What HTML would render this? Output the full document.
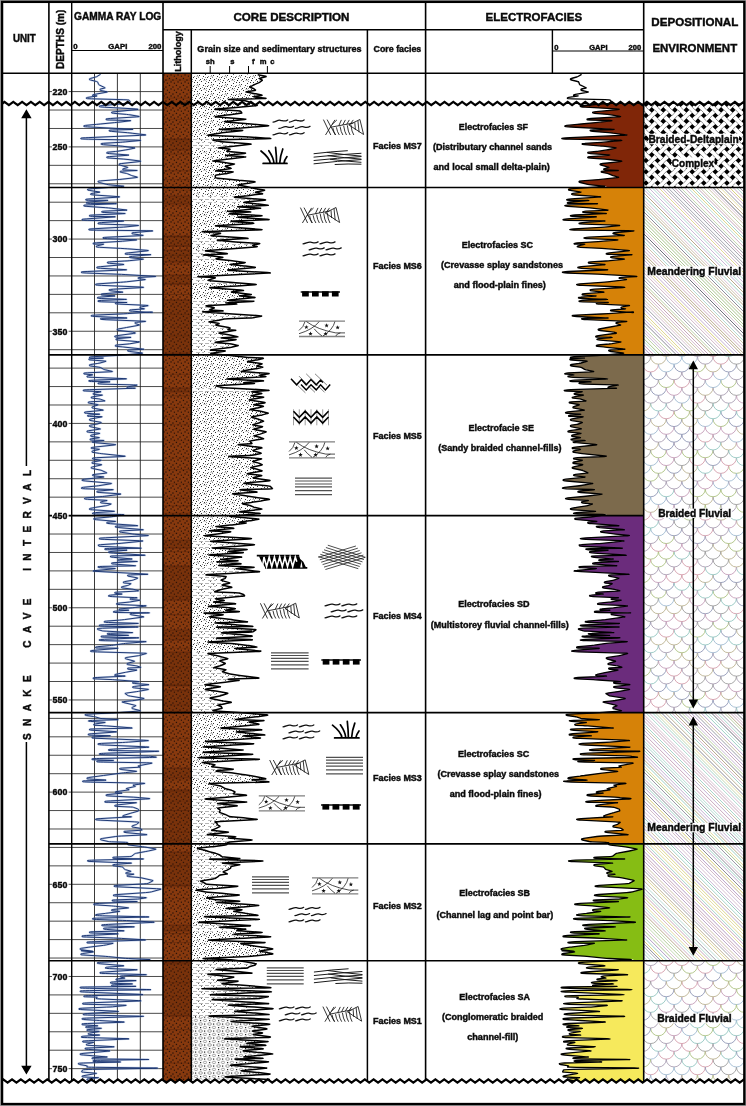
<!DOCTYPE html><html><head><meta charset="utf-8"><title>Snake Cave Interval log</title>
<style>html,body{margin:0;padding:0;background:#fff}svg{display:block}text{font-family:"Liberation Sans",Arial,sans-serif;font-weight:bold;fill:#0a0a0a;stroke:#0a0a0a;stroke-width:0.42px}</style></head><body>
<svg width="746" height="1106" viewBox="0 0 746 1106">
<defs>
<pattern id="stip" width="14" height="9" patternUnits="userSpaceOnUse"><rect width="14" height="9" fill="#fff"/><rect x="1" y="1" width="1" height="1" fill="#303030"/><rect x="5" y="0" width="1" height="1" fill="#303030"/><rect x="9" y="2" width="1" height="1" fill="#303030"/><rect x="12" y="1" width="1" height="1" fill="#303030"/><rect x="3" y="3" width="1" height="1" fill="#303030"/><rect x="7" y="4" width="1" height="1" fill="#303030"/><rect x="11" y="5" width="1" height="1" fill="#303030"/><rect x="0" y="6" width="1" height="1" fill="#303030"/><rect x="4" y="7" width="1" height="1" fill="#303030"/><rect x="8" y="7" width="1" height="1" fill="#303030"/><rect x="13" y="8" width="1" height="1" fill="#303030"/><rect x="2" y="5" width="1" height="1" fill="#8c8c8c"/><rect x="10" y="0" width="1" height="1" fill="#8c8c8c"/><rect x="6" y="6" width="1" height="1" fill="#8c8c8c"/><rect x="12" y="4" width="1" height="1" fill="#8c8c8c"/><rect x="3" y="8" width="1" height="1" fill="#8c8c8c"/><rect x="9" y="5" width="1" height="1" fill="#8c8c8c"/><rect x="1" y="3" width="1" height="1" fill="#8c8c8c"/><rect x="10" y="7" width="1" height="1" fill="#8c8c8c"/><rect x="0" y="4" width="3" height="1" fill="#cfcfcf"/><rect x="7" y="8" width="3" height="1" fill="#cfcfcf"/></pattern>
<pattern id="shale" width="12" height="6" patternUnits="userSpaceOnUse"><rect width="12" height="6" fill="#fff"/><rect x="1" y="1" width="4" height="1" fill="#b4b4b4"/><rect x="7" y="1" width="4" height="1" fill="#b4b4b4"/><rect x="4" y="4" width="4" height="1" fill="#bdbdbd"/><rect x="10" y="4" width="4" height="1" fill="#bdbdbd"/><rect x="0" y="3" width="1" height="1" fill="#666"/><rect x="6" y="5" width="1" height="1" fill="#666"/><rect x="9" y="2" width="1" height="1" fill="#666"/></pattern>
<pattern id="congl" width="9" height="7" patternUnits="userSpaceOnUse"><rect width="9" height="7" fill="#fbfbfb"/><ellipse cx="2.6" cy="2" rx="1.9" ry="1.3" fill="none" stroke="#666" stroke-width="0.6"/><rect x="6" y="1.5" width="1.2" height="1.2" fill="#222"/><ellipse cx="7" cy="5.4" rx="1.7" ry="1.2" fill="none" stroke="#777" stroke-width="0.6"/><rect x="2" y="5" width="1.2" height="1.2" fill="#222"/></pattern>
<pattern id="lith" width="7" height="7" patternUnits="userSpaceOnUse"><rect width="7" height="7" fill="#87390e"/><rect x="0.8" y="0.8" width="1.3" height="1.3" fill="#2a1208"/><rect x="4.3" y="2.4" width="1.3" height="1.3" fill="#2a1208"/><rect x="2.4" y="4.3" width="1.3" height="1.3" fill="#2a1208"/><rect x="5.8" y="5.6" width="1.2" height="1.2" fill="#2a1208"/></pattern>
</defs>
<rect x="0" y="0" width="746" height="1106" fill="#fff"/>
<rect x="0.5" y="0.5" width="745" height="1105" fill="none" stroke="#9a9a9a" stroke-width="1"/>
<clipPath id="cw"><rect x="643.70" y="103.50" width="100.60" height="84.00"/></clipPath>
<g clip-path="url(#cw)"><path d="M637.31 93.04 L640.19 90.22 M640.19 95.86 L643.07 93.04 M637.31 104.28 L640.19 101.46 M640.19 107.10 L643.07 104.28 M643.09 98.66 L645.97 101.48 M645.97 95.84 L648.85 98.66 M648.87 93.04 L651.75 90.22 M651.75 95.86 L654.63 93.04 M637.31 115.52 L640.19 112.70 M640.19 118.34 L643.07 115.52 M643.09 109.90 L645.97 112.72 M645.97 107.08 L648.85 109.90 M648.87 104.28 L651.75 101.46 M651.75 107.10 L654.63 104.28 M654.65 98.66 L657.53 101.48 M657.53 95.84 L660.41 98.66 M660.43 93.04 L663.31 90.22 M663.31 95.86 L666.19 93.04 M637.31 126.76 L640.19 123.94 M640.19 129.58 L643.07 126.76 M643.09 121.14 L645.97 123.96 M645.97 118.32 L648.85 121.14 M648.87 115.52 L651.75 112.70 M651.75 118.34 L654.63 115.52 M654.65 109.90 L657.53 112.72 M657.53 107.08 L660.41 109.90 M660.43 104.28 L663.31 101.46 M663.31 107.10 L666.19 104.28 M666.21 98.66 L669.09 101.48 M669.09 95.84 L671.97 98.66 M671.99 93.04 L674.87 90.22 M674.87 95.86 L677.75 93.04 M637.31 138.00 L640.19 135.18 M640.19 140.82 L643.07 138.00 M643.09 132.38 L645.97 135.20 M645.97 129.56 L648.85 132.38 M648.87 126.76 L651.75 123.94 M651.75 129.58 L654.63 126.76 M654.65 121.14 L657.53 123.96 M657.53 118.32 L660.41 121.14 M660.43 115.52 L663.31 112.70 M663.31 118.34 L666.19 115.52 M666.21 109.90 L669.09 112.72 M669.09 107.08 L671.97 109.90 M671.99 104.28 L674.87 101.46 M674.87 107.10 L677.75 104.28 M677.77 98.66 L680.65 101.48 M680.65 95.84 L683.53 98.66 M683.55 93.04 L686.43 90.22 M686.43 95.86 L689.31 93.04 M637.31 149.24 L640.19 146.42 M640.19 152.06 L643.07 149.24 M643.09 143.62 L645.97 146.44 M645.97 140.80 L648.85 143.62 M648.87 138.00 L651.75 135.18 M651.75 140.82 L654.63 138.00 M654.65 132.38 L657.53 135.20 M657.53 129.56 L660.41 132.38 M660.43 126.76 L663.31 123.94 M663.31 129.58 L666.19 126.76 M666.21 121.14 L669.09 123.96 M669.09 118.32 L671.97 121.14 M671.99 115.52 L674.87 112.70 M674.87 118.34 L677.75 115.52 M677.77 109.90 L680.65 112.72 M680.65 107.08 L683.53 109.90 M683.55 104.28 L686.43 101.46 M686.43 107.10 L689.31 104.28 M689.33 98.66 L692.21 101.48 M692.21 95.84 L695.09 98.66 M695.11 93.04 L697.99 90.22 M697.99 95.86 L700.87 93.04 M637.31 160.48 L640.19 157.66 M640.19 163.30 L643.07 160.48 M643.09 154.86 L645.97 157.68 M645.97 152.04 L648.85 154.86 M648.87 149.24 L651.75 146.42 M651.75 152.06 L654.63 149.24 M654.65 143.62 L657.53 146.44 M657.53 140.80 L660.41 143.62 M660.43 138.00 L663.31 135.18 M663.31 140.82 L666.19 138.00 M666.21 132.38 L669.09 135.20 M669.09 129.56 L671.97 132.38 M671.99 126.76 L674.87 123.94 M674.87 129.58 L677.75 126.76 M677.77 121.14 L680.65 123.96 M680.65 118.32 L683.53 121.14 M683.55 115.52 L686.43 112.70 M686.43 118.34 L689.31 115.52 M689.33 109.90 L692.21 112.72 M692.21 107.08 L695.09 109.90 M695.11 104.28 L697.99 101.46 M697.99 107.10 L700.87 104.28 M700.89 98.66 L703.77 101.48 M703.77 95.84 L706.65 98.66 M706.67 93.04 L709.55 90.22 M709.55 95.86 L712.43 93.04 M637.31 171.72 L640.19 168.90 M640.19 174.54 L643.07 171.72 M643.09 166.10 L645.97 168.92 M645.97 163.28 L648.85 166.10 M648.87 160.48 L651.75 157.66 M651.75 163.30 L654.63 160.48 M654.65 154.86 L657.53 157.68 M657.53 152.04 L660.41 154.86 M660.43 149.24 L663.31 146.42 M663.31 152.06 L666.19 149.24 M666.21 143.62 L669.09 146.44 M669.09 140.80 L671.97 143.62 M671.99 138.00 L674.87 135.18 M674.87 140.82 L677.75 138.00 M677.77 132.38 L680.65 135.20 M680.65 129.56 L683.53 132.38 M683.55 126.76 L686.43 123.94 M686.43 129.58 L689.31 126.76 M689.33 121.14 L692.21 123.96 M692.21 118.32 L695.09 121.14 M695.11 115.52 L697.99 112.70 M697.99 118.34 L700.87 115.52 M700.89 109.90 L703.77 112.72 M703.77 107.08 L706.65 109.90 M706.67 104.28 L709.55 101.46 M709.55 107.10 L712.43 104.28 M712.45 98.66 L715.33 101.48 M715.33 95.84 L718.21 98.66 M718.23 93.04 L721.11 90.22 M721.11 95.86 L723.99 93.04 M637.31 182.96 L640.19 180.14 M640.19 185.78 L643.07 182.96 M643.09 177.34 L645.97 180.16 M645.97 174.52 L648.85 177.34 M648.87 171.72 L651.75 168.90 M651.75 174.54 L654.63 171.72 M654.65 166.10 L657.53 168.92 M657.53 163.28 L660.41 166.10 M660.43 160.48 L663.31 157.66 M663.31 163.30 L666.19 160.48 M666.21 154.86 L669.09 157.68 M669.09 152.04 L671.97 154.86 M671.99 149.24 L674.87 146.42 M674.87 152.06 L677.75 149.24 M677.77 143.62 L680.65 146.44 M680.65 140.80 L683.53 143.62 M683.55 138.00 L686.43 135.18 M686.43 140.82 L689.31 138.00 M689.33 132.38 L692.21 135.20 M692.21 129.56 L695.09 132.38 M695.11 126.76 L697.99 123.94 M697.99 129.58 L700.87 126.76 M700.89 121.14 L703.77 123.96 M703.77 118.32 L706.65 121.14 M706.67 115.52 L709.55 112.70 M709.55 118.34 L712.43 115.52 M712.45 109.90 L715.33 112.72 M715.33 107.08 L718.21 109.90 M718.23 104.28 L721.11 101.46 M721.11 107.10 L723.99 104.28 M724.01 98.66 L726.89 101.48 M726.89 95.84 L729.77 98.66 M729.79 93.04 L732.67 90.22 M732.67 95.86 L735.55 93.04 M637.31 194.20 L640.19 191.38 M640.19 197.02 L643.07 194.20 M643.09 188.58 L645.97 191.40 M645.97 185.76 L648.85 188.58 M648.87 182.96 L651.75 180.14 M651.75 185.78 L654.63 182.96 M654.65 177.34 L657.53 180.16 M657.53 174.52 L660.41 177.34 M660.43 171.72 L663.31 168.90 M663.31 174.54 L666.19 171.72 M666.21 166.10 L669.09 168.92 M669.09 163.28 L671.97 166.10 M671.99 160.48 L674.87 157.66 M674.87 163.30 L677.75 160.48 M677.77 154.86 L680.65 157.68 M680.65 152.04 L683.53 154.86 M683.55 149.24 L686.43 146.42 M686.43 152.06 L689.31 149.24 M689.33 143.62 L692.21 146.44 M692.21 140.80 L695.09 143.62 M695.11 138.00 L697.99 135.18 M697.99 140.82 L700.87 138.00 M700.89 132.38 L703.77 135.20 M703.77 129.56 L706.65 132.38 M706.67 126.76 L709.55 123.94 M709.55 129.58 L712.43 126.76 M712.45 121.14 L715.33 123.96 M715.33 118.32 L718.21 121.14 M718.23 115.52 L721.11 112.70 M721.11 118.34 L723.99 115.52 M724.01 109.90 L726.89 112.72 M726.89 107.08 L729.77 109.90 M729.79 104.28 L732.67 101.46 M732.67 107.10 L735.55 104.28 M735.57 98.66 L738.45 101.48 M738.45 95.84 L741.33 98.66 M741.35 93.04 L744.23 90.22 M744.23 95.86 L747.11 93.04 M643.09 199.82 L645.97 202.64 M645.97 197.00 L648.85 199.82 M648.87 194.20 L651.75 191.38 M651.75 197.02 L654.63 194.20 M654.65 188.58 L657.53 191.40 M657.53 185.76 L660.41 188.58 M660.43 182.96 L663.31 180.14 M663.31 185.78 L666.19 182.96 M666.21 177.34 L669.09 180.16 M669.09 174.52 L671.97 177.34 M671.99 171.72 L674.87 168.90 M674.87 174.54 L677.75 171.72 M677.77 166.10 L680.65 168.92 M680.65 163.28 L683.53 166.10 M683.55 160.48 L686.43 157.66 M686.43 163.30 L689.31 160.48 M689.33 154.86 L692.21 157.68 M692.21 152.04 L695.09 154.86 M695.11 149.24 L697.99 146.42 M697.99 152.06 L700.87 149.24 M700.89 143.62 L703.77 146.44 M703.77 140.80 L706.65 143.62 M706.67 138.00 L709.55 135.18 M709.55 140.82 L712.43 138.00 M712.45 132.38 L715.33 135.20 M715.33 129.56 L718.21 132.38 M718.23 126.76 L721.11 123.94 M721.11 129.58 L723.99 126.76 M724.01 121.14 L726.89 123.96 M726.89 118.32 L729.77 121.14 M729.79 115.52 L732.67 112.70 M732.67 118.34 L735.55 115.52 M735.57 109.90 L738.45 112.72 M738.45 107.08 L741.33 109.90 M741.35 104.28 L744.23 101.46 M744.23 107.10 L747.11 104.28 M747.13 98.66 L750.01 101.48 M750.01 95.84 L752.89 98.66 M752.91 93.04 L755.79 90.22 M755.79 95.86 L758.67 93.04 M654.65 199.82 L657.53 202.64 M657.53 197.00 L660.41 199.82 M660.43 194.20 L663.31 191.38 M663.31 197.02 L666.19 194.20 M666.21 188.58 L669.09 191.40 M669.09 185.76 L671.97 188.58 M671.99 182.96 L674.87 180.14 M674.87 185.78 L677.75 182.96 M677.77 177.34 L680.65 180.16 M680.65 174.52 L683.53 177.34 M683.55 171.72 L686.43 168.90 M686.43 174.54 L689.31 171.72 M689.33 166.10 L692.21 168.92 M692.21 163.28 L695.09 166.10 M695.11 160.48 L697.99 157.66 M697.99 163.30 L700.87 160.48 M700.89 154.86 L703.77 157.68 M703.77 152.04 L706.65 154.86 M706.67 149.24 L709.55 146.42 M709.55 152.06 L712.43 149.24 M712.45 143.62 L715.33 146.44 M715.33 140.80 L718.21 143.62 M718.23 138.00 L721.11 135.18 M721.11 140.82 L723.99 138.00 M724.01 132.38 L726.89 135.20 M726.89 129.56 L729.77 132.38 M729.79 126.76 L732.67 123.94 M732.67 129.58 L735.55 126.76 M735.57 121.14 L738.45 123.96 M738.45 118.32 L741.33 121.14 M741.35 115.52 L744.23 112.70 M744.23 118.34 L747.11 115.52 M747.13 109.90 L750.01 112.72 M750.01 107.08 L752.89 109.90 M752.91 104.28 L755.79 101.46 M755.79 107.10 L758.67 104.28 M666.21 199.82 L669.09 202.64 M669.09 197.00 L671.97 199.82 M671.99 194.20 L674.87 191.38 M674.87 197.02 L677.75 194.20 M677.77 188.58 L680.65 191.40 M680.65 185.76 L683.53 188.58 M683.55 182.96 L686.43 180.14 M686.43 185.78 L689.31 182.96 M689.33 177.34 L692.21 180.16 M692.21 174.52 L695.09 177.34 M695.11 171.72 L697.99 168.90 M697.99 174.54 L700.87 171.72 M700.89 166.10 L703.77 168.92 M703.77 163.28 L706.65 166.10 M706.67 160.48 L709.55 157.66 M709.55 163.30 L712.43 160.48 M712.45 154.86 L715.33 157.68 M715.33 152.04 L718.21 154.86 M718.23 149.24 L721.11 146.42 M721.11 152.06 L723.99 149.24 M724.01 143.62 L726.89 146.44 M726.89 140.80 L729.77 143.62 M729.79 138.00 L732.67 135.18 M732.67 140.82 L735.55 138.00 M735.57 132.38 L738.45 135.20 M738.45 129.56 L741.33 132.38 M741.35 126.76 L744.23 123.94 M744.23 129.58 L747.11 126.76 M747.13 121.14 L750.01 123.96 M750.01 118.32 L752.89 121.14 M752.91 115.52 L755.79 112.70 M755.79 118.34 L758.67 115.52 M677.77 199.82 L680.65 202.64 M680.65 197.00 L683.53 199.82 M683.55 194.20 L686.43 191.38 M686.43 197.02 L689.31 194.20 M689.33 188.58 L692.21 191.40 M692.21 185.76 L695.09 188.58 M695.11 182.96 L697.99 180.14 M697.99 185.78 L700.87 182.96 M700.89 177.34 L703.77 180.16 M703.77 174.52 L706.65 177.34 M706.67 171.72 L709.55 168.90 M709.55 174.54 L712.43 171.72 M712.45 166.10 L715.33 168.92 M715.33 163.28 L718.21 166.10 M718.23 160.48 L721.11 157.66 M721.11 163.30 L723.99 160.48 M724.01 154.86 L726.89 157.68 M726.89 152.04 L729.77 154.86 M729.79 149.24 L732.67 146.42 M732.67 152.06 L735.55 149.24 M735.57 143.62 L738.45 146.44 M738.45 140.80 L741.33 143.62 M741.35 138.00 L744.23 135.18 M744.23 140.82 L747.11 138.00 M747.13 132.38 L750.01 135.20 M750.01 129.56 L752.89 132.38 M752.91 126.76 L755.79 123.94 M755.79 129.58 L758.67 126.76 M689.33 199.82 L692.21 202.64 M692.21 197.00 L695.09 199.82 M695.11 194.20 L697.99 191.38 M697.99 197.02 L700.87 194.20 M700.89 188.58 L703.77 191.40 M703.77 185.76 L706.65 188.58 M706.67 182.96 L709.55 180.14 M709.55 185.78 L712.43 182.96 M712.45 177.34 L715.33 180.16 M715.33 174.52 L718.21 177.34 M718.23 171.72 L721.11 168.90 M721.11 174.54 L723.99 171.72 M724.01 166.10 L726.89 168.92 M726.89 163.28 L729.77 166.10 M729.79 160.48 L732.67 157.66 M732.67 163.30 L735.55 160.48 M735.57 154.86 L738.45 157.68 M738.45 152.04 L741.33 154.86 M741.35 149.24 L744.23 146.42 M744.23 152.06 L747.11 149.24 M747.13 143.62 L750.01 146.44 M750.01 140.80 L752.89 143.62 M752.91 138.00 L755.79 135.18 M755.79 140.82 L758.67 138.00 M700.89 199.82 L703.77 202.64 M703.77 197.00 L706.65 199.82 M706.67 194.20 L709.55 191.38 M709.55 197.02 L712.43 194.20 M712.45 188.58 L715.33 191.40 M715.33 185.76 L718.21 188.58 M718.23 182.96 L721.11 180.14 M721.11 185.78 L723.99 182.96 M724.01 177.34 L726.89 180.16 M726.89 174.52 L729.77 177.34 M729.79 171.72 L732.67 168.90 M732.67 174.54 L735.55 171.72 M735.57 166.10 L738.45 168.92 M738.45 163.28 L741.33 166.10 M741.35 160.48 L744.23 157.66 M744.23 163.30 L747.11 160.48 M747.13 154.86 L750.01 157.68 M750.01 152.04 L752.89 154.86 M752.91 149.24 L755.79 146.42 M755.79 152.06 L758.67 149.24 M712.45 199.82 L715.33 202.64 M715.33 197.00 L718.21 199.82 M718.23 194.20 L721.11 191.38 M721.11 197.02 L723.99 194.20 M724.01 188.58 L726.89 191.40 M726.89 185.76 L729.77 188.58 M729.79 182.96 L732.67 180.14 M732.67 185.78 L735.55 182.96 M735.57 177.34 L738.45 180.16 M738.45 174.52 L741.33 177.34 M741.35 171.72 L744.23 168.90 M744.23 174.54 L747.11 171.72 M747.13 166.10 L750.01 168.92 M750.01 163.28 L752.89 166.10 M752.91 160.48 L755.79 157.66 M755.79 163.30 L758.67 160.48 M724.01 199.82 L726.89 202.64 M726.89 197.00 L729.77 199.82 M729.79 194.20 L732.67 191.38 M732.67 197.02 L735.55 194.20 M735.57 188.58 L738.45 191.40 M738.45 185.76 L741.33 188.58 M741.35 182.96 L744.23 180.14 M744.23 185.78 L747.11 182.96 M747.13 177.34 L750.01 180.16 M750.01 174.52 L752.89 177.34 M752.91 171.72 L755.79 168.90 M755.79 174.54 L758.67 171.72 M735.57 199.82 L738.45 202.64 M738.45 197.00 L741.33 199.82 M741.35 194.20 L744.23 191.38 M744.23 197.02 L747.11 194.20 M747.13 188.58 L750.01 191.40 M750.01 185.76 L752.89 188.58 M752.91 182.96 L755.79 180.14 M755.79 185.78 L758.67 182.96 M747.13 199.82 L750.01 202.64 M750.01 197.00 L752.89 199.82 M752.91 194.20 L755.79 191.38 M755.79 197.02 L758.67 194.20" stroke="#444" stroke-width="0.6" fill="none"/><path d="M631.51 93.04 L634.41 90.24 L637.31 93.04 L634.41 95.84Z M631.51 104.28 L634.41 101.48 L637.31 104.28 L634.41 107.08Z M637.29 98.66 L640.19 95.86 L643.09 98.66 L640.19 101.46Z M643.07 93.04 L645.97 90.24 L648.87 93.04 L645.97 95.84Z M631.51 115.52 L634.41 112.72 L637.31 115.52 L634.41 118.32Z M637.29 109.90 L640.19 107.10 L643.09 109.90 L640.19 112.70Z M643.07 104.28 L645.97 101.48 L648.87 104.28 L645.97 107.08Z M648.85 98.66 L651.75 95.86 L654.65 98.66 L651.75 101.46Z M654.63 93.04 L657.53 90.24 L660.43 93.04 L657.53 95.84Z M631.51 126.76 L634.41 123.96 L637.31 126.76 L634.41 129.56Z M637.29 121.14 L640.19 118.34 L643.09 121.14 L640.19 123.94Z M643.07 115.52 L645.97 112.72 L648.87 115.52 L645.97 118.32Z M648.85 109.90 L651.75 107.10 L654.65 109.90 L651.75 112.70Z M654.63 104.28 L657.53 101.48 L660.43 104.28 L657.53 107.08Z M660.41 98.66 L663.31 95.86 L666.21 98.66 L663.31 101.46Z M666.19 93.04 L669.09 90.24 L671.99 93.04 L669.09 95.84Z M631.51 138.00 L634.41 135.20 L637.31 138.00 L634.41 140.80Z M637.29 132.38 L640.19 129.58 L643.09 132.38 L640.19 135.18Z M643.07 126.76 L645.97 123.96 L648.87 126.76 L645.97 129.56Z M648.85 121.14 L651.75 118.34 L654.65 121.14 L651.75 123.94Z M654.63 115.52 L657.53 112.72 L660.43 115.52 L657.53 118.32Z M660.41 109.90 L663.31 107.10 L666.21 109.90 L663.31 112.70Z M666.19 104.28 L669.09 101.48 L671.99 104.28 L669.09 107.08Z M671.97 98.66 L674.87 95.86 L677.77 98.66 L674.87 101.46Z M677.75 93.04 L680.65 90.24 L683.55 93.04 L680.65 95.84Z M631.51 149.24 L634.41 146.44 L637.31 149.24 L634.41 152.04Z M637.29 143.62 L640.19 140.82 L643.09 143.62 L640.19 146.42Z M643.07 138.00 L645.97 135.20 L648.87 138.00 L645.97 140.80Z M648.85 132.38 L651.75 129.58 L654.65 132.38 L651.75 135.18Z M654.63 126.76 L657.53 123.96 L660.43 126.76 L657.53 129.56Z M660.41 121.14 L663.31 118.34 L666.21 121.14 L663.31 123.94Z M666.19 115.52 L669.09 112.72 L671.99 115.52 L669.09 118.32Z M671.97 109.90 L674.87 107.10 L677.77 109.90 L674.87 112.70Z M677.75 104.28 L680.65 101.48 L683.55 104.28 L680.65 107.08Z M683.53 98.66 L686.43 95.86 L689.33 98.66 L686.43 101.46Z M689.31 93.04 L692.21 90.24 L695.11 93.04 L692.21 95.84Z M631.51 160.48 L634.41 157.68 L637.31 160.48 L634.41 163.28Z M637.29 154.86 L640.19 152.06 L643.09 154.86 L640.19 157.66Z M643.07 149.24 L645.97 146.44 L648.87 149.24 L645.97 152.04Z M648.85 143.62 L651.75 140.82 L654.65 143.62 L651.75 146.42Z M654.63 138.00 L657.53 135.20 L660.43 138.00 L657.53 140.80Z M660.41 132.38 L663.31 129.58 L666.21 132.38 L663.31 135.18Z M666.19 126.76 L669.09 123.96 L671.99 126.76 L669.09 129.56Z M671.97 121.14 L674.87 118.34 L677.77 121.14 L674.87 123.94Z M677.75 115.52 L680.65 112.72 L683.55 115.52 L680.65 118.32Z M683.53 109.90 L686.43 107.10 L689.33 109.90 L686.43 112.70Z M689.31 104.28 L692.21 101.48 L695.11 104.28 L692.21 107.08Z M695.09 98.66 L697.99 95.86 L700.89 98.66 L697.99 101.46Z M700.87 93.04 L703.77 90.24 L706.67 93.04 L703.77 95.84Z M631.51 171.72 L634.41 168.92 L637.31 171.72 L634.41 174.52Z M637.29 166.10 L640.19 163.30 L643.09 166.10 L640.19 168.90Z M643.07 160.48 L645.97 157.68 L648.87 160.48 L645.97 163.28Z M648.85 154.86 L651.75 152.06 L654.65 154.86 L651.75 157.66Z M654.63 149.24 L657.53 146.44 L660.43 149.24 L657.53 152.04Z M660.41 143.62 L663.31 140.82 L666.21 143.62 L663.31 146.42Z M666.19 138.00 L669.09 135.20 L671.99 138.00 L669.09 140.80Z M671.97 132.38 L674.87 129.58 L677.77 132.38 L674.87 135.18Z M677.75 126.76 L680.65 123.96 L683.55 126.76 L680.65 129.56Z M683.53 121.14 L686.43 118.34 L689.33 121.14 L686.43 123.94Z M689.31 115.52 L692.21 112.72 L695.11 115.52 L692.21 118.32Z M695.09 109.90 L697.99 107.10 L700.89 109.90 L697.99 112.70Z M700.87 104.28 L703.77 101.48 L706.67 104.28 L703.77 107.08Z M706.65 98.66 L709.55 95.86 L712.45 98.66 L709.55 101.46Z M712.43 93.04 L715.33 90.24 L718.23 93.04 L715.33 95.84Z M631.51 182.96 L634.41 180.16 L637.31 182.96 L634.41 185.76Z M637.29 177.34 L640.19 174.54 L643.09 177.34 L640.19 180.14Z M643.07 171.72 L645.97 168.92 L648.87 171.72 L645.97 174.52Z M648.85 166.10 L651.75 163.30 L654.65 166.10 L651.75 168.90Z M654.63 160.48 L657.53 157.68 L660.43 160.48 L657.53 163.28Z M660.41 154.86 L663.31 152.06 L666.21 154.86 L663.31 157.66Z M666.19 149.24 L669.09 146.44 L671.99 149.24 L669.09 152.04Z M671.97 143.62 L674.87 140.82 L677.77 143.62 L674.87 146.42Z M677.75 138.00 L680.65 135.20 L683.55 138.00 L680.65 140.80Z M683.53 132.38 L686.43 129.58 L689.33 132.38 L686.43 135.18Z M689.31 126.76 L692.21 123.96 L695.11 126.76 L692.21 129.56Z M695.09 121.14 L697.99 118.34 L700.89 121.14 L697.99 123.94Z M700.87 115.52 L703.77 112.72 L706.67 115.52 L703.77 118.32Z M706.65 109.90 L709.55 107.10 L712.45 109.90 L709.55 112.70Z M712.43 104.28 L715.33 101.48 L718.23 104.28 L715.33 107.08Z M718.21 98.66 L721.11 95.86 L724.01 98.66 L721.11 101.46Z M723.99 93.04 L726.89 90.24 L729.79 93.04 L726.89 95.84Z M631.51 194.20 L634.41 191.40 L637.31 194.20 L634.41 197.00Z M637.29 188.58 L640.19 185.78 L643.09 188.58 L640.19 191.38Z M643.07 182.96 L645.97 180.16 L648.87 182.96 L645.97 185.76Z M648.85 177.34 L651.75 174.54 L654.65 177.34 L651.75 180.14Z M654.63 171.72 L657.53 168.92 L660.43 171.72 L657.53 174.52Z M660.41 166.10 L663.31 163.30 L666.21 166.10 L663.31 168.90Z M666.19 160.48 L669.09 157.68 L671.99 160.48 L669.09 163.28Z M671.97 154.86 L674.87 152.06 L677.77 154.86 L674.87 157.66Z M677.75 149.24 L680.65 146.44 L683.55 149.24 L680.65 152.04Z M683.53 143.62 L686.43 140.82 L689.33 143.62 L686.43 146.42Z M689.31 138.00 L692.21 135.20 L695.11 138.00 L692.21 140.80Z M695.09 132.38 L697.99 129.58 L700.89 132.38 L697.99 135.18Z M700.87 126.76 L703.77 123.96 L706.67 126.76 L703.77 129.56Z M706.65 121.14 L709.55 118.34 L712.45 121.14 L709.55 123.94Z M712.43 115.52 L715.33 112.72 L718.23 115.52 L715.33 118.32Z M718.21 109.90 L721.11 107.10 L724.01 109.90 L721.11 112.70Z M723.99 104.28 L726.89 101.48 L729.79 104.28 L726.89 107.08Z M729.77 98.66 L732.67 95.86 L735.57 98.66 L732.67 101.46Z M735.55 93.04 L738.45 90.24 L741.35 93.04 L738.45 95.84Z M637.29 199.82 L640.19 197.02 L643.09 199.82 L640.19 202.62Z M643.07 194.20 L645.97 191.40 L648.87 194.20 L645.97 197.00Z M648.85 188.58 L651.75 185.78 L654.65 188.58 L651.75 191.38Z M654.63 182.96 L657.53 180.16 L660.43 182.96 L657.53 185.76Z M660.41 177.34 L663.31 174.54 L666.21 177.34 L663.31 180.14Z M666.19 171.72 L669.09 168.92 L671.99 171.72 L669.09 174.52Z M671.97 166.10 L674.87 163.30 L677.77 166.10 L674.87 168.90Z M677.75 160.48 L680.65 157.68 L683.55 160.48 L680.65 163.28Z M683.53 154.86 L686.43 152.06 L689.33 154.86 L686.43 157.66Z M689.31 149.24 L692.21 146.44 L695.11 149.24 L692.21 152.04Z M695.09 143.62 L697.99 140.82 L700.89 143.62 L697.99 146.42Z M700.87 138.00 L703.77 135.20 L706.67 138.00 L703.77 140.80Z M706.65 132.38 L709.55 129.58 L712.45 132.38 L709.55 135.18Z M712.43 126.76 L715.33 123.96 L718.23 126.76 L715.33 129.56Z M718.21 121.14 L721.11 118.34 L724.01 121.14 L721.11 123.94Z M723.99 115.52 L726.89 112.72 L729.79 115.52 L726.89 118.32Z M729.77 109.90 L732.67 107.10 L735.57 109.90 L732.67 112.70Z M735.55 104.28 L738.45 101.48 L741.35 104.28 L738.45 107.08Z M741.33 98.66 L744.23 95.86 L747.13 98.66 L744.23 101.46Z M747.11 93.04 L750.01 90.24 L752.91 93.04 L750.01 95.84Z M648.85 199.82 L651.75 197.02 L654.65 199.82 L651.75 202.62Z M654.63 194.20 L657.53 191.40 L660.43 194.20 L657.53 197.00Z M660.41 188.58 L663.31 185.78 L666.21 188.58 L663.31 191.38Z M666.19 182.96 L669.09 180.16 L671.99 182.96 L669.09 185.76Z M671.97 177.34 L674.87 174.54 L677.77 177.34 L674.87 180.14Z M677.75 171.72 L680.65 168.92 L683.55 171.72 L680.65 174.52Z M683.53 166.10 L686.43 163.30 L689.33 166.10 L686.43 168.90Z M689.31 160.48 L692.21 157.68 L695.11 160.48 L692.21 163.28Z M695.09 154.86 L697.99 152.06 L700.89 154.86 L697.99 157.66Z M700.87 149.24 L703.77 146.44 L706.67 149.24 L703.77 152.04Z M706.65 143.62 L709.55 140.82 L712.45 143.62 L709.55 146.42Z M712.43 138.00 L715.33 135.20 L718.23 138.00 L715.33 140.80Z M718.21 132.38 L721.11 129.58 L724.01 132.38 L721.11 135.18Z M723.99 126.76 L726.89 123.96 L729.79 126.76 L726.89 129.56Z M729.77 121.14 L732.67 118.34 L735.57 121.14 L732.67 123.94Z M735.55 115.52 L738.45 112.72 L741.35 115.52 L738.45 118.32Z M741.33 109.90 L744.23 107.10 L747.13 109.90 L744.23 112.70Z M747.11 104.28 L750.01 101.48 L752.91 104.28 L750.01 107.08Z M660.41 199.82 L663.31 197.02 L666.21 199.82 L663.31 202.62Z M666.19 194.20 L669.09 191.40 L671.99 194.20 L669.09 197.00Z M671.97 188.58 L674.87 185.78 L677.77 188.58 L674.87 191.38Z M677.75 182.96 L680.65 180.16 L683.55 182.96 L680.65 185.76Z M683.53 177.34 L686.43 174.54 L689.33 177.34 L686.43 180.14Z M689.31 171.72 L692.21 168.92 L695.11 171.72 L692.21 174.52Z M695.09 166.10 L697.99 163.30 L700.89 166.10 L697.99 168.90Z M700.87 160.48 L703.77 157.68 L706.67 160.48 L703.77 163.28Z M706.65 154.86 L709.55 152.06 L712.45 154.86 L709.55 157.66Z M712.43 149.24 L715.33 146.44 L718.23 149.24 L715.33 152.04Z M718.21 143.62 L721.11 140.82 L724.01 143.62 L721.11 146.42Z M723.99 138.00 L726.89 135.20 L729.79 138.00 L726.89 140.80Z M729.77 132.38 L732.67 129.58 L735.57 132.38 L732.67 135.18Z M735.55 126.76 L738.45 123.96 L741.35 126.76 L738.45 129.56Z M741.33 121.14 L744.23 118.34 L747.13 121.14 L744.23 123.94Z M747.11 115.52 L750.01 112.72 L752.91 115.52 L750.01 118.32Z M671.97 199.82 L674.87 197.02 L677.77 199.82 L674.87 202.62Z M677.75 194.20 L680.65 191.40 L683.55 194.20 L680.65 197.00Z M683.53 188.58 L686.43 185.78 L689.33 188.58 L686.43 191.38Z M689.31 182.96 L692.21 180.16 L695.11 182.96 L692.21 185.76Z M695.09 177.34 L697.99 174.54 L700.89 177.34 L697.99 180.14Z M700.87 171.72 L703.77 168.92 L706.67 171.72 L703.77 174.52Z M706.65 166.10 L709.55 163.30 L712.45 166.10 L709.55 168.90Z M712.43 160.48 L715.33 157.68 L718.23 160.48 L715.33 163.28Z M718.21 154.86 L721.11 152.06 L724.01 154.86 L721.11 157.66Z M723.99 149.24 L726.89 146.44 L729.79 149.24 L726.89 152.04Z M729.77 143.62 L732.67 140.82 L735.57 143.62 L732.67 146.42Z M735.55 138.00 L738.45 135.20 L741.35 138.00 L738.45 140.80Z M741.33 132.38 L744.23 129.58 L747.13 132.38 L744.23 135.18Z M747.11 126.76 L750.01 123.96 L752.91 126.76 L750.01 129.56Z M683.53 199.82 L686.43 197.02 L689.33 199.82 L686.43 202.62Z M689.31 194.20 L692.21 191.40 L695.11 194.20 L692.21 197.00Z M695.09 188.58 L697.99 185.78 L700.89 188.58 L697.99 191.38Z M700.87 182.96 L703.77 180.16 L706.67 182.96 L703.77 185.76Z M706.65 177.34 L709.55 174.54 L712.45 177.34 L709.55 180.14Z M712.43 171.72 L715.33 168.92 L718.23 171.72 L715.33 174.52Z M718.21 166.10 L721.11 163.30 L724.01 166.10 L721.11 168.90Z M723.99 160.48 L726.89 157.68 L729.79 160.48 L726.89 163.28Z M729.77 154.86 L732.67 152.06 L735.57 154.86 L732.67 157.66Z M735.55 149.24 L738.45 146.44 L741.35 149.24 L738.45 152.04Z M741.33 143.62 L744.23 140.82 L747.13 143.62 L744.23 146.42Z M747.11 138.00 L750.01 135.20 L752.91 138.00 L750.01 140.80Z M695.09 199.82 L697.99 197.02 L700.89 199.82 L697.99 202.62Z M700.87 194.20 L703.77 191.40 L706.67 194.20 L703.77 197.00Z M706.65 188.58 L709.55 185.78 L712.45 188.58 L709.55 191.38Z M712.43 182.96 L715.33 180.16 L718.23 182.96 L715.33 185.76Z M718.21 177.34 L721.11 174.54 L724.01 177.34 L721.11 180.14Z M723.99 171.72 L726.89 168.92 L729.79 171.72 L726.89 174.52Z M729.77 166.10 L732.67 163.30 L735.57 166.10 L732.67 168.90Z M735.55 160.48 L738.45 157.68 L741.35 160.48 L738.45 163.28Z M741.33 154.86 L744.23 152.06 L747.13 154.86 L744.23 157.66Z M747.11 149.24 L750.01 146.44 L752.91 149.24 L750.01 152.04Z M706.65 199.82 L709.55 197.02 L712.45 199.82 L709.55 202.62Z M712.43 194.20 L715.33 191.40 L718.23 194.20 L715.33 197.00Z M718.21 188.58 L721.11 185.78 L724.01 188.58 L721.11 191.38Z M723.99 182.96 L726.89 180.16 L729.79 182.96 L726.89 185.76Z M729.77 177.34 L732.67 174.54 L735.57 177.34 L732.67 180.14Z M735.55 171.72 L738.45 168.92 L741.35 171.72 L738.45 174.52Z M741.33 166.10 L744.23 163.30 L747.13 166.10 L744.23 168.90Z M747.11 160.48 L750.01 157.68 L752.91 160.48 L750.01 163.28Z M718.21 199.82 L721.11 197.02 L724.01 199.82 L721.11 202.62Z M723.99 194.20 L726.89 191.40 L729.79 194.20 L726.89 197.00Z M729.77 188.58 L732.67 185.78 L735.57 188.58 L732.67 191.38Z M735.55 182.96 L738.45 180.16 L741.35 182.96 L738.45 185.76Z M741.33 177.34 L744.23 174.54 L747.13 177.34 L744.23 180.14Z M747.11 171.72 L750.01 168.92 L752.91 171.72 L750.01 174.52Z M729.77 199.82 L732.67 197.02 L735.57 199.82 L732.67 202.62Z M735.55 194.20 L738.45 191.40 L741.35 194.20 L738.45 197.00Z M741.33 188.58 L744.23 185.78 L747.13 188.58 L744.23 191.38Z M747.11 182.96 L750.01 180.16 L752.91 182.96 L750.01 185.76Z M741.33 199.82 L744.23 197.02 L747.13 199.82 L744.23 202.62Z M747.11 194.20 L750.01 191.40 L752.91 194.20 L750.01 197.00Z" fill="#000"/></g>
<clipPath id="cd1"><rect x="643.70" y="187.50" width="100.60" height="167.40"/></clipPath><g clip-path="url(#cd1)"><path d="M476.30 187.50 l167.40 167.40 M564.70 187.50 l167.40 167.40 M729.60 187.50 l167.40 167.40" stroke="#d8cf7a" stroke-width="1" fill="none"/><path d="M480.00 187.50 l167.40 167.40 M512.30 187.50 l167.40 167.40 M567.90 187.50 l167.40 167.40 M571.60 187.50 l167.40 167.40 M641.90 187.50 l167.40 167.40" stroke="#b39cc4" stroke-width="0.8" fill="none"/><path d="M483.20 187.50 l167.40 167.40" stroke="#b39cc4" stroke-width="1" fill="none"/><path d="M486.40 187.50 l167.40 167.40 M541.50 187.50 l167.40 167.40 M674.30 187.50 l167.40 167.40 M696.90 187.50 l167.40 167.40" stroke="#c7a6bb" stroke-width="1" fill="none"/><path d="M489.80 187.50 l167.40 167.40 M687.70 187.50 l167.40 167.40" stroke="#9ccfc3" stroke-width="0.7" fill="none"/><path d="M492.70 187.50 l167.40 167.40 M609.90 187.50 l167.40 167.40 M613.10 187.50 l167.40 167.40" stroke="#a9c48c" stroke-width="1" fill="none"/><path d="M496.40 187.50 l167.40 167.40 M548.10 187.50 l167.40 167.40 M603.60 187.50 l167.40 167.40" stroke="#a9c48c" stroke-width="0.8" fill="none"/><path d="M499.30 187.50 l167.40 167.40 M522.30 187.50 l167.40 167.40 M648.50 187.50 l167.40 167.40" stroke="#b39cc4" stroke-width="0.7" fill="none"/><path d="M502.20 187.50 l167.40 167.40 M538.30 187.50 l167.40 167.40 M558.60 187.50 l167.40 167.40 M584.30 187.50 l167.40 167.40 M661.40 187.50 l167.40 167.40 M726.70 187.50 l167.40 167.40" stroke="#c7a6bb" stroke-width="0.8" fill="none"/><path d="M505.40 187.50 l167.40 167.40 M680.60 187.50 l167.40 167.40 M703.50 187.50 l167.40 167.40" stroke="#a9c48c" stroke-width="0.7" fill="none"/><path d="M509.10 187.50 l167.40 167.40 M739.60 187.50 l167.40 167.40" stroke="#8a8a96" stroke-width="1" fill="none"/><path d="M515.70 187.50 l167.40 167.40 M720.10 187.50 l167.40 167.40" stroke="#d8cf7a" stroke-width="0.7" fill="none"/><path d="M518.60 187.50 l167.40 167.40 M690.60 187.50 l167.40 167.40" stroke="#d8cf7a" stroke-width="0.9" fill="none"/><path d="M525.70 187.50 l167.40 167.40 M664.80 187.50 l167.40 167.40 M667.70 187.50 l167.40 167.40 M671.40 187.50 l167.40 167.40" stroke="#8a8a96" stroke-width="0.8" fill="none"/><path d="M529.10 187.50 l167.40 167.40 M561.80 187.50 l167.40 167.40 M600.40 187.50 l167.40 167.40 M631.70 187.50 l167.40 167.40 M710.10 187.50 l167.40 167.40" stroke="#c7a6bb" stroke-width="0.7" fill="none"/><path d="M532.00 187.50 l167.40 167.40 M535.40 187.50 l167.40 167.40 M587.50 187.50 l167.40 167.40 M628.80 187.50 l167.40 167.40 M699.80 187.50 l167.40 167.40 M707.20 187.50 l167.40 167.40" stroke="#b8a98a" stroke-width="0.7" fill="none"/><path d="M545.20 187.50 l167.40 167.40 M574.80 187.50 l167.40 167.40 M577.70 187.50 l167.40 167.40 M625.90 187.50 l167.40 167.40 M638.50 187.50 l167.40 167.40 M716.40 187.50 l167.40 167.40" stroke="#b8a98a" stroke-width="1" fill="none"/><path d="M551.50 187.50 l167.40 167.40 M554.90 187.50 l167.40 167.40" stroke="#8a8a96" stroke-width="0.7" fill="none"/><path d="M580.90 187.50 l167.40 167.40 M654.80 187.50 l167.40 167.40 M684.30 187.50 l167.40 167.40 M733.00 187.50 l167.40 167.40" stroke="#c7a6bb" stroke-width="0.9" fill="none"/><path d="M590.40 187.50 l167.40 167.40 M622.70 187.50 l167.40 167.40 M644.80 187.50 l167.40 167.40 M651.90 187.50 l167.40 167.40 M736.40 187.50 l167.40 167.40" stroke="#9ccfc3" stroke-width="0.8" fill="none"/><path d="M594.10 187.50 l167.40 167.40 M677.70 187.50 l167.40 167.40 M723.00 187.50 l167.40 167.40" stroke="#6e6e7c" stroke-width="0.7" fill="none"/><path d="M597.50 187.50 l167.40 167.40 M713.00 187.50 l167.40 167.40" stroke="#6e6e7c" stroke-width="1" fill="none"/><path d="M606.50 187.50 l167.40 167.40" stroke="#a9c48c" stroke-width="0.9" fill="none"/><path d="M616.30 187.50 l167.40 167.40" stroke="#b8a98a" stroke-width="0.8" fill="none"/><path d="M619.50 187.50 l167.40 167.40" stroke="#6e6e7c" stroke-width="0.8" fill="none"/><path d="M635.10 187.50 l167.40 167.40" stroke="#9ccfc3" stroke-width="1" fill="none"/><path d="M658.50 187.50 l167.40 167.40" stroke="#d8cf7a" stroke-width="0.8" fill="none"/><path d="M693.50 187.50 l167.40 167.40 M743.30 187.50 l167.40 167.40" stroke="#9ccfc3" stroke-width="0.9" fill="none"/></g>
<clipPath id="cd2"><rect x="643.70" y="712.65" width="100.60" height="248.10"/></clipPath><g clip-path="url(#cd2)"><path d="M395.60 712.65 l248.10 248.10 M412.80 712.65 l248.10 248.10 M575.10 712.65 l248.10 248.10" stroke="#6e6e7c" stroke-width="0.8" fill="none"/><path d="M399.30 712.65 l248.10 248.10 M406.20 712.65 l248.10 248.10 M465.00 712.65 l248.10 248.10 M613.00 712.65 l248.10 248.10 M615.90 712.65 l248.10 248.10 M645.80 712.65 l248.10 248.10" stroke="#9ccfc3" stroke-width="0.8" fill="none"/><path d="M403.00 712.65 l248.10 248.10 M514.80 712.65 l248.10 248.10 M534.90 712.65 l248.10 248.10 M606.60 712.65 l248.10 248.10 M632.60 712.65 l248.10 248.10 M652.20 712.65 l248.10 248.10 M668.60 712.65 l248.10 248.10 M716.90 712.65 l248.10 248.10" stroke="#9ccfc3" stroke-width="0.9" fill="none"/><path d="M409.90 712.65 l248.10 248.10" stroke="#8a8a96" stroke-width="0.7" fill="none"/><path d="M415.70 712.65 l248.10 248.10 M562.40 712.65 l248.10 248.10" stroke="#d8cf7a" stroke-width="1" fill="none"/><path d="M419.10 712.65 l248.10 248.10 M538.60 712.65 l248.10 248.10 M572.20 712.65 l248.10 248.10 M594.10 712.65 l248.10 248.10 M704.50 712.65 l248.10 248.10" stroke="#9ccfc3" stroke-width="1" fill="none"/><path d="M422.80 712.65 l248.10 248.10 M505.30 712.65 l248.10 248.10 M555.50 712.65 l248.10 248.10" stroke="#b39cc4" stroke-width="1" fill="none"/><path d="M426.20 712.65 l248.10 248.10 M587.80 712.65 l248.10 248.10" stroke="#a9c48c" stroke-width="1" fill="none"/><path d="M429.60 712.65 l248.10 248.10 M545.20 712.65 l248.10 248.10 M642.10 712.65 l248.10 248.10 M733.00 712.65 l248.10 248.10" stroke="#c7a6bb" stroke-width="0.7" fill="none"/><path d="M433.00 712.65 l248.10 248.10 M439.80 712.65 l248.10 248.10 M655.10 712.65 l248.10 248.10" stroke="#a9c48c" stroke-width="0.7" fill="none"/><path d="M436.40 712.65 l248.10 248.10" stroke="#a9c48c" stroke-width="0.9" fill="none"/><path d="M443.00 712.65 l248.10 248.10 M597.00 712.65 l248.10 248.10 M674.70 712.65 l248.10 248.10 M726.90 712.65 l248.10 248.10" stroke="#b8a98a" stroke-width="1" fill="none"/><path d="M446.20 712.65 l248.10 248.10 M499.00 712.65 l248.10 248.10 M619.10 712.65 l248.10 248.10 M636.00 712.65 l248.10 248.10 M714.00 712.65 l248.10 248.10" stroke="#c7a6bb" stroke-width="0.9" fill="none"/><path d="M449.40 712.65 l248.10 248.10 M472.10 712.65 l248.10 248.10 M581.20 712.65 l248.10 248.10 M707.70 712.65 l248.10 248.10" stroke="#9ccfc3" stroke-width="0.7" fill="none"/><path d="M452.30 712.65 l248.10 248.10 M508.70 712.65 l248.10 248.10 M521.70 712.65 l248.10 248.10 M590.70 712.65 l248.10 248.10 M658.30 712.65 l248.10 248.10" stroke="#d8cf7a" stroke-width="0.7" fill="none"/><path d="M455.70 712.65 l248.10 248.10 M489.00 712.65 l248.10 248.10 M552.60 712.65 l248.10 248.10 M578.00 712.65 l248.10 248.10 M649.00 712.65 l248.10 248.10 M671.50 712.65 l248.10 248.10" stroke="#c7a6bb" stroke-width="0.8" fill="none"/><path d="M458.90 712.65 l248.10 248.10 M524.90 712.65 l248.10 248.10" stroke="#d8cf7a" stroke-width="0.9" fill="none"/><path d="M462.10 712.65 l248.10 248.10 M501.90 712.65 l248.10 248.10 M511.90 712.65 l248.10 248.10 M622.80 712.65 l248.10 248.10 M639.20 712.65 l248.10 248.10 M687.60 712.65 l248.10 248.10 M730.10 712.65 l248.10 248.10" stroke="#c7a6bb" stroke-width="1" fill="none"/><path d="M468.40 712.65 l248.10 248.10 M486.10 712.65 l248.10 248.10 M720.30 712.65 l248.10 248.10" stroke="#8a8a96" stroke-width="0.8" fill="none"/><path d="M475.80 712.65 l248.10 248.10 M531.50 712.65 l248.10 248.10 M697.40 712.65 l248.10 248.10" stroke="#b8a98a" stroke-width="0.8" fill="none"/><path d="M479.50 712.65 l248.10 248.10 M518.00 712.65 l248.10 248.10" stroke="#d8cf7a" stroke-width="0.8" fill="none"/><path d="M482.40 712.65 l248.10 248.10 M559.20 712.65 l248.10 248.10 M664.90 712.65 l248.10 248.10" stroke="#b8a98a" stroke-width="0.9" fill="none"/><path d="M492.20 712.65 l248.10 248.10 M629.70 712.65 l248.10 248.10 M743.10 712.65 l248.10 248.10" stroke="#b8a98a" stroke-width="0.7" fill="none"/><path d="M495.60 712.65 l248.10 248.10 M528.10 712.65 l248.10 248.10 M569.30 712.65 l248.10 248.10 M690.80 712.65 l248.10 248.10 M700.80 712.65 l248.10 248.10" stroke="#b39cc4" stroke-width="0.9" fill="none"/><path d="M541.50 712.65 l248.10 248.10 M548.90 712.65 l248.10 248.10 M684.20 712.65 l248.10 248.10 M739.90 712.65 l248.10 248.10" stroke="#b39cc4" stroke-width="0.7" fill="none"/><path d="M565.60 712.65 l248.10 248.10 M661.20 712.65 l248.10 248.10 M678.10 712.65 l248.10 248.10" stroke="#8a8a96" stroke-width="1" fill="none"/><path d="M584.60 712.65 l248.10 248.10 M609.80 712.65 l248.10 248.10" stroke="#8a8a96" stroke-width="0.9" fill="none"/><path d="M600.20 712.65 l248.10 248.10 M603.40 712.65 l248.10 248.10 M626.50 712.65 l248.10 248.10" stroke="#b39cc4" stroke-width="0.8" fill="none"/><path d="M681.30 712.65 l248.10 248.10 M724.00 712.65 l248.10 248.10" stroke="#a9c48c" stroke-width="0.8" fill="none"/><path d="M694.20 712.65 l248.10 248.10" stroke="#6e6e7c" stroke-width="0.7" fill="none"/><path d="M711.10 712.65 l248.10 248.10 M736.20 712.65 l248.10 248.10" stroke="#6e6e7c" stroke-width="1" fill="none"/></g>
<clipPath id="cf1"><rect x="643.70" y="354.90" width="100.60" height="357.75"/></clipPath><g clip-path="url(#cf1)"><path d="M603.85 340.80 A7.80 7.80 0 0 0 619.45 340.80 M619.45 340.80 A7.80 7.80 0 0 0 635.05 340.80 M635.05 340.80 A7.80 7.80 0 0 0 650.65 340.80 M611.65 364.20 A7.80 7.80 0 0 0 627.25 364.20 M674.05 364.20 A7.80 7.80 0 0 0 689.65 364.20 M720.85 364.20 A7.80 7.80 0 0 0 736.45 364.20 M603.85 372.00 A7.80 7.80 0 0 0 619.45 372.00 M635.05 372.00 A7.80 7.80 0 0 0 650.65 372.00 M650.65 372.00 A7.80 7.80 0 0 0 666.25 372.00 M650.65 387.60 A7.80 7.80 0 0 0 666.25 387.60 M627.25 411.00 A7.80 7.80 0 0 0 642.85 411.00 M720.85 411.00 A7.80 7.80 0 0 0 736.45 411.00 M666.25 418.80 A7.80 7.80 0 0 0 681.85 418.80 M728.65 418.80 A7.80 7.80 0 0 0 744.25 418.80 M744.25 418.80 A7.80 7.80 0 0 0 759.85 418.80 M674.05 426.60 A7.80 7.80 0 0 0 689.65 426.60 M666.25 434.40 A7.80 7.80 0 0 0 681.85 434.40 M681.85 434.40 A7.80 7.80 0 0 0 697.45 434.40 M658.45 442.20 A7.80 7.80 0 0 0 674.05 442.20 M705.25 457.80 A7.80 7.80 0 0 0 720.85 457.80 M666.25 465.60 A7.80 7.80 0 0 0 681.85 465.60 M635.05 481.20 A7.80 7.80 0 0 0 650.65 481.20 M681.85 481.20 A7.80 7.80 0 0 0 697.45 481.20 M744.25 481.20 A7.80 7.80 0 0 0 759.85 481.20 M642.85 489.00 A7.80 7.80 0 0 0 658.45 489.00 M666.25 496.80 A7.80 7.80 0 0 0 681.85 496.80 M713.05 496.80 A7.80 7.80 0 0 0 728.65 496.80 M689.65 520.20 A7.80 7.80 0 0 0 705.25 520.20 M666.25 528.00 A7.80 7.80 0 0 0 681.85 528.00 M611.65 535.80 A7.80 7.80 0 0 0 627.25 535.80 M689.65 535.80 A7.80 7.80 0 0 0 705.25 535.80 M713.05 574.80 A7.80 7.80 0 0 0 728.65 574.80 M728.65 574.80 A7.80 7.80 0 0 0 744.25 574.80 M627.25 582.60 A7.80 7.80 0 0 0 642.85 582.60 M658.45 582.60 A7.80 7.80 0 0 0 674.05 582.60 M736.45 598.20 A7.80 7.80 0 0 0 752.05 598.20 M635.05 606.00 A7.80 7.80 0 0 0 650.65 606.00 M697.45 606.00 A7.80 7.80 0 0 0 713.05 606.00 M635.05 621.60 A7.80 7.80 0 0 0 650.65 621.60 M720.85 629.40 A7.80 7.80 0 0 0 736.45 629.40 M635.05 637.20 A7.80 7.80 0 0 0 650.65 637.20 M689.65 645.00 A7.80 7.80 0 0 0 705.25 645.00 M697.45 652.80 A7.80 7.80 0 0 0 713.05 652.80 M619.45 668.40 A7.80 7.80 0 0 0 635.05 668.40 M650.65 668.40 A7.80 7.80 0 0 0 666.25 668.40 M713.05 668.40 A7.80 7.80 0 0 0 728.65 668.40 M650.65 684.00 A7.80 7.80 0 0 0 666.25 684.00 M627.25 691.80 A7.80 7.80 0 0 0 642.85 691.80 M674.05 691.80 A7.80 7.80 0 0 0 689.65 691.80 M603.85 699.60 A7.80 7.80 0 0 0 619.45 699.60 M697.45 699.60 A7.80 7.80 0 0 0 713.05 699.60 M713.05 699.60 A7.80 7.80 0 0 0 728.65 699.60" stroke="#8c93b3" stroke-width="0.85" fill="none"/><path d="M650.65 340.80 A7.80 7.80 0 0 0 666.25 340.80 M689.65 364.20 A7.80 7.80 0 0 0 705.25 364.20 M658.45 379.80 A7.80 7.80 0 0 0 674.05 379.80 M720.85 379.80 A7.80 7.80 0 0 0 736.45 379.80 M619.45 403.20 A7.80 7.80 0 0 0 635.05 403.20 M681.85 403.20 A7.80 7.80 0 0 0 697.45 403.20 M674.05 411.00 A7.80 7.80 0 0 0 689.65 411.00 M713.05 418.80 A7.80 7.80 0 0 0 728.65 418.80 M603.85 450.00 A7.80 7.80 0 0 0 619.45 450.00 M650.65 450.00 A7.80 7.80 0 0 0 666.25 450.00 M681.85 450.00 A7.80 7.80 0 0 0 697.45 450.00 M697.45 450.00 A7.80 7.80 0 0 0 713.05 450.00 M603.85 465.60 A7.80 7.80 0 0 0 619.45 465.60 M650.65 465.60 A7.80 7.80 0 0 0 666.25 465.60 M728.65 465.60 A7.80 7.80 0 0 0 744.25 465.60 M642.85 473.40 A7.80 7.80 0 0 0 658.45 473.40 M627.25 489.00 A7.80 7.80 0 0 0 642.85 489.00 M689.65 489.00 A7.80 7.80 0 0 0 705.25 489.00 M705.25 489.00 A7.80 7.80 0 0 0 720.85 489.00 M720.85 489.00 A7.80 7.80 0 0 0 736.45 489.00 M603.85 496.80 A7.80 7.80 0 0 0 619.45 496.80 M744.25 496.80 A7.80 7.80 0 0 0 759.85 496.80 M689.65 504.60 A7.80 7.80 0 0 0 705.25 504.60 M705.25 504.60 A7.80 7.80 0 0 0 720.85 504.60 M736.45 504.60 A7.80 7.80 0 0 0 752.05 504.60 M681.85 512.40 A7.80 7.80 0 0 0 697.45 512.40 M658.45 535.80 A7.80 7.80 0 0 0 674.05 535.80 M720.85 535.80 A7.80 7.80 0 0 0 736.45 535.80 M728.65 543.60 A7.80 7.80 0 0 0 744.25 543.60 M627.25 551.40 A7.80 7.80 0 0 0 642.85 551.40 M642.85 551.40 A7.80 7.80 0 0 0 658.45 551.40 M658.45 551.40 A7.80 7.80 0 0 0 674.05 551.40 M650.65 559.20 A7.80 7.80 0 0 0 666.25 559.20 M627.25 567.00 A7.80 7.80 0 0 0 642.85 567.00 M635.05 574.80 A7.80 7.80 0 0 0 650.65 574.80 M650.65 590.40 A7.80 7.80 0 0 0 666.25 590.40 M713.05 590.40 A7.80 7.80 0 0 0 728.65 590.40 M744.25 606.00 A7.80 7.80 0 0 0 759.85 606.00 M713.05 621.60 A7.80 7.80 0 0 0 728.65 621.60 M689.65 629.40 A7.80 7.80 0 0 0 705.25 629.40 M674.05 645.00 A7.80 7.80 0 0 0 689.65 645.00 M635.05 668.40 A7.80 7.80 0 0 0 650.65 668.40 M611.65 676.20 A7.80 7.80 0 0 0 627.25 676.20 M689.65 691.80 A7.80 7.80 0 0 0 705.25 691.80 M681.85 699.60 A7.80 7.80 0 0 0 697.45 699.60 M611.65 707.40 A7.80 7.80 0 0 0 627.25 707.40" stroke="#a9bf7c" stroke-width="0.85" fill="none"/><path d="M666.25 340.80 A7.80 7.80 0 0 0 681.85 340.80 M681.85 340.80 A7.80 7.80 0 0 0 697.45 340.80 M697.45 340.80 A7.80 7.80 0 0 0 713.05 340.80 M728.65 340.80 A7.80 7.80 0 0 0 744.25 340.80 M658.45 348.60 A7.80 7.80 0 0 0 674.05 348.60 M650.65 356.40 A7.80 7.80 0 0 0 666.25 356.40 M627.25 364.20 A7.80 7.80 0 0 0 642.85 364.20 M705.25 364.20 A7.80 7.80 0 0 0 720.85 364.20 M619.45 372.00 A7.80 7.80 0 0 0 635.05 372.00 M697.45 387.60 A7.80 7.80 0 0 0 713.05 387.60 M635.05 403.20 A7.80 7.80 0 0 0 650.65 403.20 M689.65 411.00 A7.80 7.80 0 0 0 705.25 411.00 M650.65 418.80 A7.80 7.80 0 0 0 666.25 418.80 M681.85 418.80 A7.80 7.80 0 0 0 697.45 418.80 M736.45 426.60 A7.80 7.80 0 0 0 752.05 426.60 M642.85 442.20 A7.80 7.80 0 0 0 658.45 442.20 M720.85 442.20 A7.80 7.80 0 0 0 736.45 442.20 M681.85 465.60 A7.80 7.80 0 0 0 697.45 465.60 M674.05 473.40 A7.80 7.80 0 0 0 689.65 473.40 M697.45 496.80 A7.80 7.80 0 0 0 713.05 496.80 M642.85 504.60 A7.80 7.80 0 0 0 658.45 504.60 M713.05 512.40 A7.80 7.80 0 0 0 728.65 512.40 M736.45 520.20 A7.80 7.80 0 0 0 752.05 520.20 M619.45 528.00 A7.80 7.80 0 0 0 635.05 528.00 M744.25 528.00 A7.80 7.80 0 0 0 759.85 528.00 M627.25 535.80 A7.80 7.80 0 0 0 642.85 535.80 M713.05 543.60 A7.80 7.80 0 0 0 728.65 543.60 M720.85 551.40 A7.80 7.80 0 0 0 736.45 551.40 M728.65 559.20 A7.80 7.80 0 0 0 744.25 559.20 M611.65 567.00 A7.80 7.80 0 0 0 627.25 567.00 M697.45 574.80 A7.80 7.80 0 0 0 713.05 574.80 M674.05 598.20 A7.80 7.80 0 0 0 689.65 598.20 M650.65 606.00 A7.80 7.80 0 0 0 666.25 606.00 M666.25 606.00 A7.80 7.80 0 0 0 681.85 606.00 M611.65 613.80 A7.80 7.80 0 0 0 627.25 613.80 M603.85 621.60 A7.80 7.80 0 0 0 619.45 621.60 M619.45 621.60 A7.80 7.80 0 0 0 635.05 621.60 M736.45 629.40 A7.80 7.80 0 0 0 752.05 629.40 M650.65 637.20 A7.80 7.80 0 0 0 666.25 637.20 M666.25 637.20 A7.80 7.80 0 0 0 681.85 637.20 M720.85 645.00 A7.80 7.80 0 0 0 736.45 645.00 M666.25 652.80 A7.80 7.80 0 0 0 681.85 652.80 M681.85 652.80 A7.80 7.80 0 0 0 697.45 652.80 M689.65 660.60 A7.80 7.80 0 0 0 705.25 660.60 M720.85 660.60 A7.80 7.80 0 0 0 736.45 660.60 M697.45 668.40 A7.80 7.80 0 0 0 713.05 668.40 M658.45 691.80 A7.80 7.80 0 0 0 674.05 691.80 M720.85 691.80 A7.80 7.80 0 0 0 736.45 691.80" stroke="#b9b08c" stroke-width="0.85" fill="none"/><path d="M713.05 340.80 A7.80 7.80 0 0 0 728.65 340.80 M705.25 348.60 A7.80 7.80 0 0 0 720.85 348.60 M736.45 348.60 A7.80 7.80 0 0 0 752.05 348.60 M713.05 356.40 A7.80 7.80 0 0 0 728.65 356.40 M744.25 356.40 A7.80 7.80 0 0 0 759.85 356.40 M642.85 364.20 A7.80 7.80 0 0 0 658.45 364.20 M611.65 379.80 A7.80 7.80 0 0 0 627.25 379.80 M627.25 379.80 A7.80 7.80 0 0 0 642.85 379.80 M674.05 379.80 A7.80 7.80 0 0 0 689.65 379.80 M619.45 387.60 A7.80 7.80 0 0 0 635.05 387.60 M689.65 395.40 A7.80 7.80 0 0 0 705.25 395.40 M728.65 403.20 A7.80 7.80 0 0 0 744.25 403.20 M658.45 411.00 A7.80 7.80 0 0 0 674.05 411.00 M697.45 434.40 A7.80 7.80 0 0 0 713.05 434.40 M689.65 457.80 A7.80 7.80 0 0 0 705.25 457.80 M720.85 457.80 A7.80 7.80 0 0 0 736.45 457.80 M713.05 465.60 A7.80 7.80 0 0 0 728.65 465.60 M705.25 473.40 A7.80 7.80 0 0 0 720.85 473.40 M627.25 504.60 A7.80 7.80 0 0 0 642.85 504.60 M603.85 512.40 A7.80 7.80 0 0 0 619.45 512.40 M635.05 512.40 A7.80 7.80 0 0 0 650.65 512.40 M697.45 512.40 A7.80 7.80 0 0 0 713.05 512.40 M697.45 528.00 A7.80 7.80 0 0 0 713.05 528.00 M650.65 543.60 A7.80 7.80 0 0 0 666.25 543.60 M611.65 551.40 A7.80 7.80 0 0 0 627.25 551.40 M635.05 559.20 A7.80 7.80 0 0 0 650.65 559.20 M681.85 559.20 A7.80 7.80 0 0 0 697.45 559.20 M674.05 567.00 A7.80 7.80 0 0 0 689.65 567.00 M689.65 567.00 A7.80 7.80 0 0 0 705.25 567.00 M603.85 574.80 A7.80 7.80 0 0 0 619.45 574.80 M666.25 574.80 A7.80 7.80 0 0 0 681.85 574.80 M681.85 574.80 A7.80 7.80 0 0 0 697.45 574.80 M603.85 606.00 A7.80 7.80 0 0 0 619.45 606.00 M728.65 606.00 A7.80 7.80 0 0 0 744.25 606.00 M674.05 613.80 A7.80 7.80 0 0 0 689.65 613.80 M736.45 613.80 A7.80 7.80 0 0 0 752.05 613.80 M611.65 629.40 A7.80 7.80 0 0 0 627.25 629.40 M658.45 629.40 A7.80 7.80 0 0 0 674.05 629.40 M744.25 652.80 A7.80 7.80 0 0 0 759.85 652.80 M705.25 660.60 A7.80 7.80 0 0 0 720.85 660.60 M666.25 668.40 A7.80 7.80 0 0 0 681.85 668.40 M674.05 676.20 A7.80 7.80 0 0 0 689.65 676.20 M603.85 684.00 A7.80 7.80 0 0 0 619.45 684.00 M642.85 691.80 A7.80 7.80 0 0 0 658.45 691.80 M705.25 691.80 A7.80 7.80 0 0 0 720.85 691.80 M650.65 699.60 A7.80 7.80 0 0 0 666.25 699.60 M642.85 707.40 A7.80 7.80 0 0 0 658.45 707.40" stroke="#d39aa8" stroke-width="0.85" fill="none"/><path d="M744.25 340.80 A7.80 7.80 0 0 0 759.85 340.80 M674.05 348.60 A7.80 7.80 0 0 0 689.65 348.60 M666.25 356.40 A7.80 7.80 0 0 0 681.85 356.40 M681.85 356.40 A7.80 7.80 0 0 0 697.45 356.40 M658.45 364.20 A7.80 7.80 0 0 0 674.05 364.20 M713.05 372.00 A7.80 7.80 0 0 0 728.65 372.00 M705.25 379.80 A7.80 7.80 0 0 0 720.85 379.80 M627.25 395.40 A7.80 7.80 0 0 0 642.85 395.40 M674.05 395.40 A7.80 7.80 0 0 0 689.65 395.40 M611.65 411.00 A7.80 7.80 0 0 0 627.25 411.00 M642.85 411.00 A7.80 7.80 0 0 0 658.45 411.00 M697.45 418.80 A7.80 7.80 0 0 0 713.05 418.80 M611.65 426.60 A7.80 7.80 0 0 0 627.25 426.60 M627.25 426.60 A7.80 7.80 0 0 0 642.85 426.60 M642.85 426.60 A7.80 7.80 0 0 0 658.45 426.60 M728.65 434.40 A7.80 7.80 0 0 0 744.25 434.40 M642.85 457.80 A7.80 7.80 0 0 0 658.45 457.80 M635.05 465.60 A7.80 7.80 0 0 0 650.65 465.60 M744.25 465.60 A7.80 7.80 0 0 0 759.85 465.60 M720.85 473.40 A7.80 7.80 0 0 0 736.45 473.40 M736.45 473.40 A7.80 7.80 0 0 0 752.05 473.40 M713.05 481.20 A7.80 7.80 0 0 0 728.65 481.20 M635.05 496.80 A7.80 7.80 0 0 0 650.65 496.80 M650.65 496.80 A7.80 7.80 0 0 0 666.25 496.80 M619.45 512.40 A7.80 7.80 0 0 0 635.05 512.40 M666.25 512.40 A7.80 7.80 0 0 0 681.85 512.40 M744.25 512.40 A7.80 7.80 0 0 0 759.85 512.40 M611.65 520.20 A7.80 7.80 0 0 0 627.25 520.20 M650.65 528.00 A7.80 7.80 0 0 0 666.25 528.00 M728.65 528.00 A7.80 7.80 0 0 0 744.25 528.00 M603.85 559.20 A7.80 7.80 0 0 0 619.45 559.20 M603.85 590.40 A7.80 7.80 0 0 0 619.45 590.40 M744.25 590.40 A7.80 7.80 0 0 0 759.85 590.40 M627.25 598.20 A7.80 7.80 0 0 0 642.85 598.20 M658.45 598.20 A7.80 7.80 0 0 0 674.05 598.20 M627.25 629.40 A7.80 7.80 0 0 0 642.85 629.40 M619.45 637.20 A7.80 7.80 0 0 0 635.05 637.20 M713.05 637.20 A7.80 7.80 0 0 0 728.65 637.20 M705.25 645.00 A7.80 7.80 0 0 0 720.85 645.00 M650.65 652.80 A7.80 7.80 0 0 0 666.25 652.80 M666.25 684.00 A7.80 7.80 0 0 0 681.85 684.00 M744.25 684.00 A7.80 7.80 0 0 0 759.85 684.00 M728.65 699.60 A7.80 7.80 0 0 0 744.25 699.60 M705.25 707.40 A7.80 7.80 0 0 0 720.85 707.40" stroke="#9db8d0" stroke-width="0.85" fill="none"/><path d="M611.65 348.60 A7.80 7.80 0 0 0 627.25 348.60 M642.85 348.60 A7.80 7.80 0 0 0 658.45 348.60 M689.65 348.60 A7.80 7.80 0 0 0 705.25 348.60 M697.45 356.40 A7.80 7.80 0 0 0 713.05 356.40 M666.25 372.00 A7.80 7.80 0 0 0 681.85 372.00 M681.85 372.00 A7.80 7.80 0 0 0 697.45 372.00 M728.65 372.00 A7.80 7.80 0 0 0 744.25 372.00 M642.85 379.80 A7.80 7.80 0 0 0 658.45 379.80 M689.65 379.80 A7.80 7.80 0 0 0 705.25 379.80 M736.45 379.80 A7.80 7.80 0 0 0 752.05 379.80 M681.85 387.60 A7.80 7.80 0 0 0 697.45 387.60 M713.05 387.60 A7.80 7.80 0 0 0 728.65 387.60 M642.85 395.40 A7.80 7.80 0 0 0 658.45 395.40 M658.45 395.40 A7.80 7.80 0 0 0 674.05 395.40 M720.85 395.40 A7.80 7.80 0 0 0 736.45 395.40 M603.85 403.20 A7.80 7.80 0 0 0 619.45 403.20 M666.25 403.20 A7.80 7.80 0 0 0 681.85 403.20 M635.05 418.80 A7.80 7.80 0 0 0 650.65 418.80 M619.45 434.40 A7.80 7.80 0 0 0 635.05 434.40 M635.05 434.40 A7.80 7.80 0 0 0 650.65 434.40 M650.65 434.40 A7.80 7.80 0 0 0 666.25 434.40 M713.05 434.40 A7.80 7.80 0 0 0 728.65 434.40 M744.25 434.40 A7.80 7.80 0 0 0 759.85 434.40 M611.65 442.20 A7.80 7.80 0 0 0 627.25 442.20 M674.05 442.20 A7.80 7.80 0 0 0 689.65 442.20 M689.65 442.20 A7.80 7.80 0 0 0 705.25 442.20 M744.25 450.00 A7.80 7.80 0 0 0 759.85 450.00 M611.65 457.80 A7.80 7.80 0 0 0 627.25 457.80 M611.65 473.40 A7.80 7.80 0 0 0 627.25 473.40 M658.45 473.40 A7.80 7.80 0 0 0 674.05 473.40 M689.65 473.40 A7.80 7.80 0 0 0 705.25 473.40 M650.65 481.20 A7.80 7.80 0 0 0 666.25 481.20 M666.25 481.20 A7.80 7.80 0 0 0 681.85 481.20 M728.65 481.20 A7.80 7.80 0 0 0 744.25 481.20 M736.45 489.00 A7.80 7.80 0 0 0 752.05 489.00 M674.05 504.60 A7.80 7.80 0 0 0 689.65 504.60 M720.85 504.60 A7.80 7.80 0 0 0 736.45 504.60 M658.45 520.20 A7.80 7.80 0 0 0 674.05 520.20 M705.25 520.20 A7.80 7.80 0 0 0 720.85 520.20 M603.85 528.00 A7.80 7.80 0 0 0 619.45 528.00 M681.85 528.00 A7.80 7.80 0 0 0 697.45 528.00 M713.05 528.00 A7.80 7.80 0 0 0 728.65 528.00 M642.85 535.80 A7.80 7.80 0 0 0 658.45 535.80 M674.05 535.80 A7.80 7.80 0 0 0 689.65 535.80 M705.25 535.80 A7.80 7.80 0 0 0 720.85 535.80 M736.45 535.80 A7.80 7.80 0 0 0 752.05 535.80 M603.85 543.60 A7.80 7.80 0 0 0 619.45 543.60 M635.05 543.60 A7.80 7.80 0 0 0 650.65 543.60 M736.45 551.40 A7.80 7.80 0 0 0 752.05 551.40 M619.45 559.20 A7.80 7.80 0 0 0 635.05 559.20 M666.25 559.20 A7.80 7.80 0 0 0 681.85 559.20 M697.45 559.20 A7.80 7.80 0 0 0 713.05 559.20 M744.25 559.20 A7.80 7.80 0 0 0 759.85 559.20 M642.85 567.00 A7.80 7.80 0 0 0 658.45 567.00 M658.45 567.00 A7.80 7.80 0 0 0 674.05 567.00 M744.25 574.80 A7.80 7.80 0 0 0 759.85 574.80 M642.85 582.60 A7.80 7.80 0 0 0 658.45 582.60 M705.25 582.60 A7.80 7.80 0 0 0 720.85 582.60 M736.45 582.60 A7.80 7.80 0 0 0 752.05 582.60 M635.05 590.40 A7.80 7.80 0 0 0 650.65 590.40 M666.25 590.40 A7.80 7.80 0 0 0 681.85 590.40 M627.25 613.80 A7.80 7.80 0 0 0 642.85 613.80 M689.65 613.80 A7.80 7.80 0 0 0 705.25 613.80 M650.65 621.60 A7.80 7.80 0 0 0 666.25 621.60 M681.85 621.60 A7.80 7.80 0 0 0 697.45 621.60 M681.85 637.20 A7.80 7.80 0 0 0 697.45 637.20 M744.25 637.20 A7.80 7.80 0 0 0 759.85 637.20 M658.45 645.00 A7.80 7.80 0 0 0 674.05 645.00 M736.45 645.00 A7.80 7.80 0 0 0 752.05 645.00 M635.05 652.80 A7.80 7.80 0 0 0 650.65 652.80 M713.05 652.80 A7.80 7.80 0 0 0 728.65 652.80 M627.25 660.60 A7.80 7.80 0 0 0 642.85 660.60 M674.05 660.60 A7.80 7.80 0 0 0 689.65 660.60 M681.85 668.40 A7.80 7.80 0 0 0 697.45 668.40 M744.25 668.40 A7.80 7.80 0 0 0 759.85 668.40 M627.25 676.20 A7.80 7.80 0 0 0 642.85 676.20 M658.45 676.20 A7.80 7.80 0 0 0 674.05 676.20 M705.25 676.20 A7.80 7.80 0 0 0 720.85 676.20 M736.45 676.20 A7.80 7.80 0 0 0 752.05 676.20 M681.85 684.00 A7.80 7.80 0 0 0 697.45 684.00 M713.05 684.00 A7.80 7.80 0 0 0 728.65 684.00 M736.45 691.80 A7.80 7.80 0 0 0 752.05 691.80 M666.25 699.60 A7.80 7.80 0 0 0 681.85 699.60 M658.45 707.40 A7.80 7.80 0 0 0 674.05 707.40 M674.05 707.40 A7.80 7.80 0 0 0 689.65 707.40 M720.85 707.40 A7.80 7.80 0 0 0 736.45 707.40" stroke="#a79bb0" stroke-width="0.85" fill="none"/><path d="M627.25 348.60 A7.80 7.80 0 0 0 642.85 348.60 M603.85 356.40 A7.80 7.80 0 0 0 619.45 356.40 M635.05 356.40 A7.80 7.80 0 0 0 650.65 356.40 M728.65 356.40 A7.80 7.80 0 0 0 744.25 356.40 M736.45 364.20 A7.80 7.80 0 0 0 752.05 364.20 M635.05 387.60 A7.80 7.80 0 0 0 650.65 387.60 M728.65 387.60 A7.80 7.80 0 0 0 744.25 387.60 M705.25 395.40 A7.80 7.80 0 0 0 720.85 395.40 M697.45 403.20 A7.80 7.80 0 0 0 713.05 403.20 M744.25 403.20 A7.80 7.80 0 0 0 759.85 403.20 M619.45 418.80 A7.80 7.80 0 0 0 635.05 418.80 M619.45 450.00 A7.80 7.80 0 0 0 635.05 450.00 M635.05 450.00 A7.80 7.80 0 0 0 650.65 450.00 M713.05 450.00 A7.80 7.80 0 0 0 728.65 450.00 M627.25 457.80 A7.80 7.80 0 0 0 642.85 457.80 M674.05 457.80 A7.80 7.80 0 0 0 689.65 457.80 M627.25 473.40 A7.80 7.80 0 0 0 642.85 473.40 M603.85 481.20 A7.80 7.80 0 0 0 619.45 481.20 M619.45 481.20 A7.80 7.80 0 0 0 635.05 481.20 M611.65 489.00 A7.80 7.80 0 0 0 627.25 489.00 M619.45 496.80 A7.80 7.80 0 0 0 635.05 496.80 M681.85 496.80 A7.80 7.80 0 0 0 697.45 496.80 M728.65 496.80 A7.80 7.80 0 0 0 744.25 496.80 M674.05 520.20 A7.80 7.80 0 0 0 689.65 520.20 M697.45 543.60 A7.80 7.80 0 0 0 713.05 543.60 M744.25 543.60 A7.80 7.80 0 0 0 759.85 543.60 M689.65 551.40 A7.80 7.80 0 0 0 705.25 551.40 M705.25 551.40 A7.80 7.80 0 0 0 720.85 551.40 M713.05 559.20 A7.80 7.80 0 0 0 728.65 559.20 M611.65 582.60 A7.80 7.80 0 0 0 627.25 582.60 M720.85 582.60 A7.80 7.80 0 0 0 736.45 582.60 M619.45 590.40 A7.80 7.80 0 0 0 635.05 590.40 M642.85 598.20 A7.80 7.80 0 0 0 658.45 598.20 M705.25 598.20 A7.80 7.80 0 0 0 720.85 598.20 M681.85 606.00 A7.80 7.80 0 0 0 697.45 606.00 M713.05 606.00 A7.80 7.80 0 0 0 728.65 606.00 M642.85 613.80 A7.80 7.80 0 0 0 658.45 613.80 M697.45 621.60 A7.80 7.80 0 0 0 713.05 621.60 M728.65 621.60 A7.80 7.80 0 0 0 744.25 621.60 M603.85 652.80 A7.80 7.80 0 0 0 619.45 652.80 M619.45 652.80 A7.80 7.80 0 0 0 635.05 652.80 M642.85 660.60 A7.80 7.80 0 0 0 658.45 660.60 M736.45 660.60 A7.80 7.80 0 0 0 752.05 660.60 M728.65 668.40 A7.80 7.80 0 0 0 744.25 668.40 M689.65 676.20 A7.80 7.80 0 0 0 705.25 676.20 M720.85 676.20 A7.80 7.80 0 0 0 736.45 676.20 M619.45 684.00 A7.80 7.80 0 0 0 635.05 684.00 M697.45 684.00 A7.80 7.80 0 0 0 713.05 684.00 M744.25 699.60 A7.80 7.80 0 0 0 759.85 699.60 M627.25 707.40 A7.80 7.80 0 0 0 642.85 707.40" stroke="#9a9a9a" stroke-width="0.85" fill="none"/><path d="M720.85 348.60 A7.80 7.80 0 0 0 736.45 348.60 M619.45 356.40 A7.80 7.80 0 0 0 635.05 356.40 M744.25 372.00 A7.80 7.80 0 0 0 759.85 372.00 M744.25 387.60 A7.80 7.80 0 0 0 759.85 387.60 M650.65 403.20 A7.80 7.80 0 0 0 666.25 403.20 M713.05 403.20 A7.80 7.80 0 0 0 728.65 403.20 M705.25 411.00 A7.80 7.80 0 0 0 720.85 411.00 M736.45 411.00 A7.80 7.80 0 0 0 752.05 411.00 M705.25 442.20 A7.80 7.80 0 0 0 720.85 442.20 M728.65 450.00 A7.80 7.80 0 0 0 744.25 450.00 M736.45 457.80 A7.80 7.80 0 0 0 752.05 457.80 M619.45 465.60 A7.80 7.80 0 0 0 635.05 465.60 M697.45 465.60 A7.80 7.80 0 0 0 713.05 465.60 M658.45 489.00 A7.80 7.80 0 0 0 674.05 489.00 M728.65 512.40 A7.80 7.80 0 0 0 744.25 512.40 M627.25 520.20 A7.80 7.80 0 0 0 642.85 520.20 M642.85 520.20 A7.80 7.80 0 0 0 658.45 520.20 M635.05 528.00 A7.80 7.80 0 0 0 650.65 528.00 M619.45 543.60 A7.80 7.80 0 0 0 635.05 543.60 M674.05 551.40 A7.80 7.80 0 0 0 689.65 551.40 M705.25 567.00 A7.80 7.80 0 0 0 720.85 567.00 M736.45 567.00 A7.80 7.80 0 0 0 752.05 567.00 M619.45 574.80 A7.80 7.80 0 0 0 635.05 574.80 M674.05 582.60 A7.80 7.80 0 0 0 689.65 582.60 M689.65 582.60 A7.80 7.80 0 0 0 705.25 582.60 M697.45 590.40 A7.80 7.80 0 0 0 713.05 590.40 M720.85 598.20 A7.80 7.80 0 0 0 736.45 598.20 M619.45 606.00 A7.80 7.80 0 0 0 635.05 606.00 M720.85 613.80 A7.80 7.80 0 0 0 736.45 613.80 M642.85 629.40 A7.80 7.80 0 0 0 658.45 629.40 M674.05 629.40 A7.80 7.80 0 0 0 689.65 629.40 M705.25 629.40 A7.80 7.80 0 0 0 720.85 629.40 M603.85 637.20 A7.80 7.80 0 0 0 619.45 637.20 M697.45 637.20 A7.80 7.80 0 0 0 713.05 637.20 M728.65 637.20 A7.80 7.80 0 0 0 744.25 637.20 M627.25 645.00 A7.80 7.80 0 0 0 642.85 645.00 M642.85 645.00 A7.80 7.80 0 0 0 658.45 645.00 M603.85 668.40 A7.80 7.80 0 0 0 619.45 668.40 M642.85 676.20 A7.80 7.80 0 0 0 658.45 676.20 M611.65 691.80 A7.80 7.80 0 0 0 627.25 691.80 M689.65 707.40 A7.80 7.80 0 0 0 705.25 707.40 M736.45 707.40 A7.80 7.80 0 0 0 752.05 707.40" stroke="#8fc4be" stroke-width="0.85" fill="none"/><path d="M697.45 372.00 A7.80 7.80 0 0 0 713.05 372.00 M603.85 387.60 A7.80 7.80 0 0 0 619.45 387.60 M666.25 387.60 A7.80 7.80 0 0 0 681.85 387.60 M611.65 395.40 A7.80 7.80 0 0 0 627.25 395.40 M736.45 395.40 A7.80 7.80 0 0 0 752.05 395.40 M603.85 418.80 A7.80 7.80 0 0 0 619.45 418.80 M658.45 426.60 A7.80 7.80 0 0 0 674.05 426.60 M689.65 426.60 A7.80 7.80 0 0 0 705.25 426.60 M705.25 426.60 A7.80 7.80 0 0 0 720.85 426.60 M720.85 426.60 A7.80 7.80 0 0 0 736.45 426.60 M603.85 434.40 A7.80 7.80 0 0 0 619.45 434.40 M627.25 442.20 A7.80 7.80 0 0 0 642.85 442.20 M736.45 442.20 A7.80 7.80 0 0 0 752.05 442.20 M666.25 450.00 A7.80 7.80 0 0 0 681.85 450.00 M658.45 457.80 A7.80 7.80 0 0 0 674.05 457.80 M697.45 481.20 A7.80 7.80 0 0 0 713.05 481.20 M674.05 489.00 A7.80 7.80 0 0 0 689.65 489.00 M611.65 504.60 A7.80 7.80 0 0 0 627.25 504.60 M658.45 504.60 A7.80 7.80 0 0 0 674.05 504.60 M650.65 512.40 A7.80 7.80 0 0 0 666.25 512.40 M720.85 520.20 A7.80 7.80 0 0 0 736.45 520.20 M666.25 543.60 A7.80 7.80 0 0 0 681.85 543.60 M681.85 543.60 A7.80 7.80 0 0 0 697.45 543.60 M720.85 567.00 A7.80 7.80 0 0 0 736.45 567.00 M650.65 574.80 A7.80 7.80 0 0 0 666.25 574.80 M681.85 590.40 A7.80 7.80 0 0 0 697.45 590.40 M728.65 590.40 A7.80 7.80 0 0 0 744.25 590.40 M611.65 598.20 A7.80 7.80 0 0 0 627.25 598.20 M689.65 598.20 A7.80 7.80 0 0 0 705.25 598.20 M658.45 613.80 A7.80 7.80 0 0 0 674.05 613.80 M705.25 613.80 A7.80 7.80 0 0 0 720.85 613.80 M666.25 621.60 A7.80 7.80 0 0 0 681.85 621.60 M744.25 621.60 A7.80 7.80 0 0 0 759.85 621.60 M611.65 645.00 A7.80 7.80 0 0 0 627.25 645.00 M728.65 652.80 A7.80 7.80 0 0 0 744.25 652.80 M611.65 660.60 A7.80 7.80 0 0 0 627.25 660.60 M658.45 660.60 A7.80 7.80 0 0 0 674.05 660.60 M635.05 684.00 A7.80 7.80 0 0 0 650.65 684.00 M728.65 684.00 A7.80 7.80 0 0 0 744.25 684.00 M619.45 699.60 A7.80 7.80 0 0 0 635.05 699.60 M635.05 699.60 A7.80 7.80 0 0 0 650.65 699.60" stroke="#c39ab6" stroke-width="0.85" fill="none"/></g>
<clipPath id="cf2"><rect x="643.70" y="960.75" width="100.60" height="120.25"/></clipPath><g clip-path="url(#cf2)"><path d="M603.85 950.00 A7.80 7.80 0 0 0 619.45 950.00 M619.45 950.00 A7.80 7.80 0 0 0 635.05 950.00 M627.25 957.80 A7.80 7.80 0 0 0 642.85 957.80 M603.85 965.60 A7.80 7.80 0 0 0 619.45 965.60 M635.05 965.60 A7.80 7.80 0 0 0 650.65 965.60 M642.85 989.00 A7.80 7.80 0 0 0 658.45 989.00 M650.65 996.80 A7.80 7.80 0 0 0 666.25 996.80 M642.85 1004.60 A7.80 7.80 0 0 0 658.45 1004.60 M697.45 1012.40 A7.80 7.80 0 0 0 713.05 1012.40 M689.65 1020.20 A7.80 7.80 0 0 0 705.25 1020.20 M736.45 1020.20 A7.80 7.80 0 0 0 752.05 1020.20 M713.05 1028.00 A7.80 7.80 0 0 0 728.65 1028.00 M728.65 1028.00 A7.80 7.80 0 0 0 744.25 1028.00 M689.65 1035.80 A7.80 7.80 0 0 0 705.25 1035.80 M705.25 1035.80 A7.80 7.80 0 0 0 720.85 1035.80 M650.65 1043.60 A7.80 7.80 0 0 0 666.25 1043.60 M728.65 1043.60 A7.80 7.80 0 0 0 744.25 1043.60 M674.05 1051.40 A7.80 7.80 0 0 0 689.65 1051.40 M720.85 1051.40 A7.80 7.80 0 0 0 736.45 1051.40 M681.85 1059.20 A7.80 7.80 0 0 0 697.45 1059.20" stroke="#8fc4be" stroke-width="0.85" fill="none"/><path d="M635.05 950.00 A7.80 7.80 0 0 0 650.65 950.00 M744.25 950.00 A7.80 7.80 0 0 0 759.85 950.00 M619.45 965.60 A7.80 7.80 0 0 0 635.05 965.60 M642.85 973.40 A7.80 7.80 0 0 0 658.45 973.40 M736.45 973.40 A7.80 7.80 0 0 0 752.05 973.40 M697.45 981.20 A7.80 7.80 0 0 0 713.05 981.20 M720.85 989.00 A7.80 7.80 0 0 0 736.45 989.00 M681.85 996.80 A7.80 7.80 0 0 0 697.45 996.80 M713.05 996.80 A7.80 7.80 0 0 0 728.65 996.80 M611.65 1004.60 A7.80 7.80 0 0 0 627.25 1004.60 M658.45 1004.60 A7.80 7.80 0 0 0 674.05 1004.60 M713.05 1012.40 A7.80 7.80 0 0 0 728.65 1012.40 M666.25 1028.00 A7.80 7.80 0 0 0 681.85 1028.00 M666.25 1043.60 A7.80 7.80 0 0 0 681.85 1043.60 M603.85 1059.20 A7.80 7.80 0 0 0 619.45 1059.20" stroke="#c39ab6" stroke-width="0.85" fill="none"/><path d="M650.65 950.00 A7.80 7.80 0 0 0 666.25 950.00 M658.45 957.80 A7.80 7.80 0 0 0 674.05 957.80 M674.05 957.80 A7.80 7.80 0 0 0 689.65 957.80 M720.85 957.80 A7.80 7.80 0 0 0 736.45 957.80 M650.65 965.60 A7.80 7.80 0 0 0 666.25 965.60 M697.45 965.60 A7.80 7.80 0 0 0 713.05 965.60 M744.25 965.60 A7.80 7.80 0 0 0 759.85 965.60 M681.85 981.20 A7.80 7.80 0 0 0 697.45 981.20 M705.25 1004.60 A7.80 7.80 0 0 0 720.85 1004.60 M674.05 1035.80 A7.80 7.80 0 0 0 689.65 1035.80 M736.45 1035.80 A7.80 7.80 0 0 0 752.05 1035.80 M681.85 1043.60 A7.80 7.80 0 0 0 697.45 1043.60 M611.65 1051.40 A7.80 7.80 0 0 0 627.25 1051.40 M658.45 1051.40 A7.80 7.80 0 0 0 674.05 1051.40 M697.45 1059.20 A7.80 7.80 0 0 0 713.05 1059.20 M642.85 1067.00 A7.80 7.80 0 0 0 658.45 1067.00 M689.65 1067.00 A7.80 7.80 0 0 0 705.25 1067.00 M603.85 1074.80 A7.80 7.80 0 0 0 619.45 1074.80 M619.45 1074.80 A7.80 7.80 0 0 0 635.05 1074.80 M744.25 1074.80 A7.80 7.80 0 0 0 759.85 1074.80" stroke="#d39aa8" stroke-width="0.85" fill="none"/><path d="M666.25 950.00 A7.80 7.80 0 0 0 681.85 950.00 M713.05 950.00 A7.80 7.80 0 0 0 728.65 950.00 M728.65 950.00 A7.80 7.80 0 0 0 744.25 950.00 M611.65 957.80 A7.80 7.80 0 0 0 627.25 957.80 M642.85 957.80 A7.80 7.80 0 0 0 658.45 957.80 M689.65 957.80 A7.80 7.80 0 0 0 705.25 957.80 M728.65 965.60 A7.80 7.80 0 0 0 744.25 965.60 M689.65 973.40 A7.80 7.80 0 0 0 705.25 973.40 M650.65 981.20 A7.80 7.80 0 0 0 666.25 981.20 M611.65 989.00 A7.80 7.80 0 0 0 627.25 989.00 M744.25 996.80 A7.80 7.80 0 0 0 759.85 996.80 M627.25 1004.60 A7.80 7.80 0 0 0 642.85 1004.60 M603.85 1012.40 A7.80 7.80 0 0 0 619.45 1012.40 M666.25 1012.40 A7.80 7.80 0 0 0 681.85 1012.40 M642.85 1020.20 A7.80 7.80 0 0 0 658.45 1020.20 M603.85 1028.00 A7.80 7.80 0 0 0 619.45 1028.00 M619.45 1028.00 A7.80 7.80 0 0 0 635.05 1028.00 M627.25 1035.80 A7.80 7.80 0 0 0 642.85 1035.80 M658.45 1035.80 A7.80 7.80 0 0 0 674.05 1035.80 M635.05 1043.60 A7.80 7.80 0 0 0 650.65 1043.60 M713.05 1043.60 A7.80 7.80 0 0 0 728.65 1043.60 M627.25 1051.40 A7.80 7.80 0 0 0 642.85 1051.40 M650.65 1059.20 A7.80 7.80 0 0 0 666.25 1059.20 M666.25 1059.20 A7.80 7.80 0 0 0 681.85 1059.20 M744.25 1059.20 A7.80 7.80 0 0 0 759.85 1059.20 M635.05 1074.80 A7.80 7.80 0 0 0 650.65 1074.80 M666.25 1074.80 A7.80 7.80 0 0 0 681.85 1074.80" stroke="#a79bb0" stroke-width="0.85" fill="none"/><path d="M681.85 950.00 A7.80 7.80 0 0 0 697.45 950.00 M666.25 965.60 A7.80 7.80 0 0 0 681.85 965.60 M635.05 981.20 A7.80 7.80 0 0 0 650.65 981.20 M674.05 1004.60 A7.80 7.80 0 0 0 689.65 1004.60 M650.65 1012.40 A7.80 7.80 0 0 0 666.25 1012.40 M681.85 1012.40 A7.80 7.80 0 0 0 697.45 1012.40 M642.85 1035.80 A7.80 7.80 0 0 0 658.45 1035.80 M697.45 1043.60 A7.80 7.80 0 0 0 713.05 1043.60 M713.05 1059.20 A7.80 7.80 0 0 0 728.65 1059.20 M611.65 1067.00 A7.80 7.80 0 0 0 627.25 1067.00 M720.85 1067.00 A7.80 7.80 0 0 0 736.45 1067.00 M736.45 1067.00 A7.80 7.80 0 0 0 752.05 1067.00" stroke="#9a9a9a" stroke-width="0.85" fill="none"/><path d="M697.45 950.00 A7.80 7.80 0 0 0 713.05 950.00 M713.05 965.60 A7.80 7.80 0 0 0 728.65 965.60 M611.65 973.40 A7.80 7.80 0 0 0 627.25 973.40 M658.45 973.40 A7.80 7.80 0 0 0 674.05 973.40 M627.25 989.00 A7.80 7.80 0 0 0 642.85 989.00 M603.85 996.80 A7.80 7.80 0 0 0 619.45 996.80 M666.25 996.80 A7.80 7.80 0 0 0 681.85 996.80 M728.65 996.80 A7.80 7.80 0 0 0 744.25 996.80 M689.65 1004.60 A7.80 7.80 0 0 0 705.25 1004.60 M728.65 1012.40 A7.80 7.80 0 0 0 744.25 1012.40 M720.85 1020.20 A7.80 7.80 0 0 0 736.45 1020.20 M681.85 1028.00 A7.80 7.80 0 0 0 697.45 1028.00 M744.25 1028.00 A7.80 7.80 0 0 0 759.85 1028.00 M603.85 1043.60 A7.80 7.80 0 0 0 619.45 1043.60 M619.45 1043.60 A7.80 7.80 0 0 0 635.05 1043.60 M642.85 1051.40 A7.80 7.80 0 0 0 658.45 1051.40 M619.45 1059.20 A7.80 7.80 0 0 0 635.05 1059.20 M728.65 1059.20 A7.80 7.80 0 0 0 744.25 1059.20 M658.45 1067.00 A7.80 7.80 0 0 0 674.05 1067.00 M674.05 1067.00 A7.80 7.80 0 0 0 689.65 1067.00 M650.65 1074.80 A7.80 7.80 0 0 0 666.25 1074.80" stroke="#9db8d0" stroke-width="0.85" fill="none"/><path d="M705.25 957.80 A7.80 7.80 0 0 0 720.85 957.80 M681.85 965.60 A7.80 7.80 0 0 0 697.45 965.60 M627.25 973.40 A7.80 7.80 0 0 0 642.85 973.40 M720.85 973.40 A7.80 7.80 0 0 0 736.45 973.40 M603.85 981.20 A7.80 7.80 0 0 0 619.45 981.20 M728.65 981.20 A7.80 7.80 0 0 0 744.25 981.20 M736.45 989.00 A7.80 7.80 0 0 0 752.05 989.00 M720.85 1004.60 A7.80 7.80 0 0 0 736.45 1004.60 M736.45 1004.60 A7.80 7.80 0 0 0 752.05 1004.60 M619.45 1012.40 A7.80 7.80 0 0 0 635.05 1012.40 M705.25 1020.20 A7.80 7.80 0 0 0 720.85 1020.20 M650.65 1028.00 A7.80 7.80 0 0 0 666.25 1028.00 M697.45 1028.00 A7.80 7.80 0 0 0 713.05 1028.00 M689.65 1051.40 A7.80 7.80 0 0 0 705.25 1051.40 M635.05 1059.20 A7.80 7.80 0 0 0 650.65 1059.20 M627.25 1067.00 A7.80 7.80 0 0 0 642.85 1067.00 M697.45 1074.80 A7.80 7.80 0 0 0 713.05 1074.80" stroke="#a9bf7c" stroke-width="0.85" fill="none"/><path d="M736.45 957.80 A7.80 7.80 0 0 0 752.05 957.80 M674.05 973.40 A7.80 7.80 0 0 0 689.65 973.40 M666.25 981.20 A7.80 7.80 0 0 0 681.85 981.20 M713.05 981.20 A7.80 7.80 0 0 0 728.65 981.20 M674.05 989.00 A7.80 7.80 0 0 0 689.65 989.00 M705.25 989.00 A7.80 7.80 0 0 0 720.85 989.00 M619.45 996.80 A7.80 7.80 0 0 0 635.05 996.80 M635.05 996.80 A7.80 7.80 0 0 0 650.65 996.80 M697.45 996.80 A7.80 7.80 0 0 0 713.05 996.80 M744.25 1012.40 A7.80 7.80 0 0 0 759.85 1012.40 M611.65 1020.20 A7.80 7.80 0 0 0 627.25 1020.20 M627.25 1020.20 A7.80 7.80 0 0 0 642.85 1020.20 M658.45 1020.20 A7.80 7.80 0 0 0 674.05 1020.20 M611.65 1035.80 A7.80 7.80 0 0 0 627.25 1035.80 M744.25 1043.60 A7.80 7.80 0 0 0 759.85 1043.60 M705.25 1051.40 A7.80 7.80 0 0 0 720.85 1051.40 M681.85 1074.80 A7.80 7.80 0 0 0 697.45 1074.80 M713.05 1074.80 A7.80 7.80 0 0 0 728.65 1074.80 M728.65 1074.80 A7.80 7.80 0 0 0 744.25 1074.80" stroke="#b9b08c" stroke-width="0.85" fill="none"/><path d="M705.25 973.40 A7.80 7.80 0 0 0 720.85 973.40 M619.45 981.20 A7.80 7.80 0 0 0 635.05 981.20 M744.25 981.20 A7.80 7.80 0 0 0 759.85 981.20 M658.45 989.00 A7.80 7.80 0 0 0 674.05 989.00 M689.65 989.00 A7.80 7.80 0 0 0 705.25 989.00 M635.05 1012.40 A7.80 7.80 0 0 0 650.65 1012.40 M674.05 1020.20 A7.80 7.80 0 0 0 689.65 1020.20 M635.05 1028.00 A7.80 7.80 0 0 0 650.65 1028.00 M720.85 1035.80 A7.80 7.80 0 0 0 736.45 1035.80 M736.45 1051.40 A7.80 7.80 0 0 0 752.05 1051.40 M705.25 1067.00 A7.80 7.80 0 0 0 720.85 1067.00" stroke="#8c93b3" stroke-width="0.85" fill="none"/></g>
<path d="M48.9 91.59 H163.0 M48.9 110.03 H163.0 M48.9 128.47 H163.0 M48.9 146.90 H163.0 M48.9 165.34 H163.0 M48.9 183.77 H163.0 M48.9 202.21 H163.0 M48.9 220.64 H163.0 M48.9 239.07 H163.0 M48.9 257.51 H163.0 M48.9 275.94 H163.0 M48.9 294.38 H163.0 M48.9 312.81 H163.0 M48.9 331.25 H163.0 M48.9 349.69 H163.0 M48.9 368.12 H163.0 M48.9 386.56 H163.0 M48.9 404.99 H163.0 M48.9 423.42 H163.0 M48.9 441.86 H163.0 M48.9 460.29 H163.0 M48.9 478.73 H163.0 M48.9 497.16 H163.0 M48.9 515.60 H163.0 M48.9 534.03 H163.0 M48.9 552.47 H163.0 M48.9 570.90 H163.0 M48.9 589.34 H163.0 M48.9 607.77 H163.0 M48.9 626.21 H163.0 M48.9 644.64 H163.0 M48.9 663.08 H163.0 M48.9 681.51 H163.0 M48.9 699.95 H163.0 M48.9 718.38 H163.0 M48.9 736.82 H163.0 M48.9 755.25 H163.0 M48.9 773.69 H163.0 M48.9 792.12 H163.0 M48.9 810.56 H163.0 M48.9 828.99 H163.0 M48.9 847.43 H163.0 M48.9 865.86 H163.0 M48.9 884.30 H163.0 M48.9 902.73 H163.0 M48.9 921.17 H163.0 M48.9 939.60 H163.0 M48.9 958.04 H163.0 M48.9 976.47 H163.0 M48.9 994.91 H163.0 M48.9 1013.34 H163.0 M48.9 1031.78 H163.0 M48.9 1050.21 H163.0 M48.9 1068.65 H163.0" stroke="#2a2a2a" stroke-width="0.85" fill="none"/>
<path d="M94.50 73.2 V1081.0 M117.40 73.2 V1081.0 M140.30 73.2 V1081.0" stroke="#222" stroke-width="0.9" fill="none"/>
<rect x="163" y="73.2" width="28.3" height="1007.8" fill="url(#lith)"/>
<rect x="163" y="139.0" width="28.3" height="11.0" fill="#4a1c06" opacity="0.22"/>
<path d="M163 139.0 H191.3 M163 150.0 H191.3" stroke="#3a1505" stroke-width="0.8" opacity="0.45" fill="none"/>
<rect x="163" y="196.0" width="28.3" height="8.0" fill="#4a1c06" opacity="0.22"/>
<path d="M163 196.0 H191.3 M163 204.0 H191.3" stroke="#3a1505" stroke-width="0.8" opacity="0.45" fill="none"/>
<rect x="163" y="236.0" width="28.3" height="10.0" fill="#4a1c06" opacity="0.22"/>
<path d="M163 236.0 H191.3 M163 246.0 H191.3" stroke="#3a1505" stroke-width="0.8" opacity="0.45" fill="none"/>
<rect x="163" y="250.0" width="28.3" height="12.0" fill="#4a1c06" opacity="0.22"/>
<path d="M163 250.0 H191.3 M163 262.0 H191.3" stroke="#3a1505" stroke-width="0.8" opacity="0.45" fill="none"/>
<rect x="163" y="275.0" width="28.3" height="9.0" fill="#4a1c06" opacity="0.22"/>
<path d="M163 275.0 H191.3 M163 284.0 H191.3" stroke="#3a1505" stroke-width="0.8" opacity="0.45" fill="none"/>
<rect x="163" y="300.0" width="28.3" height="54.0" fill="#4a1c06" opacity="0.22"/>
<path d="M163 300.0 H191.3 M163 354.0 H191.3" stroke="#3a1505" stroke-width="0.8" opacity="0.45" fill="none"/>
<rect x="163" y="388.0" width="28.3" height="4.0" fill="#4a1c06" opacity="0.22"/>
<path d="M163 388.0 H191.3 M163 392.0 H191.3" stroke="#3a1505" stroke-width="0.8" opacity="0.45" fill="none"/>
<rect x="163" y="540.0" width="28.3" height="8.0" fill="#4a1c06" opacity="0.22"/>
<path d="M163 540.0 H191.3 M163 548.0 H191.3" stroke="#3a1505" stroke-width="0.8" opacity="0.45" fill="none"/>
<rect x="163" y="566.0" width="28.3" height="34.0" fill="#4a1c06" opacity="0.22"/>
<path d="M163 566.0 H191.3 M163 600.0 H191.3" stroke="#3a1505" stroke-width="0.8" opacity="0.45" fill="none"/>
<rect x="163" y="630.0" width="28.3" height="10.0" fill="#4a1c06" opacity="0.22"/>
<path d="M163 630.0 H191.3 M163 640.0 H191.3" stroke="#3a1505" stroke-width="0.8" opacity="0.45" fill="none"/>
<rect x="163" y="652.0" width="28.3" height="34.0" fill="#4a1c06" opacity="0.22"/>
<path d="M163 652.0 H191.3 M163 686.0 H191.3" stroke="#3a1505" stroke-width="0.8" opacity="0.45" fill="none"/>
<rect x="163" y="690.0" width="28.3" height="22.0" fill="#4a1c06" opacity="0.22"/>
<path d="M163 690.0 H191.3 M163 712.0 H191.3" stroke="#3a1505" stroke-width="0.8" opacity="0.45" fill="none"/>
<rect x="163" y="768.0" width="28.3" height="10.0" fill="#4a1c06" opacity="0.22"/>
<path d="M163 768.0 H191.3 M163 778.0 H191.3" stroke="#3a1505" stroke-width="0.8" opacity="0.45" fill="none"/>
<rect x="163" y="790.0" width="28.3" height="53.0" fill="#4a1c06" opacity="0.22"/>
<path d="M163 790.0 H191.3 M163 843.0 H191.3" stroke="#3a1505" stroke-width="0.8" opacity="0.45" fill="none"/>
<rect x="163" y="852.0" width="28.3" height="34.0" fill="#4a1c06" opacity="0.22"/>
<path d="M163 852.0 H191.3 M163 886.0 H191.3" stroke="#3a1505" stroke-width="0.8" opacity="0.45" fill="none"/>
<rect x="163" y="925.0" width="28.3" height="6.0" fill="#4a1c06" opacity="0.22"/>
<path d="M163 925.0 H191.3 M163 931.0 H191.3" stroke="#3a1505" stroke-width="0.8" opacity="0.45" fill="none"/>
<rect x="163" y="962.0" width="28.3" height="54.0" fill="#4a1c06" opacity="0.22"/>
<path d="M163 962.0 H191.3 M163 1016.0 H191.3" stroke="#3a1505" stroke-width="0.8" opacity="0.45" fill="none"/>
<path d="M163 80.0 H191.3" stroke="#3a1505" stroke-width="0.8" opacity="0.31" fill="none"/>
<path d="M163 98.1 H191.3" stroke="#3a1505" stroke-width="0.8" opacity="0.35" fill="none"/>
<path d="M163 119.3 H191.3" stroke="#3a1505" stroke-width="0.8" opacity="0.33" fill="none"/>
<path d="M163 140.1 H191.3" stroke="#3a1505" stroke-width="0.8" opacity="0.16" fill="none"/>
<path d="M163 154.1 H191.3" stroke="#3a1505" stroke-width="0.8" opacity="0.39" fill="none"/>
<path d="M163 170.8 H191.3" stroke="#3a1505" stroke-width="0.8" opacity="0.38" fill="none"/>
<path d="M163 179.5 H191.3" stroke="#3a1505" stroke-width="0.8" opacity="0.27" fill="none"/>
<path d="M163 190.2 H191.3" stroke="#3a1505" stroke-width="0.8" opacity="0.29" fill="none"/>
<path d="M163 205.8 H191.3" stroke="#3a1505" stroke-width="0.8" opacity="0.15" fill="none"/>
<path d="M163 216.1 H191.3" stroke="#3a1505" stroke-width="0.8" opacity="0.22" fill="none"/>
<path d="M163 236.8 H191.3" stroke="#3a1505" stroke-width="0.8" opacity="0.34" fill="none"/>
<path d="M163 246.2 H191.3" stroke="#3a1505" stroke-width="0.8" opacity="0.35" fill="none"/>
<path d="M163 255.3 H191.3" stroke="#3a1505" stroke-width="0.8" opacity="0.30" fill="none"/>
<path d="M163 264.2 H191.3" stroke="#3a1505" stroke-width="0.8" opacity="0.15" fill="none"/>
<path d="M163 284.3 H191.3" stroke="#3a1505" stroke-width="0.8" opacity="0.20" fill="none"/>
<path d="M163 294.5 H191.3" stroke="#3a1505" stroke-width="0.8" opacity="0.40" fill="none"/>
<path d="M163 314.6 H191.3" stroke="#3a1505" stroke-width="0.8" opacity="0.22" fill="none"/>
<path d="M163 336.0 H191.3" stroke="#3a1505" stroke-width="0.8" opacity="0.28" fill="none"/>
<path d="M163 353.2 H191.3" stroke="#3a1505" stroke-width="0.8" opacity="0.20" fill="none"/>
<path d="M163 374.3 H191.3" stroke="#3a1505" stroke-width="0.8" opacity="0.32" fill="none"/>
<path d="M163 395.8 H191.3" stroke="#3a1505" stroke-width="0.8" opacity="0.37" fill="none"/>
<path d="M163 407.3 H191.3" stroke="#3a1505" stroke-width="0.8" opacity="0.24" fill="none"/>
<path d="M163 416.8 H191.3" stroke="#3a1505" stroke-width="0.8" opacity="0.19" fill="none"/>
<path d="M163 424.7 H191.3" stroke="#3a1505" stroke-width="0.8" opacity="0.23" fill="none"/>
<path d="M163 440.8 H191.3" stroke="#3a1505" stroke-width="0.8" opacity="0.15" fill="none"/>
<path d="M163 458.0 H191.3" stroke="#3a1505" stroke-width="0.8" opacity="0.23" fill="none"/>
<path d="M163 469.6 H191.3" stroke="#3a1505" stroke-width="0.8" opacity="0.35" fill="none"/>
<path d="M163 483.8 H191.3" stroke="#3a1505" stroke-width="0.8" opacity="0.23" fill="none"/>
<path d="M163 498.0 H191.3" stroke="#3a1505" stroke-width="0.8" opacity="0.33" fill="none"/>
<path d="M163 505.9 H191.3" stroke="#3a1505" stroke-width="0.8" opacity="0.39" fill="none"/>
<path d="M163 513.2 H191.3" stroke="#3a1505" stroke-width="0.8" opacity="0.34" fill="none"/>
<path d="M163 532.9 H191.3" stroke="#3a1505" stroke-width="0.8" opacity="0.15" fill="none"/>
<path d="M163 551.7 H191.3" stroke="#3a1505" stroke-width="0.8" opacity="0.24" fill="none"/>
<path d="M163 567.4 H191.3" stroke="#3a1505" stroke-width="0.8" opacity="0.15" fill="none"/>
<path d="M163 575.1 H191.3" stroke="#3a1505" stroke-width="0.8" opacity="0.20" fill="none"/>
<path d="M163 596.4 H191.3" stroke="#3a1505" stroke-width="0.8" opacity="0.20" fill="none"/>
<path d="M163 614.8 H191.3" stroke="#3a1505" stroke-width="0.8" opacity="0.38" fill="none"/>
<path d="M163 635.9 H191.3" stroke="#3a1505" stroke-width="0.8" opacity="0.24" fill="none"/>
<path d="M163 648.2 H191.3" stroke="#3a1505" stroke-width="0.8" opacity="0.28" fill="none"/>
<path d="M163 666.8 H191.3" stroke="#3a1505" stroke-width="0.8" opacity="0.18" fill="none"/>
<path d="M163 685.1 H191.3" stroke="#3a1505" stroke-width="0.8" opacity="0.35" fill="none"/>
<path d="M163 705.0 H191.3" stroke="#3a1505" stroke-width="0.8" opacity="0.16" fill="none"/>
<path d="M163 726.2 H191.3" stroke="#3a1505" stroke-width="0.8" opacity="0.17" fill="none"/>
<path d="M163 738.3 H191.3" stroke="#3a1505" stroke-width="0.8" opacity="0.30" fill="none"/>
<path d="M163 759.0 H191.3" stroke="#3a1505" stroke-width="0.8" opacity="0.23" fill="none"/>
<path d="M163 779.9 H191.3" stroke="#3a1505" stroke-width="0.8" opacity="0.29" fill="none"/>
<path d="M163 791.6 H191.3" stroke="#3a1505" stroke-width="0.8" opacity="0.23" fill="none"/>
<path d="M163 801.2 H191.3" stroke="#3a1505" stroke-width="0.8" opacity="0.17" fill="none"/>
<path d="M163 810.5 H191.3" stroke="#3a1505" stroke-width="0.8" opacity="0.32" fill="none"/>
<path d="M163 832.4 H191.3" stroke="#3a1505" stroke-width="0.8" opacity="0.19" fill="none"/>
<path d="M163 840.2 H191.3" stroke="#3a1505" stroke-width="0.8" opacity="0.40" fill="none"/>
<path d="M163 855.2 H191.3" stroke="#3a1505" stroke-width="0.8" opacity="0.25" fill="none"/>
<path d="M163 865.7 H191.3" stroke="#3a1505" stroke-width="0.8" opacity="0.30" fill="none"/>
<path d="M163 885.1 H191.3" stroke="#3a1505" stroke-width="0.8" opacity="0.26" fill="none"/>
<path d="M163 898.4 H191.3" stroke="#3a1505" stroke-width="0.8" opacity="0.16" fill="none"/>
<path d="M163 919.2 H191.3" stroke="#3a1505" stroke-width="0.8" opacity="0.16" fill="none"/>
<path d="M163 933.6 H191.3" stroke="#3a1505" stroke-width="0.8" opacity="0.36" fill="none"/>
<path d="M163 942.5 H191.3" stroke="#3a1505" stroke-width="0.8" opacity="0.33" fill="none"/>
<path d="M163 963.8 H191.3" stroke="#3a1505" stroke-width="0.8" opacity="0.31" fill="none"/>
<path d="M163 982.6 H191.3" stroke="#3a1505" stroke-width="0.8" opacity="0.18" fill="none"/>
<path d="M163 996.1 H191.3" stroke="#3a1505" stroke-width="0.8" opacity="0.19" fill="none"/>
<path d="M163 1015.8 H191.3" stroke="#3a1505" stroke-width="0.8" opacity="0.22" fill="none"/>
<path d="M163 1029.6 H191.3" stroke="#3a1505" stroke-width="0.8" opacity="0.40" fill="none"/>
<path d="M163 1049.4 H191.3" stroke="#3a1505" stroke-width="0.8" opacity="0.39" fill="none"/>
<path d="M163 1063.2 H191.3" stroke="#3a1505" stroke-width="0.8" opacity="0.27" fill="none"/>
<clipPath id="gsclip"><path d="M191.3 73.2 L257.7 74.8 L265.6 76.3 Q266.6 76.6 265.7 76.8 L260.0 78.2 Q259.1 78.5 259.5 78.7 L262.1 80.0 Q262.5 80.3 262.2 80.5 L259.9 82.1 Q259.5 82.3 259.0 82.6 L255.5 84.1 Q255.0 84.4 254.3 84.7 L250.2 86.8 Q249.5 87.1 250.0 87.3 L253.3 88.5 Q253.8 88.7 254.0 88.9 L255.5 90.0 Q255.7 90.2 254.5 90.4 L246.7 91.7 Q245.4 91.9 246.6 92.1 L253.8 93.4 Q254.9 93.6 255.8 93.8 L261.6 95.1 Q262.5 95.3 261.4 95.5 L254.1 96.5 Q252.9 96.7 254.7 96.9 L265.6 98.2 Q267.3 98.4 262.5 98.6 L231.8 99.3 Q227.0 99.4 229.2 99.6 L243.2 100.6 Q245.4 100.8 246.1 101.0 L250.1 102.2 Q250.8 102.4 251.0 102.6 L252.2 103.8 Q252.4 104.0 253.0 104.1 L257.1 105.4 Q257.7 105.5 255.1 105.8 L238.6 107.2 Q236.0 107.5 233.3 107.7 L216.0 109.1 Q213.3 109.4 216.6 109.6 L237.4 110.8 Q240.6 111.0 240.8 111.3 L241.8 112.8 Q242.0 113.1 240.4 113.3 L230.0 114.7 Q228.4 114.9 226.7 115.1 L215.7 116.5 Q214.0 116.8 218.0 117.1 L243.5 118.9 Q247.5 119.2 244.5 119.5 L225.8 121.4 Q222.9 121.7 225.9 121.9 L245.0 123.5 Q248.0 123.7 250.7 124.0 L267.4 125.5 Q270.0 125.8 267.0 126.0 L247.5 127.4 Q244.5 127.6 241.2 127.9 L220.6 129.3 Q217.4 129.5 220.6 129.6 L240.9 130.3 Q244.1 130.4 241.4 130.7 L224.2 132.6 Q221.5 132.9 219.7 133.2 L208.3 135.1 Q206.5 135.4 211.6 135.6 L244.4 136.8 Q249.5 137.0 252.3 137.2 L270.0 138.4 Q272.8 138.6 265.5 138.8 L219.2 139.8 Q211.9 140.0 213.1 140.2 L220.4 141.6 Q221.5 141.8 225.2 142.1 L248.6 143.8 Q252.3 144.1 250.3 144.3 L237.6 145.8 Q235.6 146.0 233.4 146.3 L219.6 147.7 Q217.4 147.9 219.0 148.1 L228.8 149.1 Q230.4 149.3 229.9 149.5 L226.8 151.1 Q226.3 151.4 228.7 151.6 L244.3 152.9 Q246.8 153.1 244.1 153.4 L226.9 155.2 Q224.2 155.5 226.9 155.6 L244.1 156.7 Q246.8 156.8 244.9 157.1 L233.0 158.6 Q231.2 158.9 228.8 159.1 L214.2 160.7 Q211.9 160.9 213.4 161.1 L223.1 162.3 Q224.6 162.5 225.9 162.7 L233.9 163.9 Q235.2 164.1 233.9 164.3 L226.1 166.1 Q224.9 166.4 225.7 166.6 L230.9 168.2 Q231.8 168.4 229.7 168.7 L216.7 170.6 Q214.7 170.9 217.0 171.0 L231.5 171.7 Q233.8 171.9 232.9 172.1 L227.1 173.4 Q226.1 173.6 224.9 173.8 L216.6 175.1 Q215.3 175.3 215.3 175.6 L215.3 177.7 Q215.3 178.0 217.9 178.2 L234.0 179.7 Q236.6 179.9 238.9 180.2 L253.4 181.6 Q255.7 181.8 254.7 182.0 L248.7 183.2 Q247.7 183.3 246.5 183.5 L238.5 184.7 Q237.2 184.9 238.4 185.1 L246.0 186.5 Q247.2 186.7 248.1 186.9 L253.7 188.3 Q254.6 188.5 255.9 188.7 L264.0 190.1 Q265.3 190.3 264.0 190.6 L256.2 192.1 Q255.0 192.4 256.0 192.5 L262.2 193.6 Q263.2 193.7 261.6 193.9 L251.4 195.2 Q249.8 195.4 247.8 195.7 L235.1 197.0 Q233.1 197.2 237.2 197.5 L263.2 199.6 Q267.3 199.9 264.3 200.2 L245.6 202.1 Q242.7 202.4 244.4 202.5 L255.4 203.7 Q257.2 203.9 258.6 204.0 L267.9 205.2 Q269.4 205.4 265.3 205.5 L239.9 206.6 Q235.9 206.7 239.0 206.9 L258.7 207.9 Q261.8 208.1 259.9 208.3 L247.5 209.5 Q245.5 209.7 243.2 209.9 L228.6 211.2 Q226.3 211.4 229.4 211.4 L249.1 211.8 Q252.3 211.9 249.3 212.1 L230.6 213.6 Q227.7 213.8 232.0 214.1 L259.5 215.5 Q263.9 215.7 260.5 215.9 L239.2 216.9 Q235.9 217.1 240.1 217.4 L267.1 219.3 Q271.4 219.6 266.3 219.8 L234.1 221.0 Q229.0 221.2 232.2 221.5 L252.5 223.1 Q255.7 223.4 250.7 223.7 L219.0 225.4 Q214.0 225.7 216.1 225.9 L229.6 226.9 Q231.8 227.1 235.7 227.4 L260.6 229.5 Q264.6 229.8 256.9 230.0 L208.0 231.4 Q200.3 231.6 202.8 231.8 L219.0 233.0 Q221.5 233.2 220.1 233.5 L211.3 235.4 Q209.9 235.7 214.7 236.0 L245.4 238.1 Q250.2 238.4 246.1 238.6 L220.1 239.9 Q216.0 240.1 218.0 240.3 L230.5 241.5 Q232.4 241.7 235.8 241.9 L257.1 243.3 Q260.5 243.5 259.5 243.7 L253.2 245.1 Q252.3 245.3 252.9 245.4 L257.1 246.5 Q257.7 246.6 254.7 246.9 L235.4 248.4 Q232.4 248.7 229.0 248.9 L207.8 250.5 Q204.4 250.7 205.9 250.9 L215.4 252.1 Q216.9 252.2 218.2 252.4 L227.0 253.6 Q228.3 253.8 225.1 253.9 L204.9 254.7 Q201.7 254.8 204.3 255.1 L220.9 256.9 Q223.5 257.2 222.6 257.4 L216.3 258.7 Q215.3 258.9 217.4 259.2 L230.2 260.6 Q232.2 260.8 233.9 261.0 L244.4 262.4 Q246.1 262.6 244.1 262.9 L231.1 264.2 Q229.0 264.4 230.8 264.6 L242.1 265.7 Q243.9 265.9 245.4 266.1 L254.9 267.2 Q256.4 267.4 252.7 267.8 L229.3 269.8 Q225.6 270.2 231.3 270.5 L267.1 272.6 Q272.8 272.9 268.3 273.1 L239.8 274.6 Q235.3 274.8 230.6 275.0 L200.9 276.5 Q196.2 276.7 198.6 276.8 L213.7 277.6 Q216.0 277.7 215.0 278.0 L208.2 280.1 Q207.1 280.4 210.2 280.7 L229.8 282.2 Q232.9 282.5 235.9 282.7 L254.7 284.3 Q257.7 284.5 254.9 284.7 L237.2 285.9 Q234.4 286.1 231.2 286.3 L211.0 287.5 Q207.8 287.7 212.3 288.0 L240.3 290.1 Q244.7 290.4 243.0 290.6 L232.1 291.8 Q230.4 292.0 233.0 292.3 L249.6 294.2 Q252.3 294.5 250.6 294.7 L240.2 295.7 Q238.6 295.9 240.7 296.1 L254.2 297.3 Q256.4 297.5 252.7 297.8 L229.3 299.9 Q225.6 300.2 229.2 300.4 L252.1 301.2 Q255.7 301.3 252.0 301.5 L228.6 302.8 Q224.9 303.0 226.5 303.1 L236.3 303.9 Q237.9 304.1 234.0 304.3 L209.0 305.5 Q205.1 305.7 206.2 306.0 L213.5 307.5 Q214.7 307.8 214.0 308.0 L209.8 309.6 Q209.2 309.8 211.0 309.9 L222.4 310.8 Q224.2 310.9 221.4 311.0 L203.8 311.7 Q201.0 311.9 204.8 312.1 L229.0 313.7 Q232.8 313.9 236.4 314.2 L259.0 315.7 Q262.5 316.0 261.2 316.2 L252.9 317.8 Q251.6 318.0 248.4 318.1 L228.1 318.7 Q224.9 318.8 224.1 319.0 L218.9 320.2 Q218.1 320.3 217.0 320.5 L209.7 321.7 Q208.5 321.8 209.8 322.0 L218.1 323.3 Q219.4 323.5 219.0 323.7 L215.8 324.9 Q215.3 325.1 217.2 325.5 L228.6 327.5 Q230.4 327.9 230.1 328.1 L228.0 329.4 Q227.7 329.6 228.7 329.7 L235.5 330.2 Q236.5 330.3 234.3 330.6 L220.3 332.7 Q218.1 333.1 219.5 333.3 L228.5 334.7 Q230.0 335.0 231.0 335.2 L237.6 336.7 Q238.6 336.9 236.4 337.0 L222.3 337.7 Q220.1 337.8 222.2 338.1 L235.2 339.4 Q237.2 339.6 234.4 339.9 L216.8 342.0 Q214.0 342.4 216.1 342.6 L229.6 343.8 Q231.8 344.0 232.6 344.2 L237.8 345.4 Q238.6 345.6 237.6 345.8 L231.4 347.2 Q230.4 347.4 227.8 347.7 L211.7 349.8 Q209.2 350.1 211.2 350.2 L224.2 350.7 Q226.3 350.8 224.3 351.2 L211.8 353.2 Q209.9 353.6 212.3 353.8 L228.0 355.3 Q230.4 355.5 232.5 355.8 L246.0 357.3 Q248.2 357.5 250.0 357.6 L262.0 358.1 Q263.9 358.2 263.1 358.4 L257.9 359.7 Q257.0 359.9 255.8 360.1 L248.0 361.4 Q246.8 361.6 248.7 361.9 L260.6 363.4 Q262.5 363.7 261.8 364.0 L257.1 365.8 Q256.4 366.1 257.2 366.2 L262.4 367.0 Q263.2 367.1 262.4 367.3 L257.4 368.4 Q256.6 368.6 255.4 368.8 L247.8 369.9 Q246.6 370.1 245.9 370.3 L241.4 371.4 Q240.6 371.6 244.2 371.8 L266.5 373.3 Q270.0 373.5 268.7 373.7 L260.4 375.1 Q259.1 375.3 260.0 375.5 L265.7 376.5 Q266.6 376.7 261.5 376.9 L229.3 378.7 Q224.2 379.0 229.2 379.2 L260.3 380.6 Q265.3 380.8 262.5 381.0 L245.4 382.6 Q242.7 382.8 244.3 382.9 L254.1 383.4 Q255.7 383.5 250.8 383.8 L220.2 385.5 Q215.3 385.8 216.2 386.0 L222.0 387.4 Q222.9 387.6 228.6 387.9 L265.0 390.0 Q270.7 390.3 268.3 390.5 L253.3 391.5 Q250.9 391.7 252.3 391.9 L261.1 393.3 Q262.5 393.5 261.0 393.8 L251.7 395.5 Q250.2 395.8 251.9 396.0 L262.8 397.0 Q264.6 397.2 262.6 397.5 L250.1 399.6 Q248.2 399.9 250.3 400.2 L263.8 402.3 Q265.9 402.6 264.4 402.9 L254.5 404.4 Q252.9 404.7 254.3 404.9 L262.6 406.1 Q263.9 406.3 263.1 406.5 L258.5 407.7 Q257.7 407.9 256.7 408.1 L250.5 409.3 Q249.5 409.5 250.9 409.7 L259.5 411.1 Q260.8 411.3 261.8 411.5 L267.7 412.9 Q268.7 413.2 267.8 413.4 L262.3 414.9 Q261.4 415.1 260.2 415.3 L252.2 416.8 Q250.9 417.0 251.7 417.2 L257.1 418.8 Q257.9 419.0 258.6 419.3 L263.2 420.9 Q263.9 421.1 263.3 421.3 L259.3 422.8 Q258.7 423.0 257.9 423.2 L253.0 424.7 Q252.3 424.9 253.6 425.1 L261.9 426.4 Q263.2 426.6 262.0 426.9 L254.2 429.0 Q252.9 429.3 254.6 429.6 L265.0 431.5 Q266.6 431.8 265.9 432.0 L261.5 433.6 Q260.8 433.8 260.0 434.1 L254.5 435.6 Q253.6 435.9 254.5 436.0 L259.7 437.2 Q260.5 437.4 260.9 437.6 L263.5 438.7 Q263.9 438.9 262.2 439.1 L251.3 440.7 Q249.5 440.9 249.9 441.3 L251.9 443.3 Q252.3 443.7 250.5 443.8 L239.0 444.5 Q237.2 444.6 238.9 444.8 L249.2 446.0 Q250.9 446.2 252.3 446.4 L261.1 447.6 Q262.5 447.8 261.3 448.1 L253.5 450.2 Q252.3 450.5 253.4 450.8 L260.7 452.9 Q261.8 453.2 260.7 453.5 L253.4 455.0 Q252.3 455.3 249.2 455.4 L230.0 456.2 Q227.0 456.4 231.2 456.7 L258.3 458.4 Q262.5 458.7 261.3 459.0 L253.5 461.1 Q252.3 461.4 253.0 461.6 L257.9 462.9 Q258.7 463.1 259.1 463.3 L262.1 464.6 Q262.5 464.9 261.0 465.2 L251.7 467.3 Q250.2 467.6 251.0 467.8 L256.3 469.1 Q257.2 469.3 257.8 469.5 L261.9 470.8 Q262.5 471.0 260.5 471.3 L248.1 473.4 Q246.1 473.7 248.1 474.0 L260.5 475.3 Q262.5 475.5 261.3 475.8 L253.5 477.6 Q252.3 477.8 254.6 478.2 L269.1 480.2 Q271.4 480.6 267.9 480.9 L245.5 483.0 Q242.0 483.3 245.4 483.6 L266.7 485.7 Q270.0 486.0 270.4 486.4 L272.4 488.5 Q272.8 488.8 268.7 488.9 L242.7 489.6 Q238.6 489.7 241.0 490.0 L256.0 491.8 Q258.4 492.1 255.2 492.3 L235.0 493.6 Q231.8 493.8 233.4 494.0 L244.0 495.4 Q245.6 495.7 246.9 495.9 L255.1 497.3 Q256.3 497.5 258.0 497.7 L268.4 499.1 Q270.0 499.3 269.1 499.5 L263.0 500.6 Q262.0 500.8 260.9 501.0 L253.4 502.1 Q252.3 502.3 251.0 502.5 L243.2 503.5 Q242.0 503.7 243.0 503.9 L249.1 505.3 Q250.1 505.5 250.6 505.7 L253.9 507.1 Q254.5 507.3 255.4 507.5 L261.6 508.9 Q262.5 509.1 259.6 509.5 L240.9 511.5 Q237.9 511.9 240.8 512.1 L259.0 513.3 Q261.8 513.5 257.7 513.8 L231.8 515.9 Q227.7 516.3 231.5 516.6 L255.9 518.7 Q259.8 519.0 258.7 519.2 L251.9 520.4 Q250.9 520.6 249.4 520.7 L240.1 521.9 Q238.6 522.1 239.6 522.2 L245.8 523.0 Q246.8 523.1 245.0 523.3 L233.8 524.7 Q232.1 524.9 230.0 525.1 L216.8 526.4 Q214.7 526.6 217.1 526.8 L232.7 528.1 Q235.2 528.3 231.9 528.6 L211.1 530.4 Q207.8 530.7 210.7 530.9 L228.9 531.6 Q231.8 531.7 230.2 531.9 L220.6 533.5 Q219.1 533.8 217.2 534.0 L205.0 535.6 Q203.0 535.8 209.2 536.1 L248.2 538.2 Q254.3 538.5 248.8 538.9 L214.0 540.9 Q208.5 541.3 211.5 541.5 L230.7 542.8 Q233.7 543.0 236.3 543.2 L253.0 544.5 Q255.7 544.7 253.2 544.9 L237.4 546.2 Q234.9 546.4 232.0 546.6 L213.5 547.9 Q210.6 548.1 215.2 548.3 L244.3 549.3 Q248.8 549.5 246.2 549.7 L229.6 551.3 Q227.0 551.5 229.1 551.7 L242.6 552.5 Q244.7 552.6 240.1 552.9 L211.1 554.7 Q206.5 554.9 210.9 555.2 L238.9 556.8 Q243.4 557.0 240.5 557.3 L222.3 559.2 Q219.4 559.5 221.8 559.6 L236.9 560.7 Q239.3 560.8 236.4 560.9 L218.2 561.7 Q215.3 561.8 218.6 562.0 L239.4 563.6 Q242.7 563.8 239.6 564.0 L219.8 565.3 Q216.7 565.5 221.4 565.7 L251.0 567.0 Q255.7 567.3 253.2 567.4 L237.6 568.5 Q235.2 568.6 236.9 568.8 L247.5 570.0 Q249.2 570.2 250.5 570.4 L259.1 571.6 Q260.5 571.8 257.2 571.9 L236.4 573.1 Q233.1 573.3 229.6 573.4 L207.8 574.6 Q204.4 574.8 207.0 575.0 L223.7 576.2 Q226.3 576.4 226.1 576.6 L225.3 578.1 Q225.2 578.3 224.6 578.6 L221.3 580.0 Q220.8 580.2 222.0 580.6 L229.2 582.6 Q230.4 583.0 229.3 583.2 L222.6 584.8 Q221.5 585.0 222.8 585.3 L231.1 587.1 Q232.4 587.4 231.2 587.6 L223.4 588.9 Q222.2 589.1 221.2 589.5 L215.0 591.5 Q214.0 591.9 216.9 592.0 L235.6 592.7 Q238.6 592.8 239.2 593.0 L242.8 594.2 Q243.4 594.4 243.6 594.6 L244.6 595.8 Q244.7 596.0 241.1 596.3 L218.3 598.4 Q214.7 598.7 215.9 598.9 L223.7 600.3 Q224.9 600.5 223.4 600.7 L214.1 601.9 Q212.6 602.1 215.6 602.3 L234.3 603.6 Q237.2 603.8 233.6 604.1 L210.8 605.9 Q207.1 606.2 209.4 606.4 L224.0 607.2 Q226.3 607.3 227.4 607.5 L234.7 608.5 Q235.9 608.7 234.5 608.9 L226.2 610.1 Q224.9 610.3 226.8 610.5 L238.8 611.5 Q240.6 611.7 236.0 611.9 L207.0 612.9 Q202.4 613.1 205.0 613.3 L221.6 614.5 Q224.2 614.7 222.3 615.0 L210.4 616.6 Q208.5 616.9 211.3 617.2 L229.0 619.3 Q231.8 619.6 233.8 619.9 L246.8 621.7 Q248.8 621.9 244.6 622.1 L217.6 622.8 Q213.3 622.9 216.0 623.1 L232.8 624.5 Q235.5 624.7 237.7 624.9 L252.1 626.2 Q254.3 626.5 249.5 626.5 L218.8 627.1 Q214.0 627.1 219.1 627.4 L251.3 629.2 Q256.4 629.5 255.9 629.8 L252.8 631.9 Q252.3 632.2 248.3 632.3 L223.4 632.8 Q219.4 632.9 223.5 632.6 L249.5 630.9 Q253.6 630.7 249.6 630.9 L224.2 632.5 Q220.1 632.7 222.3 632.9 L235.9 634.2 Q238.1 634.4 239.9 634.6 L251.8 635.9 Q253.6 636.2 248.9 636.4 L218.7 638.0 Q214.0 638.2 218.9 638.4 L250.1 639.6 Q255.0 639.8 249.1 640.1 L211.7 641.8 Q205.8 642.0 209.2 642.2 L231.0 643.5 Q234.5 643.7 236.1 643.9 L245.9 645.2 Q247.5 645.4 248.7 645.6 L256.5 646.9 Q257.7 647.1 254.8 647.3 L236.1 648.3 Q233.1 648.5 236.7 648.8 L259.6 650.9 Q263.2 651.2 256.5 651.5 L213.9 653.2 Q207.1 653.5 208.0 653.7 L213.8 654.9 Q214.7 655.1 215.4 655.3 L220.1 656.5 Q220.8 656.7 221.7 656.9 L227.4 658.5 Q228.3 658.7 227.3 659.0 L220.5 660.5 Q219.4 660.8 220.2 661.1 L224.9 663.2 Q225.6 663.5 225.0 663.7 L221.6 665.3 Q221.0 665.5 220.1 665.8 L214.2 667.4 Q213.3 667.6 214.9 667.8 L224.7 669.4 Q226.3 669.7 225.8 669.9 L222.7 671.5 Q222.2 671.7 223.0 671.9 L228.2 673.5 Q229.0 673.8 230.2 674.0 L238.0 675.2 Q239.3 675.4 241.8 675.7 L257.9 677.8 Q260.5 678.1 256.4 678.3 L231.0 679.1 Q227.0 679.2 228.5 679.4 L238.4 680.2 Q240.0 680.3 237.9 680.6 L225.1 682.2 Q223.0 682.5 220.7 682.8 L206.0 684.4 Q203.7 684.7 205.9 684.9 L219.4 686.5 Q221.5 686.7 219.4 687.1 L206.5 689.1 Q204.4 689.5 205.9 689.7 L215.6 691.1 Q217.2 691.3 218.5 691.5 L227.0 692.9 Q228.3 693.2 227.5 693.5 L222.3 695.3 Q221.5 695.6 220.0 695.9 L210.7 697.8 Q209.2 698.1 210.8 698.4 L220.6 700.5 Q222.2 700.8 223.3 701.0 L230.6 702.0 Q231.8 702.2 231.0 702.4 L225.9 703.5 Q225.1 703.7 224.1 703.9 L218.3 705.0 Q217.4 705.2 217.9 705.4 L220.9 706.5 Q221.4 706.7 221.5 706.9 L222.1 708.0 Q222.2 708.2 221.0 708.5 L213.2 710.4 Q211.9 710.7 215.5 710.9 L238.5 712.6 Q242.1 712.9 245.3 713.1 L265.5 714.8 Q268.7 715.0 267.4 715.2 L259.1 716.4 Q257.8 716.5 256.2 716.7 L246.0 717.9 Q244.4 718.1 243.2 718.2 L235.7 719.4 Q234.5 719.6 238.2 719.7 L261.6 720.4 Q265.3 720.5 263.2 720.7 L250.2 721.7 Q248.2 721.9 249.6 722.2 L258.4 724.0 Q259.8 724.3 257.5 724.6 L242.9 726.0 Q240.6 726.3 238.1 726.5 L222.0 727.9 Q219.4 728.2 224.8 728.4 L258.6 729.6 Q263.9 729.8 260.4 730.1 L238.6 731.6 Q235.2 731.9 237.1 732.1 L249.2 733.2 Q251.2 733.4 252.9 733.6 L264.2 734.8 Q265.9 735.0 263.1 735.1 L244.9 735.7 Q242.0 735.8 244.4 736.1 L259.5 737.8 Q261.8 738.0 258.4 738.2 L236.7 739.5 Q233.2 739.7 229.6 739.9 L206.7 741.2 Q203.0 741.4 209.4 741.7 L249.4 743.5 Q255.7 743.8 252.6 743.9 L233.2 745.1 Q230.2 745.3 226.7 745.5 L205.1 746.7 Q201.7 746.9 204.5 747.1 L222.1 748.3 Q224.8 748.5 227.2 748.7 L242.4 749.9 Q244.7 750.0 239.4 750.3 L205.6 752.1 Q200.3 752.4 206.9 752.6 L248.4 753.9 Q255.0 754.2 251.5 754.4 L229.5 755.8 Q226.1 756.0 222.5 756.2 L199.8 757.6 Q196.2 757.8 204.1 758.0 L254.0 759.0 Q261.8 759.2 258.3 759.4 L236.2 760.6 Q232.7 760.8 228.9 761.0 L204.8 762.2 Q201.0 762.4 202.7 762.6 L213.6 764.4 Q215.3 764.7 214.9 764.9 L211.7 766.5 Q211.2 766.7 214.0 767.0 L231.7 768.9 Q234.5 769.2 232.3 769.4 L218.2 770.6 Q216.0 770.8 216.0 770.9 L216.0 771.3 Q216.0 771.4 218.1 771.6 L231.1 772.8 Q233.1 773.0 234.4 773.2 L242.6 774.4 Q243.8 774.6 245.0 774.8 L252.5 776.0 Q253.6 776.2 255.2 776.5 L265.1 778.6 Q266.6 778.9 264.7 779.0 L252.8 779.7 Q250.9 779.8 253.3 780.1 L268.3 781.8 Q270.7 782.0 263.2 782.2 L215.4 783.2 Q207.8 783.4 209.4 783.7 L219.3 785.8 Q220.8 786.1 221.3 786.4 L224.4 788.2 Q224.9 788.5 225.7 788.7 L230.7 790.0 Q231.5 790.2 231.9 790.4 L234.7 791.7 Q235.2 791.9 234.9 792.1 L233.4 793.7 Q233.1 793.9 234.8 794.1 L245.8 795.1 Q247.5 795.3 245.0 795.5 L229.0 796.9 Q226.5 797.1 223.7 797.4 L206.5 798.8 Q203.7 799.0 206.6 799.2 L224.7 800.4 Q227.6 800.6 230.0 800.7 L245.7 801.9 Q248.2 802.1 244.3 802.3 L219.9 803.3 Q216.0 803.5 218.7 803.8 L235.9 805.5 Q238.6 805.8 236.0 806.1 L219.9 807.7 Q217.4 808.0 217.7 808.3 L219.9 809.9 Q220.2 810.2 220.1 810.5 L219.5 812.1 Q219.4 812.4 220.2 812.6 L224.6 814.2 Q225.3 814.4 225.8 814.7 L228.6 816.2 Q229.0 816.5 231.0 816.7 L243.5 817.8 Q245.5 818.0 247.1 818.2 L256.9 819.3 Q258.4 819.5 253.2 819.8 L219.9 821.4 Q214.7 821.7 214.9 821.9 L216.6 823.0 Q216.9 823.2 216.9 823.4 L217.3 824.5 Q217.4 824.7 217.7 824.9 L219.8 826.1 Q220.1 826.3 219.7 826.6 L216.7 828.1 Q216.2 828.4 215.6 828.6 L211.8 830.2 Q211.2 830.4 213.5 830.6 L227.5 832.0 Q229.7 832.2 226.8 832.5 L208.6 834.3 Q205.8 834.5 209.5 834.8 L232.8 836.5 Q236.5 836.7 235.5 836.9 L228.7 837.9 Q227.7 838.1 230.8 838.3 L250.5 839.8 Q253.6 840.0 250.4 840.3 L230.2 841.9 Q227.0 842.2 227.0 842.5 L227.0 844.6 Q227.0 844.9 225.3 845.1 L214.8 846.4 Q213.2 846.6 211.2 846.8 L198.8 848.0 Q196.9 848.2 197.7 848.4 L202.7 849.7 Q203.5 849.8 204.1 850.0 L207.9 851.3 Q208.5 851.5 209.3 851.7 L214.5 852.9 Q215.3 853.1 215.9 853.4 L219.2 854.8 Q219.7 855.0 220.0 855.2 L221.9 856.6 Q222.2 856.8 224.5 857.0 L239.0 858.4 Q241.3 858.6 237.2 858.7 L211.2 859.1 Q207.1 859.1 214.2 859.4 L258.9 860.7 Q265.9 860.9 260.5 861.2 L226.2 862.7 Q220.8 863.0 223.2 863.2 L238.3 864.4 Q240.6 864.6 239.5 864.8 L232.2 866.2 Q231.1 866.4 231.0 866.6 L230.7 867.9 Q230.6 868.1 230.3 868.3 L228.0 869.6 Q227.7 869.8 227.1 870.1 L223.4 871.6 Q222.9 871.9 223.4 872.1 L227.1 873.7 Q227.7 873.9 226.7 874.1 L220.4 875.1 Q219.4 875.3 219.2 875.5 L217.9 876.8 Q217.7 877.0 217.3 877.2 L215.0 878.5 Q214.7 878.7 212.9 879.0 L202.0 880.7 Q200.3 881.0 200.7 881.2 L203.4 882.4 Q203.8 882.6 204.2 882.8 L206.1 884.0 Q206.5 884.2 210.4 884.4 L235.3 886.0 Q239.3 886.2 236.8 886.4 L221.4 887.9 Q219.0 888.1 216.2 888.4 L198.3 889.8 Q195.5 890.0 196.8 890.3 L204.5 891.7 Q205.8 892.0 208.0 892.2 L221.9 893.3 Q224.0 893.5 226.0 893.7 L238.6 894.9 Q240.6 895.1 236.5 895.4 L210.0 897.5 Q205.8 897.8 206.9 898.1 L214.2 899.4 Q215.3 899.6 218.5 899.8 L238.2 901.1 Q241.3 901.3 238.1 901.4 L217.9 902.2 Q214.7 902.4 217.6 902.5 L236.0 903.7 Q239.0 903.9 241.5 904.0 L257.3 905.2 Q259.8 905.4 257.9 905.5 L245.9 906.7 Q244.0 906.9 241.7 907.0 L227.2 908.2 Q224.9 908.4 227.0 908.5 L240.6 909.6 Q242.7 909.7 241.5 909.9 L234.3 911.2 Q233.1 911.4 234.8 911.6 L245.4 913.2 Q247.0 913.4 248.5 913.7 L257.7 915.2 Q259.1 915.5 252.1 915.6 L208.0 916.4 Q201.0 916.6 208.3 916.9 L254.5 919.0 Q261.8 919.3 258.1 919.5 L234.2 920.6 Q230.4 920.8 226.4 921.0 L200.9 922.1 Q196.9 922.3 200.3 922.5 L222.2 923.8 Q225.7 924.0 228.9 924.2 L249.1 925.5 Q252.3 925.7 248.1 925.9 L221.6 926.9 Q217.4 927.1 220.9 927.3 L243.3 928.9 Q246.8 929.1 245.5 929.3 L237.2 930.3 Q235.9 930.5 239.2 930.8 L260.5 932.3 Q263.9 932.6 260.0 932.8 L235.6 934.1 Q231.8 934.3 236.7 934.6 L267.8 936.4 Q272.8 936.7 268.9 936.9 L244.4 938.2 Q240.6 938.4 236.4 938.6 L210.0 939.9 Q205.8 940.1 213.2 940.4 L259.9 942.2 Q267.3 942.5 264.0 942.7 L243.2 943.4 Q240.0 943.5 241.1 943.7 L248.4 945.1 Q249.5 945.3 251.1 945.5 L261.1 946.9 Q262.7 947.1 264.0 947.3 L272.2 948.7 Q273.5 949.0 271.7 949.2 L260.8 950.8 Q259.1 951.0 260.1 951.2 L266.5 952.3 Q267.5 952.5 268.2 952.7 L272.7 953.8 Q273.5 954.0 270.4 954.3 L251.2 956.2 Q248.2 956.5 242.5 956.7 L206.6 958.3 Q201.0 958.5 204.4 958.7 L225.7 959.4 Q229.0 959.5 230.8 959.7 L242.2 961.3 Q244.0 961.5 245.4 961.8 L254.9 963.4 Q256.4 963.6 256.2 963.8 L255.3 964.9 Q255.1 965.1 254.4 965.3 L250.0 966.4 Q249.3 966.6 249.1 966.8 L247.7 967.9 Q247.5 968.1 243.5 968.3 L218.6 969.3 Q214.7 969.5 217.1 969.7 L232.7 971.1 Q235.1 971.3 237.4 971.5 L251.4 972.9 Q253.6 973.2 247.9 973.3 L211.5 974.1 Q205.8 974.3 209.2 974.6 L231.0 976.7 Q234.5 977.0 233.6 977.2 L227.9 978.5 Q227.0 978.7 225.8 978.9 L217.9 980.2 Q216.7 980.4 219.4 980.5 L236.6 981.0 Q239.3 981.1 237.1 981.4 L223.0 983.5 Q220.8 983.8 223.4 984.0 L240.1 985.0 Q242.7 985.2 246.4 985.5 L269.8 987.6 Q273.5 987.9 264.5 988.0 L207.9 988.5 Q198.9 988.6 203.5 988.8 L232.4 990.0 Q236.9 990.2 241.3 990.4 L269.1 991.6 Q273.5 991.8 269.6 991.9 L245.3 993.1 Q241.5 993.3 237.4 993.4 L211.9 994.6 Q207.8 994.8 215.2 995.0 L262.0 996.2 Q269.4 996.4 268.1 996.7 L260.3 998.3 Q259.1 998.6 253.2 998.7 L215.8 999.4 Q209.9 999.6 213.7 999.8 L238.2 1001.4 Q242.1 1001.6 245.5 1001.9 L267.3 1003.4 Q270.7 1003.7 265.4 1003.8 L231.6 1004.9 Q226.3 1005.0 229.3 1005.2 L248.6 1006.7 Q251.7 1006.9 254.5 1007.1 L272.0 1008.5 Q274.8 1008.7 269.8 1009.0 L238.1 1010.9 Q233.1 1011.2 235.5 1011.4 L250.7 1012.7 Q253.1 1012.9 255.2 1013.1 L268.6 1014.4 Q270.7 1014.6 263.0 1014.8 L214.2 1015.8 Q206.5 1016.0 210.4 1016.2 L235.4 1017.5 Q239.3 1017.7 243.2 1017.9 L267.6 1019.2 Q271.4 1019.4 266.2 1019.6 L233.5 1021.2 Q228.3 1021.4 233.5 1021.8 L266.2 1023.8 Q271.4 1024.2 268.9 1024.4 L253.4 1026.0 Q250.9 1026.2 252.9 1026.5 L265.9 1028.6 Q268.0 1029.0 266.0 1029.2 L253.5 1030.8 Q251.6 1031.0 253.0 1031.3 L261.8 1032.8 Q263.2 1033.1 261.9 1033.2 L253.6 1034.3 Q252.3 1034.4 254.6 1034.8 L269.7 1036.8 Q272.1 1037.2 266.0 1037.4 L227.6 1038.6 Q221.5 1038.8 227.3 1039.1 L264.2 1041.2 Q270.0 1041.5 267.1 1041.7 L248.4 1043.1 Q245.4 1043.3 248.1 1043.6 L264.7 1045.1 Q267.3 1045.4 263.9 1045.5 L242.0 1046.6 Q238.6 1046.7 241.7 1047.0 L261.5 1048.5 Q264.6 1048.8 261.9 1049.0 L244.7 1050.6 Q242.0 1050.8 244.0 1051.0 L256.7 1052.2 Q258.7 1052.3 260.5 1052.5 L271.7 1053.7 Q273.5 1053.8 271.8 1054.0 L261.0 1055.2 Q259.3 1055.4 257.3 1055.6 L244.7 1056.8 Q242.7 1057.0 245.3 1057.1 L261.9 1058.2 Q264.6 1058.4 260.8 1058.4 L236.9 1059.0 Q233.1 1059.1 237.6 1059.4 L265.6 1061.5 Q270.0 1061.8 267.6 1062.0 L252.4 1063.3 Q250.0 1063.5 247.4 1063.8 L231.5 1065.0 Q229.0 1065.3 233.8 1065.6 L263.9 1067.7 Q268.7 1068.0 265.2 1068.3 L243.4 1070.4 Q240.0 1070.7 242.0 1070.9 L254.9 1072.2 Q256.9 1072.4 258.7 1072.6 L269.7 1073.9 Q271.4 1074.1 265.5 1074.5 L228.1 1076.5 Q222.2 1076.9 227.9 1077.2 L270.0 1079.6 L191.3 1079.6 Z"/></clipPath>
<g clip-path="url(#gsclip)">
<rect x="191.3" y="73.2" width="100" height="1007.8" fill="url(#stip)"/>
<rect x="191.3" y="139" width="100" height="11" fill="url(#shale)"/>
<rect x="191.3" y="196" width="100" height="8" fill="url(#shale)"/>
<rect x="191.3" y="236" width="100" height="10" fill="url(#shale)"/>
<rect x="191.3" y="250" width="100" height="12" fill="url(#shale)"/>
<rect x="191.3" y="275" width="100" height="9" fill="url(#shale)"/>
<rect x="191.3" y="300" width="100" height="54" fill="url(#shale)"/>
<rect x="191.3" y="388" width="100" height="4" fill="url(#shale)"/>
<rect x="191.3" y="540" width="100" height="8" fill="url(#shale)"/>
<rect x="191.3" y="566" width="100" height="34" fill="url(#shale)"/>
<rect x="191.3" y="630" width="100" height="10" fill="url(#shale)"/>
<rect x="191.3" y="652" width="100" height="34" fill="url(#shale)"/>
<rect x="191.3" y="690" width="100" height="22" fill="url(#shale)"/>
<rect x="191.3" y="768" width="100" height="10" fill="url(#shale)"/>
<rect x="191.3" y="790" width="100" height="53" fill="url(#shale)"/>
<rect x="191.3" y="852" width="100" height="34" fill="url(#shale)"/>
<rect x="191.3" y="925" width="100" height="6" fill="url(#shale)"/>
<rect x="191.3" y="962" width="100" height="54" fill="url(#shale)"/>
<rect x="191.3" y="1017" width="100" height="64" fill="url(#congl)"/>
</g>
<path d="M257.7 74.8 L265.6 76.3 Q266.6 76.6 265.7 76.8 L260.0 78.2 Q259.1 78.5 259.5 78.7 L262.1 80.0 Q262.5 80.3 262.2 80.5 L259.9 82.1 Q259.5 82.3 259.0 82.6 L255.5 84.1 Q255.0 84.4 254.3 84.7 L250.2 86.8 Q249.5 87.1 250.0 87.3 L253.3 88.5 Q253.8 88.7 254.0 88.9 L255.5 90.0 Q255.7 90.2 254.5 90.4 L246.7 91.7 Q245.4 91.9 246.6 92.1 L253.8 93.4 Q254.9 93.6 255.8 93.8 L261.6 95.1 Q262.5 95.3 261.4 95.5 L254.1 96.5 Q252.9 96.7 254.7 96.9 L265.6 98.2 Q267.3 98.4 262.5 98.6 L231.8 99.3 Q227.0 99.4 229.2 99.6 L243.2 100.6 Q245.4 100.8 246.1 101.0 L250.1 102.2 Q250.8 102.4 251.0 102.6 L252.2 103.8 Q252.4 104.0 253.0 104.1 L257.1 105.4 Q257.7 105.5 255.1 105.8 L238.6 107.2 Q236.0 107.5 233.3 107.7 L216.0 109.1 Q213.3 109.4 216.6 109.6 L237.4 110.8 Q240.6 111.0 240.8 111.3 L241.8 112.8 Q242.0 113.1 240.4 113.3 L230.0 114.7 Q228.4 114.9 226.7 115.1 L215.7 116.5 Q214.0 116.8 218.0 117.1 L243.5 118.9 Q247.5 119.2 244.5 119.5 L225.8 121.4 Q222.9 121.7 225.9 121.9 L245.0 123.5 Q248.0 123.7 250.7 124.0 L267.4 125.5 Q270.0 125.8 267.0 126.0 L247.5 127.4 Q244.5 127.6 241.2 127.9 L220.6 129.3 Q217.4 129.5 220.6 129.6 L240.9 130.3 Q244.1 130.4 241.4 130.7 L224.2 132.6 Q221.5 132.9 219.7 133.2 L208.3 135.1 Q206.5 135.4 211.6 135.6 L244.4 136.8 Q249.5 137.0 252.3 137.2 L270.0 138.4 Q272.8 138.6 265.5 138.8 L219.2 139.8 Q211.9 140.0 213.1 140.2 L220.4 141.6 Q221.5 141.8 225.2 142.1 L248.6 143.8 Q252.3 144.1 250.3 144.3 L237.6 145.8 Q235.6 146.0 233.4 146.3 L219.6 147.7 Q217.4 147.9 219.0 148.1 L228.8 149.1 Q230.4 149.3 229.9 149.5 L226.8 151.1 Q226.3 151.4 228.7 151.6 L244.3 152.9 Q246.8 153.1 244.1 153.4 L226.9 155.2 Q224.2 155.5 226.9 155.6 L244.1 156.7 Q246.8 156.8 244.9 157.1 L233.0 158.6 Q231.2 158.9 228.8 159.1 L214.2 160.7 Q211.9 160.9 213.4 161.1 L223.1 162.3 Q224.6 162.5 225.9 162.7 L233.9 163.9 Q235.2 164.1 233.9 164.3 L226.1 166.1 Q224.9 166.4 225.7 166.6 L230.9 168.2 Q231.8 168.4 229.7 168.7 L216.7 170.6 Q214.7 170.9 217.0 171.0 L231.5 171.7 Q233.8 171.9 232.9 172.1 L227.1 173.4 Q226.1 173.6 224.9 173.8 L216.6 175.1 Q215.3 175.3 215.3 175.6 L215.3 177.7 Q215.3 178.0 217.9 178.2 L234.0 179.7 Q236.6 179.9 238.9 180.2 L253.4 181.6 Q255.7 181.8 254.7 182.0 L248.7 183.2 Q247.7 183.3 246.5 183.5 L238.5 184.7 Q237.2 184.9 238.4 185.1 L246.0 186.5 Q247.2 186.7 248.1 186.9 L253.7 188.3 Q254.6 188.5 255.9 188.7 L264.0 190.1 Q265.3 190.3 264.0 190.6 L256.2 192.1 Q255.0 192.4 256.0 192.5 L262.2 193.6 Q263.2 193.7 261.6 193.9 L251.4 195.2 Q249.8 195.4 247.8 195.7 L235.1 197.0 Q233.1 197.2 237.2 197.5 L263.2 199.6 Q267.3 199.9 264.3 200.2 L245.6 202.1 Q242.7 202.4 244.4 202.5 L255.4 203.7 Q257.2 203.9 258.6 204.0 L267.9 205.2 Q269.4 205.4 265.3 205.5 L239.9 206.6 Q235.9 206.7 239.0 206.9 L258.7 207.9 Q261.8 208.1 259.9 208.3 L247.5 209.5 Q245.5 209.7 243.2 209.9 L228.6 211.2 Q226.3 211.4 229.4 211.4 L249.1 211.8 Q252.3 211.9 249.3 212.1 L230.6 213.6 Q227.7 213.8 232.0 214.1 L259.5 215.5 Q263.9 215.7 260.5 215.9 L239.2 216.9 Q235.9 217.1 240.1 217.4 L267.1 219.3 Q271.4 219.6 266.3 219.8 L234.1 221.0 Q229.0 221.2 232.2 221.5 L252.5 223.1 Q255.7 223.4 250.7 223.7 L219.0 225.4 Q214.0 225.7 216.1 225.9 L229.6 226.9 Q231.8 227.1 235.7 227.4 L260.6 229.5 Q264.6 229.8 256.9 230.0 L208.0 231.4 Q200.3 231.6 202.8 231.8 L219.0 233.0 Q221.5 233.2 220.1 233.5 L211.3 235.4 Q209.9 235.7 214.7 236.0 L245.4 238.1 Q250.2 238.4 246.1 238.6 L220.1 239.9 Q216.0 240.1 218.0 240.3 L230.5 241.5 Q232.4 241.7 235.8 241.9 L257.1 243.3 Q260.5 243.5 259.5 243.7 L253.2 245.1 Q252.3 245.3 252.9 245.4 L257.1 246.5 Q257.7 246.6 254.7 246.9 L235.4 248.4 Q232.4 248.7 229.0 248.9 L207.8 250.5 Q204.4 250.7 205.9 250.9 L215.4 252.1 Q216.9 252.2 218.2 252.4 L227.0 253.6 Q228.3 253.8 225.1 253.9 L204.9 254.7 Q201.7 254.8 204.3 255.1 L220.9 256.9 Q223.5 257.2 222.6 257.4 L216.3 258.7 Q215.3 258.9 217.4 259.2 L230.2 260.6 Q232.2 260.8 233.9 261.0 L244.4 262.4 Q246.1 262.6 244.1 262.9 L231.1 264.2 Q229.0 264.4 230.8 264.6 L242.1 265.7 Q243.9 265.9 245.4 266.1 L254.9 267.2 Q256.4 267.4 252.7 267.8 L229.3 269.8 Q225.6 270.2 231.3 270.5 L267.1 272.6 Q272.8 272.9 268.3 273.1 L239.8 274.6 Q235.3 274.8 230.6 275.0 L200.9 276.5 Q196.2 276.7 198.6 276.8 L213.7 277.6 Q216.0 277.7 215.0 278.0 L208.2 280.1 Q207.1 280.4 210.2 280.7 L229.8 282.2 Q232.9 282.5 235.9 282.7 L254.7 284.3 Q257.7 284.5 254.9 284.7 L237.2 285.9 Q234.4 286.1 231.2 286.3 L211.0 287.5 Q207.8 287.7 212.3 288.0 L240.3 290.1 Q244.7 290.4 243.0 290.6 L232.1 291.8 Q230.4 292.0 233.0 292.3 L249.6 294.2 Q252.3 294.5 250.6 294.7 L240.2 295.7 Q238.6 295.9 240.7 296.1 L254.2 297.3 Q256.4 297.5 252.7 297.8 L229.3 299.9 Q225.6 300.2 229.2 300.4 L252.1 301.2 Q255.7 301.3 252.0 301.5 L228.6 302.8 Q224.9 303.0 226.5 303.1 L236.3 303.9 Q237.9 304.1 234.0 304.3 L209.0 305.5 Q205.1 305.7 206.2 306.0 L213.5 307.5 Q214.7 307.8 214.0 308.0 L209.8 309.6 Q209.2 309.8 211.0 309.9 L222.4 310.8 Q224.2 310.9 221.4 311.0 L203.8 311.7 Q201.0 311.9 204.8 312.1 L229.0 313.7 Q232.8 313.9 236.4 314.2 L259.0 315.7 Q262.5 316.0 261.2 316.2 L252.9 317.8 Q251.6 318.0 248.4 318.1 L228.1 318.7 Q224.9 318.8 224.1 319.0 L218.9 320.2 Q218.1 320.3 217.0 320.5 L209.7 321.7 Q208.5 321.8 209.8 322.0 L218.1 323.3 Q219.4 323.5 219.0 323.7 L215.8 324.9 Q215.3 325.1 217.2 325.5 L228.6 327.5 Q230.4 327.9 230.1 328.1 L228.0 329.4 Q227.7 329.6 228.7 329.7 L235.5 330.2 Q236.5 330.3 234.3 330.6 L220.3 332.7 Q218.1 333.1 219.5 333.3 L228.5 334.7 Q230.0 335.0 231.0 335.2 L237.6 336.7 Q238.6 336.9 236.4 337.0 L222.3 337.7 Q220.1 337.8 222.2 338.1 L235.2 339.4 Q237.2 339.6 234.4 339.9 L216.8 342.0 Q214.0 342.4 216.1 342.6 L229.6 343.8 Q231.8 344.0 232.6 344.2 L237.8 345.4 Q238.6 345.6 237.6 345.8 L231.4 347.2 Q230.4 347.4 227.8 347.7 L211.7 349.8 Q209.2 350.1 211.2 350.2 L224.2 350.7 Q226.3 350.8 224.3 351.2 L211.8 353.2 Q209.9 353.6 212.3 353.8 L228.0 355.3 Q230.4 355.5 232.5 355.8 L246.0 357.3 Q248.2 357.5 250.0 357.6 L262.0 358.1 Q263.9 358.2 263.1 358.4 L257.9 359.7 Q257.0 359.9 255.8 360.1 L248.0 361.4 Q246.8 361.6 248.7 361.9 L260.6 363.4 Q262.5 363.7 261.8 364.0 L257.1 365.8 Q256.4 366.1 257.2 366.2 L262.4 367.0 Q263.2 367.1 262.4 367.3 L257.4 368.4 Q256.6 368.6 255.4 368.8 L247.8 369.9 Q246.6 370.1 245.9 370.3 L241.4 371.4 Q240.6 371.6 244.2 371.8 L266.5 373.3 Q270.0 373.5 268.7 373.7 L260.4 375.1 Q259.1 375.3 260.0 375.5 L265.7 376.5 Q266.6 376.7 261.5 376.9 L229.3 378.7 Q224.2 379.0 229.2 379.2 L260.3 380.6 Q265.3 380.8 262.5 381.0 L245.4 382.6 Q242.7 382.8 244.3 382.9 L254.1 383.4 Q255.7 383.5 250.8 383.8 L220.2 385.5 Q215.3 385.8 216.2 386.0 L222.0 387.4 Q222.9 387.6 228.6 387.9 L265.0 390.0 Q270.7 390.3 268.3 390.5 L253.3 391.5 Q250.9 391.7 252.3 391.9 L261.1 393.3 Q262.5 393.5 261.0 393.8 L251.7 395.5 Q250.2 395.8 251.9 396.0 L262.8 397.0 Q264.6 397.2 262.6 397.5 L250.1 399.6 Q248.2 399.9 250.3 400.2 L263.8 402.3 Q265.9 402.6 264.4 402.9 L254.5 404.4 Q252.9 404.7 254.3 404.9 L262.6 406.1 Q263.9 406.3 263.1 406.5 L258.5 407.7 Q257.7 407.9 256.7 408.1 L250.5 409.3 Q249.5 409.5 250.9 409.7 L259.5 411.1 Q260.8 411.3 261.8 411.5 L267.7 412.9 Q268.7 413.2 267.8 413.4 L262.3 414.9 Q261.4 415.1 260.2 415.3 L252.2 416.8 Q250.9 417.0 251.7 417.2 L257.1 418.8 Q257.9 419.0 258.6 419.3 L263.2 420.9 Q263.9 421.1 263.3 421.3 L259.3 422.8 Q258.7 423.0 257.9 423.2 L253.0 424.7 Q252.3 424.9 253.6 425.1 L261.9 426.4 Q263.2 426.6 262.0 426.9 L254.2 429.0 Q252.9 429.3 254.6 429.6 L265.0 431.5 Q266.6 431.8 265.9 432.0 L261.5 433.6 Q260.8 433.8 260.0 434.1 L254.5 435.6 Q253.6 435.9 254.5 436.0 L259.7 437.2 Q260.5 437.4 260.9 437.6 L263.5 438.7 Q263.9 438.9 262.2 439.1 L251.3 440.7 Q249.5 440.9 249.9 441.3 L251.9 443.3 Q252.3 443.7 250.5 443.8 L239.0 444.5 Q237.2 444.6 238.9 444.8 L249.2 446.0 Q250.9 446.2 252.3 446.4 L261.1 447.6 Q262.5 447.8 261.3 448.1 L253.5 450.2 Q252.3 450.5 253.4 450.8 L260.7 452.9 Q261.8 453.2 260.7 453.5 L253.4 455.0 Q252.3 455.3 249.2 455.4 L230.0 456.2 Q227.0 456.4 231.2 456.7 L258.3 458.4 Q262.5 458.7 261.3 459.0 L253.5 461.1 Q252.3 461.4 253.0 461.6 L257.9 462.9 Q258.7 463.1 259.1 463.3 L262.1 464.6 Q262.5 464.9 261.0 465.2 L251.7 467.3 Q250.2 467.6 251.0 467.8 L256.3 469.1 Q257.2 469.3 257.8 469.5 L261.9 470.8 Q262.5 471.0 260.5 471.3 L248.1 473.4 Q246.1 473.7 248.1 474.0 L260.5 475.3 Q262.5 475.5 261.3 475.8 L253.5 477.6 Q252.3 477.8 254.6 478.2 L269.1 480.2 Q271.4 480.6 267.9 480.9 L245.5 483.0 Q242.0 483.3 245.4 483.6 L266.7 485.7 Q270.0 486.0 270.4 486.4 L272.4 488.5 Q272.8 488.8 268.7 488.9 L242.7 489.6 Q238.6 489.7 241.0 490.0 L256.0 491.8 Q258.4 492.1 255.2 492.3 L235.0 493.6 Q231.8 493.8 233.4 494.0 L244.0 495.4 Q245.6 495.7 246.9 495.9 L255.1 497.3 Q256.3 497.5 258.0 497.7 L268.4 499.1 Q270.0 499.3 269.1 499.5 L263.0 500.6 Q262.0 500.8 260.9 501.0 L253.4 502.1 Q252.3 502.3 251.0 502.5 L243.2 503.5 Q242.0 503.7 243.0 503.9 L249.1 505.3 Q250.1 505.5 250.6 505.7 L253.9 507.1 Q254.5 507.3 255.4 507.5 L261.6 508.9 Q262.5 509.1 259.6 509.5 L240.9 511.5 Q237.9 511.9 240.8 512.1 L259.0 513.3 Q261.8 513.5 257.7 513.8 L231.8 515.9 Q227.7 516.3 231.5 516.6 L255.9 518.7 Q259.8 519.0 258.7 519.2 L251.9 520.4 Q250.9 520.6 249.4 520.7 L240.1 521.9 Q238.6 522.1 239.6 522.2 L245.8 523.0 Q246.8 523.1 245.0 523.3 L233.8 524.7 Q232.1 524.9 230.0 525.1 L216.8 526.4 Q214.7 526.6 217.1 526.8 L232.7 528.1 Q235.2 528.3 231.9 528.6 L211.1 530.4 Q207.8 530.7 210.7 530.9 L228.9 531.6 Q231.8 531.7 230.2 531.9 L220.6 533.5 Q219.1 533.8 217.2 534.0 L205.0 535.6 Q203.0 535.8 209.2 536.1 L248.2 538.2 Q254.3 538.5 248.8 538.9 L214.0 540.9 Q208.5 541.3 211.5 541.5 L230.7 542.8 Q233.7 543.0 236.3 543.2 L253.0 544.5 Q255.7 544.7 253.2 544.9 L237.4 546.2 Q234.9 546.4 232.0 546.6 L213.5 547.9 Q210.6 548.1 215.2 548.3 L244.3 549.3 Q248.8 549.5 246.2 549.7 L229.6 551.3 Q227.0 551.5 229.1 551.7 L242.6 552.5 Q244.7 552.6 240.1 552.9 L211.1 554.7 Q206.5 554.9 210.9 555.2 L238.9 556.8 Q243.4 557.0 240.5 557.3 L222.3 559.2 Q219.4 559.5 221.8 559.6 L236.9 560.7 Q239.3 560.8 236.4 560.9 L218.2 561.7 Q215.3 561.8 218.6 562.0 L239.4 563.6 Q242.7 563.8 239.6 564.0 L219.8 565.3 Q216.7 565.5 221.4 565.7 L251.0 567.0 Q255.7 567.3 253.2 567.4 L237.6 568.5 Q235.2 568.6 236.9 568.8 L247.5 570.0 Q249.2 570.2 250.5 570.4 L259.1 571.6 Q260.5 571.8 257.2 571.9 L236.4 573.1 Q233.1 573.3 229.6 573.4 L207.8 574.6 Q204.4 574.8 207.0 575.0 L223.7 576.2 Q226.3 576.4 226.1 576.6 L225.3 578.1 Q225.2 578.3 224.6 578.6 L221.3 580.0 Q220.8 580.2 222.0 580.6 L229.2 582.6 Q230.4 583.0 229.3 583.2 L222.6 584.8 Q221.5 585.0 222.8 585.3 L231.1 587.1 Q232.4 587.4 231.2 587.6 L223.4 588.9 Q222.2 589.1 221.2 589.5 L215.0 591.5 Q214.0 591.9 216.9 592.0 L235.6 592.7 Q238.6 592.8 239.2 593.0 L242.8 594.2 Q243.4 594.4 243.6 594.6 L244.6 595.8 Q244.7 596.0 241.1 596.3 L218.3 598.4 Q214.7 598.7 215.9 598.9 L223.7 600.3 Q224.9 600.5 223.4 600.7 L214.1 601.9 Q212.6 602.1 215.6 602.3 L234.3 603.6 Q237.2 603.8 233.6 604.1 L210.8 605.9 Q207.1 606.2 209.4 606.4 L224.0 607.2 Q226.3 607.3 227.4 607.5 L234.7 608.5 Q235.9 608.7 234.5 608.9 L226.2 610.1 Q224.9 610.3 226.8 610.5 L238.8 611.5 Q240.6 611.7 236.0 611.9 L207.0 612.9 Q202.4 613.1 205.0 613.3 L221.6 614.5 Q224.2 614.7 222.3 615.0 L210.4 616.6 Q208.5 616.9 211.3 617.2 L229.0 619.3 Q231.8 619.6 233.8 619.9 L246.8 621.7 Q248.8 621.9 244.6 622.1 L217.6 622.8 Q213.3 622.9 216.0 623.1 L232.8 624.5 Q235.5 624.7 237.7 624.9 L252.1 626.2 Q254.3 626.5 249.5 626.5 L218.8 627.1 Q214.0 627.1 219.1 627.4 L251.3 629.2 Q256.4 629.5 255.9 629.8 L252.8 631.9 Q252.3 632.2 248.3 632.3 L223.4 632.8 Q219.4 632.9 223.5 632.6 L249.5 630.9 Q253.6 630.7 249.6 630.9 L224.2 632.5 Q220.1 632.7 222.3 632.9 L235.9 634.2 Q238.1 634.4 239.9 634.6 L251.8 635.9 Q253.6 636.2 248.9 636.4 L218.7 638.0 Q214.0 638.2 218.9 638.4 L250.1 639.6 Q255.0 639.8 249.1 640.1 L211.7 641.8 Q205.8 642.0 209.2 642.2 L231.0 643.5 Q234.5 643.7 236.1 643.9 L245.9 645.2 Q247.5 645.4 248.7 645.6 L256.5 646.9 Q257.7 647.1 254.8 647.3 L236.1 648.3 Q233.1 648.5 236.7 648.8 L259.6 650.9 Q263.2 651.2 256.5 651.5 L213.9 653.2 Q207.1 653.5 208.0 653.7 L213.8 654.9 Q214.7 655.1 215.4 655.3 L220.1 656.5 Q220.8 656.7 221.7 656.9 L227.4 658.5 Q228.3 658.7 227.3 659.0 L220.5 660.5 Q219.4 660.8 220.2 661.1 L224.9 663.2 Q225.6 663.5 225.0 663.7 L221.6 665.3 Q221.0 665.5 220.1 665.8 L214.2 667.4 Q213.3 667.6 214.9 667.8 L224.7 669.4 Q226.3 669.7 225.8 669.9 L222.7 671.5 Q222.2 671.7 223.0 671.9 L228.2 673.5 Q229.0 673.8 230.2 674.0 L238.0 675.2 Q239.3 675.4 241.8 675.7 L257.9 677.8 Q260.5 678.1 256.4 678.3 L231.0 679.1 Q227.0 679.2 228.5 679.4 L238.4 680.2 Q240.0 680.3 237.9 680.6 L225.1 682.2 Q223.0 682.5 220.7 682.8 L206.0 684.4 Q203.7 684.7 205.9 684.9 L219.4 686.5 Q221.5 686.7 219.4 687.1 L206.5 689.1 Q204.4 689.5 205.9 689.7 L215.6 691.1 Q217.2 691.3 218.5 691.5 L227.0 692.9 Q228.3 693.2 227.5 693.5 L222.3 695.3 Q221.5 695.6 220.0 695.9 L210.7 697.8 Q209.2 698.1 210.8 698.4 L220.6 700.5 Q222.2 700.8 223.3 701.0 L230.6 702.0 Q231.8 702.2 231.0 702.4 L225.9 703.5 Q225.1 703.7 224.1 703.9 L218.3 705.0 Q217.4 705.2 217.9 705.4 L220.9 706.5 Q221.4 706.7 221.5 706.9 L222.1 708.0 Q222.2 708.2 221.0 708.5 L213.2 710.4 Q211.9 710.7 215.5 710.9 L238.5 712.6 Q242.1 712.9 245.3 713.1 L265.5 714.8 Q268.7 715.0 267.4 715.2 L259.1 716.4 Q257.8 716.5 256.2 716.7 L246.0 717.9 Q244.4 718.1 243.2 718.2 L235.7 719.4 Q234.5 719.6 238.2 719.7 L261.6 720.4 Q265.3 720.5 263.2 720.7 L250.2 721.7 Q248.2 721.9 249.6 722.2 L258.4 724.0 Q259.8 724.3 257.5 724.6 L242.9 726.0 Q240.6 726.3 238.1 726.5 L222.0 727.9 Q219.4 728.2 224.8 728.4 L258.6 729.6 Q263.9 729.8 260.4 730.1 L238.6 731.6 Q235.2 731.9 237.1 732.1 L249.2 733.2 Q251.2 733.4 252.9 733.6 L264.2 734.8 Q265.9 735.0 263.1 735.1 L244.9 735.7 Q242.0 735.8 244.4 736.1 L259.5 737.8 Q261.8 738.0 258.4 738.2 L236.7 739.5 Q233.2 739.7 229.6 739.9 L206.7 741.2 Q203.0 741.4 209.4 741.7 L249.4 743.5 Q255.7 743.8 252.6 743.9 L233.2 745.1 Q230.2 745.3 226.7 745.5 L205.1 746.7 Q201.7 746.9 204.5 747.1 L222.1 748.3 Q224.8 748.5 227.2 748.7 L242.4 749.9 Q244.7 750.0 239.4 750.3 L205.6 752.1 Q200.3 752.4 206.9 752.6 L248.4 753.9 Q255.0 754.2 251.5 754.4 L229.5 755.8 Q226.1 756.0 222.5 756.2 L199.8 757.6 Q196.2 757.8 204.1 758.0 L254.0 759.0 Q261.8 759.2 258.3 759.4 L236.2 760.6 Q232.7 760.8 228.9 761.0 L204.8 762.2 Q201.0 762.4 202.7 762.6 L213.6 764.4 Q215.3 764.7 214.9 764.9 L211.7 766.5 Q211.2 766.7 214.0 767.0 L231.7 768.9 Q234.5 769.2 232.3 769.4 L218.2 770.6 Q216.0 770.8 216.0 770.9 L216.0 771.3 Q216.0 771.4 218.1 771.6 L231.1 772.8 Q233.1 773.0 234.4 773.2 L242.6 774.4 Q243.8 774.6 245.0 774.8 L252.5 776.0 Q253.6 776.2 255.2 776.5 L265.1 778.6 Q266.6 778.9 264.7 779.0 L252.8 779.7 Q250.9 779.8 253.3 780.1 L268.3 781.8 Q270.7 782.0 263.2 782.2 L215.4 783.2 Q207.8 783.4 209.4 783.7 L219.3 785.8 Q220.8 786.1 221.3 786.4 L224.4 788.2 Q224.9 788.5 225.7 788.7 L230.7 790.0 Q231.5 790.2 231.9 790.4 L234.7 791.7 Q235.2 791.9 234.9 792.1 L233.4 793.7 Q233.1 793.9 234.8 794.1 L245.8 795.1 Q247.5 795.3 245.0 795.5 L229.0 796.9 Q226.5 797.1 223.7 797.4 L206.5 798.8 Q203.7 799.0 206.6 799.2 L224.7 800.4 Q227.6 800.6 230.0 800.7 L245.7 801.9 Q248.2 802.1 244.3 802.3 L219.9 803.3 Q216.0 803.5 218.7 803.8 L235.9 805.5 Q238.6 805.8 236.0 806.1 L219.9 807.7 Q217.4 808.0 217.7 808.3 L219.9 809.9 Q220.2 810.2 220.1 810.5 L219.5 812.1 Q219.4 812.4 220.2 812.6 L224.6 814.2 Q225.3 814.4 225.8 814.7 L228.6 816.2 Q229.0 816.5 231.0 816.7 L243.5 817.8 Q245.5 818.0 247.1 818.2 L256.9 819.3 Q258.4 819.5 253.2 819.8 L219.9 821.4 Q214.7 821.7 214.9 821.9 L216.6 823.0 Q216.9 823.2 216.9 823.4 L217.3 824.5 Q217.4 824.7 217.7 824.9 L219.8 826.1 Q220.1 826.3 219.7 826.6 L216.7 828.1 Q216.2 828.4 215.6 828.6 L211.8 830.2 Q211.2 830.4 213.5 830.6 L227.5 832.0 Q229.7 832.2 226.8 832.5 L208.6 834.3 Q205.8 834.5 209.5 834.8 L232.8 836.5 Q236.5 836.7 235.5 836.9 L228.7 837.9 Q227.7 838.1 230.8 838.3 L250.5 839.8 Q253.6 840.0 250.4 840.3 L230.2 841.9 Q227.0 842.2 227.0 842.5 L227.0 844.6 Q227.0 844.9 225.3 845.1 L214.8 846.4 Q213.2 846.6 211.2 846.8 L198.8 848.0 Q196.9 848.2 197.7 848.4 L202.7 849.7 Q203.5 849.8 204.1 850.0 L207.9 851.3 Q208.5 851.5 209.3 851.7 L214.5 852.9 Q215.3 853.1 215.9 853.4 L219.2 854.8 Q219.7 855.0 220.0 855.2 L221.9 856.6 Q222.2 856.8 224.5 857.0 L239.0 858.4 Q241.3 858.6 237.2 858.7 L211.2 859.1 Q207.1 859.1 214.2 859.4 L258.9 860.7 Q265.9 860.9 260.5 861.2 L226.2 862.7 Q220.8 863.0 223.2 863.2 L238.3 864.4 Q240.6 864.6 239.5 864.8 L232.2 866.2 Q231.1 866.4 231.0 866.6 L230.7 867.9 Q230.6 868.1 230.3 868.3 L228.0 869.6 Q227.7 869.8 227.1 870.1 L223.4 871.6 Q222.9 871.9 223.4 872.1 L227.1 873.7 Q227.7 873.9 226.7 874.1 L220.4 875.1 Q219.4 875.3 219.2 875.5 L217.9 876.8 Q217.7 877.0 217.3 877.2 L215.0 878.5 Q214.7 878.7 212.9 879.0 L202.0 880.7 Q200.3 881.0 200.7 881.2 L203.4 882.4 Q203.8 882.6 204.2 882.8 L206.1 884.0 Q206.5 884.2 210.4 884.4 L235.3 886.0 Q239.3 886.2 236.8 886.4 L221.4 887.9 Q219.0 888.1 216.2 888.4 L198.3 889.8 Q195.5 890.0 196.8 890.3 L204.5 891.7 Q205.8 892.0 208.0 892.2 L221.9 893.3 Q224.0 893.5 226.0 893.7 L238.6 894.9 Q240.6 895.1 236.5 895.4 L210.0 897.5 Q205.8 897.8 206.9 898.1 L214.2 899.4 Q215.3 899.6 218.5 899.8 L238.2 901.1 Q241.3 901.3 238.1 901.4 L217.9 902.2 Q214.7 902.4 217.6 902.5 L236.0 903.7 Q239.0 903.9 241.5 904.0 L257.3 905.2 Q259.8 905.4 257.9 905.5 L245.9 906.7 Q244.0 906.9 241.7 907.0 L227.2 908.2 Q224.9 908.4 227.0 908.5 L240.6 909.6 Q242.7 909.7 241.5 909.9 L234.3 911.2 Q233.1 911.4 234.8 911.6 L245.4 913.2 Q247.0 913.4 248.5 913.7 L257.7 915.2 Q259.1 915.5 252.1 915.6 L208.0 916.4 Q201.0 916.6 208.3 916.9 L254.5 919.0 Q261.8 919.3 258.1 919.5 L234.2 920.6 Q230.4 920.8 226.4 921.0 L200.9 922.1 Q196.9 922.3 200.3 922.5 L222.2 923.8 Q225.7 924.0 228.9 924.2 L249.1 925.5 Q252.3 925.7 248.1 925.9 L221.6 926.9 Q217.4 927.1 220.9 927.3 L243.3 928.9 Q246.8 929.1 245.5 929.3 L237.2 930.3 Q235.9 930.5 239.2 930.8 L260.5 932.3 Q263.9 932.6 260.0 932.8 L235.6 934.1 Q231.8 934.3 236.7 934.6 L267.8 936.4 Q272.8 936.7 268.9 936.9 L244.4 938.2 Q240.6 938.4 236.4 938.6 L210.0 939.9 Q205.8 940.1 213.2 940.4 L259.9 942.2 Q267.3 942.5 264.0 942.7 L243.2 943.4 Q240.0 943.5 241.1 943.7 L248.4 945.1 Q249.5 945.3 251.1 945.5 L261.1 946.9 Q262.7 947.1 264.0 947.3 L272.2 948.7 Q273.5 949.0 271.7 949.2 L260.8 950.8 Q259.1 951.0 260.1 951.2 L266.5 952.3 Q267.5 952.5 268.2 952.7 L272.7 953.8 Q273.5 954.0 270.4 954.3 L251.2 956.2 Q248.2 956.5 242.5 956.7 L206.6 958.3 Q201.0 958.5 204.4 958.7 L225.7 959.4 Q229.0 959.5 230.8 959.7 L242.2 961.3 Q244.0 961.5 245.4 961.8 L254.9 963.4 Q256.4 963.6 256.2 963.8 L255.3 964.9 Q255.1 965.1 254.4 965.3 L250.0 966.4 Q249.3 966.6 249.1 966.8 L247.7 967.9 Q247.5 968.1 243.5 968.3 L218.6 969.3 Q214.7 969.5 217.1 969.7 L232.7 971.1 Q235.1 971.3 237.4 971.5 L251.4 972.9 Q253.6 973.2 247.9 973.3 L211.5 974.1 Q205.8 974.3 209.2 974.6 L231.0 976.7 Q234.5 977.0 233.6 977.2 L227.9 978.5 Q227.0 978.7 225.8 978.9 L217.9 980.2 Q216.7 980.4 219.4 980.5 L236.6 981.0 Q239.3 981.1 237.1 981.4 L223.0 983.5 Q220.8 983.8 223.4 984.0 L240.1 985.0 Q242.7 985.2 246.4 985.5 L269.8 987.6 Q273.5 987.9 264.5 988.0 L207.9 988.5 Q198.9 988.6 203.5 988.8 L232.4 990.0 Q236.9 990.2 241.3 990.4 L269.1 991.6 Q273.5 991.8 269.6 991.9 L245.3 993.1 Q241.5 993.3 237.4 993.4 L211.9 994.6 Q207.8 994.8 215.2 995.0 L262.0 996.2 Q269.4 996.4 268.1 996.7 L260.3 998.3 Q259.1 998.6 253.2 998.7 L215.8 999.4 Q209.9 999.6 213.7 999.8 L238.2 1001.4 Q242.1 1001.6 245.5 1001.9 L267.3 1003.4 Q270.7 1003.7 265.4 1003.8 L231.6 1004.9 Q226.3 1005.0 229.3 1005.2 L248.6 1006.7 Q251.7 1006.9 254.5 1007.1 L272.0 1008.5 Q274.8 1008.7 269.8 1009.0 L238.1 1010.9 Q233.1 1011.2 235.5 1011.4 L250.7 1012.7 Q253.1 1012.9 255.2 1013.1 L268.6 1014.4 Q270.7 1014.6 263.0 1014.8 L214.2 1015.8 Q206.5 1016.0 210.4 1016.2 L235.4 1017.5 Q239.3 1017.7 243.2 1017.9 L267.6 1019.2 Q271.4 1019.4 266.2 1019.6 L233.5 1021.2 Q228.3 1021.4 233.5 1021.8 L266.2 1023.8 Q271.4 1024.2 268.9 1024.4 L253.4 1026.0 Q250.9 1026.2 252.9 1026.5 L265.9 1028.6 Q268.0 1029.0 266.0 1029.2 L253.5 1030.8 Q251.6 1031.0 253.0 1031.3 L261.8 1032.8 Q263.2 1033.1 261.9 1033.2 L253.6 1034.3 Q252.3 1034.4 254.6 1034.8 L269.7 1036.8 Q272.1 1037.2 266.0 1037.4 L227.6 1038.6 Q221.5 1038.8 227.3 1039.1 L264.2 1041.2 Q270.0 1041.5 267.1 1041.7 L248.4 1043.1 Q245.4 1043.3 248.1 1043.6 L264.7 1045.1 Q267.3 1045.4 263.9 1045.5 L242.0 1046.6 Q238.6 1046.7 241.7 1047.0 L261.5 1048.5 Q264.6 1048.8 261.9 1049.0 L244.7 1050.6 Q242.0 1050.8 244.0 1051.0 L256.7 1052.2 Q258.7 1052.3 260.5 1052.5 L271.7 1053.7 Q273.5 1053.8 271.8 1054.0 L261.0 1055.2 Q259.3 1055.4 257.3 1055.6 L244.7 1056.8 Q242.7 1057.0 245.3 1057.1 L261.9 1058.2 Q264.6 1058.4 260.8 1058.4 L236.9 1059.0 Q233.1 1059.1 237.6 1059.4 L265.6 1061.5 Q270.0 1061.8 267.6 1062.0 L252.4 1063.3 Q250.0 1063.5 247.4 1063.8 L231.5 1065.0 Q229.0 1065.3 233.8 1065.6 L263.9 1067.7 Q268.7 1068.0 265.2 1068.3 L243.4 1070.4 Q240.0 1070.7 242.0 1070.9 L254.9 1072.2 Q256.9 1072.4 258.7 1072.6 L269.7 1073.9 Q271.4 1074.1 265.5 1074.5 L228.1 1076.5 Q222.2 1076.9 227.9 1077.2 L270.0 1079.6" fill="none" stroke="#000" stroke-width="1.5" stroke-linejoin="round"/>
<path d="M100.6 74.3 L97.0 76.5 Q96.6 76.8 95.7 77.0 L90.3 78.5 Q89.5 78.7 89.5 78.8 L89.5 79.7 Q89.5 79.8 90.5 80.0 L96.6 81.5 Q97.5 81.7 97.7 82.1 L98.6 84.4 Q98.7 84.8 99.6 85.2 L104.7 87.5 Q105.5 87.9 104.9 88.0 L100.6 89.0 Q100.0 89.2 100.0 89.3 L100.0 90.1 Q100.0 90.3 100.9 90.5 L107.0 91.8 Q108.0 92.0 106.1 92.3 L94.4 94.4 Q92.6 94.7 92.6 94.9 L92.6 95.7 Q92.6 95.8 93.2 95.8 L96.9 95.9 Q97.5 95.9 96.2 96.1 L87.7 97.4 Q86.4 97.6 86.4 97.7 L86.4 98.5 Q86.4 98.7 91.5 98.8 L123.9 99.7 Q129.0 99.8 129.1 100.1 L130.0 101.4 Q130.1 101.6 130.0 101.8 L129.1 103.1 Q129.0 103.3 125.4 103.6 L102.9 105.5 Q99.4 105.8 99.4 106.0 L99.4 106.8 Q99.4 106.9 104.2 107.2 L135.2 108.9 Q140.1 109.2 136.7 109.6 L115.1 111.7 Q111.7 112.0 111.7 112.1 L111.7 113.0 Q111.7 113.1 113.7 113.3 L126.4 114.4 Q128.4 114.6 129.9 114.8 L139.2 116.4 Q140.7 116.6 136.5 116.9 L110.3 118.5 Q106.1 118.8 106.1 118.9 L106.1 119.7 Q106.1 119.9 109.3 120.0 L128.9 120.5 Q132.0 120.6 130.2 120.8 L118.8 122.2 Q117.0 122.4 114.7 122.6 L100.3 124.0 Q98.0 124.3 96.3 124.4 L85.6 125.4 Q83.9 125.6 83.9 125.7 L83.9 126.5 Q83.9 126.7 90.1 127.0 L129.0 129.1 Q135.1 129.4 132.0 129.5 L112.3 130.0 Q109.2 130.1 109.2 130.3 L109.2 131.1 Q109.2 131.2 111.7 131.4 L127.5 132.7 Q130.0 132.9 132.1 133.2 L145.4 134.8 Q147.5 135.1 139.5 135.4 L88.9 137.6 Q80.9 137.9 80.9 138.0 L80.9 138.9 Q80.9 139.0 88.3 139.2 L135.1 140.1 Q142.5 140.3 140.2 140.5 L125.2 141.9 Q122.8 142.1 120.2 142.3 L103.8 143.3 Q101.2 143.4 101.2 143.6 L101.2 144.4 Q101.2 144.5 103.5 144.7 L118.1 145.8 Q120.4 146.0 122.2 146.2 L133.9 147.7 Q135.7 147.9 134.7 148.1 L128.1 149.5 Q127.1 149.7 125.8 149.9 L117.9 151.2 Q116.6 151.4 115.4 151.5 L107.9 152.2 Q106.8 152.3 106.8 152.5 L106.8 153.3 Q106.8 153.4 109.6 153.6 L127.4 154.9 Q130.2 155.1 127.4 155.3 L109.6 156.6 Q106.8 156.8 106.8 156.9 L106.8 157.7 Q106.8 157.9 109.1 158.0 L123.8 159.1 Q126.1 159.3 128.0 159.5 L140.0 161.0 Q141.9 161.3 139.2 161.6 L121.8 163.5 Q119.1 163.8 119.1 163.9 L119.1 164.8 Q119.1 164.9 120.2 165.2 L127.2 167.1 Q128.3 167.4 127.7 167.6 L123.5 168.6 Q122.8 168.7 122.8 168.9 L122.8 169.7 Q122.8 169.8 124.6 169.9 L136.4 170.4 Q138.2 170.5 136.1 170.6 L122.5 171.1 Q120.3 171.2 120.3 171.3 L120.3 172.2 Q120.3 172.3 121.2 172.4 L126.4 173.4 Q127.2 173.6 127.7 173.8 L130.8 175.2 Q131.3 175.4 132.1 175.7 L137.4 177.1 Q138.2 177.3 136.0 177.6 L122.1 179.2 Q119.9 179.5 117.3 179.6 L100.7 180.9 Q98.1 181.1 98.1 181.2 L98.1 182.0 Q98.1 182.2 99.3 182.5 L106.8 184.4 Q108.0 184.7 110.1 184.9 L123.2 186.1 Q125.3 186.3 120.7 186.6 L92.2 188.7 Q87.6 189.1 87.6 189.2 L87.6 190.0 Q87.6 190.2 89.2 190.4 L99.0 191.9 Q100.6 192.1 99.4 192.3 L91.9 193.4 Q90.7 193.6 90.7 193.8 L90.7 194.6 Q90.7 194.7 94.4 195.0 L117.9 196.6 Q121.6 196.9 117.3 197.2 L90.1 198.9 Q85.8 199.2 85.8 199.3 L85.8 200.1 Q85.8 200.3 88.6 200.3 L106.4 200.3 Q109.2 200.3 106.5 200.6 L89.2 202.0 Q86.4 202.3 86.4 202.4 L86.4 203.2 Q86.4 203.4 90.3 203.4 L114.6 203.6 Q118.5 203.7 114.3 203.8 L88.1 204.9 Q83.9 205.1 83.9 205.2 L83.9 206.1 Q83.9 206.2 86.9 206.4 L105.8 207.7 Q108.8 207.9 111.1 208.2 L126.0 209.9 Q128.3 210.2 125.2 210.3 L105.0 211.1 Q101.8 211.3 101.8 211.4 L101.8 212.2 Q101.8 212.4 104.9 212.5 L124.1 213.4 Q127.1 213.5 122.6 213.7 L94.0 215.0 Q89.5 215.2 89.5 215.3 L89.5 216.2 Q89.5 216.3 92.8 216.4 L113.9 216.7 Q117.2 216.8 113.0 217.0 L86.3 218.9 Q82.1 219.2 82.1 219.3 L82.1 220.1 Q82.1 220.3 87.4 220.3 L120.6 220.9 Q125.9 220.9 122.5 221.2 L101.5 222.6 Q98.1 222.9 98.1 223.0 L98.1 223.8 Q98.1 224.0 103.2 224.1 L135.0 225.2 Q140.1 225.4 138.1 225.6 L126.0 226.9 Q124.0 227.1 119.8 227.3 L93.1 228.8 Q88.9 229.0 88.9 229.2 L88.9 230.0 Q88.9 230.1 96.8 230.2 L146.9 230.7 Q154.9 230.8 152.1 231.0 L134.8 232.5 Q132.0 232.7 132.0 232.9 L132.0 233.7 Q132.0 233.8 133.5 234.0 L142.9 235.3 Q144.4 235.5 139.4 235.7 L108.0 237.2 Q103.1 237.4 103.1 237.5 L103.1 238.4 Q103.1 238.5 107.3 238.7 L134.0 239.7 Q138.2 239.8 136.1 240.0 L122.5 241.2 Q120.3 241.4 117.1 241.6 L96.5 242.8 Q93.2 243.0 93.2 243.1 L93.2 243.9 Q93.2 244.1 94.5 244.1 L103.0 244.1 Q104.3 244.1 103.3 244.4 L97.2 245.8 Q96.3 246.0 96.3 246.2 L96.3 247.0 Q96.3 247.1 99.6 247.3 L120.8 248.4 Q124.2 248.6 127.3 248.8 L146.8 250.3 Q149.9 250.5 147.0 250.9 L128.2 252.9 Q125.3 253.2 125.3 253.3 L125.3 254.2 Q125.3 254.3 128.5 254.3 L149.1 254.6 Q152.4 254.6 149.7 254.8 L132.3 256.3 Q129.6 256.5 129.6 256.7 L129.6 257.5 Q129.6 257.6 131.4 257.8 L142.6 259.0 Q144.4 259.2 142.3 259.4 L129.2 260.7 Q127.2 260.9 124.8 261.0 L109.8 261.9 Q107.4 262.1 107.4 262.2 L107.4 263.0 Q107.4 263.2 109.5 263.3 L123.1 264.3 Q125.3 264.5 121.9 264.8 L100.3 266.7 Q96.9 267.0 96.9 267.1 L96.9 268.0 Q96.9 268.1 100.7 268.3 L125.1 269.6 Q129.0 269.8 123.3 270.0 L87.2 271.5 Q81.5 271.7 81.5 271.8 L81.5 272.7 Q81.5 272.8 86.3 273.0 L116.8 274.2 Q121.6 274.3 125.9 274.6 L153.0 276.2 Q157.3 276.4 155.0 276.6 L140.5 277.4 Q138.2 277.5 138.2 277.6 L138.2 278.5 Q138.2 278.6 139.2 278.7 L145.3 279.5 Q146.2 279.6 143.5 279.9 L126.5 281.8 Q123.8 282.1 120.5 282.3 L99.0 283.8 Q95.7 284.0 95.7 284.2 L95.7 285.0 Q95.7 285.1 101.7 285.4 L140.2 287.0 Q146.2 287.3 141.8 287.6 L113.7 289.2 Q109.2 289.5 109.2 289.6 L109.2 290.4 Q109.2 290.6 111.0 290.8 L122.3 292.0 Q124.0 292.2 121.3 292.4 L104.0 293.7 Q101.2 293.9 101.2 294.0 L101.2 294.9 Q101.2 295.0 103.0 295.1 L114.2 295.8 Q116.0 295.9 113.8 296.1 L99.7 297.1 Q97.5 297.2 97.5 297.4 L97.5 298.2 Q97.5 298.3 101.2 298.5 L124.6 299.3 Q128.3 299.4 124.7 299.5 L101.8 300.4 Q98.1 300.6 98.1 300.7 L98.1 301.5 Q98.1 301.7 101.8 301.8 L124.7 302.4 Q128.3 302.5 126.8 302.5 L117.0 302.7 Q115.4 302.8 115.4 302.9 L115.4 303.7 Q115.4 303.9 119.5 304.1 L145.2 305.3 Q149.3 305.5 148.2 305.7 L141.2 306.9 Q140.1 307.1 140.1 307.2 L140.1 308.1 Q140.1 308.2 140.7 308.3 L144.4 308.8 Q145.0 308.9 143.1 309.0 L131.4 309.8 Q129.6 309.9 129.6 310.1 L129.6 310.9 Q129.6 311.0 132.3 311.2 L149.7 312.4 Q152.4 312.6 152.4 312.5 L152.4 311.9 Q152.4 311.8 149.0 312.1 L127.4 313.6 Q123.9 313.8 120.0 314.0 L95.3 315.1 Q91.3 315.2 91.3 315.4 L91.3 316.2 Q91.3 316.3 95.9 316.5 L124.4 317.8 Q129.0 318.0 125.6 318.1 L104.0 318.3 Q100.6 318.3 100.6 318.5 L100.6 319.3 Q100.6 319.4 106.1 319.7 L141.3 321.1 Q146.8 321.3 145.4 321.5 L136.5 322.3 Q135.1 322.4 135.1 322.5 L135.1 323.4 Q135.1 323.5 135.7 323.7 L139.5 324.9 Q140.1 325.0 138.2 325.4 L126.5 327.5 Q124.6 327.9 123.8 328.0 L118.1 329.0 Q117.2 329.2 117.2 329.3 L117.2 330.1 Q117.2 330.3 119.1 330.5 L130.8 331.8 Q132.7 332.0 133.0 332.1 L135.4 333.0 Q135.7 333.2 133.2 333.5 L117.3 335.6 Q114.8 336.0 114.8 336.1 L114.8 336.9 Q114.8 337.1 116.9 337.1 L130.0 337.3 Q132.0 337.4 130.1 337.5 L117.9 338.6 Q116.0 338.8 116.0 338.9 L116.0 339.8 Q116.0 339.9 119.0 340.1 L137.7 341.6 Q140.7 341.8 139.4 342.1 L131.0 343.6 Q129.7 343.8 128.0 344.0 L117.1 345.0 Q115.4 345.2 115.4 345.3 L115.4 346.2 Q115.4 346.3 116.4 346.4 L122.5 346.9 Q123.4 347.0 126.0 347.3 L142.4 349.0 Q145.0 349.2 142.9 349.3 L129.8 350.0 Q127.7 350.1 127.7 350.3 L127.7 351.1 Q127.7 351.2 129.7 351.5 L141.8 352.9 Q143.8 353.2 140.9 353.4 L122.5 355.1 Q119.6 355.3 116.0 355.5 L93.1 356.7 Q89.5 356.9 89.5 357.1 L89.5 357.9 Q89.5 358.0 91.3 358.0 L102.5 358.1 Q104.3 358.1 102.4 358.2 L90.7 358.7 Q88.9 358.8 88.9 358.9 L88.9 359.7 Q88.9 359.9 91.0 360.0 L104.6 361.0 Q106.8 361.2 105.8 361.4 L100.0 363.0 Q99.0 363.2 97.9 363.4 L90.6 364.5 Q89.5 364.7 89.5 364.8 L89.5 365.7 Q89.5 365.8 90.8 366.0 L98.9 367.2 Q100.2 367.4 100.7 367.6 L103.6 369.3 Q104.1 369.5 105.2 369.8 L112.4 371.4 Q113.5 371.7 110.0 371.8 L87.5 372.8 Q83.9 373.0 83.9 373.1 L83.9 373.9 Q83.9 374.1 85.1 374.1 L92.1 374.7 Q93.2 374.7 92.5 374.9 L87.8 375.9 Q87.0 376.0 87.0 376.2 L87.0 377.0 Q87.0 377.1 92.1 377.3 L123.9 378.6 Q129.0 378.8 124.2 379.0 L93.7 380.2 Q88.9 380.4 88.9 380.5 L88.9 381.3 Q88.9 381.5 91.5 381.5 L108.4 381.7 Q111.1 381.8 109.5 381.9 L99.7 382.7 Q98.1 382.8 98.1 383.0 L98.1 383.8 Q98.1 383.9 102.9 384.1 L133.4 384.9 Q138.2 385.0 136.9 385.2 L128.4 386.7 Q127.1 386.9 127.1 387.0 L127.1 387.9 Q127.1 388.0 128.2 388.0 L135.3 388.2 Q136.4 388.2 130.0 388.4 L89.7 389.7 Q83.3 389.9 83.3 390.0 L83.3 390.8 Q83.3 391.0 85.6 391.0 L99.6 391.6 Q101.8 391.6 100.8 391.8 L94.2 393.1 Q93.2 393.3 93.2 393.4 L93.2 394.3 Q93.2 394.4 94.4 394.5 L101.9 395.0 Q103.1 395.1 101.7 395.3 L92.8 396.8 Q91.3 397.0 91.3 397.1 L91.3 398.0 Q91.3 398.1 92.4 398.2 L98.9 398.9 Q100.0 399.0 100.6 399.3 L104.9 400.8 Q105.5 401.0 103.5 401.1 L90.3 401.8 Q88.3 401.9 88.3 402.1 L88.3 402.9 Q88.3 403.0 89.5 403.2 L97.5 404.5 Q98.7 404.7 97.9 405.0 L92.8 406.6 Q92.0 406.9 92.0 407.0 L92.0 407.8 Q92.0 408.0 93.4 408.2 L102.8 409.9 Q104.3 410.1 101.9 410.4 L86.9 411.8 Q84.6 412.1 84.6 412.2 L84.6 413.0 Q84.6 413.2 86.5 413.3 L98.7 414.1 Q100.6 414.2 99.0 414.3 L89.2 415.1 Q87.6 415.3 87.6 415.4 L87.6 416.2 Q87.6 416.4 89.5 416.4 L101.2 416.6 Q103.1 416.7 101.4 417.0 L91.1 418.9 Q89.5 419.2 89.5 419.3 L89.5 420.2 Q89.5 420.3 91.0 420.6 L100.4 422.2 Q101.8 422.5 101.2 422.7 L97.4 424.0 Q96.8 424.2 95.9 424.3 L90.4 425.2 Q89.5 425.4 89.5 425.5 L89.5 426.3 Q89.5 426.5 90.9 426.8 L99.8 428.7 Q101.2 429.0 99.5 429.2 L88.7 430.7 Q87.0 430.9 87.0 431.1 L87.0 431.9 Q87.0 432.0 88.7 432.2 L99.0 433.2 Q100.6 433.3 99.4 433.6 L91.9 435.0 Q90.7 435.2 90.7 435.4 L90.7 436.2 Q90.7 436.3 91.8 436.5 L98.9 437.5 Q100.0 437.6 98.8 437.8 L91.3 438.8 Q90.1 438.9 90.1 439.1 L90.1 439.9 Q90.1 440.0 91.9 440.1 L103.1 440.4 Q104.9 440.5 103.4 440.6 L93.5 441.6 Q92.0 441.7 92.0 441.8 L92.5 442.4 Q92.6 442.5 95.5 442.7 L114.3 444.4 Q117.2 444.7 114.1 445.0 L94.5 447.1 Q91.3 447.5 91.3 447.6 L91.3 448.4 Q91.3 448.6 92.4 448.6 L98.9 449.2 Q100.0 449.2 99.0 449.5 L92.9 450.9 Q92.0 451.2 92.0 451.3 L92.0 452.1 Q92.0 452.3 93.0 452.4 L99.6 453.4 Q100.6 453.6 103.8 453.9 L123.9 456.0 Q127.1 456.3 123.0 456.5 L96.7 457.7 Q92.6 457.9 92.6 458.1 L92.6 458.9 Q92.6 459.0 93.7 459.2 L100.7 460.2 Q101.8 460.3 100.6 460.6 L93.1 462.0 Q92.0 462.3 92.0 462.4 L92.0 463.2 Q92.0 463.4 93.2 463.5 L101.2 464.5 Q102.4 464.7 101.1 465.0 L92.7 466.9 Q91.3 467.2 91.3 467.3 L91.3 468.2 Q91.3 468.3 92.5 468.5 L100.0 470.0 Q101.2 470.2 102.0 470.6 L106.6 472.7 Q107.4 473.1 105.6 473.2 L94.4 474.4 Q92.6 474.6 92.6 474.7 L92.6 475.6 Q92.6 475.7 94.1 475.9 L103.4 476.8 Q104.9 477.0 102.2 477.3 L84.8 479.2 Q82.1 479.5 82.1 479.7 L82.1 480.5 Q82.1 480.6 85.8 481.0 L109.2 483.1 Q112.9 483.4 111.2 483.7 L100.0 485.5 Q98.3 485.8 96.3 486.0 L83.5 487.3 Q81.5 487.5 81.5 487.7 L81.5 488.5 Q81.5 488.6 85.5 488.8 L110.8 489.5 Q114.8 489.6 112.6 489.8 L99.0 491.0 Q96.9 491.2 96.9 491.4 L96.9 492.2 Q96.9 492.3 99.9 492.5 L119.1 493.8 Q122.2 494.0 120.1 494.3 L106.9 496.0 Q104.9 496.3 102.4 496.5 L87.0 497.8 Q84.6 498.0 84.6 498.2 L84.6 499.0 Q84.6 499.1 87.4 499.3 L105.2 500.3 Q108.0 500.4 107.1 500.6 L101.5 501.6 Q100.6 501.7 100.6 501.9 L100.6 502.7 Q100.6 502.8 101.9 503.0 L110.4 503.8 Q111.7 503.9 111.1 504.1 L107.5 505.4 Q106.9 505.6 105.5 505.8 L97.0 507.1 Q95.7 507.3 95.0 507.5 L90.2 508.4 Q89.5 508.5 89.5 508.6 L89.5 509.5 Q89.5 509.6 92.7 509.8 L112.8 511.1 Q116.0 511.3 113.2 511.5 L95.4 512.6 Q92.6 512.8 92.6 513.0 L92.6 513.8 Q92.6 513.9 96.5 514.0 L121.3 514.5 Q125.3 514.6 123.6 514.9 L113.3 516.5 Q111.6 516.8 109.5 517.0 L96.0 518.2 Q93.8 518.4 93.8 518.5 L93.8 519.3 Q93.8 519.5 96.6 519.7 L113.9 521.2 Q116.6 521.4 115.4 521.5 L107.9 522.2 Q106.8 522.3 106.8 522.5 L106.8 523.3 Q106.8 523.4 110.7 523.7 L135.5 525.4 Q139.4 525.7 136.6 525.8 L118.3 526.1 Q115.4 526.1 115.4 526.3 L115.4 527.1 Q115.4 527.2 118.9 527.6 L141.4 529.5 Q145.0 529.8 142.0 529.9 L122.7 530.8 Q119.7 531.0 119.7 531.1 L119.7 531.9 Q119.7 532.1 121.3 532.3 L131.1 533.7 Q132.7 534.0 134.7 534.2 L147.9 535.4 Q149.9 535.6 143.9 535.9 L105.4 537.8 Q99.4 538.1 99.4 538.2 L99.4 539.1 Q99.4 539.2 104.8 539.4 L139.5 540.7 Q145.0 540.9 141.7 541.2 L121.1 543.3 Q117.9 543.6 115.5 543.7 L100.5 544.7 Q98.1 544.8 98.2 545.0 L98.7 546.1 Q98.7 546.3 104.1 546.5 L138.4 548.0 Q143.8 548.3 139.1 548.3 L109.6 548.6 Q104.9 548.6 104.9 548.7 L104.9 549.6 Q104.9 549.7 107.7 549.7 L125.5 550.1 Q128.3 550.1 126.0 550.3 L111.0 551.5 Q108.6 551.7 108.6 551.8 L108.6 552.6 Q108.6 552.8 113.3 553.1 L142.8 555.0 Q147.5 555.3 143.0 555.4 L114.9 555.9 Q110.5 556.0 110.5 556.1 L110.5 557.0 Q110.5 557.1 113.2 557.3 L130.5 558.8 Q133.3 559.0 131.4 559.1 L119.7 559.6 Q117.9 559.7 117.9 559.8 L117.9 560.7 Q117.9 560.8 120.4 560.9 L136.3 561.4 Q138.8 561.5 135.6 561.6 L115.0 562.6 Q111.7 562.8 111.7 562.9 L111.7 563.7 Q111.7 563.9 114.8 564.1 L134.5 565.6 Q137.6 565.8 132.9 565.9 L102.9 566.4 Q98.1 566.5 98.1 566.6 L98.1 567.4 Q98.1 567.6 100.4 567.7 L114.4 568.4 Q116.6 568.5 113.8 568.8 L96.0 570.5 Q93.2 570.7 93.2 570.8 L93.2 571.2 Q93.2 571.2 100.0 571.6 L143.1 573.9 Q149.9 574.3 147.3 574.4 L130.4 574.9 Q127.7 575.0 127.7 575.1 L127.7 576.0 Q127.7 576.1 129.0 576.3 L137.0 577.8 Q138.2 578.0 137.6 578.3 L133.6 579.9 Q133.0 580.2 131.9 580.4 L124.6 581.6 Q123.4 581.8 123.4 581.9 L123.4 582.8 Q123.4 582.9 124.4 583.0 L130.5 583.5 Q131.4 583.6 131.0 583.8 L128.5 585.2 Q128.1 585.4 127.3 585.6 L122.3 586.6 Q121.6 586.7 121.6 586.8 L121.6 587.7 Q121.6 587.8 122.9 588.0 L131.2 589.0 Q132.5 589.1 133.3 589.3 L138.6 590.7 Q139.4 591.0 136.5 591.1 L117.7 592.1 Q114.8 592.3 114.8 592.4 L114.8 593.2 Q114.8 593.4 115.7 593.4 L121.8 594.0 Q122.8 594.0 121.1 594.2 L110.3 595.2 Q108.6 595.3 108.6 595.5 L108.6 596.3 Q108.6 596.4 112.2 596.6 L134.7 597.6 Q138.2 597.7 137.2 597.8 L131.2 598.3 Q130.2 598.4 130.2 598.6 L130.2 599.4 Q130.2 599.5 131.5 599.6 L139.4 600.1 Q140.7 600.2 139.3 600.4 L130.9 601.8 Q129.6 602.1 128.0 602.2 L118.2 603.2 Q116.6 603.4 116.6 603.5 L116.6 604.3 Q116.6 604.5 120.3 604.6 L143.8 605.6 Q147.5 605.8 145.9 606.0 L135.8 607.4 Q134.2 607.6 132.4 607.8 L120.9 608.8 Q119.1 608.9 119.1 609.0 L119.1 609.9 Q119.1 610.0 120.4 610.0 L128.3 610.2 Q129.6 610.2 127.7 610.3 L115.5 611.2 Q113.5 611.4 113.5 611.5 L113.5 612.3 Q113.5 612.5 118.1 612.5 L146.6 612.8 Q151.2 612.8 148.6 612.9 L132.7 613.4 Q130.2 613.5 130.2 613.6 L130.2 614.4 Q130.2 614.6 132.0 614.9 L143.2 616.6 Q145.0 616.9 142.2 617.2 L124.4 619.6 Q121.6 619.9 119.5 620.1 L106.4 621.1 Q104.3 621.2 104.3 621.4 L104.3 622.2 Q104.3 622.3 108.7 622.5 L136.3 623.3 Q140.7 623.4 135.7 623.6 L104.3 624.8 Q99.4 624.9 99.4 625.1 L99.4 625.9 Q99.4 626.0 104.3 626.2 L135.7 626.9 Q140.7 627.0 135.5 627.1 L102.7 628.2 Q97.5 628.4 97.5 628.5 L97.5 629.4 Q97.5 629.5 98.2 629.7 L102.4 630.9 Q103.1 631.0 106.8 631.2 L130.7 632.5 Q134.5 632.6 131.3 632.7 L110.6 633.3 Q107.4 633.3 107.4 633.5 L107.4 634.3 Q107.4 634.4 110.1 634.5 L127.5 635.3 Q130.2 635.4 126.7 635.4 L104.7 636.0 Q101.2 636.0 101.2 636.2 L101.2 637.0 Q101.2 637.1 106.0 637.2 L136.5 637.7 Q141.3 637.8 136.3 638.0 L104.4 639.3 Q99.4 639.5 99.4 639.6 L99.4 640.5 Q99.4 640.6 105.2 640.7 L142.2 641.4 Q148.1 641.5 145.3 641.8 L128.0 643.2 Q125.3 643.4 123.6 643.6 L113.3 645.2 Q111.7 645.4 109.8 645.6 L97.6 646.7 Q95.7 646.9 95.7 647.0 L95.7 647.9 Q95.7 648.0 98.6 648.0 L116.8 648.2 Q119.7 648.2 116.2 648.5 L94.2 650.3 Q90.7 650.6 90.7 650.7 L90.7 651.6 Q90.7 651.7 97.5 651.9 L140.7 653.1 Q147.5 653.2 146.4 653.5 L139.7 655.4 Q138.7 655.7 137.1 655.9 L126.9 657.4 Q125.3 657.6 125.3 657.8 L125.3 658.6 Q125.3 658.7 126.4 659.0 L133.9 661.0 Q135.1 661.3 134.2 661.5 L128.1 663.2 Q127.1 663.4 127.1 663.6 L127.1 664.4 Q127.1 664.5 128.2 664.7 L134.9 665.6 Q135.9 665.7 136.6 665.9 L140.7 667.2 Q141.3 667.4 139.7 667.5 L129.4 668.0 Q127.7 668.1 127.7 668.2 L127.7 669.1 Q127.7 669.2 128.9 669.3 L136.4 670.0 Q137.6 670.1 136.1 670.4 L126.7 672.1 Q125.3 672.4 124.0 672.6 L116.0 674.3 Q114.8 674.5 114.8 674.7 L114.8 675.5 Q114.8 675.6 116.2 675.7 L125.1 676.0 Q126.5 676.1 122.5 676.3 L97.2 677.5 Q93.2 677.7 93.2 677.9 L93.2 678.7 Q93.2 678.8 95.8 678.9 L112.2 679.6 Q114.8 679.8 117.8 680.0 L137.0 681.4 Q140.1 681.6 139.2 681.7 L133.6 682.2 Q132.7 682.3 132.7 682.4 L132.7 683.3 Q132.7 683.4 134.7 683.5 L147.9 684.5 Q149.9 684.7 147.9 684.9 L134.7 686.4 Q132.7 686.6 132.7 686.7 L132.7 687.6 Q132.7 687.7 134.7 687.9 L147.3 689.2 Q149.3 689.4 148.0 689.6 L139.8 691.1 Q138.5 691.4 136.8 691.6 L126.3 693.1 Q124.6 693.3 125.1 693.6 L127.9 695.5 Q128.3 695.8 130.3 696.1 L143.0 698.2 Q145.0 698.5 143.5 698.8 L134.1 700.5 Q132.7 700.7 131.4 700.8 L123.4 701.6 Q122.2 701.7 122.2 701.8 L122.2 702.2 Q122.2 702.2 123.9 702.6 L134.7 705.2 Q136.4 705.5 135.8 705.8 L132.6 707.2 Q132.0 707.5 132.0 707.6 L132.0 708.4 Q132.0 708.6 133.2 708.8 L140.2 710.6 Q141.3 710.9 138.2 711.1 L118.4 712.6 Q115.3 712.8 111.7 713.0 L88.8 714.1 Q85.2 714.2 85.2 714.4 L85.2 715.2 Q85.2 715.3 86.3 715.5 L93.5 716.5 Q94.7 716.6 95.4 716.9 L99.9 718.3 Q100.6 718.5 102.9 718.6 L117.4 719.6 Q119.7 719.7 116.0 719.8 L92.6 720.4 Q88.9 720.5 88.8 720.6 L88.3 721.1 Q88.3 721.2 90.4 721.4 L104.0 722.3 Q106.1 722.4 104.7 722.6 L95.3 723.9 Q93.8 724.1 93.8 724.2 L93.8 725.1 Q93.8 725.2 94.9 725.3 L102.0 725.6 Q103.1 725.7 106.8 725.9 L130.7 727.8 Q134.5 728.1 129.1 728.2 L94.9 728.9 Q89.5 729.0 89.5 729.2 L89.5 730.0 Q89.5 730.1 93.0 730.3 L115.0 731.6 Q118.5 731.8 114.9 732.1 L91.9 733.7 Q88.3 734.0 88.3 734.1 L88.3 734.9 Q88.3 735.1 91.1 735.2 L108.9 735.7 Q111.7 735.8 109.3 735.9 L94.3 736.9 Q92.0 737.1 92.0 737.2 L92.0 738.0 Q92.0 738.2 99.0 738.4 L143.5 740.2 Q150.5 740.5 147.6 740.7 L128.8 742.1 Q125.8 742.3 122.5 742.5 L101.5 743.4 Q98.1 743.6 98.1 743.7 L98.1 744.6 Q98.1 744.7 104.6 745.0 L145.3 746.8 Q151.8 747.1 146.6 747.4 L113.8 749.1 Q108.6 749.4 108.6 749.5 L108.6 750.4 Q108.6 750.5 115.1 750.6 L155.8 751.1 Q162.3 751.2 154.7 751.5 L106.9 753.2 Q99.4 753.5 99.4 753.6 L99.4 754.4 Q99.4 754.6 105.4 754.8 L143.9 755.9 Q149.9 756.1 150.8 756.3 L156.4 757.2 Q157.3 757.3 149.5 757.5 L99.8 758.5 Q92.0 758.6 92.0 758.8 L92.0 759.6 Q92.0 759.7 94.7 759.8 L112.0 760.3 Q114.8 760.4 112.6 760.5 L99.0 760.8 Q96.9 760.9 96.9 761.0 L96.9 761.8 Q96.9 762.0 103.7 762.1 L146.8 762.8 Q153.6 762.9 151.7 763.3 L139.5 765.6 Q137.6 766.0 138.0 766.1 L140.3 767.1 Q140.7 767.2 138.2 767.3 L122.2 768.1 Q119.7 768.3 119.7 768.4 L119.7 769.2 Q119.7 769.4 121.9 769.6 L135.4 771.1 Q137.6 771.3 136.0 771.5 L125.7 772.6 Q124.0 772.8 121.2 773.1 L103.4 775.5 Q100.6 775.8 99.0 776.1 L88.7 777.5 Q87.0 777.8 87.0 777.9 L87.0 778.7 Q87.0 778.9 89.5 779.0 L104.9 780.0 Q107.4 780.2 104.4 780.2 L85.7 780.8 Q82.7 780.8 82.7 781.0 L82.7 781.8 Q82.7 781.9 90.3 782.1 L138.6 783.1 Q146.2 783.2 144.6 783.5 L134.3 784.9 Q132.7 785.1 133.0 785.2 L135.4 786.2 Q135.7 786.3 134.6 786.6 L127.1 788.3 Q125.9 788.5 126.3 788.7 L129.1 789.6 Q129.6 789.8 127.9 790.0 L117.1 791.5 Q115.4 791.7 115.4 791.8 L115.4 792.7 Q115.4 792.8 116.3 792.8 L121.9 793.1 Q122.8 793.1 120.8 793.3 L108.1 794.5 Q106.1 794.7 106.1 794.8 L106.1 795.6 Q106.1 795.8 109.9 796.0 L133.8 797.2 Q137.6 797.4 139.2 797.6 L149.5 798.5 Q151.2 798.7 145.6 799.0 L110.5 800.9 Q104.9 801.2 104.9 801.3 L104.9 802.2 Q104.9 802.3 108.9 802.3 L134.2 802.6 Q138.2 802.6 135.4 802.9 L117.6 804.9 Q114.8 805.3 114.8 805.4 L114.8 806.2 Q114.8 806.4 116.9 806.4 L130.5 807.0 Q132.7 807.0 133.3 807.3 L137.6 808.8 Q138.3 809.0 138.4 809.3 L138.8 810.8 Q138.8 811.0 138.0 811.2 L132.9 812.6 Q132.0 812.8 130.9 813.2 L123.9 815.3 Q122.8 815.6 122.8 815.8 L122.8 816.6 Q122.8 816.7 124.0 816.7 L131.5 816.8 Q132.7 816.8 128.2 817.0 L100.1 818.6 Q95.7 818.8 95.7 819.0 L95.7 819.8 Q95.7 819.9 100.9 820.2 L134.2 821.8 Q139.4 822.1 139.1 822.4 L136.7 824.3 Q136.4 824.6 135.8 824.7 L132.6 825.7 Q132.0 825.9 132.0 826.0 L132.0 826.8 Q132.0 827.0 133.0 827.1 L139.1 828.1 Q140.1 828.3 140.4 828.5 L142.2 829.9 Q142.5 830.1 140.3 830.3 L126.2 831.2 Q124.0 831.3 124.0 831.4 L124.0 832.3 Q124.0 832.4 127.0 832.7 L145.7 834.4 Q148.7 834.7 145.0 834.9 L121.6 836.0 Q117.9 836.2 115.8 836.5 L102.7 838.4 Q100.6 838.7 100.6 838.8 L100.6 839.7 Q100.6 839.8 101.6 840.0 L108.2 841.5 Q109.2 841.7 111.5 841.8 L125.5 842.3 Q127.7 842.3 127.7 842.6 L127.7 844.5 Q127.7 844.8 129.7 845.1 L142.5 846.7 Q144.6 847.0 146.0 847.2 L155.3 848.9 Q156.7 849.1 155.6 849.4 L148.4 851.0 Q147.3 851.3 145.8 851.5 L136.6 853.2 Q135.1 853.4 134.7 853.8 L131.9 856.1 Q131.4 856.5 129.2 856.6 L115.2 857.1 Q112.9 857.2 112.9 857.3 L112.9 858.2 Q112.9 858.3 116.9 858.4 L142.2 858.9 Q146.2 859.0 139.2 859.1 L94.7 860.1 Q87.6 860.3 87.6 860.4 L87.6 861.2 Q87.6 861.4 93.1 861.6 L127.8 862.9 Q133.3 863.1 130.8 863.2 L115.4 864.4 Q112.9 864.6 112.9 864.7 L112.9 865.6 Q112.9 865.7 114.1 865.9 L121.6 866.8 Q122.8 867.0 123.0 867.3 L124.4 869.2 Q124.6 869.5 125.5 869.7 L130.6 871.1 Q131.4 871.3 130.8 871.5 L126.5 872.5 Q125.9 872.6 125.9 872.7 L125.9 873.6 Q125.9 873.7 126.9 873.8 L133.5 874.1 Q134.5 874.2 133.6 874.3 L128.0 875.2 Q127.1 875.3 127.1 875.5 L127.1 876.3 Q127.1 876.4 128.6 876.6 L138.0 877.4 Q139.4 877.5 141.1 877.8 L151.9 880.2 Q153.6 880.6 152.9 880.9 L148.2 883.3 Q147.5 883.6 143.5 883.9 L118.2 885.3 Q114.2 885.6 114.2 885.7 L114.2 886.5 Q114.2 886.7 119.9 886.9 L156.5 888.7 Q162.3 888.9 160.8 889.3 L151.4 891.9 Q149.9 892.3 145.6 892.6 L117.9 894.5 Q113.5 894.8 113.5 894.9 L113.5 895.8 Q113.5 895.9 117.6 896.1 L143.4 897.4 Q147.5 897.6 146.4 897.8 L139.3 898.9 Q138.2 899.1 135.1 899.2 L115.4 899.9 Q112.3 900.0 112.3 900.1 L112.3 901.0 Q112.3 901.1 115.6 901.1 L136.2 901.5 Q139.4 901.5 134.0 901.8 L99.3 903.4 Q93.8 903.7 93.8 903.8 L93.8 904.7 Q93.8 904.8 96.2 904.9 L111.4 905.9 Q113.8 906.1 115.7 906.3 L127.7 907.7 Q129.6 907.9 127.4 908.1 L113.8 909.4 Q111.7 909.6 111.7 909.7 L111.7 910.6 Q111.7 910.7 112.7 910.8 L119.3 911.3 Q120.3 911.4 118.7 911.6 L108.4 913.0 Q106.8 913.2 105.4 913.4 L97.0 914.4 Q95.7 914.5 95.7 914.7 L95.7 915.5 Q95.7 915.6 102.5 915.8 L145.6 916.8 Q152.4 916.9 145.2 917.1 L99.8 918.1 Q92.6 918.2 92.6 918.4 L92.6 919.2 Q92.6 919.3 96.7 919.5 L122.5 920.4 Q126.6 920.5 130.2 920.7 L153.1 922.0 Q156.7 922.2 150.1 922.5 L108.4 924.4 Q101.8 924.7 101.8 924.8 L101.8 925.6 Q101.8 925.8 106.0 925.9 L132.2 926.7 Q136.4 926.8 132.4 927.0 L107.6 928.0 Q103.7 928.1 103.7 928.2 L103.7 929.1 Q103.7 929.2 106.3 929.4 L123.2 930.7 Q125.9 930.9 121.5 931.0 L93.9 931.7 Q89.5 931.8 89.5 931.9 L89.5 932.8 Q89.5 932.9 93.2 933.0 L116.6 933.7 Q120.3 933.8 115.7 934.1 L86.7 935.5 Q82.1 935.8 82.1 935.9 L82.1 936.7 Q82.1 936.9 86.4 937.0 L113.5 938.0 Q117.8 938.2 121.4 938.4 L144.4 939.8 Q148.1 940.0 140.8 940.2 L94.4 941.7 Q87.0 941.9 87.0 942.1 L87.0 942.9 Q87.0 943.0 90.3 943.0 L110.9 943.2 Q114.2 943.2 113.1 943.4 L106.3 944.9 Q105.3 945.1 103.4 945.4 L91.9 946.8 Q90.1 947.1 88.9 947.2 L81.4 948.3 Q80.2 948.5 80.2 948.6 L80.2 949.4 Q80.2 949.6 81.9 949.8 L92.2 951.2 Q93.8 951.5 92.2 951.4 L81.9 950.7 Q80.2 950.6 82.0 950.8 L92.7 951.7 Q94.4 951.8 92.8 952.1 L82.5 953.5 Q80.9 953.8 80.9 953.9 L80.9 954.7 Q80.9 954.9 83.9 955.0 L103.0 956.2 Q106.0 956.4 108.3 956.6 L123.0 958.1 Q125.3 958.4 128.5 958.5 L149.1 959.5 Q152.4 959.6 145.8 960.0 L104.1 962.1 Q97.5 962.4 97.5 962.5 L97.5 963.4 Q97.5 963.5 100.8 963.8 L121.9 965.5 Q125.3 965.8 122.9 966.0 L107.9 967.1 Q105.5 967.3 105.5 967.5 L105.5 968.3 Q105.5 968.4 109.6 968.6 L135.4 969.6 Q139.4 969.7 134.7 970.0 L104.7 972.0 Q100.0 972.3 100.0 972.4 L100.0 973.2 Q100.0 973.4 105.8 973.5 L142.8 974.5 Q148.7 974.7 145.3 974.8 L123.7 975.8 Q120.3 976.0 120.3 976.1 L120.3 976.9 Q120.3 977.1 120.9 977.2 L124.7 978.0 Q125.3 978.1 124.2 978.2 L117.1 978.9 Q116.0 979.0 116.0 979.2 L116.0 980.0 Q116.0 980.1 118.6 980.2 L135.0 980.5 Q137.6 980.6 134.3 980.8 L113.7 981.9 Q110.5 982.1 110.5 982.3 L110.5 983.1 Q110.5 983.2 113.3 983.3 L131.1 983.8 Q133.9 983.9 131.2 984.0 L114.4 984.8 Q111.7 985.0 111.7 985.1 L111.7 985.9 Q111.7 986.1 114.9 986.1 L135.0 986.3 Q138.2 986.4 131.3 986.5 L87.2 987.0 Q80.2 987.1 80.2 987.2 L80.2 988.0 Q80.2 988.2 89.3 988.3 L146.4 989.5 Q155.5 989.7 146.4 989.8 L89.3 990.6 Q80.2 990.8 80.2 990.9 L80.2 991.7 Q80.2 991.9 88.2 992.2 L138.9 994.3 Q146.8 994.6 139.3 994.8 L91.5 995.6 Q83.9 995.7 83.9 995.8 L83.9 996.7 Q83.9 996.8 85.6 996.8 L95.9 997.1 Q97.5 997.1 97.3 997.3 L95.9 998.5 Q95.7 998.7 101.5 999.0 L138.5 1000.6 Q144.4 1000.8 137.0 1001.1 L90.1 1002.8 Q82.7 1003.1 82.7 1003.2 L82.7 1004.1 Q82.7 1004.2 88.1 1004.3 L122.3 1005.1 Q127.7 1005.2 125.7 1005.5 L112.5 1006.8 Q110.5 1007.0 106.7 1007.1 L82.8 1008.2 Q79.0 1008.4 79.0 1008.5 L79.0 1009.4 Q79.0 1009.5 84.0 1009.7 L115.9 1011.2 Q120.9 1011.4 116.4 1011.7 L87.8 1013.5 Q83.3 1013.8 83.3 1014.0 L83.3 1014.8 Q83.3 1014.9 91.0 1015.1 L139.8 1016.2 Q147.5 1016.3 139.6 1016.6 L89.9 1018.0 Q82.1 1018.3 82.1 1018.4 L82.1 1019.2 Q82.1 1019.4 83.7 1019.5 L94.0 1020.2 Q95.7 1020.3 99.4 1020.5 L122.8 1021.9 Q126.5 1022.1 121.2 1022.3 L87.4 1023.5 Q82.1 1023.7 82.1 1023.8 L82.1 1024.7 Q82.1 1024.8 84.1 1024.9 L96.8 1025.7 Q98.7 1025.8 97.2 1025.9 L87.4 1026.4 Q85.8 1026.5 85.8 1026.7 L85.8 1027.5 Q85.8 1027.6 87.8 1027.7 L100.4 1028.2 Q102.4 1028.3 100.6 1028.5 L88.9 1029.5 Q87.0 1029.6 87.0 1029.7 L87.0 1030.6 Q87.0 1030.7 88.6 1030.8 L98.4 1031.3 Q100.0 1031.4 98.6 1031.6 L89.7 1033.1 Q88.3 1033.3 88.3 1033.4 L88.3 1034.3 Q88.3 1034.4 89.7 1034.5 L99.1 1035.0 Q100.6 1035.1 98.3 1035.2 L83.8 1036.2 Q81.5 1036.4 81.5 1036.5 L81.5 1037.4 Q81.5 1037.5 87.6 1037.6 L126.0 1038.6 Q132.0 1038.8 126.1 1039.1 L88.6 1040.7 Q82.7 1041.0 82.7 1041.1 L82.7 1041.9 Q82.7 1042.1 84.1 1042.1 L93.0 1042.2 Q94.4 1042.2 93.5 1042.5 L87.4 1043.9 Q86.4 1044.2 86.4 1044.3 L86.4 1045.1 Q86.4 1045.3 90.0 1045.4 L112.5 1046.6 Q116.0 1046.8 112.3 1047.0 L88.9 1048.0 Q85.2 1048.1 85.2 1048.2 L85.2 1049.1 Q85.2 1049.2 88.4 1049.4 L108.5 1050.7 Q111.7 1050.9 107.9 1051.2 L84.0 1053.3 Q80.2 1053.7 80.2 1053.8 L80.2 1054.6 Q80.2 1054.8 83.7 1055.0 L105.2 1056.8 Q108.6 1057.0 106.6 1057.1 L94.0 1057.6 Q92.0 1057.7 92.0 1057.9 L92.0 1058.7 Q92.0 1058.8 99.2 1058.9 L145.1 1059.4 Q152.4 1059.5 145.3 1059.6 L100.3 1060.3 Q93.2 1060.4 93.2 1060.6 L93.2 1061.4 Q93.2 1061.5 96.8 1061.6 L119.2 1061.9 Q122.8 1062.0 117.5 1062.1 L83.7 1063.0 Q78.4 1063.2 78.4 1063.3 L78.4 1064.1 Q78.4 1064.3 79.5 1064.5 L86.5 1065.7 Q87.6 1065.9 87.5 1066.1 L86.6 1067.0 Q86.4 1067.2 95.5 1067.3 L153.2 1068.0 Q162.3 1068.1 152.7 1068.3 L92.3 1069.4 Q82.7 1069.6 82.6 1069.9 L81.6 1071.8 Q81.5 1072.1 83.4 1072.2 L95.6 1073.2 Q97.5 1073.3 95.7 1073.6 L83.9 1075.6 Q82.1 1075.9 82.1 1076.0 L82.1 1076.8 Q82.1 1077.0 84.2 1077.0 L97.3 1077.6 Q99.4 1077.6 97.9 1077.8 L88.5 1078.8 Q87.0 1078.9 87.0 1079.1 L87.0 1079.9 Q87.0 1080.0 87.8 1080.2 L93.2 1081.0" fill="none" stroke="#7d9acb" stroke-width="1.9" stroke-linejoin="round" opacity="0.45"/>
<path d="M100.6 74.3 L97.0 76.5 Q96.6 76.8 95.7 77.0 L90.3 78.5 Q89.5 78.7 89.5 78.8 L89.5 79.7 Q89.5 79.8 90.5 80.0 L96.6 81.5 Q97.5 81.7 97.7 82.1 L98.6 84.4 Q98.7 84.8 99.6 85.2 L104.7 87.5 Q105.5 87.9 104.9 88.0 L100.6 89.0 Q100.0 89.2 100.0 89.3 L100.0 90.1 Q100.0 90.3 100.9 90.5 L107.0 91.8 Q108.0 92.0 106.1 92.3 L94.4 94.4 Q92.6 94.7 92.6 94.9 L92.6 95.7 Q92.6 95.8 93.2 95.8 L96.9 95.9 Q97.5 95.9 96.2 96.1 L87.7 97.4 Q86.4 97.6 86.4 97.7 L86.4 98.5 Q86.4 98.7 91.5 98.8 L123.9 99.7 Q129.0 99.8 129.1 100.1 L130.0 101.4 Q130.1 101.6 130.0 101.8 L129.1 103.1 Q129.0 103.3 125.4 103.6 L102.9 105.5 Q99.4 105.8 99.4 106.0 L99.4 106.8 Q99.4 106.9 104.2 107.2 L135.2 108.9 Q140.1 109.2 136.7 109.6 L115.1 111.7 Q111.7 112.0 111.7 112.1 L111.7 113.0 Q111.7 113.1 113.7 113.3 L126.4 114.4 Q128.4 114.6 129.9 114.8 L139.2 116.4 Q140.7 116.6 136.5 116.9 L110.3 118.5 Q106.1 118.8 106.1 118.9 L106.1 119.7 Q106.1 119.9 109.3 120.0 L128.9 120.5 Q132.0 120.6 130.2 120.8 L118.8 122.2 Q117.0 122.4 114.7 122.6 L100.3 124.0 Q98.0 124.3 96.3 124.4 L85.6 125.4 Q83.9 125.6 83.9 125.7 L83.9 126.5 Q83.9 126.7 90.1 127.0 L129.0 129.1 Q135.1 129.4 132.0 129.5 L112.3 130.0 Q109.2 130.1 109.2 130.3 L109.2 131.1 Q109.2 131.2 111.7 131.4 L127.5 132.7 Q130.0 132.9 132.1 133.2 L145.4 134.8 Q147.5 135.1 139.5 135.4 L88.9 137.6 Q80.9 137.9 80.9 138.0 L80.9 138.9 Q80.9 139.0 88.3 139.2 L135.1 140.1 Q142.5 140.3 140.2 140.5 L125.2 141.9 Q122.8 142.1 120.2 142.3 L103.8 143.3 Q101.2 143.4 101.2 143.6 L101.2 144.4 Q101.2 144.5 103.5 144.7 L118.1 145.8 Q120.4 146.0 122.2 146.2 L133.9 147.7 Q135.7 147.9 134.7 148.1 L128.1 149.5 Q127.1 149.7 125.8 149.9 L117.9 151.2 Q116.6 151.4 115.4 151.5 L107.9 152.2 Q106.8 152.3 106.8 152.5 L106.8 153.3 Q106.8 153.4 109.6 153.6 L127.4 154.9 Q130.2 155.1 127.4 155.3 L109.6 156.6 Q106.8 156.8 106.8 156.9 L106.8 157.7 Q106.8 157.9 109.1 158.0 L123.8 159.1 Q126.1 159.3 128.0 159.5 L140.0 161.0 Q141.9 161.3 139.2 161.6 L121.8 163.5 Q119.1 163.8 119.1 163.9 L119.1 164.8 Q119.1 164.9 120.2 165.2 L127.2 167.1 Q128.3 167.4 127.7 167.6 L123.5 168.6 Q122.8 168.7 122.8 168.9 L122.8 169.7 Q122.8 169.8 124.6 169.9 L136.4 170.4 Q138.2 170.5 136.1 170.6 L122.5 171.1 Q120.3 171.2 120.3 171.3 L120.3 172.2 Q120.3 172.3 121.2 172.4 L126.4 173.4 Q127.2 173.6 127.7 173.8 L130.8 175.2 Q131.3 175.4 132.1 175.7 L137.4 177.1 Q138.2 177.3 136.0 177.6 L122.1 179.2 Q119.9 179.5 117.3 179.6 L100.7 180.9 Q98.1 181.1 98.1 181.2 L98.1 182.0 Q98.1 182.2 99.3 182.5 L106.8 184.4 Q108.0 184.7 110.1 184.9 L123.2 186.1 Q125.3 186.3 120.7 186.6 L92.2 188.7 Q87.6 189.1 87.6 189.2 L87.6 190.0 Q87.6 190.2 89.2 190.4 L99.0 191.9 Q100.6 192.1 99.4 192.3 L91.9 193.4 Q90.7 193.6 90.7 193.8 L90.7 194.6 Q90.7 194.7 94.4 195.0 L117.9 196.6 Q121.6 196.9 117.3 197.2 L90.1 198.9 Q85.8 199.2 85.8 199.3 L85.8 200.1 Q85.8 200.3 88.6 200.3 L106.4 200.3 Q109.2 200.3 106.5 200.6 L89.2 202.0 Q86.4 202.3 86.4 202.4 L86.4 203.2 Q86.4 203.4 90.3 203.4 L114.6 203.6 Q118.5 203.7 114.3 203.8 L88.1 204.9 Q83.9 205.1 83.9 205.2 L83.9 206.1 Q83.9 206.2 86.9 206.4 L105.8 207.7 Q108.8 207.9 111.1 208.2 L126.0 209.9 Q128.3 210.2 125.2 210.3 L105.0 211.1 Q101.8 211.3 101.8 211.4 L101.8 212.2 Q101.8 212.4 104.9 212.5 L124.1 213.4 Q127.1 213.5 122.6 213.7 L94.0 215.0 Q89.5 215.2 89.5 215.3 L89.5 216.2 Q89.5 216.3 92.8 216.4 L113.9 216.7 Q117.2 216.8 113.0 217.0 L86.3 218.9 Q82.1 219.2 82.1 219.3 L82.1 220.1 Q82.1 220.3 87.4 220.3 L120.6 220.9 Q125.9 220.9 122.5 221.2 L101.5 222.6 Q98.1 222.9 98.1 223.0 L98.1 223.8 Q98.1 224.0 103.2 224.1 L135.0 225.2 Q140.1 225.4 138.1 225.6 L126.0 226.9 Q124.0 227.1 119.8 227.3 L93.1 228.8 Q88.9 229.0 88.9 229.2 L88.9 230.0 Q88.9 230.1 96.8 230.2 L146.9 230.7 Q154.9 230.8 152.1 231.0 L134.8 232.5 Q132.0 232.7 132.0 232.9 L132.0 233.7 Q132.0 233.8 133.5 234.0 L142.9 235.3 Q144.4 235.5 139.4 235.7 L108.0 237.2 Q103.1 237.4 103.1 237.5 L103.1 238.4 Q103.1 238.5 107.3 238.7 L134.0 239.7 Q138.2 239.8 136.1 240.0 L122.5 241.2 Q120.3 241.4 117.1 241.6 L96.5 242.8 Q93.2 243.0 93.2 243.1 L93.2 243.9 Q93.2 244.1 94.5 244.1 L103.0 244.1 Q104.3 244.1 103.3 244.4 L97.2 245.8 Q96.3 246.0 96.3 246.2 L96.3 247.0 Q96.3 247.1 99.6 247.3 L120.8 248.4 Q124.2 248.6 127.3 248.8 L146.8 250.3 Q149.9 250.5 147.0 250.9 L128.2 252.9 Q125.3 253.2 125.3 253.3 L125.3 254.2 Q125.3 254.3 128.5 254.3 L149.1 254.6 Q152.4 254.6 149.7 254.8 L132.3 256.3 Q129.6 256.5 129.6 256.7 L129.6 257.5 Q129.6 257.6 131.4 257.8 L142.6 259.0 Q144.4 259.2 142.3 259.4 L129.2 260.7 Q127.2 260.9 124.8 261.0 L109.8 261.9 Q107.4 262.1 107.4 262.2 L107.4 263.0 Q107.4 263.2 109.5 263.3 L123.1 264.3 Q125.3 264.5 121.9 264.8 L100.3 266.7 Q96.9 267.0 96.9 267.1 L96.9 268.0 Q96.9 268.1 100.7 268.3 L125.1 269.6 Q129.0 269.8 123.3 270.0 L87.2 271.5 Q81.5 271.7 81.5 271.8 L81.5 272.7 Q81.5 272.8 86.3 273.0 L116.8 274.2 Q121.6 274.3 125.9 274.6 L153.0 276.2 Q157.3 276.4 155.0 276.6 L140.5 277.4 Q138.2 277.5 138.2 277.6 L138.2 278.5 Q138.2 278.6 139.2 278.7 L145.3 279.5 Q146.2 279.6 143.5 279.9 L126.5 281.8 Q123.8 282.1 120.5 282.3 L99.0 283.8 Q95.7 284.0 95.7 284.2 L95.7 285.0 Q95.7 285.1 101.7 285.4 L140.2 287.0 Q146.2 287.3 141.8 287.6 L113.7 289.2 Q109.2 289.5 109.2 289.6 L109.2 290.4 Q109.2 290.6 111.0 290.8 L122.3 292.0 Q124.0 292.2 121.3 292.4 L104.0 293.7 Q101.2 293.9 101.2 294.0 L101.2 294.9 Q101.2 295.0 103.0 295.1 L114.2 295.8 Q116.0 295.9 113.8 296.1 L99.7 297.1 Q97.5 297.2 97.5 297.4 L97.5 298.2 Q97.5 298.3 101.2 298.5 L124.6 299.3 Q128.3 299.4 124.7 299.5 L101.8 300.4 Q98.1 300.6 98.1 300.7 L98.1 301.5 Q98.1 301.7 101.8 301.8 L124.7 302.4 Q128.3 302.5 126.8 302.5 L117.0 302.7 Q115.4 302.8 115.4 302.9 L115.4 303.7 Q115.4 303.9 119.5 304.1 L145.2 305.3 Q149.3 305.5 148.2 305.7 L141.2 306.9 Q140.1 307.1 140.1 307.2 L140.1 308.1 Q140.1 308.2 140.7 308.3 L144.4 308.8 Q145.0 308.9 143.1 309.0 L131.4 309.8 Q129.6 309.9 129.6 310.1 L129.6 310.9 Q129.6 311.0 132.3 311.2 L149.7 312.4 Q152.4 312.6 152.4 312.5 L152.4 311.9 Q152.4 311.8 149.0 312.1 L127.4 313.6 Q123.9 313.8 120.0 314.0 L95.3 315.1 Q91.3 315.2 91.3 315.4 L91.3 316.2 Q91.3 316.3 95.9 316.5 L124.4 317.8 Q129.0 318.0 125.6 318.1 L104.0 318.3 Q100.6 318.3 100.6 318.5 L100.6 319.3 Q100.6 319.4 106.1 319.7 L141.3 321.1 Q146.8 321.3 145.4 321.5 L136.5 322.3 Q135.1 322.4 135.1 322.5 L135.1 323.4 Q135.1 323.5 135.7 323.7 L139.5 324.9 Q140.1 325.0 138.2 325.4 L126.5 327.5 Q124.6 327.9 123.8 328.0 L118.1 329.0 Q117.2 329.2 117.2 329.3 L117.2 330.1 Q117.2 330.3 119.1 330.5 L130.8 331.8 Q132.7 332.0 133.0 332.1 L135.4 333.0 Q135.7 333.2 133.2 333.5 L117.3 335.6 Q114.8 336.0 114.8 336.1 L114.8 336.9 Q114.8 337.1 116.9 337.1 L130.0 337.3 Q132.0 337.4 130.1 337.5 L117.9 338.6 Q116.0 338.8 116.0 338.9 L116.0 339.8 Q116.0 339.9 119.0 340.1 L137.7 341.6 Q140.7 341.8 139.4 342.1 L131.0 343.6 Q129.7 343.8 128.0 344.0 L117.1 345.0 Q115.4 345.2 115.4 345.3 L115.4 346.2 Q115.4 346.3 116.4 346.4 L122.5 346.9 Q123.4 347.0 126.0 347.3 L142.4 349.0 Q145.0 349.2 142.9 349.3 L129.8 350.0 Q127.7 350.1 127.7 350.3 L127.7 351.1 Q127.7 351.2 129.7 351.5 L141.8 352.9 Q143.8 353.2 140.9 353.4 L122.5 355.1 Q119.6 355.3 116.0 355.5 L93.1 356.7 Q89.5 356.9 89.5 357.1 L89.5 357.9 Q89.5 358.0 91.3 358.0 L102.5 358.1 Q104.3 358.1 102.4 358.2 L90.7 358.7 Q88.9 358.8 88.9 358.9 L88.9 359.7 Q88.9 359.9 91.0 360.0 L104.6 361.0 Q106.8 361.2 105.8 361.4 L100.0 363.0 Q99.0 363.2 97.9 363.4 L90.6 364.5 Q89.5 364.7 89.5 364.8 L89.5 365.7 Q89.5 365.8 90.8 366.0 L98.9 367.2 Q100.2 367.4 100.7 367.6 L103.6 369.3 Q104.1 369.5 105.2 369.8 L112.4 371.4 Q113.5 371.7 110.0 371.8 L87.5 372.8 Q83.9 373.0 83.9 373.1 L83.9 373.9 Q83.9 374.1 85.1 374.1 L92.1 374.7 Q93.2 374.7 92.5 374.9 L87.8 375.9 Q87.0 376.0 87.0 376.2 L87.0 377.0 Q87.0 377.1 92.1 377.3 L123.9 378.6 Q129.0 378.8 124.2 379.0 L93.7 380.2 Q88.9 380.4 88.9 380.5 L88.9 381.3 Q88.9 381.5 91.5 381.5 L108.4 381.7 Q111.1 381.8 109.5 381.9 L99.7 382.7 Q98.1 382.8 98.1 383.0 L98.1 383.8 Q98.1 383.9 102.9 384.1 L133.4 384.9 Q138.2 385.0 136.9 385.2 L128.4 386.7 Q127.1 386.9 127.1 387.0 L127.1 387.9 Q127.1 388.0 128.2 388.0 L135.3 388.2 Q136.4 388.2 130.0 388.4 L89.7 389.7 Q83.3 389.9 83.3 390.0 L83.3 390.8 Q83.3 391.0 85.6 391.0 L99.6 391.6 Q101.8 391.6 100.8 391.8 L94.2 393.1 Q93.2 393.3 93.2 393.4 L93.2 394.3 Q93.2 394.4 94.4 394.5 L101.9 395.0 Q103.1 395.1 101.7 395.3 L92.8 396.8 Q91.3 397.0 91.3 397.1 L91.3 398.0 Q91.3 398.1 92.4 398.2 L98.9 398.9 Q100.0 399.0 100.6 399.3 L104.9 400.8 Q105.5 401.0 103.5 401.1 L90.3 401.8 Q88.3 401.9 88.3 402.1 L88.3 402.9 Q88.3 403.0 89.5 403.2 L97.5 404.5 Q98.7 404.7 97.9 405.0 L92.8 406.6 Q92.0 406.9 92.0 407.0 L92.0 407.8 Q92.0 408.0 93.4 408.2 L102.8 409.9 Q104.3 410.1 101.9 410.4 L86.9 411.8 Q84.6 412.1 84.6 412.2 L84.6 413.0 Q84.6 413.2 86.5 413.3 L98.7 414.1 Q100.6 414.2 99.0 414.3 L89.2 415.1 Q87.6 415.3 87.6 415.4 L87.6 416.2 Q87.6 416.4 89.5 416.4 L101.2 416.6 Q103.1 416.7 101.4 417.0 L91.1 418.9 Q89.5 419.2 89.5 419.3 L89.5 420.2 Q89.5 420.3 91.0 420.6 L100.4 422.2 Q101.8 422.5 101.2 422.7 L97.4 424.0 Q96.8 424.2 95.9 424.3 L90.4 425.2 Q89.5 425.4 89.5 425.5 L89.5 426.3 Q89.5 426.5 90.9 426.8 L99.8 428.7 Q101.2 429.0 99.5 429.2 L88.7 430.7 Q87.0 430.9 87.0 431.1 L87.0 431.9 Q87.0 432.0 88.7 432.2 L99.0 433.2 Q100.6 433.3 99.4 433.6 L91.9 435.0 Q90.7 435.2 90.7 435.4 L90.7 436.2 Q90.7 436.3 91.8 436.5 L98.9 437.5 Q100.0 437.6 98.8 437.8 L91.3 438.8 Q90.1 438.9 90.1 439.1 L90.1 439.9 Q90.1 440.0 91.9 440.1 L103.1 440.4 Q104.9 440.5 103.4 440.6 L93.5 441.6 Q92.0 441.7 92.0 441.8 L92.5 442.4 Q92.6 442.5 95.5 442.7 L114.3 444.4 Q117.2 444.7 114.1 445.0 L94.5 447.1 Q91.3 447.5 91.3 447.6 L91.3 448.4 Q91.3 448.6 92.4 448.6 L98.9 449.2 Q100.0 449.2 99.0 449.5 L92.9 450.9 Q92.0 451.2 92.0 451.3 L92.0 452.1 Q92.0 452.3 93.0 452.4 L99.6 453.4 Q100.6 453.6 103.8 453.9 L123.9 456.0 Q127.1 456.3 123.0 456.5 L96.7 457.7 Q92.6 457.9 92.6 458.1 L92.6 458.9 Q92.6 459.0 93.7 459.2 L100.7 460.2 Q101.8 460.3 100.6 460.6 L93.1 462.0 Q92.0 462.3 92.0 462.4 L92.0 463.2 Q92.0 463.4 93.2 463.5 L101.2 464.5 Q102.4 464.7 101.1 465.0 L92.7 466.9 Q91.3 467.2 91.3 467.3 L91.3 468.2 Q91.3 468.3 92.5 468.5 L100.0 470.0 Q101.2 470.2 102.0 470.6 L106.6 472.7 Q107.4 473.1 105.6 473.2 L94.4 474.4 Q92.6 474.6 92.6 474.7 L92.6 475.6 Q92.6 475.7 94.1 475.9 L103.4 476.8 Q104.9 477.0 102.2 477.3 L84.8 479.2 Q82.1 479.5 82.1 479.7 L82.1 480.5 Q82.1 480.6 85.8 481.0 L109.2 483.1 Q112.9 483.4 111.2 483.7 L100.0 485.5 Q98.3 485.8 96.3 486.0 L83.5 487.3 Q81.5 487.5 81.5 487.7 L81.5 488.5 Q81.5 488.6 85.5 488.8 L110.8 489.5 Q114.8 489.6 112.6 489.8 L99.0 491.0 Q96.9 491.2 96.9 491.4 L96.9 492.2 Q96.9 492.3 99.9 492.5 L119.1 493.8 Q122.2 494.0 120.1 494.3 L106.9 496.0 Q104.9 496.3 102.4 496.5 L87.0 497.8 Q84.6 498.0 84.6 498.2 L84.6 499.0 Q84.6 499.1 87.4 499.3 L105.2 500.3 Q108.0 500.4 107.1 500.6 L101.5 501.6 Q100.6 501.7 100.6 501.9 L100.6 502.7 Q100.6 502.8 101.9 503.0 L110.4 503.8 Q111.7 503.9 111.1 504.1 L107.5 505.4 Q106.9 505.6 105.5 505.8 L97.0 507.1 Q95.7 507.3 95.0 507.5 L90.2 508.4 Q89.5 508.5 89.5 508.6 L89.5 509.5 Q89.5 509.6 92.7 509.8 L112.8 511.1 Q116.0 511.3 113.2 511.5 L95.4 512.6 Q92.6 512.8 92.6 513.0 L92.6 513.8 Q92.6 513.9 96.5 514.0 L121.3 514.5 Q125.3 514.6 123.6 514.9 L113.3 516.5 Q111.6 516.8 109.5 517.0 L96.0 518.2 Q93.8 518.4 93.8 518.5 L93.8 519.3 Q93.8 519.5 96.6 519.7 L113.9 521.2 Q116.6 521.4 115.4 521.5 L107.9 522.2 Q106.8 522.3 106.8 522.5 L106.8 523.3 Q106.8 523.4 110.7 523.7 L135.5 525.4 Q139.4 525.7 136.6 525.8 L118.3 526.1 Q115.4 526.1 115.4 526.3 L115.4 527.1 Q115.4 527.2 118.9 527.6 L141.4 529.5 Q145.0 529.8 142.0 529.9 L122.7 530.8 Q119.7 531.0 119.7 531.1 L119.7 531.9 Q119.7 532.1 121.3 532.3 L131.1 533.7 Q132.7 534.0 134.7 534.2 L147.9 535.4 Q149.9 535.6 143.9 535.9 L105.4 537.8 Q99.4 538.1 99.4 538.2 L99.4 539.1 Q99.4 539.2 104.8 539.4 L139.5 540.7 Q145.0 540.9 141.7 541.2 L121.1 543.3 Q117.9 543.6 115.5 543.7 L100.5 544.7 Q98.1 544.8 98.2 545.0 L98.7 546.1 Q98.7 546.3 104.1 546.5 L138.4 548.0 Q143.8 548.3 139.1 548.3 L109.6 548.6 Q104.9 548.6 104.9 548.7 L104.9 549.6 Q104.9 549.7 107.7 549.7 L125.5 550.1 Q128.3 550.1 126.0 550.3 L111.0 551.5 Q108.6 551.7 108.6 551.8 L108.6 552.6 Q108.6 552.8 113.3 553.1 L142.8 555.0 Q147.5 555.3 143.0 555.4 L114.9 555.9 Q110.5 556.0 110.5 556.1 L110.5 557.0 Q110.5 557.1 113.2 557.3 L130.5 558.8 Q133.3 559.0 131.4 559.1 L119.7 559.6 Q117.9 559.7 117.9 559.8 L117.9 560.7 Q117.9 560.8 120.4 560.9 L136.3 561.4 Q138.8 561.5 135.6 561.6 L115.0 562.6 Q111.7 562.8 111.7 562.9 L111.7 563.7 Q111.7 563.9 114.8 564.1 L134.5 565.6 Q137.6 565.8 132.9 565.9 L102.9 566.4 Q98.1 566.5 98.1 566.6 L98.1 567.4 Q98.1 567.6 100.4 567.7 L114.4 568.4 Q116.6 568.5 113.8 568.8 L96.0 570.5 Q93.2 570.7 93.2 570.8 L93.2 571.2 Q93.2 571.2 100.0 571.6 L143.1 573.9 Q149.9 574.3 147.3 574.4 L130.4 574.9 Q127.7 575.0 127.7 575.1 L127.7 576.0 Q127.7 576.1 129.0 576.3 L137.0 577.8 Q138.2 578.0 137.6 578.3 L133.6 579.9 Q133.0 580.2 131.9 580.4 L124.6 581.6 Q123.4 581.8 123.4 581.9 L123.4 582.8 Q123.4 582.9 124.4 583.0 L130.5 583.5 Q131.4 583.6 131.0 583.8 L128.5 585.2 Q128.1 585.4 127.3 585.6 L122.3 586.6 Q121.6 586.7 121.6 586.8 L121.6 587.7 Q121.6 587.8 122.9 588.0 L131.2 589.0 Q132.5 589.1 133.3 589.3 L138.6 590.7 Q139.4 591.0 136.5 591.1 L117.7 592.1 Q114.8 592.3 114.8 592.4 L114.8 593.2 Q114.8 593.4 115.7 593.4 L121.8 594.0 Q122.8 594.0 121.1 594.2 L110.3 595.2 Q108.6 595.3 108.6 595.5 L108.6 596.3 Q108.6 596.4 112.2 596.6 L134.7 597.6 Q138.2 597.7 137.2 597.8 L131.2 598.3 Q130.2 598.4 130.2 598.6 L130.2 599.4 Q130.2 599.5 131.5 599.6 L139.4 600.1 Q140.7 600.2 139.3 600.4 L130.9 601.8 Q129.6 602.1 128.0 602.2 L118.2 603.2 Q116.6 603.4 116.6 603.5 L116.6 604.3 Q116.6 604.5 120.3 604.6 L143.8 605.6 Q147.5 605.8 145.9 606.0 L135.8 607.4 Q134.2 607.6 132.4 607.8 L120.9 608.8 Q119.1 608.9 119.1 609.0 L119.1 609.9 Q119.1 610.0 120.4 610.0 L128.3 610.2 Q129.6 610.2 127.7 610.3 L115.5 611.2 Q113.5 611.4 113.5 611.5 L113.5 612.3 Q113.5 612.5 118.1 612.5 L146.6 612.8 Q151.2 612.8 148.6 612.9 L132.7 613.4 Q130.2 613.5 130.2 613.6 L130.2 614.4 Q130.2 614.6 132.0 614.9 L143.2 616.6 Q145.0 616.9 142.2 617.2 L124.4 619.6 Q121.6 619.9 119.5 620.1 L106.4 621.1 Q104.3 621.2 104.3 621.4 L104.3 622.2 Q104.3 622.3 108.7 622.5 L136.3 623.3 Q140.7 623.4 135.7 623.6 L104.3 624.8 Q99.4 624.9 99.4 625.1 L99.4 625.9 Q99.4 626.0 104.3 626.2 L135.7 626.9 Q140.7 627.0 135.5 627.1 L102.7 628.2 Q97.5 628.4 97.5 628.5 L97.5 629.4 Q97.5 629.5 98.2 629.7 L102.4 630.9 Q103.1 631.0 106.8 631.2 L130.7 632.5 Q134.5 632.6 131.3 632.7 L110.6 633.3 Q107.4 633.3 107.4 633.5 L107.4 634.3 Q107.4 634.4 110.1 634.5 L127.5 635.3 Q130.2 635.4 126.7 635.4 L104.7 636.0 Q101.2 636.0 101.2 636.2 L101.2 637.0 Q101.2 637.1 106.0 637.2 L136.5 637.7 Q141.3 637.8 136.3 638.0 L104.4 639.3 Q99.4 639.5 99.4 639.6 L99.4 640.5 Q99.4 640.6 105.2 640.7 L142.2 641.4 Q148.1 641.5 145.3 641.8 L128.0 643.2 Q125.3 643.4 123.6 643.6 L113.3 645.2 Q111.7 645.4 109.8 645.6 L97.6 646.7 Q95.7 646.9 95.7 647.0 L95.7 647.9 Q95.7 648.0 98.6 648.0 L116.8 648.2 Q119.7 648.2 116.2 648.5 L94.2 650.3 Q90.7 650.6 90.7 650.7 L90.7 651.6 Q90.7 651.7 97.5 651.9 L140.7 653.1 Q147.5 653.2 146.4 653.5 L139.7 655.4 Q138.7 655.7 137.1 655.9 L126.9 657.4 Q125.3 657.6 125.3 657.8 L125.3 658.6 Q125.3 658.7 126.4 659.0 L133.9 661.0 Q135.1 661.3 134.2 661.5 L128.1 663.2 Q127.1 663.4 127.1 663.6 L127.1 664.4 Q127.1 664.5 128.2 664.7 L134.9 665.6 Q135.9 665.7 136.6 665.9 L140.7 667.2 Q141.3 667.4 139.7 667.5 L129.4 668.0 Q127.7 668.1 127.7 668.2 L127.7 669.1 Q127.7 669.2 128.9 669.3 L136.4 670.0 Q137.6 670.1 136.1 670.4 L126.7 672.1 Q125.3 672.4 124.0 672.6 L116.0 674.3 Q114.8 674.5 114.8 674.7 L114.8 675.5 Q114.8 675.6 116.2 675.7 L125.1 676.0 Q126.5 676.1 122.5 676.3 L97.2 677.5 Q93.2 677.7 93.2 677.9 L93.2 678.7 Q93.2 678.8 95.8 678.9 L112.2 679.6 Q114.8 679.8 117.8 680.0 L137.0 681.4 Q140.1 681.6 139.2 681.7 L133.6 682.2 Q132.7 682.3 132.7 682.4 L132.7 683.3 Q132.7 683.4 134.7 683.5 L147.9 684.5 Q149.9 684.7 147.9 684.9 L134.7 686.4 Q132.7 686.6 132.7 686.7 L132.7 687.6 Q132.7 687.7 134.7 687.9 L147.3 689.2 Q149.3 689.4 148.0 689.6 L139.8 691.1 Q138.5 691.4 136.8 691.6 L126.3 693.1 Q124.6 693.3 125.1 693.6 L127.9 695.5 Q128.3 695.8 130.3 696.1 L143.0 698.2 Q145.0 698.5 143.5 698.8 L134.1 700.5 Q132.7 700.7 131.4 700.8 L123.4 701.6 Q122.2 701.7 122.2 701.8 L122.2 702.2 Q122.2 702.2 123.9 702.6 L134.7 705.2 Q136.4 705.5 135.8 705.8 L132.6 707.2 Q132.0 707.5 132.0 707.6 L132.0 708.4 Q132.0 708.6 133.2 708.8 L140.2 710.6 Q141.3 710.9 138.2 711.1 L118.4 712.6 Q115.3 712.8 111.7 713.0 L88.8 714.1 Q85.2 714.2 85.2 714.4 L85.2 715.2 Q85.2 715.3 86.3 715.5 L93.5 716.5 Q94.7 716.6 95.4 716.9 L99.9 718.3 Q100.6 718.5 102.9 718.6 L117.4 719.6 Q119.7 719.7 116.0 719.8 L92.6 720.4 Q88.9 720.5 88.8 720.6 L88.3 721.1 Q88.3 721.2 90.4 721.4 L104.0 722.3 Q106.1 722.4 104.7 722.6 L95.3 723.9 Q93.8 724.1 93.8 724.2 L93.8 725.1 Q93.8 725.2 94.9 725.3 L102.0 725.6 Q103.1 725.7 106.8 725.9 L130.7 727.8 Q134.5 728.1 129.1 728.2 L94.9 728.9 Q89.5 729.0 89.5 729.2 L89.5 730.0 Q89.5 730.1 93.0 730.3 L115.0 731.6 Q118.5 731.8 114.9 732.1 L91.9 733.7 Q88.3 734.0 88.3 734.1 L88.3 734.9 Q88.3 735.1 91.1 735.2 L108.9 735.7 Q111.7 735.8 109.3 735.9 L94.3 736.9 Q92.0 737.1 92.0 737.2 L92.0 738.0 Q92.0 738.2 99.0 738.4 L143.5 740.2 Q150.5 740.5 147.6 740.7 L128.8 742.1 Q125.8 742.3 122.5 742.5 L101.5 743.4 Q98.1 743.6 98.1 743.7 L98.1 744.6 Q98.1 744.7 104.6 745.0 L145.3 746.8 Q151.8 747.1 146.6 747.4 L113.8 749.1 Q108.6 749.4 108.6 749.5 L108.6 750.4 Q108.6 750.5 115.1 750.6 L155.8 751.1 Q162.3 751.2 154.7 751.5 L106.9 753.2 Q99.4 753.5 99.4 753.6 L99.4 754.4 Q99.4 754.6 105.4 754.8 L143.9 755.9 Q149.9 756.1 150.8 756.3 L156.4 757.2 Q157.3 757.3 149.5 757.5 L99.8 758.5 Q92.0 758.6 92.0 758.8 L92.0 759.6 Q92.0 759.7 94.7 759.8 L112.0 760.3 Q114.8 760.4 112.6 760.5 L99.0 760.8 Q96.9 760.9 96.9 761.0 L96.9 761.8 Q96.9 762.0 103.7 762.1 L146.8 762.8 Q153.6 762.9 151.7 763.3 L139.5 765.6 Q137.6 766.0 138.0 766.1 L140.3 767.1 Q140.7 767.2 138.2 767.3 L122.2 768.1 Q119.7 768.3 119.7 768.4 L119.7 769.2 Q119.7 769.4 121.9 769.6 L135.4 771.1 Q137.6 771.3 136.0 771.5 L125.7 772.6 Q124.0 772.8 121.2 773.1 L103.4 775.5 Q100.6 775.8 99.0 776.1 L88.7 777.5 Q87.0 777.8 87.0 777.9 L87.0 778.7 Q87.0 778.9 89.5 779.0 L104.9 780.0 Q107.4 780.2 104.4 780.2 L85.7 780.8 Q82.7 780.8 82.7 781.0 L82.7 781.8 Q82.7 781.9 90.3 782.1 L138.6 783.1 Q146.2 783.2 144.6 783.5 L134.3 784.9 Q132.7 785.1 133.0 785.2 L135.4 786.2 Q135.7 786.3 134.6 786.6 L127.1 788.3 Q125.9 788.5 126.3 788.7 L129.1 789.6 Q129.6 789.8 127.9 790.0 L117.1 791.5 Q115.4 791.7 115.4 791.8 L115.4 792.7 Q115.4 792.8 116.3 792.8 L121.9 793.1 Q122.8 793.1 120.8 793.3 L108.1 794.5 Q106.1 794.7 106.1 794.8 L106.1 795.6 Q106.1 795.8 109.9 796.0 L133.8 797.2 Q137.6 797.4 139.2 797.6 L149.5 798.5 Q151.2 798.7 145.6 799.0 L110.5 800.9 Q104.9 801.2 104.9 801.3 L104.9 802.2 Q104.9 802.3 108.9 802.3 L134.2 802.6 Q138.2 802.6 135.4 802.9 L117.6 804.9 Q114.8 805.3 114.8 805.4 L114.8 806.2 Q114.8 806.4 116.9 806.4 L130.5 807.0 Q132.7 807.0 133.3 807.3 L137.6 808.8 Q138.3 809.0 138.4 809.3 L138.8 810.8 Q138.8 811.0 138.0 811.2 L132.9 812.6 Q132.0 812.8 130.9 813.2 L123.9 815.3 Q122.8 815.6 122.8 815.8 L122.8 816.6 Q122.8 816.7 124.0 816.7 L131.5 816.8 Q132.7 816.8 128.2 817.0 L100.1 818.6 Q95.7 818.8 95.7 819.0 L95.7 819.8 Q95.7 819.9 100.9 820.2 L134.2 821.8 Q139.4 822.1 139.1 822.4 L136.7 824.3 Q136.4 824.6 135.8 824.7 L132.6 825.7 Q132.0 825.9 132.0 826.0 L132.0 826.8 Q132.0 827.0 133.0 827.1 L139.1 828.1 Q140.1 828.3 140.4 828.5 L142.2 829.9 Q142.5 830.1 140.3 830.3 L126.2 831.2 Q124.0 831.3 124.0 831.4 L124.0 832.3 Q124.0 832.4 127.0 832.7 L145.7 834.4 Q148.7 834.7 145.0 834.9 L121.6 836.0 Q117.9 836.2 115.8 836.5 L102.7 838.4 Q100.6 838.7 100.6 838.8 L100.6 839.7 Q100.6 839.8 101.6 840.0 L108.2 841.5 Q109.2 841.7 111.5 841.8 L125.5 842.3 Q127.7 842.3 127.7 842.6 L127.7 844.5 Q127.7 844.8 129.7 845.1 L142.5 846.7 Q144.6 847.0 146.0 847.2 L155.3 848.9 Q156.7 849.1 155.6 849.4 L148.4 851.0 Q147.3 851.3 145.8 851.5 L136.6 853.2 Q135.1 853.4 134.7 853.8 L131.9 856.1 Q131.4 856.5 129.2 856.6 L115.2 857.1 Q112.9 857.2 112.9 857.3 L112.9 858.2 Q112.9 858.3 116.9 858.4 L142.2 858.9 Q146.2 859.0 139.2 859.1 L94.7 860.1 Q87.6 860.3 87.6 860.4 L87.6 861.2 Q87.6 861.4 93.1 861.6 L127.8 862.9 Q133.3 863.1 130.8 863.2 L115.4 864.4 Q112.9 864.6 112.9 864.7 L112.9 865.6 Q112.9 865.7 114.1 865.9 L121.6 866.8 Q122.8 867.0 123.0 867.3 L124.4 869.2 Q124.6 869.5 125.5 869.7 L130.6 871.1 Q131.4 871.3 130.8 871.5 L126.5 872.5 Q125.9 872.6 125.9 872.7 L125.9 873.6 Q125.9 873.7 126.9 873.8 L133.5 874.1 Q134.5 874.2 133.6 874.3 L128.0 875.2 Q127.1 875.3 127.1 875.5 L127.1 876.3 Q127.1 876.4 128.6 876.6 L138.0 877.4 Q139.4 877.5 141.1 877.8 L151.9 880.2 Q153.6 880.6 152.9 880.9 L148.2 883.3 Q147.5 883.6 143.5 883.9 L118.2 885.3 Q114.2 885.6 114.2 885.7 L114.2 886.5 Q114.2 886.7 119.9 886.9 L156.5 888.7 Q162.3 888.9 160.8 889.3 L151.4 891.9 Q149.9 892.3 145.6 892.6 L117.9 894.5 Q113.5 894.8 113.5 894.9 L113.5 895.8 Q113.5 895.9 117.6 896.1 L143.4 897.4 Q147.5 897.6 146.4 897.8 L139.3 898.9 Q138.2 899.1 135.1 899.2 L115.4 899.9 Q112.3 900.0 112.3 900.1 L112.3 901.0 Q112.3 901.1 115.6 901.1 L136.2 901.5 Q139.4 901.5 134.0 901.8 L99.3 903.4 Q93.8 903.7 93.8 903.8 L93.8 904.7 Q93.8 904.8 96.2 904.9 L111.4 905.9 Q113.8 906.1 115.7 906.3 L127.7 907.7 Q129.6 907.9 127.4 908.1 L113.8 909.4 Q111.7 909.6 111.7 909.7 L111.7 910.6 Q111.7 910.7 112.7 910.8 L119.3 911.3 Q120.3 911.4 118.7 911.6 L108.4 913.0 Q106.8 913.2 105.4 913.4 L97.0 914.4 Q95.7 914.5 95.7 914.7 L95.7 915.5 Q95.7 915.6 102.5 915.8 L145.6 916.8 Q152.4 916.9 145.2 917.1 L99.8 918.1 Q92.6 918.2 92.6 918.4 L92.6 919.2 Q92.6 919.3 96.7 919.5 L122.5 920.4 Q126.6 920.5 130.2 920.7 L153.1 922.0 Q156.7 922.2 150.1 922.5 L108.4 924.4 Q101.8 924.7 101.8 924.8 L101.8 925.6 Q101.8 925.8 106.0 925.9 L132.2 926.7 Q136.4 926.8 132.4 927.0 L107.6 928.0 Q103.7 928.1 103.7 928.2 L103.7 929.1 Q103.7 929.2 106.3 929.4 L123.2 930.7 Q125.9 930.9 121.5 931.0 L93.9 931.7 Q89.5 931.8 89.5 931.9 L89.5 932.8 Q89.5 932.9 93.2 933.0 L116.6 933.7 Q120.3 933.8 115.7 934.1 L86.7 935.5 Q82.1 935.8 82.1 935.9 L82.1 936.7 Q82.1 936.9 86.4 937.0 L113.5 938.0 Q117.8 938.2 121.4 938.4 L144.4 939.8 Q148.1 940.0 140.8 940.2 L94.4 941.7 Q87.0 941.9 87.0 942.1 L87.0 942.9 Q87.0 943.0 90.3 943.0 L110.9 943.2 Q114.2 943.2 113.1 943.4 L106.3 944.9 Q105.3 945.1 103.4 945.4 L91.9 946.8 Q90.1 947.1 88.9 947.2 L81.4 948.3 Q80.2 948.5 80.2 948.6 L80.2 949.4 Q80.2 949.6 81.9 949.8 L92.2 951.2 Q93.8 951.5 92.2 951.4 L81.9 950.7 Q80.2 950.6 82.0 950.8 L92.7 951.7 Q94.4 951.8 92.8 952.1 L82.5 953.5 Q80.9 953.8 80.9 953.9 L80.9 954.7 Q80.9 954.9 83.9 955.0 L103.0 956.2 Q106.0 956.4 108.3 956.6 L123.0 958.1 Q125.3 958.4 128.5 958.5 L149.1 959.5 Q152.4 959.6 145.8 960.0 L104.1 962.1 Q97.5 962.4 97.5 962.5 L97.5 963.4 Q97.5 963.5 100.8 963.8 L121.9 965.5 Q125.3 965.8 122.9 966.0 L107.9 967.1 Q105.5 967.3 105.5 967.5 L105.5 968.3 Q105.5 968.4 109.6 968.6 L135.4 969.6 Q139.4 969.7 134.7 970.0 L104.7 972.0 Q100.0 972.3 100.0 972.4 L100.0 973.2 Q100.0 973.4 105.8 973.5 L142.8 974.5 Q148.7 974.7 145.3 974.8 L123.7 975.8 Q120.3 976.0 120.3 976.1 L120.3 976.9 Q120.3 977.1 120.9 977.2 L124.7 978.0 Q125.3 978.1 124.2 978.2 L117.1 978.9 Q116.0 979.0 116.0 979.2 L116.0 980.0 Q116.0 980.1 118.6 980.2 L135.0 980.5 Q137.6 980.6 134.3 980.8 L113.7 981.9 Q110.5 982.1 110.5 982.3 L110.5 983.1 Q110.5 983.2 113.3 983.3 L131.1 983.8 Q133.9 983.9 131.2 984.0 L114.4 984.8 Q111.7 985.0 111.7 985.1 L111.7 985.9 Q111.7 986.1 114.9 986.1 L135.0 986.3 Q138.2 986.4 131.3 986.5 L87.2 987.0 Q80.2 987.1 80.2 987.2 L80.2 988.0 Q80.2 988.2 89.3 988.3 L146.4 989.5 Q155.5 989.7 146.4 989.8 L89.3 990.6 Q80.2 990.8 80.2 990.9 L80.2 991.7 Q80.2 991.9 88.2 992.2 L138.9 994.3 Q146.8 994.6 139.3 994.8 L91.5 995.6 Q83.9 995.7 83.9 995.8 L83.9 996.7 Q83.9 996.8 85.6 996.8 L95.9 997.1 Q97.5 997.1 97.3 997.3 L95.9 998.5 Q95.7 998.7 101.5 999.0 L138.5 1000.6 Q144.4 1000.8 137.0 1001.1 L90.1 1002.8 Q82.7 1003.1 82.7 1003.2 L82.7 1004.1 Q82.7 1004.2 88.1 1004.3 L122.3 1005.1 Q127.7 1005.2 125.7 1005.5 L112.5 1006.8 Q110.5 1007.0 106.7 1007.1 L82.8 1008.2 Q79.0 1008.4 79.0 1008.5 L79.0 1009.4 Q79.0 1009.5 84.0 1009.7 L115.9 1011.2 Q120.9 1011.4 116.4 1011.7 L87.8 1013.5 Q83.3 1013.8 83.3 1014.0 L83.3 1014.8 Q83.3 1014.9 91.0 1015.1 L139.8 1016.2 Q147.5 1016.3 139.6 1016.6 L89.9 1018.0 Q82.1 1018.3 82.1 1018.4 L82.1 1019.2 Q82.1 1019.4 83.7 1019.5 L94.0 1020.2 Q95.7 1020.3 99.4 1020.5 L122.8 1021.9 Q126.5 1022.1 121.2 1022.3 L87.4 1023.5 Q82.1 1023.7 82.1 1023.8 L82.1 1024.7 Q82.1 1024.8 84.1 1024.9 L96.8 1025.7 Q98.7 1025.8 97.2 1025.9 L87.4 1026.4 Q85.8 1026.5 85.8 1026.7 L85.8 1027.5 Q85.8 1027.6 87.8 1027.7 L100.4 1028.2 Q102.4 1028.3 100.6 1028.5 L88.9 1029.5 Q87.0 1029.6 87.0 1029.7 L87.0 1030.6 Q87.0 1030.7 88.6 1030.8 L98.4 1031.3 Q100.0 1031.4 98.6 1031.6 L89.7 1033.1 Q88.3 1033.3 88.3 1033.4 L88.3 1034.3 Q88.3 1034.4 89.7 1034.5 L99.1 1035.0 Q100.6 1035.1 98.3 1035.2 L83.8 1036.2 Q81.5 1036.4 81.5 1036.5 L81.5 1037.4 Q81.5 1037.5 87.6 1037.6 L126.0 1038.6 Q132.0 1038.8 126.1 1039.1 L88.6 1040.7 Q82.7 1041.0 82.7 1041.1 L82.7 1041.9 Q82.7 1042.1 84.1 1042.1 L93.0 1042.2 Q94.4 1042.2 93.5 1042.5 L87.4 1043.9 Q86.4 1044.2 86.4 1044.3 L86.4 1045.1 Q86.4 1045.3 90.0 1045.4 L112.5 1046.6 Q116.0 1046.8 112.3 1047.0 L88.9 1048.0 Q85.2 1048.1 85.2 1048.2 L85.2 1049.1 Q85.2 1049.2 88.4 1049.4 L108.5 1050.7 Q111.7 1050.9 107.9 1051.2 L84.0 1053.3 Q80.2 1053.7 80.2 1053.8 L80.2 1054.6 Q80.2 1054.8 83.7 1055.0 L105.2 1056.8 Q108.6 1057.0 106.6 1057.1 L94.0 1057.6 Q92.0 1057.7 92.0 1057.9 L92.0 1058.7 Q92.0 1058.8 99.2 1058.9 L145.1 1059.4 Q152.4 1059.5 145.3 1059.6 L100.3 1060.3 Q93.2 1060.4 93.2 1060.6 L93.2 1061.4 Q93.2 1061.5 96.8 1061.6 L119.2 1061.9 Q122.8 1062.0 117.5 1062.1 L83.7 1063.0 Q78.4 1063.2 78.4 1063.3 L78.4 1064.1 Q78.4 1064.3 79.5 1064.5 L86.5 1065.7 Q87.6 1065.9 87.5 1066.1 L86.6 1067.0 Q86.4 1067.2 95.5 1067.3 L153.2 1068.0 Q162.3 1068.1 152.7 1068.3 L92.3 1069.4 Q82.7 1069.6 82.6 1069.9 L81.6 1071.8 Q81.5 1072.1 83.4 1072.2 L95.6 1073.2 Q97.5 1073.3 95.7 1073.6 L83.9 1075.6 Q82.1 1075.9 82.1 1076.0 L82.1 1076.8 Q82.1 1077.0 84.2 1077.0 L97.3 1077.6 Q99.4 1077.6 97.9 1077.8 L88.5 1078.8 Q87.0 1078.9 87.0 1079.1 L87.0 1079.9 Q87.0 1080.0 87.8 1080.2 L93.2 1081.0" fill="none" stroke="#17326f" stroke-width="0.95" stroke-linejoin="round"/>
<path d="M643.7 103.5 L610.0 103.5 L610.0 103.5 L583.9 105.6 Q580.4 105.8 580.4 106.0 L580.4 106.8 Q580.4 106.9 585.2 107.2 L616.2 108.9 Q621.1 109.2 617.7 109.6 L596.1 111.7 Q592.7 112.0 592.7 112.1 L592.7 113.0 Q592.7 113.1 594.7 113.3 L607.4 114.4 Q609.4 114.6 610.9 114.8 L620.2 116.4 Q621.7 116.6 617.5 116.9 L591.3 118.5 Q587.1 118.8 587.1 118.9 L587.1 119.7 Q587.1 119.9 590.3 120.0 L609.9 120.5 Q613.0 120.6 611.2 120.8 L599.8 122.2 Q598.0 122.4 595.7 122.6 L581.3 124.0 Q579.0 124.3 577.3 124.4 L566.6 125.4 Q564.9 125.6 564.9 125.7 L564.9 126.5 Q564.9 126.7 571.1 127.0 L610.0 129.1 Q616.1 129.4 613.0 129.5 L593.3 130.0 Q590.2 130.1 590.2 130.3 L590.2 131.1 Q590.2 131.2 592.7 131.4 L608.5 132.7 Q611.0 132.9 613.1 133.2 L626.4 134.8 Q628.5 135.1 620.5 135.4 L569.9 137.6 Q561.9 137.9 561.9 138.0 L561.9 138.9 Q561.9 139.0 569.3 139.2 L616.1 140.1 Q623.5 140.3 621.2 140.5 L606.2 141.9 Q603.8 142.1 601.2 142.3 L584.8 143.3 Q582.2 143.4 582.2 143.6 L582.2 144.4 Q582.2 144.5 584.5 144.7 L599.1 145.8 Q601.4 146.0 603.2 146.2 L614.9 147.7 Q616.7 147.9 615.7 148.1 L609.1 149.5 Q608.1 149.7 606.8 149.9 L598.9 151.2 Q597.6 151.4 596.4 151.5 L588.9 152.2 Q587.8 152.3 587.8 152.5 L587.8 153.3 Q587.8 153.4 590.6 153.6 L608.4 154.9 Q611.2 155.1 608.4 155.3 L590.6 156.6 Q587.8 156.8 587.8 156.9 L587.8 157.7 Q587.8 157.9 590.1 158.0 L604.8 159.1 Q607.1 159.3 609.0 159.5 L621.0 161.0 Q622.9 161.3 620.2 161.6 L602.8 163.5 Q600.1 163.8 600.1 163.9 L600.1 164.8 Q600.1 164.9 601.2 165.2 L608.2 167.1 Q609.3 167.4 608.7 167.6 L604.5 168.6 Q603.8 168.7 603.8 168.9 L603.8 169.7 Q603.8 169.8 605.6 169.9 L617.4 170.4 Q619.2 170.5 617.1 170.6 L603.5 171.1 Q601.3 171.2 601.3 171.3 L601.3 172.2 Q601.3 172.3 602.2 172.4 L607.4 173.4 Q608.2 173.6 608.7 173.8 L611.8 175.2 Q612.3 175.4 613.1 175.7 L618.4 177.1 Q619.2 177.3 617.0 177.6 L603.1 179.2 Q600.9 179.5 598.3 179.6 L581.7 180.9 Q579.1 181.1 579.1 181.2 L579.1 182.0 Q579.1 182.2 580.3 182.5 L587.8 184.4 Q589.0 184.7 591.1 184.9 L606.3 186.3 L606.3 187.5 L643.7 187.5 Z" fill="#802608"/>
<path d="M643.7 187.5 L568.6 187.5 L568.6 189.1 L568.6 190.0 Q568.6 190.2 570.2 190.4 L580.0 191.9 Q581.6 192.1 580.4 192.3 L572.9 193.4 Q571.7 193.6 571.7 193.8 L571.7 194.6 Q571.7 194.7 575.4 195.0 L598.9 196.6 Q602.6 196.9 598.3 197.2 L571.1 198.9 Q566.8 199.2 566.8 199.3 L566.8 200.1 Q566.8 200.3 569.6 200.3 L587.4 200.3 Q590.2 200.3 587.5 200.6 L570.2 202.0 Q567.4 202.3 567.4 202.4 L567.4 203.2 Q567.4 203.4 571.3 203.4 L595.6 203.6 Q599.5 203.7 595.3 203.8 L569.1 204.9 Q564.9 205.1 564.9 205.2 L564.9 206.1 Q564.9 206.2 567.9 206.4 L586.8 207.7 Q589.8 207.9 592.1 208.2 L607.0 209.9 Q609.3 210.2 606.2 210.3 L586.0 211.1 Q582.8 211.3 582.8 211.4 L582.8 212.2 Q582.8 212.4 585.9 212.5 L605.1 213.4 Q608.1 213.5 603.6 213.7 L575.0 215.0 Q570.5 215.2 570.5 215.3 L570.5 216.2 Q570.5 216.3 573.8 216.4 L594.9 216.7 Q598.2 216.8 594.0 217.0 L567.3 218.9 Q563.1 219.2 563.1 219.3 L563.1 220.1 Q563.1 220.3 568.4 220.3 L601.6 220.9 Q606.9 220.9 603.5 221.2 L582.5 222.6 Q579.1 222.9 579.1 223.0 L579.1 223.8 Q579.1 224.0 584.2 224.1 L616.0 225.2 Q621.1 225.4 619.1 225.6 L607.0 226.9 Q605.0 227.1 600.8 227.3 L574.1 228.8 Q569.9 229.0 569.9 229.2 L569.9 230.0 Q569.9 230.1 577.8 230.2 L627.9 230.7 Q635.9 230.8 633.1 231.0 L615.8 232.5 Q613.0 232.7 613.0 232.9 L613.0 233.7 Q613.0 233.8 614.5 234.0 L623.9 235.3 Q625.4 235.5 620.4 235.7 L589.0 237.2 Q584.1 237.4 584.1 237.5 L584.1 238.4 Q584.1 238.5 588.3 238.7 L615.0 239.7 Q619.2 239.8 617.1 240.0 L603.5 241.2 Q601.3 241.4 598.1 241.6 L577.5 242.8 Q574.2 243.0 574.2 243.1 L574.2 243.9 Q574.2 244.1 575.5 244.1 L584.0 244.1 Q585.3 244.1 584.3 244.4 L578.2 245.8 Q577.3 246.0 577.3 246.2 L577.3 247.0 Q577.3 247.1 580.6 247.3 L601.8 248.4 Q605.2 248.6 608.3 248.8 L627.8 250.3 Q630.9 250.5 628.0 250.9 L609.2 252.9 Q606.3 253.2 606.3 253.3 L606.3 254.2 Q606.3 254.3 609.5 254.3 L630.1 254.6 Q633.4 254.6 630.7 254.8 L613.3 256.3 Q610.6 256.5 610.6 256.7 L610.6 257.5 Q610.6 257.6 612.4 257.8 L623.6 259.0 Q625.4 259.2 623.3 259.4 L610.2 260.7 Q608.2 260.9 605.8 261.0 L590.8 261.9 Q588.4 262.1 588.4 262.2 L588.4 263.0 Q588.4 263.2 590.5 263.3 L604.1 264.3 Q606.3 264.5 602.9 264.8 L581.3 266.7 Q577.9 267.0 577.9 267.1 L577.9 268.0 Q577.9 268.1 581.7 268.3 L606.1 269.6 Q610.0 269.8 604.3 270.0 L568.2 271.5 Q562.5 271.7 562.5 271.8 L562.5 272.7 Q562.5 272.8 567.3 273.0 L597.8 274.2 Q602.6 274.3 606.9 274.6 L634.0 276.2 Q638.3 276.4 636.0 276.6 L621.5 277.4 Q619.2 277.5 619.2 277.6 L619.2 278.5 Q619.2 278.6 620.2 278.7 L626.3 279.5 Q627.2 279.6 624.5 279.9 L607.5 281.8 Q604.8 282.1 601.5 282.3 L580.0 283.8 Q576.7 284.0 576.7 284.2 L576.7 285.0 Q576.7 285.1 582.7 285.4 L621.2 287.0 Q627.2 287.3 622.8 287.6 L594.7 289.2 Q590.2 289.5 590.2 289.6 L590.2 290.4 Q590.2 290.6 592.0 290.8 L603.3 292.0 Q605.0 292.2 602.3 292.4 L585.0 293.7 Q582.2 293.9 582.2 294.0 L582.2 294.9 Q582.2 295.0 584.0 295.1 L595.2 295.8 Q597.0 295.9 594.8 296.1 L580.7 297.1 Q578.5 297.2 578.5 297.4 L578.5 298.2 Q578.5 298.3 582.2 298.5 L605.6 299.3 Q609.3 299.4 605.7 299.5 L582.8 300.4 Q579.1 300.6 579.1 300.7 L579.1 301.5 Q579.1 301.7 582.8 301.8 L605.7 302.4 Q609.3 302.5 607.8 302.5 L598.0 302.7 Q596.4 302.8 596.4 302.9 L596.4 303.7 Q596.4 303.9 600.5 304.1 L626.2 305.3 Q630.3 305.5 629.2 305.7 L622.2 306.9 Q621.1 307.1 621.1 307.2 L621.1 308.1 Q621.1 308.2 621.7 308.3 L625.4 308.8 Q626.0 308.9 624.1 309.0 L612.4 309.8 Q610.6 309.9 610.6 310.1 L610.6 310.9 Q610.6 311.0 613.3 311.2 L630.7 312.4 Q633.4 312.6 633.4 312.5 L633.4 311.9 Q633.4 311.8 630.0 312.1 L608.4 313.6 Q604.9 313.8 601.0 314.0 L576.3 315.1 Q572.3 315.2 572.3 315.4 L572.3 316.2 Q572.3 316.3 576.9 316.5 L605.4 317.8 Q610.0 318.0 606.6 318.1 L585.0 318.3 Q581.6 318.3 581.6 318.5 L581.6 319.3 Q581.6 319.4 587.1 319.7 L622.3 321.1 Q627.8 321.3 626.4 321.5 L617.5 322.3 Q616.1 322.4 616.1 322.5 L616.1 323.4 Q616.1 323.5 616.7 323.7 L620.5 324.9 Q621.1 325.0 619.2 325.4 L607.5 327.5 Q605.6 327.9 604.8 328.0 L599.1 329.0 Q598.2 329.2 598.2 329.3 L598.2 330.1 Q598.2 330.3 600.1 330.5 L611.8 331.8 Q613.7 332.0 614.0 332.1 L616.4 333.0 Q616.7 333.2 614.2 333.5 L598.3 335.6 Q595.8 336.0 595.8 336.1 L595.8 336.9 Q595.8 337.1 597.9 337.1 L611.0 337.3 Q613.0 337.4 611.1 337.5 L598.9 338.6 Q597.0 338.8 597.0 338.9 L597.0 339.8 Q597.0 339.9 600.0 340.1 L618.7 341.6 Q621.7 341.8 620.4 342.1 L612.0 343.6 Q610.7 343.8 609.0 344.0 L598.1 345.0 Q596.4 345.2 596.4 345.3 L596.4 346.2 Q596.4 346.3 597.4 346.4 L603.5 346.9 Q604.4 347.0 607.0 347.3 L623.4 349.0 Q626.0 349.2 623.9 349.3 L610.8 350.0 Q608.7 350.1 608.7 350.3 L608.7 351.1 Q608.7 351.2 610.7 351.5 L622.8 352.9 Q624.8 353.2 621.9 353.4 L600.6 354.9 L600.6 354.9 L643.7 354.9 Z" fill="#d68208"/>
<path d="M643.7 354.9 L600.6 354.9 L600.6 355.3 L574.1 356.7 Q570.5 356.9 570.5 357.1 L570.5 357.9 Q570.5 358.0 572.3 358.0 L583.5 358.1 Q585.3 358.1 583.4 358.2 L571.7 358.7 Q569.9 358.8 569.9 358.9 L569.9 359.7 Q569.9 359.9 572.0 360.0 L585.6 361.0 Q587.8 361.2 586.8 361.4 L581.0 363.0 Q580.0 363.2 578.9 363.4 L571.6 364.5 Q570.5 364.7 570.5 364.8 L570.5 365.7 Q570.5 365.8 571.8 366.0 L579.9 367.2 Q581.2 367.4 581.7 367.6 L584.6 369.3 Q585.1 369.5 586.2 369.8 L593.4 371.4 Q594.5 371.7 591.0 371.8 L568.5 372.8 Q564.9 373.0 564.9 373.1 L564.9 373.9 Q564.9 374.1 566.1 374.1 L573.1 374.7 Q574.2 374.7 573.5 374.9 L568.8 375.9 Q568.0 376.0 568.0 376.2 L568.0 377.0 Q568.0 377.1 573.1 377.3 L604.9 378.6 Q610.0 378.8 605.2 379.0 L574.7 380.2 Q569.9 380.4 569.9 380.5 L569.9 381.3 Q569.9 381.5 572.5 381.5 L589.4 381.7 Q592.1 381.8 590.5 381.9 L580.7 382.7 Q579.1 382.8 579.1 383.0 L579.1 383.8 Q579.1 383.9 583.9 384.1 L614.4 384.9 Q619.2 385.0 617.9 385.2 L609.4 386.7 Q608.1 386.9 608.1 387.0 L608.1 387.9 Q608.1 388.0 609.2 388.0 L616.3 388.2 Q617.4 388.2 611.0 388.4 L570.7 389.7 Q564.3 389.9 564.3 390.0 L564.3 390.8 Q564.3 391.0 566.6 391.0 L580.6 391.6 Q582.8 391.6 581.8 391.8 L575.2 393.1 Q574.2 393.3 574.2 393.4 L574.2 394.3 Q574.2 394.4 575.4 394.5 L582.9 395.0 Q584.1 395.1 582.7 395.3 L573.8 396.8 Q572.3 397.0 572.3 397.1 L572.3 398.0 Q572.3 398.1 573.4 398.2 L579.9 398.9 Q581.0 399.0 581.6 399.3 L585.9 400.8 Q586.5 401.0 584.5 401.1 L571.3 401.8 Q569.3 401.9 569.3 402.1 L569.3 402.9 Q569.3 403.0 570.5 403.2 L578.5 404.5 Q579.7 404.7 578.9 405.0 L573.8 406.6 Q573.0 406.9 573.0 407.0 L573.0 407.8 Q573.0 408.0 574.4 408.2 L583.8 409.9 Q585.3 410.1 582.9 410.4 L567.9 411.8 Q565.6 412.1 565.6 412.2 L565.6 413.0 Q565.6 413.2 567.5 413.3 L579.7 414.1 Q581.6 414.2 580.0 414.3 L570.2 415.1 Q568.6 415.3 568.6 415.4 L568.6 416.2 Q568.6 416.4 570.5 416.4 L582.2 416.6 Q584.1 416.7 582.4 417.0 L572.1 418.9 Q570.5 419.2 570.5 419.3 L570.5 420.2 Q570.5 420.3 572.0 420.6 L581.4 422.2 Q582.8 422.5 582.2 422.7 L578.4 424.0 Q577.8 424.2 576.9 424.3 L571.4 425.2 Q570.5 425.4 570.5 425.5 L570.5 426.3 Q570.5 426.5 571.9 426.8 L580.8 428.7 Q582.2 429.0 580.5 429.2 L569.7 430.7 Q568.0 430.9 568.0 431.1 L568.0 431.9 Q568.0 432.0 569.7 432.2 L580.0 433.2 Q581.6 433.3 580.4 433.6 L572.9 435.0 Q571.7 435.2 571.7 435.4 L571.7 436.2 Q571.7 436.3 572.8 436.5 L579.9 437.5 Q581.0 437.6 579.8 437.8 L572.3 438.8 Q571.1 438.9 571.1 439.1 L571.1 439.9 Q571.1 440.0 572.9 440.1 L584.1 440.4 Q585.9 440.5 584.4 440.6 L574.5 441.6 Q573.0 441.7 573.0 441.8 L573.5 442.4 Q573.6 442.5 576.5 442.7 L595.3 444.4 Q598.2 444.7 595.1 445.0 L575.5 447.1 Q572.3 447.5 572.3 447.6 L572.3 448.4 Q572.3 448.6 573.4 448.6 L579.9 449.2 Q581.0 449.2 580.0 449.5 L573.9 450.9 Q573.0 451.2 573.0 451.3 L573.0 452.1 Q573.0 452.3 574.0 452.4 L580.6 453.4 Q581.6 453.6 584.8 453.9 L604.9 456.0 Q608.1 456.3 604.0 456.5 L577.7 457.7 Q573.6 457.9 573.6 458.1 L573.6 458.9 Q573.6 459.0 574.7 459.2 L581.7 460.2 Q582.8 460.3 581.6 460.6 L574.1 462.0 Q573.0 462.3 573.0 462.4 L573.0 463.2 Q573.0 463.4 574.2 463.5 L582.2 464.5 Q583.4 464.7 582.1 465.0 L573.7 466.9 Q572.3 467.2 572.3 467.3 L572.3 468.2 Q572.3 468.3 573.5 468.5 L581.0 470.0 Q582.2 470.2 583.0 470.6 L587.6 472.7 Q588.4 473.1 586.6 473.2 L575.4 474.4 Q573.6 474.6 573.6 474.7 L573.6 475.6 Q573.6 475.7 575.1 475.9 L584.4 476.8 Q585.9 477.0 583.2 477.3 L565.8 479.2 Q563.1 479.5 563.1 479.7 L563.1 480.5 Q563.1 480.6 566.8 481.0 L590.2 483.1 Q593.9 483.4 592.2 483.7 L581.0 485.5 Q579.3 485.8 577.3 486.0 L564.5 487.3 Q562.5 487.5 562.5 487.7 L562.5 488.5 Q562.5 488.6 566.5 488.8 L591.8 489.5 Q595.8 489.6 593.6 489.8 L580.0 491.0 Q577.9 491.2 577.9 491.4 L577.9 492.2 Q577.9 492.3 580.9 492.5 L600.1 493.8 Q603.2 494.0 601.1 494.3 L587.9 496.0 Q585.9 496.3 583.4 496.5 L568.0 497.8 Q565.6 498.0 565.6 498.2 L565.6 499.0 Q565.6 499.1 568.4 499.3 L586.2 500.3 Q589.0 500.4 588.1 500.6 L582.5 501.6 Q581.6 501.7 581.6 501.9 L581.6 502.7 Q581.6 502.8 582.9 503.0 L591.4 503.8 Q592.7 503.9 592.1 504.1 L588.5 505.4 Q587.9 505.6 586.5 505.8 L578.0 507.1 Q576.7 507.3 576.0 507.5 L571.2 508.4 Q570.5 508.5 570.5 508.6 L570.5 509.5 Q570.5 509.6 573.7 509.8 L593.8 511.1 Q597.0 511.3 594.2 511.5 L576.4 512.6 Q573.6 512.8 573.6 513.0 L573.6 513.8 Q573.6 513.9 577.5 514.0 L606.3 514.6 L606.3 515.6 L643.7 515.6 Z" fill="#7c6a4c"/>
<path d="M643.7 515.6 L592.6 515.6 L592.6 516.8 L577.0 518.2 Q574.8 518.4 574.8 518.5 L574.8 519.3 Q574.8 519.5 577.6 519.7 L594.9 521.2 Q597.6 521.4 596.4 521.5 L588.9 522.2 Q587.8 522.3 587.8 522.5 L587.8 523.3 Q587.8 523.4 591.7 523.7 L616.5 525.4 Q620.4 525.7 617.6 525.8 L599.3 526.1 Q596.4 526.1 596.4 526.3 L596.4 527.1 Q596.4 527.2 599.9 527.6 L622.4 529.5 Q626.0 529.8 623.0 529.9 L603.7 530.8 Q600.7 531.0 600.7 531.1 L600.7 531.9 Q600.7 532.1 602.3 532.3 L612.1 533.7 Q613.7 534.0 615.7 534.2 L628.9 535.4 Q630.9 535.6 624.9 535.9 L586.4 537.8 Q580.4 538.1 580.4 538.2 L580.4 539.1 Q580.4 539.2 585.8 539.4 L620.5 540.7 Q626.0 540.9 622.7 541.2 L602.1 543.3 Q598.9 543.6 596.5 543.7 L581.5 544.7 Q579.1 544.8 579.2 545.0 L579.7 546.1 Q579.7 546.3 585.1 546.5 L619.4 548.0 Q624.8 548.3 620.1 548.3 L590.6 548.6 Q585.9 548.6 585.9 548.7 L585.9 549.6 Q585.9 549.7 588.7 549.7 L606.5 550.1 Q609.3 550.1 607.0 550.3 L592.0 551.5 Q589.6 551.7 589.6 551.8 L589.6 552.6 Q589.6 552.8 594.3 553.1 L623.8 555.0 Q628.5 555.3 624.0 555.4 L595.9 555.9 Q591.5 556.0 591.5 556.1 L591.5 557.0 Q591.5 557.1 594.2 557.3 L611.5 558.8 Q614.3 559.0 612.4 559.1 L600.7 559.6 Q598.9 559.7 598.9 559.8 L598.9 560.7 Q598.9 560.8 601.4 560.9 L617.3 561.4 Q619.8 561.5 616.6 561.6 L596.0 562.6 Q592.7 562.8 592.7 562.9 L592.7 563.7 Q592.7 563.9 595.8 564.1 L615.5 565.6 Q618.6 565.8 613.9 565.9 L583.9 566.4 Q579.1 566.5 579.1 566.6 L579.1 567.4 Q579.1 567.6 581.4 567.7 L595.4 568.4 Q597.6 568.5 594.8 568.8 L577.0 570.5 Q574.2 570.7 574.2 570.8 L574.2 571.2 Q574.2 571.2 581.0 571.6 L624.1 573.9 Q630.9 574.3 628.3 574.4 L611.4 574.9 Q608.7 575.0 608.7 575.1 L608.7 576.0 Q608.7 576.1 610.0 576.3 L618.0 577.8 Q619.2 578.0 618.6 578.3 L614.6 579.9 Q614.0 580.2 612.9 580.4 L605.6 581.6 Q604.4 581.8 604.4 581.9 L604.4 582.8 Q604.4 582.9 605.4 583.0 L611.5 583.5 Q612.4 583.6 612.0 583.8 L609.5 585.2 Q609.1 585.4 608.3 585.6 L603.3 586.6 Q602.6 586.7 602.6 586.8 L602.6 587.7 Q602.6 587.8 603.9 588.0 L612.2 589.0 Q613.5 589.1 614.3 589.3 L619.6 590.7 Q620.4 591.0 617.5 591.1 L598.7 592.1 Q595.8 592.3 595.8 592.4 L595.8 593.2 Q595.8 593.4 596.7 593.4 L602.8 594.0 Q603.8 594.0 602.1 594.2 L591.3 595.2 Q589.6 595.3 589.6 595.5 L589.6 596.3 Q589.6 596.4 593.2 596.6 L615.7 597.6 Q619.2 597.7 618.2 597.8 L612.2 598.3 Q611.2 598.4 611.2 598.6 L611.2 599.4 Q611.2 599.5 612.5 599.6 L620.4 600.1 Q621.7 600.2 620.3 600.4 L611.9 601.8 Q610.6 602.1 609.0 602.2 L599.2 603.2 Q597.6 603.4 597.6 603.5 L597.6 604.3 Q597.6 604.5 601.3 604.6 L624.8 605.6 Q628.5 605.8 626.9 606.0 L616.8 607.4 Q615.2 607.6 613.4 607.8 L601.9 608.8 Q600.1 608.9 600.1 609.0 L600.1 609.9 Q600.1 610.0 601.4 610.0 L609.3 610.2 Q610.6 610.2 608.7 610.3 L596.5 611.2 Q594.5 611.4 594.5 611.5 L594.5 612.3 Q594.5 612.5 599.1 612.5 L627.6 612.8 Q632.2 612.8 629.6 612.9 L613.7 613.4 Q611.2 613.5 611.2 613.6 L611.2 614.4 Q611.2 614.6 613.0 614.9 L624.2 616.6 Q626.0 616.9 623.2 617.2 L605.4 619.6 Q602.6 619.9 600.5 620.1 L587.4 621.1 Q585.3 621.2 585.3 621.4 L585.3 622.2 Q585.3 622.3 589.7 622.5 L617.3 623.3 Q621.7 623.4 616.7 623.6 L585.3 624.8 Q580.4 624.9 580.4 625.1 L580.4 625.9 Q580.4 626.0 585.3 626.2 L616.7 626.9 Q621.7 627.0 616.5 627.1 L583.7 628.2 Q578.5 628.4 578.5 628.5 L578.5 629.4 Q578.5 629.5 579.2 629.7 L583.4 630.9 Q584.1 631.0 587.8 631.2 L611.7 632.5 Q615.5 632.6 612.3 632.7 L591.6 633.3 Q588.4 633.3 588.4 633.5 L588.4 634.3 Q588.4 634.4 591.1 634.5 L608.5 635.3 Q611.2 635.4 607.7 635.4 L585.7 636.0 Q582.2 636.0 582.2 636.2 L582.2 637.0 Q582.2 637.1 587.0 637.2 L617.5 637.7 Q622.3 637.8 617.3 638.0 L585.4 639.3 Q580.4 639.5 580.4 639.6 L580.4 640.5 Q580.4 640.6 586.2 640.7 L623.2 641.4 Q629.1 641.5 626.3 641.8 L609.0 643.2 Q606.3 643.4 604.6 643.6 L594.3 645.2 Q592.7 645.4 590.8 645.6 L578.6 646.7 Q576.7 646.9 576.7 647.0 L576.7 647.9 Q576.7 648.0 579.6 648.0 L597.8 648.2 Q600.7 648.2 597.2 648.5 L575.2 650.3 Q571.7 650.6 571.7 650.7 L571.7 651.6 Q571.7 651.7 578.5 651.9 L621.7 653.1 Q628.5 653.2 627.4 653.5 L620.7 655.4 Q619.7 655.7 618.1 655.9 L607.9 657.4 Q606.3 657.6 606.3 657.8 L606.3 658.6 Q606.3 658.7 607.4 659.0 L614.9 661.0 Q616.1 661.3 615.2 661.5 L609.1 663.2 Q608.1 663.4 608.1 663.6 L608.1 664.4 Q608.1 664.5 609.2 664.7 L615.9 665.6 Q616.9 665.7 617.6 665.9 L621.7 667.2 Q622.3 667.4 620.7 667.5 L610.4 668.0 Q608.7 668.1 608.7 668.2 L608.7 669.1 Q608.7 669.2 609.9 669.3 L617.4 670.0 Q618.6 670.1 617.1 670.4 L607.7 672.1 Q606.3 672.4 605.0 672.6 L597.0 674.3 Q595.8 674.5 595.8 674.7 L595.8 675.5 Q595.8 675.6 597.2 675.7 L606.1 676.0 Q607.5 676.1 603.5 676.3 L578.2 677.5 Q574.2 677.7 574.2 677.9 L574.2 678.7 Q574.2 678.8 576.8 678.9 L593.2 679.6 Q595.8 679.8 598.8 680.0 L618.0 681.4 Q621.1 681.6 620.2 681.7 L614.6 682.2 Q613.7 682.3 613.7 682.4 L613.7 683.3 Q613.7 683.4 615.7 683.5 L628.9 684.5 Q630.9 684.7 628.9 684.9 L615.7 686.4 Q613.7 686.6 613.7 686.7 L613.7 687.6 Q613.7 687.7 615.7 687.9 L628.3 689.2 Q630.3 689.4 629.0 689.6 L620.8 691.1 Q619.5 691.4 617.8 691.6 L607.3 693.1 Q605.6 693.3 606.1 693.6 L608.9 695.5 Q609.3 695.8 611.3 696.1 L624.0 698.2 Q626.0 698.5 624.5 698.8 L615.1 700.5 Q613.7 700.7 612.4 700.8 L604.4 701.6 Q603.2 701.7 603.2 701.8 L603.2 702.2 Q603.2 702.2 604.9 702.6 L615.7 705.2 Q617.4 705.5 616.8 705.8 L613.6 707.2 Q613.0 707.5 613.0 707.6 L613.0 708.4 Q613.0 708.6 614.2 708.8 L621.2 710.6 Q622.3 710.9 619.2 711.1 L596.3 712.6 L596.3 712.6 L643.7 712.6 Z" fill="#6b2c7c"/>
<path d="M643.7 712.6 L596.3 712.6 L596.3 712.8 L569.8 714.1 Q566.2 714.2 566.2 714.4 L566.2 715.2 Q566.2 715.3 567.3 715.5 L574.5 716.5 Q575.7 716.6 576.4 716.9 L580.9 718.3 Q581.6 718.5 583.9 718.6 L598.4 719.6 Q600.7 719.7 597.0 719.8 L573.6 720.4 Q569.9 720.5 569.8 720.6 L569.3 721.1 Q569.3 721.2 571.4 721.4 L585.0 722.3 Q587.1 722.4 585.7 722.6 L576.3 723.9 Q574.8 724.1 574.8 724.2 L574.8 725.1 Q574.8 725.2 575.9 725.3 L583.0 725.6 Q584.1 725.7 587.8 725.9 L611.7 727.8 Q615.5 728.1 610.1 728.2 L575.9 728.9 Q570.5 729.0 570.5 729.2 L570.5 730.0 Q570.5 730.1 574.0 730.3 L596.0 731.6 Q599.5 731.8 595.9 732.1 L572.9 733.7 Q569.3 734.0 569.3 734.1 L569.3 734.9 Q569.3 735.1 572.1 735.2 L589.9 735.7 Q592.7 735.8 590.3 735.9 L575.3 736.9 Q573.0 737.1 573.0 737.2 L573.0 738.0 Q573.0 738.2 580.0 738.4 L624.5 740.2 Q631.5 740.5 628.6 740.7 L609.8 742.1 Q606.8 742.3 603.5 742.5 L582.5 743.4 Q579.1 743.6 579.1 743.7 L579.1 744.6 Q579.1 744.7 585.6 745.0 L626.3 746.8 Q632.8 747.1 627.6 747.4 L594.8 749.1 Q589.6 749.4 589.6 749.5 L589.6 750.4 Q589.6 750.5 596.1 750.6 L636.8 751.1 Q643.3 751.2 635.7 751.5 L587.9 753.2 Q580.4 753.5 580.4 753.6 L580.4 754.4 Q580.4 754.6 586.4 754.8 L624.9 755.9 Q630.9 756.1 631.8 756.3 L637.4 757.2 Q638.3 757.3 630.5 757.5 L580.8 758.5 Q573.0 758.6 573.0 758.8 L573.0 759.6 Q573.0 759.7 575.7 759.8 L593.0 760.3 Q595.8 760.4 593.6 760.5 L580.0 760.8 Q577.9 760.9 577.9 761.0 L577.9 761.8 Q577.9 762.0 584.7 762.1 L627.8 762.8 Q634.6 762.9 632.7 763.3 L620.5 765.6 Q618.6 766.0 619.0 766.1 L621.3 767.1 Q621.7 767.2 619.2 767.3 L603.2 768.1 Q600.7 768.3 600.7 768.4 L600.7 769.2 Q600.7 769.4 602.9 769.6 L616.4 771.1 Q618.6 771.3 617.0 771.5 L606.7 772.6 Q605.0 772.8 602.2 773.1 L584.4 775.5 Q581.6 775.8 580.0 776.1 L569.7 777.5 Q568.0 777.8 568.0 777.9 L568.0 778.7 Q568.0 778.9 570.5 779.0 L585.9 780.0 Q588.4 780.2 585.4 780.2 L566.7 780.8 Q563.7 780.8 563.7 781.0 L563.7 781.8 Q563.7 781.9 571.3 782.1 L619.6 783.1 Q627.2 783.2 625.6 783.5 L615.3 784.9 Q613.7 785.1 614.0 785.2 L616.4 786.2 Q616.7 786.3 615.6 786.6 L608.1 788.3 Q606.9 788.5 607.3 788.7 L610.1 789.6 Q610.6 789.8 608.9 790.0 L598.1 791.5 Q596.4 791.7 596.4 791.8 L596.4 792.7 Q596.4 792.8 597.3 792.8 L602.9 793.1 Q603.8 793.1 601.8 793.3 L589.1 794.5 Q587.1 794.7 587.1 794.8 L587.1 795.6 Q587.1 795.8 590.9 796.0 L614.8 797.2 Q618.6 797.4 620.2 797.6 L630.5 798.5 Q632.2 798.7 626.6 799.0 L591.5 800.9 Q585.9 801.2 585.9 801.3 L585.9 802.2 Q585.9 802.3 589.9 802.3 L615.2 802.6 Q619.2 802.6 616.4 802.9 L598.6 804.9 Q595.8 805.3 595.8 805.4 L595.8 806.2 Q595.8 806.4 597.9 806.4 L611.5 807.0 Q613.7 807.0 614.3 807.3 L618.6 808.8 Q619.3 809.0 619.4 809.3 L619.8 810.8 Q619.8 811.0 619.0 811.2 L613.9 812.6 Q613.0 812.8 611.9 813.2 L604.9 815.3 Q603.8 815.6 603.8 815.8 L603.8 816.6 Q603.8 816.7 605.0 816.7 L612.5 816.8 Q613.7 816.8 609.2 817.0 L581.1 818.6 Q576.7 818.8 576.7 819.0 L576.7 819.8 Q576.7 819.9 581.9 820.2 L615.2 821.8 Q620.4 822.1 620.1 822.4 L617.7 824.3 Q617.4 824.6 616.8 824.7 L613.6 825.7 Q613.0 825.9 613.0 826.0 L613.0 826.8 Q613.0 827.0 614.0 827.1 L620.1 828.1 Q621.1 828.3 621.4 828.5 L623.2 829.9 Q623.5 830.1 621.3 830.3 L607.2 831.2 Q605.0 831.3 605.0 831.4 L605.0 832.3 Q605.0 832.4 608.0 832.7 L626.7 834.4 Q629.7 834.7 626.0 834.9 L602.6 836.0 Q598.9 836.2 596.8 836.5 L583.7 838.4 Q581.6 838.7 581.6 838.8 L581.6 839.7 Q581.6 839.8 582.6 840.0 L589.2 841.5 Q590.2 841.7 592.5 841.8 L608.7 842.3 L608.7 843.9 L643.7 843.9 Z" fill="#d68208"/>
<path d="M643.7 843.9 L608.7 843.9 L608.7 844.8 L623.5 846.7 Q625.6 847.0 627.0 847.2 L636.3 848.9 Q637.7 849.1 636.6 849.4 L629.4 851.0 Q628.3 851.3 626.8 851.5 L617.6 853.2 Q616.1 853.4 615.7 853.8 L612.9 856.1 Q612.4 856.5 610.2 856.6 L596.2 857.1 Q593.9 857.2 593.9 857.3 L593.9 858.2 Q593.9 858.3 597.9 858.4 L623.2 858.9 Q627.2 859.0 620.2 859.1 L575.7 860.1 Q568.6 860.3 568.6 860.4 L568.6 861.2 Q568.6 861.4 574.1 861.6 L608.8 862.9 Q614.3 863.1 611.8 863.2 L596.4 864.4 Q593.9 864.6 593.9 864.7 L593.9 865.6 Q593.9 865.7 595.1 865.9 L602.6 866.8 Q603.8 867.0 604.0 867.3 L605.4 869.2 Q605.6 869.5 606.5 869.7 L611.6 871.1 Q612.4 871.3 611.8 871.5 L607.5 872.5 Q606.9 872.6 606.9 872.7 L606.9 873.6 Q606.9 873.7 607.9 873.8 L614.5 874.1 Q615.5 874.2 614.6 874.3 L609.0 875.2 Q608.1 875.3 608.1 875.5 L608.1 876.3 Q608.1 876.4 609.6 876.6 L619.0 877.4 Q620.4 877.5 622.1 877.8 L632.9 880.2 Q634.6 880.6 633.9 880.9 L629.2 883.3 Q628.5 883.6 624.5 883.9 L599.2 885.3 Q595.2 885.6 595.2 885.7 L595.2 886.5 Q595.2 886.7 600.9 886.9 L637.5 888.7 Q643.3 888.9 641.8 889.3 L632.4 891.9 Q630.9 892.3 626.6 892.6 L598.9 894.5 Q594.5 894.8 594.5 894.9 L594.5 895.8 Q594.5 895.9 598.6 896.1 L624.4 897.4 Q628.5 897.6 627.4 897.8 L620.3 898.9 Q619.2 899.1 616.1 899.2 L596.4 899.9 Q593.3 900.0 593.3 900.1 L593.3 901.0 Q593.3 901.1 596.6 901.1 L617.2 901.5 Q620.4 901.5 615.0 901.8 L580.3 903.4 Q574.8 903.7 574.8 903.8 L574.8 904.7 Q574.8 904.8 577.2 904.9 L592.4 905.9 Q594.8 906.1 596.7 906.3 L608.7 907.7 Q610.6 907.9 608.4 908.1 L594.8 909.4 Q592.7 909.6 592.7 909.7 L592.7 910.6 Q592.7 910.7 593.7 910.8 L600.3 911.3 Q601.3 911.4 599.7 911.6 L589.4 913.0 Q587.8 913.2 586.4 913.4 L578.0 914.4 Q576.7 914.5 576.7 914.7 L576.7 915.5 Q576.7 915.6 583.5 915.8 L626.6 916.8 Q633.4 916.9 626.2 917.1 L580.8 918.1 Q573.6 918.2 573.6 918.4 L573.6 919.2 Q573.6 919.3 577.7 919.5 L603.5 920.4 Q607.6 920.5 611.2 920.7 L634.1 922.0 Q637.7 922.2 631.1 922.5 L589.4 924.4 Q582.8 924.7 582.8 924.8 L582.8 925.6 Q582.8 925.8 587.0 925.9 L613.2 926.7 Q617.4 926.8 613.4 927.0 L588.6 928.0 Q584.7 928.1 584.7 928.2 L584.7 929.1 Q584.7 929.2 587.3 929.4 L604.2 930.7 Q606.9 930.9 602.5 931.0 L574.9 931.7 Q570.5 931.8 570.5 931.9 L570.5 932.8 Q570.5 932.9 574.2 933.0 L597.6 933.7 Q601.3 933.8 596.7 934.1 L567.7 935.5 Q563.1 935.8 563.1 935.9 L563.1 936.7 Q563.1 936.9 567.4 937.0 L594.5 938.0 Q598.8 938.2 602.4 938.4 L625.4 939.8 Q629.1 940.0 621.8 940.2 L575.4 941.7 Q568.0 941.9 568.0 942.1 L568.0 942.9 Q568.0 943.0 571.3 943.0 L591.9 943.2 Q595.2 943.2 594.1 943.4 L587.3 944.9 Q586.3 945.1 584.4 945.4 L572.9 946.8 Q571.1 947.1 569.9 947.2 L562.4 948.3 Q561.2 948.5 561.2 948.6 L561.2 949.4 Q561.2 949.6 562.9 949.8 L573.2 951.2 Q574.8 951.5 573.2 951.4 L562.9 950.7 Q561.2 950.6 563.0 950.8 L573.7 951.7 Q575.4 951.8 573.8 952.1 L563.5 953.5 Q561.9 953.8 561.9 953.9 L561.9 954.7 Q561.9 954.9 564.9 955.0 L584.0 956.2 Q587.0 956.4 589.3 956.6 L604.0 958.1 Q606.3 958.4 609.5 958.5 L633.4 959.6 L633.4 960.8 L643.7 960.8 Z" fill="#86bd14"/>
<path d="M643.7 960.8 L578.5 960.8 L578.5 962.4 L578.5 963.4 Q578.5 963.5 581.8 963.8 L602.9 965.5 Q606.3 965.8 603.9 966.0 L588.9 967.1 Q586.5 967.3 586.5 967.5 L586.5 968.3 Q586.5 968.4 590.6 968.6 L616.4 969.6 Q620.4 969.7 615.7 970.0 L585.7 972.0 Q581.0 972.3 581.0 972.4 L581.0 973.2 Q581.0 973.4 586.8 973.5 L623.8 974.5 Q629.7 974.7 626.3 974.8 L604.7 975.8 Q601.3 976.0 601.3 976.1 L601.3 976.9 Q601.3 977.1 601.9 977.2 L605.7 978.0 Q606.3 978.1 605.2 978.2 L598.1 978.9 Q597.0 979.0 597.0 979.2 L597.0 980.0 Q597.0 980.1 599.6 980.2 L616.0 980.5 Q618.6 980.6 615.3 980.8 L594.7 981.9 Q591.5 982.1 591.5 982.3 L591.5 983.1 Q591.5 983.2 594.3 983.3 L612.1 983.8 Q614.9 983.9 612.2 984.0 L595.4 984.8 Q592.7 985.0 592.7 985.1 L592.7 985.9 Q592.7 986.1 595.9 986.1 L616.0 986.3 Q619.2 986.4 612.3 986.5 L568.2 987.0 Q561.2 987.1 561.2 987.2 L561.2 988.0 Q561.2 988.2 570.3 988.3 L627.4 989.5 Q636.5 989.7 627.4 989.8 L570.3 990.6 Q561.2 990.8 561.2 990.9 L561.2 991.7 Q561.2 991.9 569.2 992.2 L619.9 994.3 Q627.8 994.6 620.3 994.8 L572.5 995.6 Q564.9 995.7 564.9 995.8 L564.9 996.7 Q564.9 996.8 566.6 996.8 L576.9 997.1 Q578.5 997.1 578.3 997.3 L576.9 998.5 Q576.7 998.7 582.5 999.0 L619.5 1000.6 Q625.4 1000.8 618.0 1001.1 L571.1 1002.8 Q563.7 1003.1 563.7 1003.2 L563.7 1004.1 Q563.7 1004.2 569.1 1004.3 L603.3 1005.1 Q608.7 1005.2 606.7 1005.5 L593.5 1006.8 Q591.5 1007.0 587.7 1007.1 L563.8 1008.2 Q560.0 1008.4 560.0 1008.5 L560.0 1009.4 Q560.0 1009.5 565.0 1009.7 L596.9 1011.2 Q601.9 1011.4 597.4 1011.7 L568.8 1013.5 Q564.3 1013.8 564.3 1014.0 L564.3 1014.8 Q564.3 1014.9 572.0 1015.1 L620.8 1016.2 Q628.5 1016.3 620.6 1016.6 L570.9 1018.0 Q563.1 1018.3 563.1 1018.4 L563.1 1019.2 Q563.1 1019.4 564.7 1019.5 L575.0 1020.2 Q576.7 1020.3 580.4 1020.5 L603.8 1021.9 Q607.5 1022.1 602.2 1022.3 L568.4 1023.5 Q563.1 1023.7 563.1 1023.8 L563.1 1024.7 Q563.1 1024.8 565.1 1024.9 L577.8 1025.7 Q579.7 1025.8 578.2 1025.9 L568.4 1026.4 Q566.8 1026.5 566.8 1026.7 L566.8 1027.5 Q566.8 1027.6 568.8 1027.7 L581.4 1028.2 Q583.4 1028.3 581.6 1028.5 L569.9 1029.5 Q568.0 1029.6 568.0 1029.7 L568.0 1030.6 Q568.0 1030.7 569.6 1030.8 L579.4 1031.3 Q581.0 1031.4 579.6 1031.6 L570.7 1033.1 Q569.3 1033.3 569.3 1033.4 L569.3 1034.3 Q569.3 1034.4 570.7 1034.5 L580.1 1035.0 Q581.6 1035.1 579.3 1035.2 L564.8 1036.2 Q562.5 1036.4 562.5 1036.5 L562.5 1037.4 Q562.5 1037.5 568.6 1037.6 L607.0 1038.6 Q613.0 1038.8 607.1 1039.1 L569.6 1040.7 Q563.7 1041.0 563.7 1041.1 L563.7 1041.9 Q563.7 1042.1 565.1 1042.1 L574.0 1042.2 Q575.4 1042.2 574.5 1042.5 L568.4 1043.9 Q567.4 1044.2 567.4 1044.3 L567.4 1045.1 Q567.4 1045.3 571.0 1045.4 L593.5 1046.6 Q597.0 1046.8 593.3 1047.0 L569.9 1048.0 Q566.2 1048.1 566.2 1048.2 L566.2 1049.1 Q566.2 1049.2 569.4 1049.4 L589.5 1050.7 Q592.7 1050.9 588.9 1051.2 L565.0 1053.3 Q561.2 1053.7 561.2 1053.8 L561.2 1054.6 Q561.2 1054.8 564.7 1055.0 L586.2 1056.8 Q589.6 1057.0 587.6 1057.1 L575.0 1057.6 Q573.0 1057.7 573.0 1057.9 L573.0 1058.7 Q573.0 1058.8 580.2 1058.9 L626.1 1059.4 Q633.4 1059.5 626.3 1059.6 L581.3 1060.3 Q574.2 1060.4 574.2 1060.6 L574.2 1061.4 Q574.2 1061.5 577.8 1061.6 L600.2 1061.9 Q603.8 1062.0 598.5 1062.1 L564.7 1063.0 Q559.4 1063.2 559.4 1063.3 L559.4 1064.1 Q559.4 1064.3 560.5 1064.5 L567.5 1065.7 Q568.6 1065.9 568.5 1066.1 L567.6 1067.0 Q567.4 1067.2 576.5 1067.3 L634.2 1068.0 Q643.3 1068.1 633.7 1068.3 L573.3 1069.4 Q563.7 1069.6 563.6 1069.9 L562.6 1071.8 Q562.5 1072.1 564.4 1072.2 L576.6 1073.2 Q578.5 1073.3 576.7 1073.6 L564.9 1075.6 Q563.1 1075.9 563.1 1076.0 L563.1 1076.8 Q563.1 1077.0 565.2 1077.0 L578.3 1077.6 Q580.4 1077.6 578.9 1077.8 L569.5 1078.8 Q568.0 1078.9 568.0 1079.1 L568.0 1079.9 Q568.0 1080.0 568.8 1080.2 L574.2 1081.0 L574.2 1081.0 L643.7 1081.0 Z" fill="#f6e95c"/>
<path d="M581.6 74.3 L578.0 76.5 Q577.6 76.8 576.7 77.0 L571.3 78.5 Q570.5 78.7 570.5 78.8 L570.5 79.7 Q570.5 79.8 571.5 80.0 L577.6 81.5 Q578.5 81.7 578.7 82.1 L579.6 84.4 Q579.7 84.8 580.6 85.2 L585.7 87.5 Q586.5 87.9 585.9 88.0 L581.6 89.0 Q581.0 89.2 581.0 89.3 L581.0 90.1 Q581.0 90.3 581.9 90.5 L588.0 91.8 Q589.0 92.0 587.1 92.3 L575.4 94.4 Q573.6 94.7 573.6 94.9 L573.6 95.7 Q573.6 95.8 574.2 95.8 L577.9 95.9 Q578.5 95.9 577.2 96.1 L568.7 97.4 Q567.4 97.6 567.4 97.7 L567.4 98.5 Q567.4 98.7 572.5 98.8 L604.9 99.7 Q610.0 99.8 610.1 100.1 L611.0 101.4 Q611.1 101.6 611.0 101.8 L610.1 103.1 Q610.0 103.3 606.4 103.6 L583.9 105.5 Q580.4 105.8 580.4 106.0 L580.4 106.8 Q580.4 106.9 585.2 107.2 L616.2 108.9 Q621.1 109.2 617.7 109.6 L596.1 111.7 Q592.7 112.0 592.7 112.1 L592.7 113.0 Q592.7 113.1 594.7 113.3 L607.4 114.4 Q609.4 114.6 610.9 114.8 L620.2 116.4 Q621.7 116.6 617.5 116.9 L591.3 118.5 Q587.1 118.8 587.1 118.9 L587.1 119.7 Q587.1 119.9 590.3 120.0 L609.9 120.5 Q613.0 120.6 611.2 120.8 L599.8 122.2 Q598.0 122.4 595.7 122.6 L581.3 124.0 Q579.0 124.3 577.3 124.4 L566.6 125.4 Q564.9 125.6 564.9 125.7 L564.9 126.5 Q564.9 126.7 571.1 127.0 L610.0 129.1 Q616.1 129.4 613.0 129.5 L593.3 130.0 Q590.2 130.1 590.2 130.3 L590.2 131.1 Q590.2 131.2 592.7 131.4 L608.5 132.7 Q611.0 132.9 613.1 133.2 L626.4 134.8 Q628.5 135.1 620.5 135.4 L569.9 137.6 Q561.9 137.9 561.9 138.0 L561.9 138.9 Q561.9 139.0 569.3 139.2 L616.1 140.1 Q623.5 140.3 621.2 140.5 L606.2 141.9 Q603.8 142.1 601.2 142.3 L584.8 143.3 Q582.2 143.4 582.2 143.6 L582.2 144.4 Q582.2 144.5 584.5 144.7 L599.1 145.8 Q601.4 146.0 603.2 146.2 L614.9 147.7 Q616.7 147.9 615.7 148.1 L609.1 149.5 Q608.1 149.7 606.8 149.9 L598.9 151.2 Q597.6 151.4 596.4 151.5 L588.9 152.2 Q587.8 152.3 587.8 152.5 L587.8 153.3 Q587.8 153.4 590.6 153.6 L608.4 154.9 Q611.2 155.1 608.4 155.3 L590.6 156.6 Q587.8 156.8 587.8 156.9 L587.8 157.7 Q587.8 157.9 590.1 158.0 L604.8 159.1 Q607.1 159.3 609.0 159.5 L621.0 161.0 Q622.9 161.3 620.2 161.6 L602.8 163.5 Q600.1 163.8 600.1 163.9 L600.1 164.8 Q600.1 164.9 601.2 165.2 L608.2 167.1 Q609.3 167.4 608.7 167.6 L604.5 168.6 Q603.8 168.7 603.8 168.9 L603.8 169.7 Q603.8 169.8 605.6 169.9 L617.4 170.4 Q619.2 170.5 617.1 170.6 L603.5 171.1 Q601.3 171.2 601.3 171.3 L601.3 172.2 Q601.3 172.3 602.2 172.4 L607.4 173.4 Q608.2 173.6 608.7 173.8 L611.8 175.2 Q612.3 175.4 613.1 175.7 L618.4 177.1 Q619.2 177.3 617.0 177.6 L603.1 179.2 Q600.9 179.5 598.3 179.6 L581.7 180.9 Q579.1 181.1 579.1 181.2 L579.1 182.0 Q579.1 182.2 580.3 182.5 L587.8 184.4 Q589.0 184.7 591.1 184.9 L604.2 186.1 Q606.3 186.3 601.7 186.6 L573.2 188.7 Q568.6 189.1 568.6 189.2 L568.6 190.0 Q568.6 190.2 570.2 190.4 L580.0 191.9 Q581.6 192.1 580.4 192.3 L572.9 193.4 Q571.7 193.6 571.7 193.8 L571.7 194.6 Q571.7 194.7 575.4 195.0 L598.9 196.6 Q602.6 196.9 598.3 197.2 L571.1 198.9 Q566.8 199.2 566.8 199.3 L566.8 200.1 Q566.8 200.3 569.6 200.3 L587.4 200.3 Q590.2 200.3 587.5 200.6 L570.2 202.0 Q567.4 202.3 567.4 202.4 L567.4 203.2 Q567.4 203.4 571.3 203.4 L595.6 203.6 Q599.5 203.7 595.3 203.8 L569.1 204.9 Q564.9 205.1 564.9 205.2 L564.9 206.1 Q564.9 206.2 567.9 206.4 L586.8 207.7 Q589.8 207.9 592.1 208.2 L607.0 209.9 Q609.3 210.2 606.2 210.3 L586.0 211.1 Q582.8 211.3 582.8 211.4 L582.8 212.2 Q582.8 212.4 585.9 212.5 L605.1 213.4 Q608.1 213.5 603.6 213.7 L575.0 215.0 Q570.5 215.2 570.5 215.3 L570.5 216.2 Q570.5 216.3 573.8 216.4 L594.9 216.7 Q598.2 216.8 594.0 217.0 L567.3 218.9 Q563.1 219.2 563.1 219.3 L563.1 220.1 Q563.1 220.3 568.4 220.3 L601.6 220.9 Q606.9 220.9 603.5 221.2 L582.5 222.6 Q579.1 222.9 579.1 223.0 L579.1 223.8 Q579.1 224.0 584.2 224.1 L616.0 225.2 Q621.1 225.4 619.1 225.6 L607.0 226.9 Q605.0 227.1 600.8 227.3 L574.1 228.8 Q569.9 229.0 569.9 229.2 L569.9 230.0 Q569.9 230.1 577.8 230.2 L627.9 230.7 Q635.9 230.8 633.1 231.0 L615.8 232.5 Q613.0 232.7 613.0 232.9 L613.0 233.7 Q613.0 233.8 614.5 234.0 L623.9 235.3 Q625.4 235.5 620.4 235.7 L589.0 237.2 Q584.1 237.4 584.1 237.5 L584.1 238.4 Q584.1 238.5 588.3 238.7 L615.0 239.7 Q619.2 239.8 617.1 240.0 L603.5 241.2 Q601.3 241.4 598.1 241.6 L577.5 242.8 Q574.2 243.0 574.2 243.1 L574.2 243.9 Q574.2 244.1 575.5 244.1 L584.0 244.1 Q585.3 244.1 584.3 244.4 L578.2 245.8 Q577.3 246.0 577.3 246.2 L577.3 247.0 Q577.3 247.1 580.6 247.3 L601.8 248.4 Q605.2 248.6 608.3 248.8 L627.8 250.3 Q630.9 250.5 628.0 250.9 L609.2 252.9 Q606.3 253.2 606.3 253.3 L606.3 254.2 Q606.3 254.3 609.5 254.3 L630.1 254.6 Q633.4 254.6 630.7 254.8 L613.3 256.3 Q610.6 256.5 610.6 256.7 L610.6 257.5 Q610.6 257.6 612.4 257.8 L623.6 259.0 Q625.4 259.2 623.3 259.4 L610.2 260.7 Q608.2 260.9 605.8 261.0 L590.8 261.9 Q588.4 262.1 588.4 262.2 L588.4 263.0 Q588.4 263.2 590.5 263.3 L604.1 264.3 Q606.3 264.5 602.9 264.8 L581.3 266.7 Q577.9 267.0 577.9 267.1 L577.9 268.0 Q577.9 268.1 581.7 268.3 L606.1 269.6 Q610.0 269.8 604.3 270.0 L568.2 271.5 Q562.5 271.7 562.5 271.8 L562.5 272.7 Q562.5 272.8 567.3 273.0 L597.8 274.2 Q602.6 274.3 606.9 274.6 L634.0 276.2 Q638.3 276.4 636.0 276.6 L621.5 277.4 Q619.2 277.5 619.2 277.6 L619.2 278.5 Q619.2 278.6 620.2 278.7 L626.3 279.5 Q627.2 279.6 624.5 279.9 L607.5 281.8 Q604.8 282.1 601.5 282.3 L580.0 283.8 Q576.7 284.0 576.7 284.2 L576.7 285.0 Q576.7 285.1 582.7 285.4 L621.2 287.0 Q627.2 287.3 622.8 287.6 L594.7 289.2 Q590.2 289.5 590.2 289.6 L590.2 290.4 Q590.2 290.6 592.0 290.8 L603.3 292.0 Q605.0 292.2 602.3 292.4 L585.0 293.7 Q582.2 293.9 582.2 294.0 L582.2 294.9 Q582.2 295.0 584.0 295.1 L595.2 295.8 Q597.0 295.9 594.8 296.1 L580.7 297.1 Q578.5 297.2 578.5 297.4 L578.5 298.2 Q578.5 298.3 582.2 298.5 L605.6 299.3 Q609.3 299.4 605.7 299.5 L582.8 300.4 Q579.1 300.6 579.1 300.7 L579.1 301.5 Q579.1 301.7 582.8 301.8 L605.7 302.4 Q609.3 302.5 607.8 302.5 L598.0 302.7 Q596.4 302.8 596.4 302.9 L596.4 303.7 Q596.4 303.9 600.5 304.1 L626.2 305.3 Q630.3 305.5 629.2 305.7 L622.2 306.9 Q621.1 307.1 621.1 307.2 L621.1 308.1 Q621.1 308.2 621.7 308.3 L625.4 308.8 Q626.0 308.9 624.1 309.0 L612.4 309.8 Q610.6 309.9 610.6 310.1 L610.6 310.9 Q610.6 311.0 613.3 311.2 L630.7 312.4 Q633.4 312.6 633.4 312.5 L633.4 311.9 Q633.4 311.8 630.0 312.1 L608.4 313.6 Q604.9 313.8 601.0 314.0 L576.3 315.1 Q572.3 315.2 572.3 315.4 L572.3 316.2 Q572.3 316.3 576.9 316.5 L605.4 317.8 Q610.0 318.0 606.6 318.1 L585.0 318.3 Q581.6 318.3 581.6 318.5 L581.6 319.3 Q581.6 319.4 587.1 319.7 L622.3 321.1 Q627.8 321.3 626.4 321.5 L617.5 322.3 Q616.1 322.4 616.1 322.5 L616.1 323.4 Q616.1 323.5 616.7 323.7 L620.5 324.9 Q621.1 325.0 619.2 325.4 L607.5 327.5 Q605.6 327.9 604.8 328.0 L599.1 329.0 Q598.2 329.2 598.2 329.3 L598.2 330.1 Q598.2 330.3 600.1 330.5 L611.8 331.8 Q613.7 332.0 614.0 332.1 L616.4 333.0 Q616.7 333.2 614.2 333.5 L598.3 335.6 Q595.8 336.0 595.8 336.1 L595.8 336.9 Q595.8 337.1 597.9 337.1 L611.0 337.3 Q613.0 337.4 611.1 337.5 L598.9 338.6 Q597.0 338.8 597.0 338.9 L597.0 339.8 Q597.0 339.9 600.0 340.1 L618.7 341.6 Q621.7 341.8 620.4 342.1 L612.0 343.6 Q610.7 343.8 609.0 344.0 L598.1 345.0 Q596.4 345.2 596.4 345.3 L596.4 346.2 Q596.4 346.3 597.4 346.4 L603.5 346.9 Q604.4 347.0 607.0 347.3 L623.4 349.0 Q626.0 349.2 623.9 349.3 L610.8 350.0 Q608.7 350.1 608.7 350.3 L608.7 351.1 Q608.7 351.2 610.7 351.5 L622.8 352.9 Q624.8 353.2 621.9 353.4 L603.5 355.1 Q600.6 355.3 597.0 355.5 L574.1 356.7 Q570.5 356.9 570.5 357.1 L570.5 357.9 Q570.5 358.0 572.3 358.0 L583.5 358.1 Q585.3 358.1 583.4 358.2 L571.7 358.7 Q569.9 358.8 569.9 358.9 L569.9 359.7 Q569.9 359.9 572.0 360.0 L585.6 361.0 Q587.8 361.2 586.8 361.4 L581.0 363.0 Q580.0 363.2 578.9 363.4 L571.6 364.5 Q570.5 364.7 570.5 364.8 L570.5 365.7 Q570.5 365.8 571.8 366.0 L579.9 367.2 Q581.2 367.4 581.7 367.6 L584.6 369.3 Q585.1 369.5 586.2 369.8 L593.4 371.4 Q594.5 371.7 591.0 371.8 L568.5 372.8 Q564.9 373.0 564.9 373.1 L564.9 373.9 Q564.9 374.1 566.1 374.1 L573.1 374.7 Q574.2 374.7 573.5 374.9 L568.8 375.9 Q568.0 376.0 568.0 376.2 L568.0 377.0 Q568.0 377.1 573.1 377.3 L604.9 378.6 Q610.0 378.8 605.2 379.0 L574.7 380.2 Q569.9 380.4 569.9 380.5 L569.9 381.3 Q569.9 381.5 572.5 381.5 L589.4 381.7 Q592.1 381.8 590.5 381.9 L580.7 382.7 Q579.1 382.8 579.1 383.0 L579.1 383.8 Q579.1 383.9 583.9 384.1 L614.4 384.9 Q619.2 385.0 617.9 385.2 L609.4 386.7 Q608.1 386.9 608.1 387.0 L608.1 387.9 Q608.1 388.0 609.2 388.0 L616.3 388.2 Q617.4 388.2 611.0 388.4 L570.7 389.7 Q564.3 389.9 564.3 390.0 L564.3 390.8 Q564.3 391.0 566.6 391.0 L580.6 391.6 Q582.8 391.6 581.8 391.8 L575.2 393.1 Q574.2 393.3 574.2 393.4 L574.2 394.3 Q574.2 394.4 575.4 394.5 L582.9 395.0 Q584.1 395.1 582.7 395.3 L573.8 396.8 Q572.3 397.0 572.3 397.1 L572.3 398.0 Q572.3 398.1 573.4 398.2 L579.9 398.9 Q581.0 399.0 581.6 399.3 L585.9 400.8 Q586.5 401.0 584.5 401.1 L571.3 401.8 Q569.3 401.9 569.3 402.1 L569.3 402.9 Q569.3 403.0 570.5 403.2 L578.5 404.5 Q579.7 404.7 578.9 405.0 L573.8 406.6 Q573.0 406.9 573.0 407.0 L573.0 407.8 Q573.0 408.0 574.4 408.2 L583.8 409.9 Q585.3 410.1 582.9 410.4 L567.9 411.8 Q565.6 412.1 565.6 412.2 L565.6 413.0 Q565.6 413.2 567.5 413.3 L579.7 414.1 Q581.6 414.2 580.0 414.3 L570.2 415.1 Q568.6 415.3 568.6 415.4 L568.6 416.2 Q568.6 416.4 570.5 416.4 L582.2 416.6 Q584.1 416.7 582.4 417.0 L572.1 418.9 Q570.5 419.2 570.5 419.3 L570.5 420.2 Q570.5 420.3 572.0 420.6 L581.4 422.2 Q582.8 422.5 582.2 422.7 L578.4 424.0 Q577.8 424.2 576.9 424.3 L571.4 425.2 Q570.5 425.4 570.5 425.5 L570.5 426.3 Q570.5 426.5 571.9 426.8 L580.8 428.7 Q582.2 429.0 580.5 429.2 L569.7 430.7 Q568.0 430.9 568.0 431.1 L568.0 431.9 Q568.0 432.0 569.7 432.2 L580.0 433.2 Q581.6 433.3 580.4 433.6 L572.9 435.0 Q571.7 435.2 571.7 435.4 L571.7 436.2 Q571.7 436.3 572.8 436.5 L579.9 437.5 Q581.0 437.6 579.8 437.8 L572.3 438.8 Q571.1 438.9 571.1 439.1 L571.1 439.9 Q571.1 440.0 572.9 440.1 L584.1 440.4 Q585.9 440.5 584.4 440.6 L574.5 441.6 Q573.0 441.7 573.0 441.8 L573.5 442.4 Q573.6 442.5 576.5 442.7 L595.3 444.4 Q598.2 444.7 595.1 445.0 L575.5 447.1 Q572.3 447.5 572.3 447.6 L572.3 448.4 Q572.3 448.6 573.4 448.6 L579.9 449.2 Q581.0 449.2 580.0 449.5 L573.9 450.9 Q573.0 451.2 573.0 451.3 L573.0 452.1 Q573.0 452.3 574.0 452.4 L580.6 453.4 Q581.6 453.6 584.8 453.9 L604.9 456.0 Q608.1 456.3 604.0 456.5 L577.7 457.7 Q573.6 457.9 573.6 458.1 L573.6 458.9 Q573.6 459.0 574.7 459.2 L581.7 460.2 Q582.8 460.3 581.6 460.6 L574.1 462.0 Q573.0 462.3 573.0 462.4 L573.0 463.2 Q573.0 463.4 574.2 463.5 L582.2 464.5 Q583.4 464.7 582.1 465.0 L573.7 466.9 Q572.3 467.2 572.3 467.3 L572.3 468.2 Q572.3 468.3 573.5 468.5 L581.0 470.0 Q582.2 470.2 583.0 470.6 L587.6 472.7 Q588.4 473.1 586.6 473.2 L575.4 474.4 Q573.6 474.6 573.6 474.7 L573.6 475.6 Q573.6 475.7 575.1 475.9 L584.4 476.8 Q585.9 477.0 583.2 477.3 L565.8 479.2 Q563.1 479.5 563.1 479.7 L563.1 480.5 Q563.1 480.6 566.8 481.0 L590.2 483.1 Q593.9 483.4 592.2 483.7 L581.0 485.5 Q579.3 485.8 577.3 486.0 L564.5 487.3 Q562.5 487.5 562.5 487.7 L562.5 488.5 Q562.5 488.6 566.5 488.8 L591.8 489.5 Q595.8 489.6 593.6 489.8 L580.0 491.0 Q577.9 491.2 577.9 491.4 L577.9 492.2 Q577.9 492.3 580.9 492.5 L600.1 493.8 Q603.2 494.0 601.1 494.3 L587.9 496.0 Q585.9 496.3 583.4 496.5 L568.0 497.8 Q565.6 498.0 565.6 498.2 L565.6 499.0 Q565.6 499.1 568.4 499.3 L586.2 500.3 Q589.0 500.4 588.1 500.6 L582.5 501.6 Q581.6 501.7 581.6 501.9 L581.6 502.7 Q581.6 502.8 582.9 503.0 L591.4 503.8 Q592.7 503.9 592.1 504.1 L588.5 505.4 Q587.9 505.6 586.5 505.8 L578.0 507.1 Q576.7 507.3 576.0 507.5 L571.2 508.4 Q570.5 508.5 570.5 508.6 L570.5 509.5 Q570.5 509.6 573.7 509.8 L593.8 511.1 Q597.0 511.3 594.2 511.5 L576.4 512.6 Q573.6 512.8 573.6 513.0 L573.6 513.8 Q573.6 513.9 577.5 514.0 L602.3 514.5 Q606.3 514.6 604.6 514.9 L594.3 516.5 Q592.6 516.8 590.5 517.0 L577.0 518.2 Q574.8 518.4 574.8 518.5 L574.8 519.3 Q574.8 519.5 577.6 519.7 L594.9 521.2 Q597.6 521.4 596.4 521.5 L588.9 522.2 Q587.8 522.3 587.8 522.5 L587.8 523.3 Q587.8 523.4 591.7 523.7 L616.5 525.4 Q620.4 525.7 617.6 525.8 L599.3 526.1 Q596.4 526.1 596.4 526.3 L596.4 527.1 Q596.4 527.2 599.9 527.6 L622.4 529.5 Q626.0 529.8 623.0 529.9 L603.7 530.8 Q600.7 531.0 600.7 531.1 L600.7 531.9 Q600.7 532.1 602.3 532.3 L612.1 533.7 Q613.7 534.0 615.7 534.2 L628.9 535.4 Q630.9 535.6 624.9 535.9 L586.4 537.8 Q580.4 538.1 580.4 538.2 L580.4 539.1 Q580.4 539.2 585.8 539.4 L620.5 540.7 Q626.0 540.9 622.7 541.2 L602.1 543.3 Q598.9 543.6 596.5 543.7 L581.5 544.7 Q579.1 544.8 579.2 545.0 L579.7 546.1 Q579.7 546.3 585.1 546.5 L619.4 548.0 Q624.8 548.3 620.1 548.3 L590.6 548.6 Q585.9 548.6 585.9 548.7 L585.9 549.6 Q585.9 549.7 588.7 549.7 L606.5 550.1 Q609.3 550.1 607.0 550.3 L592.0 551.5 Q589.6 551.7 589.6 551.8 L589.6 552.6 Q589.6 552.8 594.3 553.1 L623.8 555.0 Q628.5 555.3 624.0 555.4 L595.9 555.9 Q591.5 556.0 591.5 556.1 L591.5 557.0 Q591.5 557.1 594.2 557.3 L611.5 558.8 Q614.3 559.0 612.4 559.1 L600.7 559.6 Q598.9 559.7 598.9 559.8 L598.9 560.7 Q598.9 560.8 601.4 560.9 L617.3 561.4 Q619.8 561.5 616.6 561.6 L596.0 562.6 Q592.7 562.8 592.7 562.9 L592.7 563.7 Q592.7 563.9 595.8 564.1 L615.5 565.6 Q618.6 565.8 613.9 565.9 L583.9 566.4 Q579.1 566.5 579.1 566.6 L579.1 567.4 Q579.1 567.6 581.4 567.7 L595.4 568.4 Q597.6 568.5 594.8 568.8 L577.0 570.5 Q574.2 570.7 574.2 570.8 L574.2 571.2 Q574.2 571.2 581.0 571.6 L624.1 573.9 Q630.9 574.3 628.3 574.4 L611.4 574.9 Q608.7 575.0 608.7 575.1 L608.7 576.0 Q608.7 576.1 610.0 576.3 L618.0 577.8 Q619.2 578.0 618.6 578.3 L614.6 579.9 Q614.0 580.2 612.9 580.4 L605.6 581.6 Q604.4 581.8 604.4 581.9 L604.4 582.8 Q604.4 582.9 605.4 583.0 L611.5 583.5 Q612.4 583.6 612.0 583.8 L609.5 585.2 Q609.1 585.4 608.3 585.6 L603.3 586.6 Q602.6 586.7 602.6 586.8 L602.6 587.7 Q602.6 587.8 603.9 588.0 L612.2 589.0 Q613.5 589.1 614.3 589.3 L619.6 590.7 Q620.4 591.0 617.5 591.1 L598.7 592.1 Q595.8 592.3 595.8 592.4 L595.8 593.2 Q595.8 593.4 596.7 593.4 L602.8 594.0 Q603.8 594.0 602.1 594.2 L591.3 595.2 Q589.6 595.3 589.6 595.5 L589.6 596.3 Q589.6 596.4 593.2 596.6 L615.7 597.6 Q619.2 597.7 618.2 597.8 L612.2 598.3 Q611.2 598.4 611.2 598.6 L611.2 599.4 Q611.2 599.5 612.5 599.6 L620.4 600.1 Q621.7 600.2 620.3 600.4 L611.9 601.8 Q610.6 602.1 609.0 602.2 L599.2 603.2 Q597.6 603.4 597.6 603.5 L597.6 604.3 Q597.6 604.5 601.3 604.6 L624.8 605.6 Q628.5 605.8 626.9 606.0 L616.8 607.4 Q615.2 607.6 613.4 607.8 L601.9 608.8 Q600.1 608.9 600.1 609.0 L600.1 609.9 Q600.1 610.0 601.4 610.0 L609.3 610.2 Q610.6 610.2 608.7 610.3 L596.5 611.2 Q594.5 611.4 594.5 611.5 L594.5 612.3 Q594.5 612.5 599.1 612.5 L627.6 612.8 Q632.2 612.8 629.6 612.9 L613.7 613.4 Q611.2 613.5 611.2 613.6 L611.2 614.4 Q611.2 614.6 613.0 614.9 L624.2 616.6 Q626.0 616.9 623.2 617.2 L605.4 619.6 Q602.6 619.9 600.5 620.1 L587.4 621.1 Q585.3 621.2 585.3 621.4 L585.3 622.2 Q585.3 622.3 589.7 622.5 L617.3 623.3 Q621.7 623.4 616.7 623.6 L585.3 624.8 Q580.4 624.9 580.4 625.1 L580.4 625.9 Q580.4 626.0 585.3 626.2 L616.7 626.9 Q621.7 627.0 616.5 627.1 L583.7 628.2 Q578.5 628.4 578.5 628.5 L578.5 629.4 Q578.5 629.5 579.2 629.7 L583.4 630.9 Q584.1 631.0 587.8 631.2 L611.7 632.5 Q615.5 632.6 612.3 632.7 L591.6 633.3 Q588.4 633.3 588.4 633.5 L588.4 634.3 Q588.4 634.4 591.1 634.5 L608.5 635.3 Q611.2 635.4 607.7 635.4 L585.7 636.0 Q582.2 636.0 582.2 636.2 L582.2 637.0 Q582.2 637.1 587.0 637.2 L617.5 637.7 Q622.3 637.8 617.3 638.0 L585.4 639.3 Q580.4 639.5 580.4 639.6 L580.4 640.5 Q580.4 640.6 586.2 640.7 L623.2 641.4 Q629.1 641.5 626.3 641.8 L609.0 643.2 Q606.3 643.4 604.6 643.6 L594.3 645.2 Q592.7 645.4 590.8 645.6 L578.6 646.7 Q576.7 646.9 576.7 647.0 L576.7 647.9 Q576.7 648.0 579.6 648.0 L597.8 648.2 Q600.7 648.2 597.2 648.5 L575.2 650.3 Q571.7 650.6 571.7 650.7 L571.7 651.6 Q571.7 651.7 578.5 651.9 L621.7 653.1 Q628.5 653.2 627.4 653.5 L620.7 655.4 Q619.7 655.7 618.1 655.9 L607.9 657.4 Q606.3 657.6 606.3 657.8 L606.3 658.6 Q606.3 658.7 607.4 659.0 L614.9 661.0 Q616.1 661.3 615.2 661.5 L609.1 663.2 Q608.1 663.4 608.1 663.6 L608.1 664.4 Q608.1 664.5 609.2 664.7 L615.9 665.6 Q616.9 665.7 617.6 665.9 L621.7 667.2 Q622.3 667.4 620.7 667.5 L610.4 668.0 Q608.7 668.1 608.7 668.2 L608.7 669.1 Q608.7 669.2 609.9 669.3 L617.4 670.0 Q618.6 670.1 617.1 670.4 L607.7 672.1 Q606.3 672.4 605.0 672.6 L597.0 674.3 Q595.8 674.5 595.8 674.7 L595.8 675.5 Q595.8 675.6 597.2 675.7 L606.1 676.0 Q607.5 676.1 603.5 676.3 L578.2 677.5 Q574.2 677.7 574.2 677.9 L574.2 678.7 Q574.2 678.8 576.8 678.9 L593.2 679.6 Q595.8 679.8 598.8 680.0 L618.0 681.4 Q621.1 681.6 620.2 681.7 L614.6 682.2 Q613.7 682.3 613.7 682.4 L613.7 683.3 Q613.7 683.4 615.7 683.5 L628.9 684.5 Q630.9 684.7 628.9 684.9 L615.7 686.4 Q613.7 686.6 613.7 686.7 L613.7 687.6 Q613.7 687.7 615.7 687.9 L628.3 689.2 Q630.3 689.4 629.0 689.6 L620.8 691.1 Q619.5 691.4 617.8 691.6 L607.3 693.1 Q605.6 693.3 606.1 693.6 L608.9 695.5 Q609.3 695.8 611.3 696.1 L624.0 698.2 Q626.0 698.5 624.5 698.8 L615.1 700.5 Q613.7 700.7 612.4 700.8 L604.4 701.6 Q603.2 701.7 603.2 701.8 L603.2 702.2 Q603.2 702.2 604.9 702.6 L615.7 705.2 Q617.4 705.5 616.8 705.8 L613.6 707.2 Q613.0 707.5 613.0 707.6 L613.0 708.4 Q613.0 708.6 614.2 708.8 L621.2 710.6 Q622.3 710.9 619.2 711.1 L599.4 712.6 Q596.3 712.8 592.7 713.0 L569.8 714.1 Q566.2 714.2 566.2 714.4 L566.2 715.2 Q566.2 715.3 567.3 715.5 L574.5 716.5 Q575.7 716.6 576.4 716.9 L580.9 718.3 Q581.6 718.5 583.9 718.6 L598.4 719.6 Q600.7 719.7 597.0 719.8 L573.6 720.4 Q569.9 720.5 569.8 720.6 L569.3 721.1 Q569.3 721.2 571.4 721.4 L585.0 722.3 Q587.1 722.4 585.7 722.6 L576.3 723.9 Q574.8 724.1 574.8 724.2 L574.8 725.1 Q574.8 725.2 575.9 725.3 L583.0 725.6 Q584.1 725.7 587.8 725.9 L611.7 727.8 Q615.5 728.1 610.1 728.2 L575.9 728.9 Q570.5 729.0 570.5 729.2 L570.5 730.0 Q570.5 730.1 574.0 730.3 L596.0 731.6 Q599.5 731.8 595.9 732.1 L572.9 733.7 Q569.3 734.0 569.3 734.1 L569.3 734.9 Q569.3 735.1 572.1 735.2 L589.9 735.7 Q592.7 735.8 590.3 735.9 L575.3 736.9 Q573.0 737.1 573.0 737.2 L573.0 738.0 Q573.0 738.2 580.0 738.4 L624.5 740.2 Q631.5 740.5 628.6 740.7 L609.8 742.1 Q606.8 742.3 603.5 742.5 L582.5 743.4 Q579.1 743.6 579.1 743.7 L579.1 744.6 Q579.1 744.7 585.6 745.0 L626.3 746.8 Q632.8 747.1 627.6 747.4 L594.8 749.1 Q589.6 749.4 589.6 749.5 L589.6 750.4 Q589.6 750.5 596.1 750.6 L636.8 751.1 Q643.3 751.2 635.7 751.5 L587.9 753.2 Q580.4 753.5 580.4 753.6 L580.4 754.4 Q580.4 754.6 586.4 754.8 L624.9 755.9 Q630.9 756.1 631.8 756.3 L637.4 757.2 Q638.3 757.3 630.5 757.5 L580.8 758.5 Q573.0 758.6 573.0 758.8 L573.0 759.6 Q573.0 759.7 575.7 759.8 L593.0 760.3 Q595.8 760.4 593.6 760.5 L580.0 760.8 Q577.9 760.9 577.9 761.0 L577.9 761.8 Q577.9 762.0 584.7 762.1 L627.8 762.8 Q634.6 762.9 632.7 763.3 L620.5 765.6 Q618.6 766.0 619.0 766.1 L621.3 767.1 Q621.7 767.2 619.2 767.3 L603.2 768.1 Q600.7 768.3 600.7 768.4 L600.7 769.2 Q600.7 769.4 602.9 769.6 L616.4 771.1 Q618.6 771.3 617.0 771.5 L606.7 772.6 Q605.0 772.8 602.2 773.1 L584.4 775.5 Q581.6 775.8 580.0 776.1 L569.7 777.5 Q568.0 777.8 568.0 777.9 L568.0 778.7 Q568.0 778.9 570.5 779.0 L585.9 780.0 Q588.4 780.2 585.4 780.2 L566.7 780.8 Q563.7 780.8 563.7 781.0 L563.7 781.8 Q563.7 781.9 571.3 782.1 L619.6 783.1 Q627.2 783.2 625.6 783.5 L615.3 784.9 Q613.7 785.1 614.0 785.2 L616.4 786.2 Q616.7 786.3 615.6 786.6 L608.1 788.3 Q606.9 788.5 607.3 788.7 L610.1 789.6 Q610.6 789.8 608.9 790.0 L598.1 791.5 Q596.4 791.7 596.4 791.8 L596.4 792.7 Q596.4 792.8 597.3 792.8 L602.9 793.1 Q603.8 793.1 601.8 793.3 L589.1 794.5 Q587.1 794.7 587.1 794.8 L587.1 795.6 Q587.1 795.8 590.9 796.0 L614.8 797.2 Q618.6 797.4 620.2 797.6 L630.5 798.5 Q632.2 798.7 626.6 799.0 L591.5 800.9 Q585.9 801.2 585.9 801.3 L585.9 802.2 Q585.9 802.3 589.9 802.3 L615.2 802.6 Q619.2 802.6 616.4 802.9 L598.6 804.9 Q595.8 805.3 595.8 805.4 L595.8 806.2 Q595.8 806.4 597.9 806.4 L611.5 807.0 Q613.7 807.0 614.3 807.3 L618.6 808.8 Q619.3 809.0 619.4 809.3 L619.8 810.8 Q619.8 811.0 619.0 811.2 L613.9 812.6 Q613.0 812.8 611.9 813.2 L604.9 815.3 Q603.8 815.6 603.8 815.8 L603.8 816.6 Q603.8 816.7 605.0 816.7 L612.5 816.8 Q613.7 816.8 609.2 817.0 L581.1 818.6 Q576.7 818.8 576.7 819.0 L576.7 819.8 Q576.7 819.9 581.9 820.2 L615.2 821.8 Q620.4 822.1 620.1 822.4 L617.7 824.3 Q617.4 824.6 616.8 824.7 L613.6 825.7 Q613.0 825.9 613.0 826.0 L613.0 826.8 Q613.0 827.0 614.0 827.1 L620.1 828.1 Q621.1 828.3 621.4 828.5 L623.2 829.9 Q623.5 830.1 621.3 830.3 L607.2 831.2 Q605.0 831.3 605.0 831.4 L605.0 832.3 Q605.0 832.4 608.0 832.7 L626.7 834.4 Q629.7 834.7 626.0 834.9 L602.6 836.0 Q598.9 836.2 596.8 836.5 L583.7 838.4 Q581.6 838.7 581.6 838.8 L581.6 839.7 Q581.6 839.8 582.6 840.0 L589.2 841.5 Q590.2 841.7 592.5 841.8 L606.5 842.3 Q608.7 842.3 608.7 842.6 L608.7 844.5 Q608.7 844.8 610.7 845.1 L623.5 846.7 Q625.6 847.0 627.0 847.2 L636.3 848.9 Q637.7 849.1 636.6 849.4 L629.4 851.0 Q628.3 851.3 626.8 851.5 L617.6 853.2 Q616.1 853.4 615.7 853.8 L612.9 856.1 Q612.4 856.5 610.2 856.6 L596.2 857.1 Q593.9 857.2 593.9 857.3 L593.9 858.2 Q593.9 858.3 597.9 858.4 L623.2 858.9 Q627.2 859.0 620.2 859.1 L575.7 860.1 Q568.6 860.3 568.6 860.4 L568.6 861.2 Q568.6 861.4 574.1 861.6 L608.8 862.9 Q614.3 863.1 611.8 863.2 L596.4 864.4 Q593.9 864.6 593.9 864.7 L593.9 865.6 Q593.9 865.7 595.1 865.9 L602.6 866.8 Q603.8 867.0 604.0 867.3 L605.4 869.2 Q605.6 869.5 606.5 869.7 L611.6 871.1 Q612.4 871.3 611.8 871.5 L607.5 872.5 Q606.9 872.6 606.9 872.7 L606.9 873.6 Q606.9 873.7 607.9 873.8 L614.5 874.1 Q615.5 874.2 614.6 874.3 L609.0 875.2 Q608.1 875.3 608.1 875.5 L608.1 876.3 Q608.1 876.4 609.6 876.6 L619.0 877.4 Q620.4 877.5 622.1 877.8 L632.9 880.2 Q634.6 880.6 633.9 880.9 L629.2 883.3 Q628.5 883.6 624.5 883.9 L599.2 885.3 Q595.2 885.6 595.2 885.7 L595.2 886.5 Q595.2 886.7 600.9 886.9 L637.5 888.7 Q643.3 888.9 641.8 889.3 L632.4 891.9 Q630.9 892.3 626.6 892.6 L598.9 894.5 Q594.5 894.8 594.5 894.9 L594.5 895.8 Q594.5 895.9 598.6 896.1 L624.4 897.4 Q628.5 897.6 627.4 897.8 L620.3 898.9 Q619.2 899.1 616.1 899.2 L596.4 899.9 Q593.3 900.0 593.3 900.1 L593.3 901.0 Q593.3 901.1 596.6 901.1 L617.2 901.5 Q620.4 901.5 615.0 901.8 L580.3 903.4 Q574.8 903.7 574.8 903.8 L574.8 904.7 Q574.8 904.8 577.2 904.9 L592.4 905.9 Q594.8 906.1 596.7 906.3 L608.7 907.7 Q610.6 907.9 608.4 908.1 L594.8 909.4 Q592.7 909.6 592.7 909.7 L592.7 910.6 Q592.7 910.7 593.7 910.8 L600.3 911.3 Q601.3 911.4 599.7 911.6 L589.4 913.0 Q587.8 913.2 586.4 913.4 L578.0 914.4 Q576.7 914.5 576.7 914.7 L576.7 915.5 Q576.7 915.6 583.5 915.8 L626.6 916.8 Q633.4 916.9 626.2 917.1 L580.8 918.1 Q573.6 918.2 573.6 918.4 L573.6 919.2 Q573.6 919.3 577.7 919.5 L603.5 920.4 Q607.6 920.5 611.2 920.7 L634.1 922.0 Q637.7 922.2 631.1 922.5 L589.4 924.4 Q582.8 924.7 582.8 924.8 L582.8 925.6 Q582.8 925.8 587.0 925.9 L613.2 926.7 Q617.4 926.8 613.4 927.0 L588.6 928.0 Q584.7 928.1 584.7 928.2 L584.7 929.1 Q584.7 929.2 587.3 929.4 L604.2 930.7 Q606.9 930.9 602.5 931.0 L574.9 931.7 Q570.5 931.8 570.5 931.9 L570.5 932.8 Q570.5 932.9 574.2 933.0 L597.6 933.7 Q601.3 933.8 596.7 934.1 L567.7 935.5 Q563.1 935.8 563.1 935.9 L563.1 936.7 Q563.1 936.9 567.4 937.0 L594.5 938.0 Q598.8 938.2 602.4 938.4 L625.4 939.8 Q629.1 940.0 621.8 940.2 L575.4 941.7 Q568.0 941.9 568.0 942.1 L568.0 942.9 Q568.0 943.0 571.3 943.0 L591.9 943.2 Q595.2 943.2 594.1 943.4 L587.3 944.9 Q586.3 945.1 584.4 945.4 L572.9 946.8 Q571.1 947.1 569.9 947.2 L562.4 948.3 Q561.2 948.5 561.2 948.6 L561.2 949.4 Q561.2 949.6 562.9 949.8 L573.2 951.2 Q574.8 951.5 573.2 951.4 L562.9 950.7 Q561.2 950.6 563.0 950.8 L573.7 951.7 Q575.4 951.8 573.8 952.1 L563.5 953.5 Q561.9 953.8 561.9 953.9 L561.9 954.7 Q561.9 954.9 564.9 955.0 L584.0 956.2 Q587.0 956.4 589.3 956.6 L604.0 958.1 Q606.3 958.4 609.5 958.5 L630.1 959.5 Q633.4 959.6 626.8 960.0 L585.1 962.1 Q578.5 962.4 578.5 962.5 L578.5 963.4 Q578.5 963.5 581.8 963.8 L602.9 965.5 Q606.3 965.8 603.9 966.0 L588.9 967.1 Q586.5 967.3 586.5 967.5 L586.5 968.3 Q586.5 968.4 590.6 968.6 L616.4 969.6 Q620.4 969.7 615.7 970.0 L585.7 972.0 Q581.0 972.3 581.0 972.4 L581.0 973.2 Q581.0 973.4 586.8 973.5 L623.8 974.5 Q629.7 974.7 626.3 974.8 L604.7 975.8 Q601.3 976.0 601.3 976.1 L601.3 976.9 Q601.3 977.1 601.9 977.2 L605.7 978.0 Q606.3 978.1 605.2 978.2 L598.1 978.9 Q597.0 979.0 597.0 979.2 L597.0 980.0 Q597.0 980.1 599.6 980.2 L616.0 980.5 Q618.6 980.6 615.3 980.8 L594.7 981.9 Q591.5 982.1 591.5 982.3 L591.5 983.1 Q591.5 983.2 594.3 983.3 L612.1 983.8 Q614.9 983.9 612.2 984.0 L595.4 984.8 Q592.7 985.0 592.7 985.1 L592.7 985.9 Q592.7 986.1 595.9 986.1 L616.0 986.3 Q619.2 986.4 612.3 986.5 L568.2 987.0 Q561.2 987.1 561.2 987.2 L561.2 988.0 Q561.2 988.2 570.3 988.3 L627.4 989.5 Q636.5 989.7 627.4 989.8 L570.3 990.6 Q561.2 990.8 561.2 990.9 L561.2 991.7 Q561.2 991.9 569.2 992.2 L619.9 994.3 Q627.8 994.6 620.3 994.8 L572.5 995.6 Q564.9 995.7 564.9 995.8 L564.9 996.7 Q564.9 996.8 566.6 996.8 L576.9 997.1 Q578.5 997.1 578.3 997.3 L576.9 998.5 Q576.7 998.7 582.5 999.0 L619.5 1000.6 Q625.4 1000.8 618.0 1001.1 L571.1 1002.8 Q563.7 1003.1 563.7 1003.2 L563.7 1004.1 Q563.7 1004.2 569.1 1004.3 L603.3 1005.1 Q608.7 1005.2 606.7 1005.5 L593.5 1006.8 Q591.5 1007.0 587.7 1007.1 L563.8 1008.2 Q560.0 1008.4 560.0 1008.5 L560.0 1009.4 Q560.0 1009.5 565.0 1009.7 L596.9 1011.2 Q601.9 1011.4 597.4 1011.7 L568.8 1013.5 Q564.3 1013.8 564.3 1014.0 L564.3 1014.8 Q564.3 1014.9 572.0 1015.1 L620.8 1016.2 Q628.5 1016.3 620.6 1016.6 L570.9 1018.0 Q563.1 1018.3 563.1 1018.4 L563.1 1019.2 Q563.1 1019.4 564.7 1019.5 L575.0 1020.2 Q576.7 1020.3 580.4 1020.5 L603.8 1021.9 Q607.5 1022.1 602.2 1022.3 L568.4 1023.5 Q563.1 1023.7 563.1 1023.8 L563.1 1024.7 Q563.1 1024.8 565.1 1024.9 L577.8 1025.7 Q579.7 1025.8 578.2 1025.9 L568.4 1026.4 Q566.8 1026.5 566.8 1026.7 L566.8 1027.5 Q566.8 1027.6 568.8 1027.7 L581.4 1028.2 Q583.4 1028.3 581.6 1028.5 L569.9 1029.5 Q568.0 1029.6 568.0 1029.7 L568.0 1030.6 Q568.0 1030.7 569.6 1030.8 L579.4 1031.3 Q581.0 1031.4 579.6 1031.6 L570.7 1033.1 Q569.3 1033.3 569.3 1033.4 L569.3 1034.3 Q569.3 1034.4 570.7 1034.5 L580.1 1035.0 Q581.6 1035.1 579.3 1035.2 L564.8 1036.2 Q562.5 1036.4 562.5 1036.5 L562.5 1037.4 Q562.5 1037.5 568.6 1037.6 L607.0 1038.6 Q613.0 1038.8 607.1 1039.1 L569.6 1040.7 Q563.7 1041.0 563.7 1041.1 L563.7 1041.9 Q563.7 1042.1 565.1 1042.1 L574.0 1042.2 Q575.4 1042.2 574.5 1042.5 L568.4 1043.9 Q567.4 1044.2 567.4 1044.3 L567.4 1045.1 Q567.4 1045.3 571.0 1045.4 L593.5 1046.6 Q597.0 1046.8 593.3 1047.0 L569.9 1048.0 Q566.2 1048.1 566.2 1048.2 L566.2 1049.1 Q566.2 1049.2 569.4 1049.4 L589.5 1050.7 Q592.7 1050.9 588.9 1051.2 L565.0 1053.3 Q561.2 1053.7 561.2 1053.8 L561.2 1054.6 Q561.2 1054.8 564.7 1055.0 L586.2 1056.8 Q589.6 1057.0 587.6 1057.1 L575.0 1057.6 Q573.0 1057.7 573.0 1057.9 L573.0 1058.7 Q573.0 1058.8 580.2 1058.9 L626.1 1059.4 Q633.4 1059.5 626.3 1059.6 L581.3 1060.3 Q574.2 1060.4 574.2 1060.6 L574.2 1061.4 Q574.2 1061.5 577.8 1061.6 L600.2 1061.9 Q603.8 1062.0 598.5 1062.1 L564.7 1063.0 Q559.4 1063.2 559.4 1063.3 L559.4 1064.1 Q559.4 1064.3 560.5 1064.5 L567.5 1065.7 Q568.6 1065.9 568.5 1066.1 L567.6 1067.0 Q567.4 1067.2 576.5 1067.3 L634.2 1068.0 Q643.3 1068.1 633.7 1068.3 L573.3 1069.4 Q563.7 1069.6 563.6 1069.9 L562.6 1071.8 Q562.5 1072.1 564.4 1072.2 L576.6 1073.2 Q578.5 1073.3 576.7 1073.6 L564.9 1075.6 Q563.1 1075.9 563.1 1076.0 L563.1 1076.8 Q563.1 1077.0 565.2 1077.0 L578.3 1077.6 Q580.4 1077.6 578.9 1077.8 L569.5 1078.8 Q568.0 1078.9 568.0 1079.1 L568.0 1079.9 Q568.0 1080.0 568.8 1080.2 L574.2 1081.0" fill="none" stroke="#000" stroke-width="1.35" stroke-linejoin="round"/>
<g transform="translate(0,0.3)"><path d="M273.0 121.7 C275.9 121.7 277.4 119.4 280.4 120.0 S284.8 121.7 287.7 119.6 M289.4 121.7 C292.4 121.7 293.9 119.4 296.8 120.0 S301.2 121.7 304.1 119.6 M278.9 128.1 C281.9 128.1 283.4 125.8 286.3 126.4 S290.7 128.1 293.6 126.0 M295.4 128.1 C298.3 128.1 299.8 125.8 302.8 126.4 S307.2 128.1 310.1 126.0 M273.0 134.5 C275.9 134.5 277.4 132.2 280.4 132.8 S284.8 134.5 287.7 132.4 M289.4 134.5 C292.4 134.5 293.9 132.2 296.8 132.8 S301.2 134.5 304.1 132.4" fill="none" stroke="#111" stroke-width="1.25" stroke-linecap="round"/>
<path d="M330.4 127.0 L353.3 122.7 M323.4 119.3 L330.8 134.7 M327.1 119.3 L335.3 134.7 M325.5 134.7 L334.9 119.6 M332.0 124.3 L336.9 119.6 M338.8 125.4 L341.4 119.6 M342.7 124.7 L345.4 119.6 M346.7 124.0 L349.3 119.6 M350.6 123.2 L353.3 119.6 M332.8 127.6 Q333.7 131.8 335.7 134.7 M336.4 127.0 Q337.3 131.8 339.3 134.7 M340.1 126.3 Q340.9 131.8 342.9 134.7 M343.7 125.6 Q344.5 131.8 346.5 134.7 M347.3 125.0 Q348.1 131.8 350.1 134.7 M350.9 124.3 Q351.7 131.8 353.8 134.7 M348.8 124.6 L359.9 119.2 L363.6 134.2 Z M357.9 120.3 L359.1 132.0 M354.8 122.0 L355.4 129.7" fill="none" stroke="#111" stroke-width="0.85" stroke-linejoin="round"/>
<path d="M263.1 163.1 H287.0 M261.0 150.7 Q269.4 157.4 270.4 163.0 M268.8 150.4 Q273.5 157.2 274.0 163.0 M275.6 147.0 Q276.5 155.5 276.6 163.0 M282.8 148.7 Q280.0 156.3 279.7 163.0 M287.0 156.3 Q284.2 160.2 283.9 163.0" fill="none" stroke="#000" stroke-width="1.7" stroke-linecap="round"/>
<path d="M314.0 153.4 Q330.7 151.3 347.4 150.4 M314.0 156.8 Q337.5 154.3 361.0 153.0 M314.0 160.2 Q337.5 157.7 361.0 156.3 M314.0 163.5 Q337.5 160.8 361.0 159.3 M327.2 152.1 Q344.1 154.4 361.0 155.8 M328.1 155.4 Q344.6 157.6 361.0 158.8 M330.4 159.0 Q345.7 160.9 361.0 162.0 M335.1 164.2 Q348.1 163.3 361.0 163.9" fill="none" stroke="#1a1a1a" stroke-width="1.0" stroke-linecap="round"/>
<path d="M307.2 215.0 L329.6 210.7 M300.4 207.3 L307.6 222.7 M304.0 207.3 L312.0 222.7 M302.4 222.7 L311.6 207.6 M308.8 212.3 L313.6 207.6 M315.4 213.4 L318.0 207.6 M319.2 212.7 L321.8 207.6 M323.1 212.0 L325.7 207.6 M326.9 211.2 L329.5 207.6 M309.6 215.6 Q310.4 219.8 312.4 222.7 M313.1 215.0 Q313.9 219.8 315.9 222.7 M316.6 214.3 Q317.4 219.8 319.4 222.7 M320.2 213.6 Q321.0 219.8 323.0 222.7 M323.7 213.0 Q324.5 219.8 326.5 222.7 M327.2 212.3 Q328.0 219.8 330.0 222.7 M325.2 212.6 L336.0 207.2 L339.6 222.2 Z M334.0 208.3 L335.2 220.0 M331.0 210.0 L331.6 217.7" fill="none" stroke="#111" stroke-width="0.85" stroke-linejoin="round"/>
<path d="M303.0 243.5 C306.0 243.5 307.5 241.4 310.6 241.9 S315.1 243.5 318.1 241.6 M319.9 243.5 C322.9 243.5 324.5 241.4 327.5 241.9 S332.0 243.5 335.0 241.6 M309.1 249.5 C312.1 249.5 313.7 247.4 316.7 247.9 S321.2 249.5 324.2 247.6 M326.0 249.5 C329.1 249.5 330.6 247.4 333.6 247.9 S338.1 249.5 341.2 247.6 M303.0 255.5 C306.0 255.5 307.5 253.4 310.6 253.9 S315.1 255.5 318.1 253.6 M319.9 255.5 C322.9 255.5 324.5 253.4 327.5 253.9 S332.0 255.5 335.0 253.6" fill="none" stroke="#111" stroke-width="1.25" stroke-linecap="round"/>
<rect x="300.7" y="291.0" width="39.3" height="1.4" fill="#000"/><rect x="302.1" y="291.0" width="6.7" height="5.2" fill="#000"/><rect x="312.0" y="291.0" width="6.7" height="5.2" fill="#000"/><rect x="322.0" y="291.0" width="6.7" height="5.2" fill="#000"/><rect x="331.9" y="291.0" width="6.7" height="5.2" fill="#000"/>
<path d="M299.0 320.8 H345.0 M299.0 336.2 H345.0" stroke="#808080" stroke-width="1.3" fill="none"/><path d="M305.0 321.3 Q303.6 326.9 299.0 330.1 M299.0 333.4 Q312.8 329.3 319.2 321.3 M306.4 321.3 Q317.4 329.3 335.8 332.6 M334.9 321.3 Q333.0 329.3 322.9 335.7 M314.2 328.5 Q316.5 331.8 322.0 335.7 M335.8 332.6 H345.0 M335.8 335.7 Q336.7 333.4 340.4 332.6" fill="none" stroke="#111" stroke-width="0.75"/><path d="M306.4 324.6 L306.9 326.1 L308.5 326.1 L307.3 327.2 L307.7 328.7 L306.4 327.8 L305.0 328.7 L305.4 327.2 L304.2 326.1 L305.8 326.1 Z" fill="#111"/><path d="M326.6 322.9 L327.2 324.4 L328.8 324.5 L327.5 325.5 L328.0 327.1 L326.6 326.2 L325.2 327.1 L325.7 325.5 L324.4 324.5 L326.0 324.4 Z" fill="#111"/><path d="M337.6 324.9 L338.2 326.4 L339.8 326.5 L338.6 327.5 L339.0 329.0 L337.6 328.2 L336.3 329.0 L336.7 327.5 L335.5 326.5 L337.1 326.4 Z" fill="#111"/><path d="M310.5 331.1 L311.1 332.6 L312.7 332.7 L311.4 333.7 L311.9 335.3 L310.5 334.4 L309.1 335.3 L309.6 333.7 L308.3 332.7 L309.9 332.6 Z" fill="#111"/><path d="M325.7 331.1 L326.2 332.6 L327.9 332.7 L326.6 333.7 L327.0 335.3 L325.7 334.4 L324.3 335.3 L324.8 333.7 L323.5 332.7 L325.1 332.6 Z" fill="#111"/>
<path d="M291.0 378.4 L296.6 384.5 L301.4 379.2 L306.2 384.5 L311.0 379.2 L316.2 384.5 L320.6 379.8 L323.0 382.2 M301.0 384.1 L306.2 389.6 L311.0 384.5 L316.2 389.6 L320.6 384.5 L325.4 389.6 L330.2 384.1" fill="none" stroke="#000" stroke-width="1.5"/><path d="M299.0 375.8 L307.0 383.9 M306.2 373.5 L315.8 383.0 M315.0 373.5 L327.0 384.9 M297.4 384.9 L305.4 392.5 M307.8 385.3 L315.0 392.1 M317.4 384.9 L324.6 392.1" fill="none" stroke="#333" stroke-width="0.6"/>
<path d="M293.5 409.0 V425.0 M299.3 409.0 V425.0 M305.2 409.0 V425.0 M311.0 409.0 V425.0 M316.8 409.0 V425.0 M322.7 409.0 V425.0 M328.5 409.0 V425.0" fill="none" stroke="#888" stroke-width="0.8"/><path d="M293.5 410.9 L299.3 417.0 L305.2 410.9 L311.0 417.0 L316.8 410.9 L322.7 417.0 L328.5 410.9" fill="none" stroke="#000" stroke-width="1.6"/><path d="M293.5 416.7 L299.3 422.8 L305.2 416.7 L311.0 422.8 L316.8 416.7 L322.7 422.8 L328.5 416.7" fill="none" stroke="#000" stroke-width="1.6"/>
<path d="M289.0 441.5 H335.0 M289.0 457.5 H335.0" stroke="#808080" stroke-width="1.3" fill="none"/><path d="M295.0 442.0 Q293.6 447.8 289.0 451.2 M289.0 454.6 Q302.8 450.4 309.2 442.0 M296.4 442.0 Q307.4 450.4 325.8 453.8 M324.9 442.0 Q323.0 450.4 312.9 457.0 M304.2 449.5 Q306.5 452.9 312.0 457.0 M325.8 453.8 H335.0 M325.8 457.0 Q326.7 454.6 330.4 453.8" fill="none" stroke="#111" stroke-width="0.75"/><path d="M296.4 445.5 L296.9 447.0 L298.5 447.1 L297.3 448.1 L297.7 449.7 L296.4 448.8 L295.0 449.7 L295.4 448.1 L294.2 447.1 L295.8 447.0 Z" fill="#111"/><path d="M316.6 443.8 L317.2 445.3 L318.8 445.4 L317.5 446.4 L318.0 448.0 L316.6 447.1 L315.2 448.0 L315.7 446.4 L314.4 445.4 L316.0 445.3 Z" fill="#111"/><path d="M327.6 445.8 L328.2 447.4 L329.8 447.4 L328.6 448.4 L329.0 450.0 L327.6 449.1 L326.3 450.0 L326.7 448.4 L325.5 447.4 L327.1 447.4 Z" fill="#111"/><path d="M300.5 452.3 L301.1 453.8 L302.7 453.9 L301.4 454.9 L301.9 456.5 L300.5 455.6 L299.1 456.5 L299.6 454.9 L298.3 453.9 L299.9 453.8 Z" fill="#111"/><path d="M315.7 452.3 L316.2 453.8 L317.9 453.9 L316.6 454.9 L317.0 456.5 L315.7 455.6 L314.3 456.5 L314.8 454.9 L313.5 453.9 L315.1 453.8 Z" fill="#111"/>
<path d="M295.0 477.9 H332.0 M295.0 480.7 H332.0 M295.0 483.7 H332.0 M295.0 486.6 H332.0 M295.0 490.3 H332.0 M295.0 494.3 H332.0" fill="none" stroke="#505050" stroke-width="1.15"/>
<path d="M256.8 554.5 L299.2 554.5 L299.2 556.3 L256.8 556.3 Z" fill="#000"/><path d="M265.1 566.8 L307.3 566.8 L307.3 568.5 L265.1 568.5 Z" fill="#000"/><path d="M259.0 555.9 L299.2 555.9 L300.2 558.7 L303.3 561.5 L306.0 567.1 L265.1 567.1 L261.9 562.2 Z" fill="#000"/><path d="M262.1 568.8 L264.0 556.7 L266.6 566.3 L269.2 556.7 L271.8 566.3 L274.4 556.7 L277.0 566.3 L279.7 556.7 L282.3 566.3 L284.9 556.7 L287.5 566.3 L290.1 556.7 L292.7 566.3 L295.3 556.7 L296.8 561.5" fill="none" stroke="#fff" stroke-width="1.6" stroke-linejoin="miter"/><path d="M300.2 567.1 L301.5 560.8 L302.5 567.1 Z" fill="#fff"/>
<path d="M327.8 544.9 L365.3 557.0 M318.4 557.0 L355.9 545.7 M325.9 547.2 L363.9 559.3 M319.8 559.5 L357.8 547.9 M324.0 549.5 L362.5 561.6 M321.2 561.9 L359.7 550.2 M322.2 551.7 L361.1 563.9 M322.6 564.3 L361.5 552.5 M320.3 554.0 L359.7 566.2 M324.0 566.8 L363.4 554.8 M318.4 556.3 L358.3 568.4 M325.4 569.2 L365.3 557.0" fill="none" stroke="#111" stroke-width="0.75"/>
<path d="M267.1 610.6 L289.4 606.3 M260.4 603.0 L267.5 618.2 M264.0 603.0 L271.9 618.2 M262.4 618.2 L271.5 603.3 M268.7 607.9 L273.5 603.3 M275.3 609.0 L277.9 603.3 M279.1 608.3 L281.7 603.3 M282.9 607.6 L285.5 603.3 M286.7 606.9 L289.3 603.3 M269.5 611.2 Q270.3 615.3 272.3 618.2 M273.0 610.6 Q273.8 615.3 275.8 618.2 M276.5 609.9 Q277.3 615.3 279.3 618.2 M280.0 609.2 Q280.8 615.3 282.8 618.2 M283.5 608.6 Q284.3 615.3 286.3 618.2 M287.0 607.9 Q287.8 615.3 289.8 618.2 M285.0 608.2 L295.7 602.9 L299.3 617.7 Z M293.7 604.0 L294.9 615.5 M290.8 605.7 L291.4 613.3" fill="none" stroke="#111" stroke-width="0.85" stroke-linejoin="round"/>
<path d="M325.0 605.5 C328.0 605.5 329.5 603.4 332.5 603.9 S337.0 605.5 340.0 603.6 M341.8 605.5 C344.8 605.5 346.3 603.4 349.3 603.9 S353.8 605.5 356.8 603.6 M331.1 611.5 C334.1 611.5 335.6 609.4 338.6 609.9 S343.1 611.5 346.1 609.6 M347.8 611.5 C350.8 611.5 352.3 609.4 355.3 609.9 S359.8 611.5 362.8 609.6 M325.0 617.5 C328.0 617.5 329.5 615.4 332.5 615.9 S337.0 617.5 340.0 615.6 M341.8 617.5 C344.8 617.5 346.3 615.4 349.3 615.9 S353.8 617.5 356.8 615.6" fill="none" stroke="#111" stroke-width="1.25" stroke-linecap="round"/>
<path d="M271.0 652.5 H308.6 M271.0 655.2 H308.6 M271.0 658.1 H308.6 M271.0 661.0 H308.6 M271.0 664.6 H308.6 M271.0 668.5 H308.6" fill="none" stroke="#505050" stroke-width="1.15"/>
<rect x="321.3" y="659.0" width="39.7" height="1.4" fill="#000"/><rect x="322.7" y="659.0" width="6.7" height="5.3" fill="#000"/><rect x="332.7" y="659.0" width="6.7" height="5.3" fill="#000"/><rect x="342.8" y="659.0" width="6.7" height="5.3" fill="#000"/><rect x="352.9" y="659.0" width="6.7" height="5.3" fill="#000"/>
<path d="M283.0 726.5 C285.9 726.5 287.4 724.4 290.3 724.9 S294.6 726.5 297.5 724.6 M299.3 726.5 C302.2 726.5 303.6 724.4 306.5 724.9 S310.9 726.5 313.8 724.6 M288.9 732.5 C291.8 732.5 293.2 730.4 296.1 730.9 S300.5 732.5 303.4 730.6 M305.1 732.5 C308.1 732.5 309.5 730.4 312.4 730.9 S316.8 732.5 319.7 730.6 M283.0 738.5 C285.9 738.5 287.4 736.4 290.3 736.9 S294.6 738.5 297.5 736.6 M299.3 738.5 C302.2 738.5 303.6 736.4 306.5 736.9 S310.9 738.5 313.8 736.6" fill="none" stroke="#111" stroke-width="1.25" stroke-linecap="round"/>
<path d="M334.6 737.6 H359.0 M332.5 724.9 Q341.1 731.7 342.0 737.5 M340.4 724.5 Q345.2 731.5 345.8 737.5 M347.3 721.0 Q348.3 729.8 348.4 737.5 M354.8 722.8 Q351.9 730.6 351.6 737.5 M359.0 730.6 Q356.1 734.6 355.8 737.5" fill="none" stroke="#000" stroke-width="1.7" stroke-linecap="round"/>
<path d="M276.5 767.2 L298.8 763.0 M269.7 759.7 L276.9 774.7 M273.3 759.7 L281.3 774.7 M271.7 774.7 L280.9 760.0 M278.1 764.5 L282.9 760.0 M284.7 765.6 L287.3 760.0 M288.5 764.9 L291.1 760.0 M292.3 764.2 L294.9 760.0 M296.2 763.5 L298.7 760.0 M278.9 767.8 Q279.7 771.9 281.7 774.7 M282.4 767.2 Q283.2 771.9 285.2 774.7 M285.9 766.5 Q286.7 771.9 288.7 774.7 M289.4 765.9 Q290.2 771.9 292.2 774.7 M292.9 765.2 Q293.7 771.9 295.7 774.7 M296.4 764.5 Q297.2 771.9 299.2 774.7 M294.4 764.9 L305.2 759.6 L308.8 774.2 Z M303.2 760.6 L304.4 772.0 M300.2 762.4 L300.8 769.9" fill="none" stroke="#111" stroke-width="0.85" stroke-linejoin="round"/>
<path d="M326.0 757.0 H363.0 M326.0 759.8 H363.0 M326.0 762.8 H363.0 M326.0 765.8 H363.0 M326.0 769.5 H363.0 M326.0 773.5 H363.0" fill="none" stroke="#505050" stroke-width="1.15"/>
<path d="M258.8 795.5 H305.0 M258.8 810.5 H305.0" stroke="#808080" stroke-width="1.3" fill="none"/><path d="M264.8 796.0 Q263.4 801.4 258.8 804.6 M258.8 807.8 Q272.7 803.8 279.1 796.0 M266.2 796.0 Q277.3 803.8 295.8 807.0 M294.8 796.0 Q293.0 803.8 282.8 810.0 M274.0 803.0 Q276.4 806.2 281.9 810.0 M295.8 807.0 H305.0 M295.8 810.0 Q296.7 807.8 300.4 807.0" fill="none" stroke="#111" stroke-width="0.75"/><path d="M266.2 799.1 L266.8 800.6 L268.4 800.7 L267.1 801.7 L267.5 803.3 L266.2 802.4 L264.8 803.3 L265.3 801.7 L264.0 800.7 L265.6 800.6 Z" fill="#111"/><path d="M286.5 797.5 L287.1 799.0 L288.7 799.1 L287.4 800.1 L287.9 801.7 L286.5 800.8 L285.2 801.7 L285.6 800.1 L284.3 799.1 L286.0 799.0 Z" fill="#111"/><path d="M297.6 799.4 L298.2 800.9 L299.8 801.0 L298.5 802.0 L299.0 803.6 L297.6 802.7 L296.3 803.6 L296.7 802.0 L295.4 801.0 L297.0 800.9 Z" fill="#111"/><path d="M270.4 805.5 L270.9 807.0 L272.5 807.1 L271.3 808.1 L271.7 809.7 L270.4 808.8 L269.0 809.7 L269.4 808.1 L268.2 807.1 L269.8 807.0 Z" fill="#111"/><path d="M285.6 805.5 L286.2 807.0 L287.8 807.1 L286.5 808.1 L286.9 809.7 L285.6 808.8 L284.2 809.7 L284.7 808.1 L283.4 807.1 L285.0 807.0 Z" fill="#111"/>
<rect x="321.0" y="804.0" width="40.0" height="1.4" fill="#000"/><rect x="322.4" y="804.0" width="6.8" height="5.3" fill="#000"/><rect x="332.5" y="804.0" width="6.8" height="5.3" fill="#000"/><rect x="342.7" y="804.0" width="6.8" height="5.3" fill="#000"/><rect x="352.8" y="804.0" width="6.8" height="5.3" fill="#000"/>
<path d="M252.0 876.5 H289.0 M252.0 879.2 H289.0 M252.0 882.1 H289.0 M252.0 885.0 H289.0 M252.0 888.6 H289.0 M252.0 892.5 H289.0" fill="none" stroke="#505050" stroke-width="1.15"/>
<path d="M312.0 877.5 H358.3 M312.0 893.5 H358.3" stroke="#808080" stroke-width="1.3" fill="none"/><path d="M318.0 878.0 Q316.6 883.8 312.0 887.2 M312.0 890.6 Q325.9 886.4 332.4 878.0 M319.4 878.0 Q330.5 886.4 349.0 889.8 M348.1 878.0 Q346.3 886.4 336.1 893.0 M327.3 885.5 Q329.6 888.9 335.1 893.0 M349.0 889.8 H358.3 M349.0 893.0 Q350.0 890.6 353.7 889.8" fill="none" stroke="#111" stroke-width="0.75"/><path d="M319.4 881.5 L320.0 883.0 L321.6 883.1 L320.3 884.1 L320.8 885.7 L319.4 884.8 L318.1 885.7 L318.5 884.1 L317.2 883.1 L318.8 883.0 Z" fill="#111"/><path d="M339.8 879.8 L340.3 881.3 L342.0 881.4 L340.7 882.4 L341.1 884.0 L339.8 883.1 L338.4 884.0 L338.9 882.4 L337.6 881.4 L339.2 881.3 Z" fill="#111"/><path d="M350.9 881.8 L351.5 883.4 L353.1 883.4 L351.8 884.4 L352.2 886.0 L350.9 885.1 L349.5 886.0 L350.0 884.4 L348.7 883.4 L350.3 883.4 Z" fill="#111"/><path d="M323.6 888.3 L324.1 889.8 L325.8 889.9 L324.5 890.9 L324.9 892.5 L323.6 891.6 L322.2 892.5 L322.7 890.9 L321.4 889.9 L323.0 889.8 Z" fill="#111"/><path d="M338.9 888.3 L339.4 889.8 L341.0 889.9 L339.8 890.9 L340.2 892.5 L338.9 891.6 L337.5 892.5 L337.9 890.9 L336.7 889.9 L338.3 889.8 Z" fill="#111"/>
<path d="M289.0 909.0 C291.9 909.0 293.4 906.8 296.4 907.4 S300.8 909.0 303.7 907.0 M305.4 909.0 C308.4 909.0 309.9 906.8 312.8 907.4 S317.2 909.0 320.1 907.0 M294.9 915.3 C297.9 915.3 299.4 913.0 302.3 913.6 S306.7 915.3 309.6 913.3 M311.4 915.3 C314.3 915.3 315.8 913.0 318.8 913.6 S323.2 915.3 326.1 913.3 M289.0 921.5 C291.9 921.5 293.4 919.3 296.4 919.9 S300.8 921.5 303.7 919.5 M305.4 921.5 C308.4 921.5 309.9 919.3 312.8 919.9 S317.2 921.5 320.1 919.5" fill="none" stroke="#111" stroke-width="1.25" stroke-linecap="round"/>
<path d="M266.8 967.5 H303.7 M266.8 970.2 H303.7 M266.8 973.1 H303.7 M266.8 976.0 H303.7 M266.8 979.6 H303.7 M266.8 983.5 H303.7" fill="none" stroke="#505050" stroke-width="1.15"/>
<path d="M314.3 971.7 Q331.2 969.4 348.2 968.5 M314.3 975.2 Q338.1 972.6 362.0 971.2 M314.3 978.9 Q338.1 976.2 362.0 974.7 M314.3 982.4 Q338.1 979.5 362.0 977.9 M327.7 970.2 Q344.8 972.7 362.0 974.2 M328.6 973.8 Q345.3 976.1 362.0 977.4 M331.0 977.6 Q346.5 979.7 362.0 980.8 M335.8 983.2 Q348.9 982.2 362.0 982.9" fill="none" stroke="#1a1a1a" stroke-width="1.0" stroke-linecap="round"/>
<path d="M279.3 1008.5 C282.2 1008.5 283.7 1006.4 286.6 1006.9 S291.0 1008.5 293.9 1006.6 M295.6 1008.5 C298.5 1008.5 300.0 1006.4 302.9 1006.9 S307.3 1008.5 310.2 1006.6 M285.2 1014.5 C288.1 1014.5 289.6 1012.4 292.5 1012.9 S296.9 1014.5 299.8 1012.6 M301.5 1014.5 C304.4 1014.5 305.9 1012.4 308.8 1012.9 S313.2 1014.5 316.1 1012.6 M279.3 1020.5 C282.2 1020.5 283.7 1018.4 286.6 1018.9 S291.0 1020.5 293.9 1018.6 M295.6 1020.5 C298.5 1020.5 300.0 1018.4 302.9 1018.9 S307.3 1020.5 310.2 1018.6" fill="none" stroke="#111" stroke-width="1.25" stroke-linecap="round"/>
<path d="M329.6 1013.9 L351.7 1009.6 M322.9 1006.3 L330.0 1021.4 M326.4 1006.3 L334.4 1021.4 M324.9 1021.4 L334.0 1006.6 M331.2 1011.2 L335.9 1006.6 M337.7 1012.3 L340.3 1006.6 M341.5 1011.6 L344.1 1006.6 M345.3 1010.9 L347.9 1006.6 M349.1 1010.2 L351.7 1006.6 M332.0 1014.5 Q332.8 1018.6 334.7 1021.4 M335.5 1013.8 Q336.2 1018.6 338.2 1021.4 M338.9 1013.2 Q339.7 1018.6 341.7 1021.4 M342.4 1012.5 Q343.2 1018.6 345.2 1021.4 M345.9 1011.8 Q346.7 1018.6 348.6 1021.4 M349.4 1011.2 Q350.1 1018.6 352.1 1021.4 M347.4 1011.5 L358.1 1006.2 L361.6 1020.9 Z M356.1 1007.3 L357.3 1018.7 M353.1 1009.0 L353.7 1016.5" fill="none" stroke="#111" stroke-width="0.85" stroke-linejoin="round"/></g>
<path d="M48.90 1.9 V1081.0" stroke="#000" stroke-width="1.6" fill="none"/>
<path d="M71.70 1.9 V1081.0" stroke="#000" stroke-width="1.4" fill="none"/>
<path d="M163.00 1.9 V1081.0" stroke="#000" stroke-width="1.6" fill="none"/>
<path d="M191.30 29.7 V1081.0" stroke="#000" stroke-width="1.5" fill="none"/>
<path d="M367.40 29.7 V1081.0" stroke="#000" stroke-width="1.5" fill="none"/>
<path d="M425.60 1.9 V1081.0" stroke="#000" stroke-width="1.6" fill="none"/>
<path d="M643.70 1.9 V1081.0" stroke="#000" stroke-width="1.6" fill="none"/>
<path d="M552.40 29.7 V73.2" stroke="#000" stroke-width="1.4" fill="none"/>
<path d="M2.1 73.20 H744.3" stroke="#000" stroke-width="1.6" fill="none"/>
<path d="M163.0 29.70 H643.7" stroke="#000" stroke-width="1.5" fill="none"/>
<path d="M71.7 50.5 H163.0 M552.4 51 H643.7" stroke="#000" stroke-width="1" fill="none"/>
<path d="M48.9 187.50 H744.3" stroke="#000" stroke-width="1.7" fill="none"/>
<path d="M48.9 354.90 H744.3" stroke="#000" stroke-width="1.7" fill="none"/>
<path d="M48.9 515.65 H643.7" stroke="#000" stroke-width="1.7" fill="none"/>
<path d="M48.9 712.65 H744.3" stroke="#000" stroke-width="1.7" fill="none"/>
<path d="M48.9 843.90 H744.3" stroke="#000" stroke-width="1.7" fill="none"/>
<path d="M48.9 960.75 H744.3" stroke="#000" stroke-width="1.7" fill="none"/>
<path d="M210.2 66 V73.2 M229.6 66 V73.2 M248.5 66 V73.2 M267.4 66 V73.2" stroke="#000" stroke-width="1" fill="none"/>
<rect x="52" y="87.1" width="16.6" height="9" fill="#fff"/>
<text x="60" y="94.9" font-size="9" text-anchor="middle" textLength="14.8" lengthAdjust="spacingAndGlyphs">220</text>
<rect x="52" y="142.4" width="16.6" height="9" fill="#fff"/>
<text x="60" y="150.2" font-size="9" text-anchor="middle" textLength="14.8" lengthAdjust="spacingAndGlyphs">250</text>
<rect x="52" y="234.6" width="16.6" height="9" fill="#fff"/>
<text x="60" y="242.4" font-size="9" text-anchor="middle" textLength="14.8" lengthAdjust="spacingAndGlyphs">300</text>
<rect x="52" y="326.8" width="16.6" height="9" fill="#fff"/>
<text x="60" y="334.6" font-size="9" text-anchor="middle" textLength="14.8" lengthAdjust="spacingAndGlyphs">350</text>
<rect x="52" y="418.9" width="16.6" height="9" fill="#fff"/>
<text x="60" y="426.7" font-size="9" text-anchor="middle" textLength="14.8" lengthAdjust="spacingAndGlyphs">400</text>
<rect x="52" y="511.1" width="16.6" height="9" fill="#fff"/>
<text x="60" y="518.9" font-size="9" text-anchor="middle" textLength="14.8" lengthAdjust="spacingAndGlyphs">450</text>
<rect x="52" y="603.3" width="16.6" height="9" fill="#fff"/>
<text x="60" y="611.1" font-size="9" text-anchor="middle" textLength="14.8" lengthAdjust="spacingAndGlyphs">500</text>
<rect x="52" y="695.4" width="16.6" height="9" fill="#fff"/>
<text x="60" y="703.2" font-size="9" text-anchor="middle" textLength="14.8" lengthAdjust="spacingAndGlyphs">550</text>
<rect x="52" y="787.6" width="16.6" height="9" fill="#fff"/>
<text x="60" y="795.4" font-size="9" text-anchor="middle" textLength="14.8" lengthAdjust="spacingAndGlyphs">600</text>
<rect x="52" y="879.8" width="16.6" height="9" fill="#fff"/>
<text x="60" y="887.6" font-size="9" text-anchor="middle" textLength="14.8" lengthAdjust="spacingAndGlyphs">650</text>
<rect x="52" y="972.0" width="16.6" height="9" fill="#fff"/>
<text x="60" y="979.8" font-size="9" text-anchor="middle" textLength="14.8" lengthAdjust="spacingAndGlyphs">700</text>
<rect x="52" y="1064.2" width="16.6" height="9" fill="#fff"/>
<text x="60" y="1072.0" font-size="9" text-anchor="middle" textLength="14.8" lengthAdjust="spacingAndGlyphs">750</text>
<clipPath id="fr"><rect x="2.1" y="0" width="742.2" height="1106"/></clipPath>
<g clip-path="url(#fr)"><path d="M-4.30 101.90 L0.10 105.10 L4.50 101.90 L8.90 105.10 L13.30 101.90 L17.70 105.10 L22.10 101.90 L26.50 105.10 L30.90 101.90 L35.30 105.10 L39.70 101.90 L44.10 105.10 L48.50 101.90 L52.90 105.10 L57.30 101.90 L61.70 105.10 L66.10 101.90 L70.50 105.10 L74.90 101.90 L79.30 105.10 L83.70 101.90 L88.10 105.10 L92.50 101.90 L96.90 105.10 L101.30 101.90 L105.70 105.10 L110.10 101.90 L114.50 105.10 L118.90 101.90 L123.30 105.10 L127.70 101.90 L132.10 105.10 L136.50 101.90 L140.90 105.10 L145.30 101.90 L149.70 105.10 L154.10 101.90 L158.50 105.10 L162.90 101.90 L167.30 105.10 L171.70 101.90 L176.10 105.10 L180.50 101.90 L184.90 105.10 L189.30 101.90 L193.70 105.10 L198.10 101.90 L202.50 105.10 L206.90 101.90 L211.30 105.10 L215.70 101.90 L220.10 105.10 L224.50 101.90 L228.90 105.10 L233.30 101.90 L237.70 105.10 L242.10 101.90 L246.50 105.10 L250.90 101.90 L255.30 105.10 L259.70 101.90 L264.10 105.10 L268.50 101.90 L272.90 105.10 L277.30 101.90 L281.70 105.10 L286.10 101.90 L290.50 105.10 L294.90 101.90 L299.30 105.10 L303.70 101.90 L308.10 105.10 L312.50 101.90 L316.90 105.10 L321.30 101.90 L325.70 105.10 L330.10 101.90 L334.50 105.10 L338.90 101.90 L343.30 105.10 L347.70 101.90 L352.10 105.10 L356.50 101.90 L360.90 105.10 L365.30 101.90 L369.70 105.10 L374.10 101.90 L378.50 105.10 L382.90 101.90 L387.30 105.10 L391.70 101.90 L396.10 105.10 L400.50 101.90 L404.90 105.10 L409.30 101.90 L413.70 105.10 L418.10 101.90 L422.50 105.10 L426.90 101.90 L431.30 105.10 L435.70 101.90 L440.10 105.10 L444.50 101.90 L448.90 105.10 L453.30 101.90 L457.70 105.10 L462.10 101.90 L466.50 105.10 L470.90 101.90 L475.30 105.10 L479.70 101.90 L484.10 105.10 L488.50 101.90 L492.90 105.10 L497.30 101.90 L501.70 105.10 L506.10 101.90 L510.50 105.10 L514.90 101.90 L519.30 105.10 L523.70 101.90 L528.10 105.10 L532.50 101.90 L536.90 105.10 L541.30 101.90 L545.70 105.10 L550.10 101.90 L554.50 105.10 L558.90 101.90 L563.30 105.10 L567.70 101.90 L572.10 105.10 L576.50 101.90 L580.90 105.10 L585.30 101.90 L589.70 105.10 L594.10 101.90 L598.50 105.10 L602.90 101.90 L607.30 105.10 L611.70 101.90 L616.10 105.10 L620.50 101.90 L624.90 105.10 L629.30 101.90 L633.70 105.10 L638.10 101.90 L642.50 105.10 L646.90 101.90 L651.30 105.10 L655.70 101.90 L660.10 105.10 L664.50 101.90 L668.90 105.10 L673.30 101.90 L677.70 105.10 L682.10 101.90 L686.50 105.10 L690.90 101.90 L695.30 105.10 L699.70 101.90 L704.10 105.10 L708.50 101.90 L712.90 105.10 L717.30 101.90 L721.70 105.10 L726.10 101.90 L730.50 105.10 L734.90 101.90 L739.30 105.10 L743.70 101.90 L748.10 105.10 L752.50 101.90 L756.90 105.10" stroke="#000" stroke-width="2.3" fill="none" stroke-linejoin="miter"/><path d="M-5.62 1079.40 L-1.21 1082.60 L3.20 1079.40 L7.61 1082.60 L12.02 1079.40 L16.43 1082.60 L20.84 1079.40 L25.25 1082.60 L29.66 1079.40 L34.07 1082.60 L38.48 1079.40 L42.89 1082.60 L47.30 1079.40 L51.71 1082.60 L56.12 1079.40 L60.53 1082.60 L64.94 1079.40 L69.35 1082.60 L73.76 1079.40 L78.17 1082.60 L82.58 1079.40 L86.99 1082.60 L91.40 1079.40 L95.81 1082.60 L100.22 1079.40 L104.63 1082.60 L109.04 1079.40 L113.45 1082.60 L117.86 1079.40 L122.27 1082.60 L126.68 1079.40 L131.09 1082.60 L135.50 1079.40 L139.91 1082.60 L144.32 1079.40 L148.73 1082.60 L153.14 1079.40 L157.55 1082.60 L161.96 1079.40 L166.37 1082.60 L170.78 1079.40 L175.19 1082.60 L179.60 1079.40 L184.01 1082.60 L188.42 1079.40 L192.83 1082.60 L197.24 1079.40 L201.65 1082.60 L206.06 1079.40 L210.47 1082.60 L214.88 1079.40 L219.29 1082.60 L223.70 1079.40 L228.11 1082.60 L232.52 1079.40 L236.93 1082.60 L241.34 1079.40 L245.75 1082.60 L250.16 1079.40 L254.57 1082.60 L258.98 1079.40 L263.39 1082.60 L267.80 1079.40 L272.21 1082.60 L276.62 1079.40 L281.03 1082.60 L285.44 1079.40 L289.85 1082.60 L294.26 1079.40 L298.67 1082.60 L303.08 1079.40 L307.49 1082.60 L311.90 1079.40 L316.31 1082.60 L320.72 1079.40 L325.13 1082.60 L329.54 1079.40 L333.95 1082.60 L338.36 1079.40 L342.77 1082.60 L347.18 1079.40 L351.59 1082.60 L356.00 1079.40 L360.41 1082.60 L364.82 1079.40 L369.23 1082.60 L373.64 1079.40 L378.05 1082.60 L382.46 1079.40 L386.87 1082.60 L391.28 1079.40 L395.69 1082.60 L400.10 1079.40 L404.51 1082.60 L408.92 1079.40 L413.33 1082.60 L417.74 1079.40 L422.15 1082.60 L426.56 1079.40 L430.97 1082.60 L435.38 1079.40 L439.79 1082.60 L444.20 1079.40 L448.61 1082.60 L453.02 1079.40 L457.43 1082.60 L461.84 1079.40 L466.25 1082.60 L470.66 1079.40 L475.07 1082.60 L479.48 1079.40 L483.89 1082.60 L488.30 1079.40 L492.71 1082.60 L497.12 1079.40 L501.53 1082.60 L505.94 1079.40 L510.35 1082.60 L514.76 1079.40 L519.17 1082.60 L523.58 1079.40 L527.99 1082.60 L532.40 1079.40 L536.81 1082.60 L541.22 1079.40 L545.63 1082.60 L550.04 1079.40 L554.45 1082.60 L558.86 1079.40 L563.27 1082.60 L567.68 1079.40 L572.09 1082.60 L576.50 1079.40 L580.91 1082.60 L585.32 1079.40 L589.73 1082.60 L594.14 1079.40 L598.55 1082.60 L602.96 1079.40 L607.37 1082.60 L611.78 1079.40 L616.19 1082.60 L620.60 1079.40 L625.01 1082.60 L629.42 1079.40 L633.83 1082.60 L638.24 1079.40 L642.65 1082.60 L647.06 1079.40 L651.47 1082.60 L655.88 1079.40 L660.29 1082.60 L664.70 1079.40 L669.11 1082.60 L673.52 1079.40 L677.93 1082.60 L682.34 1079.40 L686.75 1082.60 L691.16 1079.40 L695.57 1082.60 L699.98 1079.40 L704.39 1082.60 L708.80 1079.40 L713.21 1082.60 L717.62 1079.40 L722.03 1082.60 L726.44 1079.40 L730.85 1082.60 L735.26 1079.40 L739.67 1082.60 L744.08 1079.40 L748.49 1082.60 L752.90 1079.40 L757.31 1082.60" stroke="#000" stroke-width="2.3" fill="none" stroke-linejoin="miter"/></g>
<rect x="2.1" y="1.9" width="742.2" height="1102.1" fill="none" stroke="#000" stroke-width="2.3"/>
<g>
<text x="24.4" y="42.2" font-size="10" text-anchor="middle" textLength="22.8" lengthAdjust="spacingAndGlyphs">UNIT</text>
<text transform="translate(63.6,39.3) rotate(-90)" font-size="10" text-anchor="middle" textLength="59.4" lengthAdjust="spacingAndGlyphs">DEPTHS (m)</text>
<text x="117.6" y="20.1" font-size="10" text-anchor="middle" textLength="87.2" lengthAdjust="spacingAndGlyphs">GAMMA RAY LOG</text>
<text x="73.2" y="49.3" font-size="7.8" text-anchor="start">0</text>
<text x="117.8" y="49.3" font-size="7.8" text-anchor="middle" textLength="19.0" lengthAdjust="spacingAndGlyphs">GAPI</text>
<text x="161.4" y="49.3" font-size="7.8" text-anchor="end">200</text>
<text x="291.4" y="20.9" font-size="11" text-anchor="middle" textLength="115.8" lengthAdjust="spacingAndGlyphs">CORE DESCRIPTION</text>
<text transform="translate(181,51.5) rotate(-90)" font-size="9" text-anchor="middle" textLength="40.5" lengthAdjust="spacingAndGlyphs">Lithology</text>
<text x="279.5" y="51.7" font-size="9.5" text-anchor="middle" textLength="164.3" lengthAdjust="spacingAndGlyphs">Grain size and sedimentary structures</text>
<text x="210.1" y="64.2" font-size="7.6" text-anchor="middle">sh</text>
<text x="232.3" y="64.2" font-size="7.6" text-anchor="middle">s</text>
<text x="253.2" y="64.2" font-size="7.6" text-anchor="middle">f</text>
<text x="263.2" y="64.2" font-size="7.6" text-anchor="middle">m</text>
<text x="272.4" y="64.2" font-size="7.6" text-anchor="middle">c</text>
<text x="397.4" y="52.1" font-size="9" text-anchor="middle" textLength="47.8" lengthAdjust="spacingAndGlyphs">Core facies</text>
<text x="533.8" y="21.0" font-size="11.2" text-anchor="middle" textLength="96.6" lengthAdjust="spacingAndGlyphs">ELECTROFACIES</text>
<text x="554.3" y="50.0" font-size="7.6" text-anchor="start">0</text>
<text x="598.4" y="50.1" font-size="7.6" text-anchor="middle" textLength="18.5" lengthAdjust="spacingAndGlyphs">GAPI</text>
<text x="641.2" y="50.0" font-size="7.6" text-anchor="end">200</text>
<text x="694.8" y="26.3" font-size="11.4" text-anchor="middle" textLength="86.9" lengthAdjust="spacingAndGlyphs">DEPOSITIONAL</text>
<text x="694.8" y="52.2" font-size="11.4" text-anchor="middle" textLength="84.7" lengthAdjust="spacingAndGlyphs">ENVIRONMENT</text>
<text transform="translate(30.9,605) rotate(-90)" font-size="10" text-anchor="middle" textLength="270" lengthAdjust="spacing" xml:space="preserve">SNAKE  CAVE  INTERVAL</text>
<path d="M26.4 116 V466 M26.4 742 V1068" stroke="#000" stroke-width="1.5" fill="none"/>
<path d="M26.4 109.3 L31.6 118.3 H21.2 Z M26.4 1074.6 L31.6 1065.8 H21.2 Z" fill="#000"/>
<text x="397.4" y="148.5" font-size="9" text-anchor="middle" textLength="48.9" lengthAdjust="spacingAndGlyphs">Facies MS7</text>
<text x="397.4" y="269.1" font-size="9" text-anchor="middle" textLength="48.9" lengthAdjust="spacingAndGlyphs">Facies MS6</text>
<text x="397.4" y="438.7" font-size="9" text-anchor="middle" textLength="48.9" lengthAdjust="spacingAndGlyphs">Facies MS5</text>
<text x="397.4" y="618.7" font-size="9" text-anchor="middle" textLength="48.9" lengthAdjust="spacingAndGlyphs">Facies MS4</text>
<text x="397.4" y="780.5" font-size="9" text-anchor="middle" textLength="48.9" lengthAdjust="spacingAndGlyphs">Facies MS3</text>
<text x="397.4" y="908.5" font-size="9" text-anchor="middle" textLength="48.9" lengthAdjust="spacingAndGlyphs">Facies MS2</text>
<text x="397.4" y="1023.5" font-size="9" text-anchor="middle" textLength="48.9" lengthAdjust="spacingAndGlyphs">Facies MS1</text>
<text x="493.4" y="129.5" font-size="9" text-anchor="middle" textLength="69.2" lengthAdjust="spacingAndGlyphs">Electrofacies SF</text>
<text x="492.5" y="150.3" font-size="9" text-anchor="middle" textLength="119.0" lengthAdjust="spacingAndGlyphs">(Distributary channel sands</text>
<text x="491.6" y="170.4" font-size="9" text-anchor="middle" textLength="116.3" lengthAdjust="spacingAndGlyphs">and local small delta-plain)</text>
<text x="497.4" y="248.0" font-size="9" text-anchor="middle" textLength="71.2" lengthAdjust="spacingAndGlyphs">Electrofacies SC</text>
<text x="502.0" y="268.3" font-size="9" text-anchor="middle" textLength="122.0" lengthAdjust="spacingAndGlyphs">(Crevasse splay sandstones</text>
<text x="499.8" y="288.4" font-size="9" text-anchor="middle" textLength="92.2" lengthAdjust="spacingAndGlyphs">and flood-plain fines)</text>
<text x="501.2" y="431.0" font-size="9" text-anchor="middle" textLength="65.5" lengthAdjust="spacingAndGlyphs">Electrofacie SE</text>
<text x="499.8" y="451.0" font-size="9" text-anchor="middle" textLength="123.3" lengthAdjust="spacingAndGlyphs">(Sandy braided channel-fills)</text>
<text x="493.9" y="607.1" font-size="9" text-anchor="middle" textLength="71.4" lengthAdjust="spacingAndGlyphs">Electrofacies SD</text>
<text x="499.8" y="627.9" font-size="9" text-anchor="middle" textLength="138.0" lengthAdjust="spacingAndGlyphs">(Multistorey fluvial channel-fills)</text>
<text x="493.6" y="756.5" font-size="9" text-anchor="middle" textLength="71.3" lengthAdjust="spacingAndGlyphs">Electrofacies SC</text>
<text x="498.2" y="777.2" font-size="9" text-anchor="middle" textLength="121.5" lengthAdjust="spacingAndGlyphs">(Crevasse splay sandstones</text>
<text x="495.6" y="797.3" font-size="9" text-anchor="middle" textLength="91.8" lengthAdjust="spacingAndGlyphs">and flood-plain fines)</text>
<text x="494.7" y="896.3" font-size="9" text-anchor="middle" textLength="70.8" lengthAdjust="spacingAndGlyphs">Electrofacies SB</text>
<text x="494.9" y="917.5" font-size="9" text-anchor="middle" textLength="116.7" lengthAdjust="spacingAndGlyphs">(Channel lag and point bar)</text>
<text x="494.7" y="999.5" font-size="9" text-anchor="middle" textLength="70.8" lengthAdjust="spacingAndGlyphs">Electrofacies SA</text>
<text x="492.6" y="1019.8" font-size="9" text-anchor="middle" textLength="101.4" lengthAdjust="spacingAndGlyphs">(Conglomeratic braided</text>
<text x="492.8" y="1040.3" font-size="9" text-anchor="middle" textLength="51.1" lengthAdjust="spacingAndGlyphs">channel-fill)</text>
<path d="M693.3 366 V703 M693.3 722 V950" stroke="#000" stroke-width="1.5" fill="none"/>
<path d="M693.3 360.5 L698.0 369.3 H688.6 Z M693.3 708.4 L698.0 699.6 H688.6 Z M693.3 716.6 L698.0 725.4 H688.6 Z M693.3 955.7 L698.0 946.9 H688.6 Z" fill="#000"/>
<rect x="648.2" y="133.8" width="90.9" height="10.5" fill="#fff"/><text x="693.6" y="142.7" font-size="10.2" text-anchor="middle" textLength="90.3" lengthAdjust="spacingAndGlyphs">Braided-Deltaplain</text>
<rect x="671.5" y="157.6" width="43.0" height="10.5" fill="#fff"/><text x="693.0" y="166.5" font-size="10.2" text-anchor="middle" textLength="42.4" lengthAdjust="spacingAndGlyphs">Complex</text>
<path d="M645.5 139 l1.8 -2.2 l1.8 2.2 l-1.8 2.2Z M738.6 139 l1.8 -2.2 l1.8 2.2 l-1.8 2.2Z M668.6 162.8 l1.8 -2.2 l1.8 2.2 l-1.8 2.2Z M714 162.8 l1.8 -2.2 l1.8 2.2 l-1.8 2.2Z" fill="#000"/>
<rect x="646.7" y="266.3" width="95.1" height="9.4" fill="#fff"/><text x="694.2" y="274.7" font-size="10.2" text-anchor="middle" textLength="93.9" lengthAdjust="spacingAndGlyphs">Meandering Fluvial</text>
<rect x="657.6" y="508.6" width="74.2" height="9.4" fill="#fff"/><text x="694.7" y="517.0" font-size="10.2" text-anchor="middle" textLength="73.0" lengthAdjust="spacingAndGlyphs">Braided Fluvial</text>
<rect x="646.7" y="822.9" width="95.1" height="9.4" fill="#fff"/><text x="694.2" y="831.3" font-size="10.2" text-anchor="middle" textLength="93.9" lengthAdjust="spacingAndGlyphs">Meandering Fluvial</text>
<rect x="656.7" y="1013.9" width="75.5" height="9.4" fill="#fff"/><text x="694.5" y="1022.3" font-size="10.2" text-anchor="middle" textLength="74.3" lengthAdjust="spacingAndGlyphs">Braided Fluvial</text>
</g>
</svg></body></html>
